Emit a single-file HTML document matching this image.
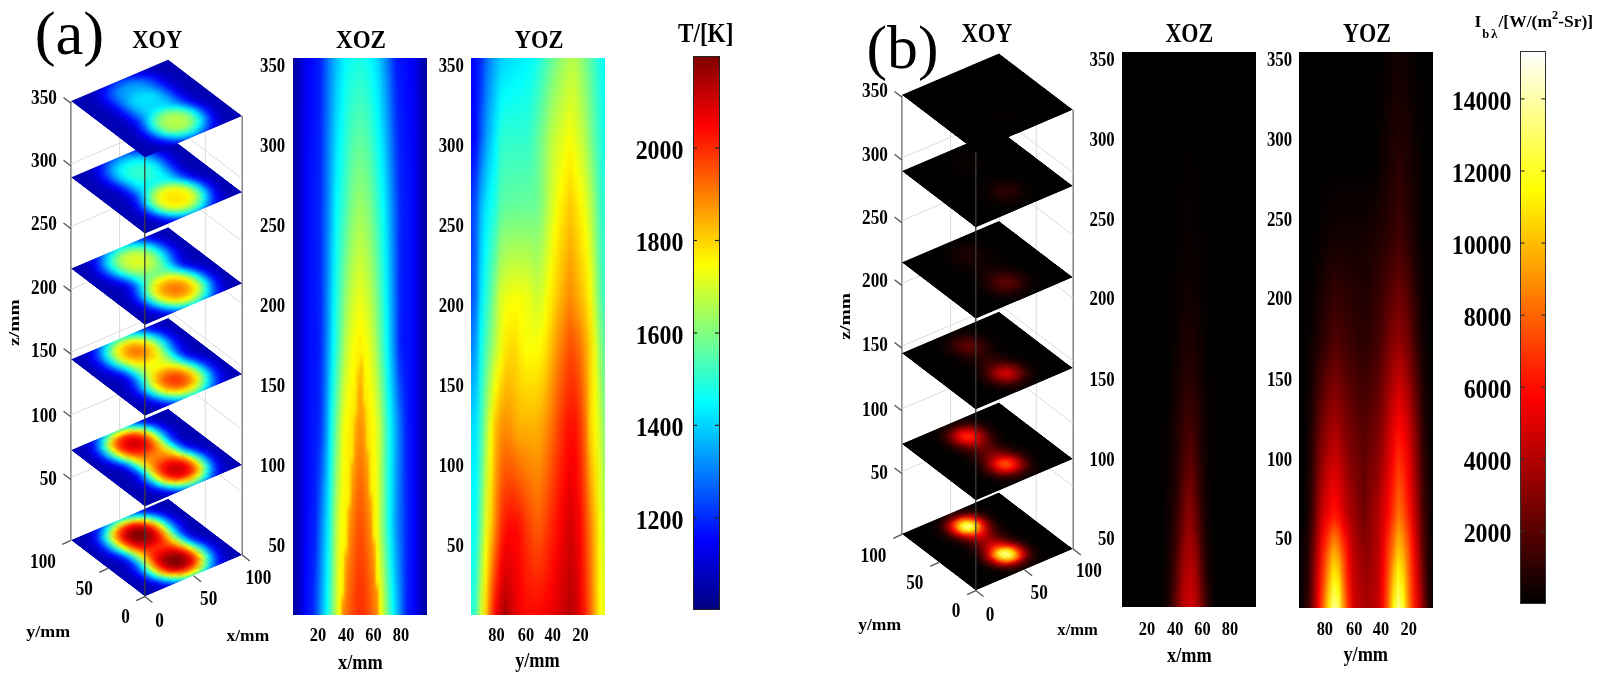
<!DOCTYPE html>
<html><head><meta charset="utf-8"><style>
html,body{margin:0;padding:0;background:#fff;overflow:hidden}
#fig{position:relative;width:1600px;height:682px;overflow:hidden;background:#fff}
.hm{position:absolute;overflow:hidden}
.hm i{position:absolute;left:0;width:100%;display:block}
.sl{left:0;top:0;width:100px;height:100px;transform-origin:0 0}
.cb{position:absolute}
svg{position:absolute;left:0;top:0}
</style></head><body><div id="fig">
<svg width="1600" height="682" style="z-index:0;filter:blur(0.4px)"><line x1="70.90" y1="101.20" x2="70.90" y2="540.30" stroke="#7a7a7a" stroke-width="1.40"/><line x1="242.20" y1="116.00" x2="242.20" y2="555.10" stroke="#7a7a7a" stroke-width="1.40"/><line x1="70.90" y1="477.57" x2="168.30" y2="436.07" stroke="#dcdcdc" stroke-width="1.00"/><line x1="168.30" y1="436.07" x2="242.20" y2="492.37" stroke="#dcdcdc" stroke-width="1.00"/><line x1="70.90" y1="414.84" x2="168.30" y2="373.34" stroke="#dcdcdc" stroke-width="1.00"/><line x1="168.30" y1="373.34" x2="242.20" y2="429.64" stroke="#dcdcdc" stroke-width="1.00"/><line x1="70.90" y1="352.11" x2="168.30" y2="310.61" stroke="#dcdcdc" stroke-width="1.00"/><line x1="168.30" y1="310.61" x2="242.20" y2="366.91" stroke="#dcdcdc" stroke-width="1.00"/><line x1="70.90" y1="289.39" x2="168.30" y2="247.89" stroke="#dcdcdc" stroke-width="1.00"/><line x1="168.30" y1="247.89" x2="242.20" y2="304.19" stroke="#dcdcdc" stroke-width="1.00"/><line x1="70.90" y1="226.66" x2="168.30" y2="185.16" stroke="#dcdcdc" stroke-width="1.00"/><line x1="168.30" y1="185.16" x2="242.20" y2="241.46" stroke="#dcdcdc" stroke-width="1.00"/><line x1="70.90" y1="163.93" x2="168.30" y2="122.43" stroke="#dcdcdc" stroke-width="1.00"/><line x1="168.30" y1="122.43" x2="242.20" y2="178.73" stroke="#dcdcdc" stroke-width="1.00"/><line x1="70.90" y1="101.20" x2="168.30" y2="59.70" stroke="#dcdcdc" stroke-width="1.00"/><line x1="168.30" y1="59.70" x2="242.20" y2="116.00" stroke="#dcdcdc" stroke-width="1.00"/><line x1="119.60" y1="80.45" x2="119.60" y2="519.55" stroke="#dcdcdc" stroke-width="1.00"/><line x1="205.25" y1="87.85" x2="205.25" y2="526.95" stroke="#dcdcdc" stroke-width="1.00"/><line x1="168.30" y1="59.70" x2="168.30" y2="498.80" stroke="#dcdcdc" stroke-width="1.00"/><line x1="901.90" y1="95.20" x2="901.90" y2="534.30" stroke="#7a7a7a" stroke-width="1.40"/><line x1="1073.20" y1="110.00" x2="1073.20" y2="549.10" stroke="#7a7a7a" stroke-width="1.40"/><line x1="901.90" y1="471.57" x2="999.30" y2="430.07" stroke="#dcdcdc" stroke-width="1.00"/><line x1="999.30" y1="430.07" x2="1073.20" y2="486.37" stroke="#dcdcdc" stroke-width="1.00"/><line x1="901.90" y1="408.84" x2="999.30" y2="367.34" stroke="#dcdcdc" stroke-width="1.00"/><line x1="999.30" y1="367.34" x2="1073.20" y2="423.64" stroke="#dcdcdc" stroke-width="1.00"/><line x1="901.90" y1="346.11" x2="999.30" y2="304.61" stroke="#dcdcdc" stroke-width="1.00"/><line x1="999.30" y1="304.61" x2="1073.20" y2="360.91" stroke="#dcdcdc" stroke-width="1.00"/><line x1="901.90" y1="283.39" x2="999.30" y2="241.89" stroke="#dcdcdc" stroke-width="1.00"/><line x1="999.30" y1="241.89" x2="1073.20" y2="298.19" stroke="#dcdcdc" stroke-width="1.00"/><line x1="901.90" y1="220.66" x2="999.30" y2="179.16" stroke="#dcdcdc" stroke-width="1.00"/><line x1="999.30" y1="179.16" x2="1073.20" y2="235.46" stroke="#dcdcdc" stroke-width="1.00"/><line x1="901.90" y1="157.93" x2="999.30" y2="116.43" stroke="#dcdcdc" stroke-width="1.00"/><line x1="999.30" y1="116.43" x2="1073.20" y2="172.73" stroke="#dcdcdc" stroke-width="1.00"/><line x1="901.90" y1="95.20" x2="999.30" y2="53.70" stroke="#dcdcdc" stroke-width="1.00"/><line x1="999.30" y1="53.70" x2="1073.20" y2="110.00" stroke="#dcdcdc" stroke-width="1.00"/><line x1="950.60" y1="74.45" x2="950.60" y2="513.55" stroke="#dcdcdc" stroke-width="1.00"/><line x1="1036.25" y1="81.85" x2="1036.25" y2="520.95" stroke="#dcdcdc" stroke-width="1.00"/><line x1="999.30" y1="53.70" x2="999.30" y2="492.80" stroke="#dcdcdc" stroke-width="1.00"/></svg>
<div class="hm sl" style="transform:matrix(0.9740,-0.4150,-0.7390,-0.5630,144.90,596.60)"><i style="top:0;height:5.26px;background:linear-gradient(90deg,#0000b3 0.0%,#0000b3 4.8%,#0000b4 9.5%,#0000ba 14.3%,#0000cc 19.0%,#0000f3 23.8%,#0033ff 28.6%,#0083ff 33.3%,#00d6ff 38.1%,#1bffe4 42.9%,#44ffbb 47.6%,#4bffb4 52.4%,#30ffcf 57.1%,#00f5ff 61.9%,#00a7ff 66.7%,#0053ff 71.4%,#000bff 76.2%,#0000d9 81.0%,#0000bf 85.7%,#0000b6 90.5%,#0000b3 95.2%,#0000b3 100.0%)"></i><i style="top:0.00px;height:10.02px;background:linear-gradient(90deg,#0000b3 0.0%,#0000b3 4.8%,#0000b7 9.5%,#0000c4 14.3%,#0000e8 19.0%,#002fff 23.8%,#0095ff 28.6%,#0cfff3 33.3%,#7cff83 38.1%,#d2ff2d 42.9%,#fffb00 47.6%,#fff200 52.4%,#ecff13 57.1%,#a4ff5b 61.9%,#3dffc2 66.7%,#00c6ff 71.4%,#0056ff 76.2%,#0002ff 81.0%,#0000d0 85.7%,#0000ba 90.5%,#0000b4 95.2%,#0000b3 100.0%);-webkit-mask-image:linear-gradient(transparent,#000 50%);mask-image:linear-gradient(transparent,#000 50%)"></i><i style="top:4.76px;height:10.02px;background:linear-gradient(90deg,#0000b3 0.0%,#0000b4 4.8%,#0000bb 9.5%,#0000d4 14.3%,#0010ff 19.0%,#0078ff 23.8%,#04fffb 28.6%,#98ff67 33.3%,#ffe400 38.1%,#ff8800 42.9%,#ff5600 47.6%,#ff4d00 52.4%,#ff6e00 57.1%,#ffb800 61.9%,#d2ff2d 66.7%,#43ffbc 71.4%,#00afff 76.2%,#0036ff 81.0%,#0000e7 85.7%,#0000c2 90.5%,#0000b6 95.2%,#0000b3 100.0%);-webkit-mask-image:linear-gradient(transparent,#000 50%);mask-image:linear-gradient(transparent,#000 50%)"></i><i style="top:9.52px;height:10.02px;background:linear-gradient(90deg,#0000b3 0.0%,#0000b5 4.8%,#0000c1 9.5%,#0000e6 14.3%,#003aff 19.0%,#00c1ff 23.8%,#69ff96 28.6%,#ffee00 33.3%,#ff6900 38.1%,#ff1100 42.9%,#e40000 47.6%,#dd0000 52.4%,#f90000 57.1%,#ff3e00 61.9%,#ffb100 66.7%,#b1ff4e 71.4%,#06fff9 76.2%,#006dff 81.0%,#0003ff 85.7%,#0000cc 90.5%,#0000b8 95.2%,#0000b3 100.0%);-webkit-mask-image:linear-gradient(transparent,#000 50%);mask-image:linear-gradient(transparent,#000 50%)"></i><i style="top:14.29px;height:10.02px;background:linear-gradient(90deg,#0000b3 0.0%,#0000b6 4.8%,#0000c6 9.5%,#0000f6 14.3%,#005dff 19.0%,#00faff 23.8%,#b4ff4b 28.6%,#ff9d00 33.3%,#ff1b00 38.1%,#ca0000 42.9%,#a30000 47.6%,#9d0000 52.4%,#b60000 57.1%,#f30000 61.9%,#ff6000 66.7%,#fffd00 71.4%,#47ffb8 76.2%,#0099ff 81.0%,#001bff 85.7%,#0000d5 90.5%,#0000bb 95.2%,#0000b4 100.0%);-webkit-mask-image:linear-gradient(transparent,#000 50%);mask-image:linear-gradient(transparent,#000 50%)"></i><i style="top:19.05px;height:10.02px;background:linear-gradient(90deg,#0000b3 0.0%,#0000b7 4.8%,#0000c9 9.5%,#0001ff 14.3%,#0071ff 19.0%,#1affe5 23.8%,#daff25 28.6%,#ff7500 33.3%,#f60000 38.1%,#ab0000 42.9%,#850000 47.6%,#800000 52.4%,#970000 57.1%,#d10000 61.9%,#ff3900 66.7%,#ffd500 71.4%,#6aff95 76.2%,#00b2ff 81.0%,#0028ff 85.7%,#0000da 90.5%,#0000bc 95.2%,#0000b4 100.0%);-webkit-mask-image:linear-gradient(transparent,#000 50%);mask-image:linear-gradient(transparent,#000 50%)"></i><i style="top:23.81px;height:10.02px;background:linear-gradient(90deg,#0000b3 0.0%,#0000b7 4.8%,#0000c9 9.5%,#0001ff 14.3%,#0070ff 19.0%,#19ffe6 23.8%,#dbff24 28.6%,#ff7300 33.3%,#f50000 38.1%,#ab0000 42.9%,#860000 47.6%,#800000 52.4%,#980000 57.1%,#d10000 61.9%,#ff3900 66.7%,#ffd600 71.4%,#69ff96 76.2%,#00b1ff 81.0%,#0028ff 85.7%,#0000da 90.5%,#0000bc 95.2%,#0000b4 100.0%);-webkit-mask-image:linear-gradient(transparent,#000 50%);mask-image:linear-gradient(transparent,#000 50%)"></i><i style="top:28.57px;height:10.02px;background:linear-gradient(90deg,#0000b3 0.0%,#0000b6 4.8%,#0000c6 9.5%,#0000f5 14.3%,#005cff 19.0%,#00fcff 23.8%,#beff41 28.6%,#ff8b00 33.3%,#ff0b00 38.1%,#c10000 42.9%,#a00000 47.6%,#9b0000 52.4%,#b00000 57.1%,#e80000 61.9%,#ff5400 66.7%,#fff600 71.4%,#48ffb7 76.2%,#0097ff 81.0%,#0019ff 85.7%,#0000d4 90.5%,#0000ba 95.2%,#0000b4 100.0%);-webkit-mask-image:linear-gradient(transparent,#000 50%);mask-image:linear-gradient(transparent,#000 50%)"></i><i style="top:33.33px;height:10.02px;background:linear-gradient(90deg,#0000b3 0.0%,#0000b5 4.8%,#0000c0 9.5%,#0000e5 14.3%,#003bff 19.0%,#00d0ff 23.8%,#92ff6d 28.6%,#ffb400 33.3%,#ff3100 38.1%,#e80000 42.9%,#ca0000 47.6%,#c60000 52.4%,#d90000 57.1%,#ff1300 61.9%,#ff8300 66.7%,#d2ff2d 71.4%,#11ffee 76.2%,#006cff 81.0%,#0001ff 85.7%,#0000cb 90.5%,#0000b8 95.2%,#0000b3 100.0%);-webkit-mask-image:linear-gradient(transparent,#000 50%);mask-image:linear-gradient(transparent,#000 50%)"></i><i style="top:38.10px;height:10.02px;background:linear-gradient(90deg,#0000b3 0.0%,#0000b4 4.8%,#0000bb 9.5%,#0000d5 14.3%,#0021ff 19.0%,#00b3ff 23.8%,#73ff8c 28.6%,#ffd700 33.3%,#ff5a00 38.1%,#ff1800 42.9%,#fd0000 47.6%,#fa0000 52.4%,#ff0c00 57.1%,#ff4400 61.9%,#ffb500 66.7%,#9eff61 71.4%,#00dcff 76.2%,#0040ff 81.0%,#0000e7 85.7%,#0000c1 90.5%,#0000b6 95.2%,#0000b3 100.0%);-webkit-mask-image:linear-gradient(transparent,#000 50%);mask-image:linear-gradient(transparent,#000 50%)"></i><i style="top:42.86px;height:10.02px;background:linear-gradient(90deg,#0000b3 0.0%,#0000b3 4.8%,#0000b8 9.5%,#0000d2 14.3%,#001fff 19.0%,#00b1ff 23.8%,#6fff90 28.6%,#ffe100 33.3%,#ff6e00 38.1%,#ff3600 42.9%,#ff2400 47.6%,#ff2300 52.4%,#ff3100 57.1%,#ff6300 61.9%,#ffd000 66.7%,#85ff7a 71.4%,#00c5ff 76.2%,#002dff 81.0%,#0000d8 85.7%,#0000bb 90.5%,#0000b4 95.2%,#0000b3 100.0%);-webkit-mask-image:linear-gradient(transparent,#000 50%);mask-image:linear-gradient(transparent,#000 50%)"></i><i style="top:47.62px;height:10.02px;background:linear-gradient(90deg,#0000b3 0.0%,#0000b4 4.8%,#0000bb 9.5%,#0000d6 14.3%,#0026ff 19.0%,#00bbff 23.8%,#7aff85 28.6%,#ffd700 33.3%,#ff6300 38.1%,#ff2c00 42.9%,#ff1b00 47.6%,#ff1c00 52.4%,#ff2d00 57.1%,#ff6400 61.9%,#ffd400 66.7%,#7eff81 71.4%,#00bfff 76.2%,#0028ff 81.0%,#0000d6 85.7%,#0000ba 90.5%,#0000b3 95.2%,#0000b3 100.0%);-webkit-mask-image:linear-gradient(transparent,#000 50%);mask-image:linear-gradient(transparent,#000 50%)"></i><i style="top:52.38px;height:10.02px;background:linear-gradient(90deg,#0000b3 0.0%,#0000b6 4.8%,#0000c2 9.5%,#0000e9 14.3%,#0042ff 19.0%,#00daff 23.8%,#9cff63 28.6%,#ffb300 33.3%,#ff3c00 38.1%,#ff0000 42.9%,#ea0000 47.6%,#ec0000 52.4%,#ff0600 57.1%,#ff4600 61.9%,#ffc100 66.7%,#8aff75 71.4%,#00c7ff 76.2%,#0030ff 81.0%,#0000dd 85.7%,#0000be 90.5%,#0000b5 95.2%,#0000b3 100.0%);-webkit-mask-image:linear-gradient(transparent,#000 50%);mask-image:linear-gradient(transparent,#000 50%)"></i><i style="top:57.14px;height:10.02px;background:linear-gradient(90deg,#0000b3 0.0%,#0000b8 4.8%,#0000cb 9.5%,#0003ff 14.3%,#006fff 19.0%,#14ffeb 23.8%,#d4ff2b 28.6%,#ff7f00 33.3%,#ff0b00 38.1%,#ce0000 42.9%,#b70000 47.6%,#ba0000 52.4%,#d60000 57.1%,#ff1b00 61.9%,#ff9900 66.7%,#b1ff4e 71.4%,#00edff 76.2%,#0050ff 81.0%,#0000f0 85.7%,#0000c4 90.5%,#0000b6 95.2%,#0000b3 100.0%);-webkit-mask-image:linear-gradient(transparent,#000 50%);mask-image:linear-gradient(transparent,#000 50%)"></i><i style="top:61.90px;height:10.02px;background:linear-gradient(90deg,#0000b4 0.0%,#0000ba 4.8%,#0000d3 9.5%,#0017ff 14.3%,#0095ff 19.0%,#45ffba 23.8%,#fff900 28.6%,#ff5500 33.3%,#e60000 38.1%,#a90000 42.9%,#910000 47.6%,#940000 52.4%,#b40000 57.1%,#f90000 61.9%,#ff7400 66.7%,#daff25 71.4%,#18ffe7 76.2%,#0070ff 81.0%,#0001ff 85.7%,#0000ca 90.5%,#0000b7 95.2%,#0000b3 100.0%);-webkit-mask-image:linear-gradient(transparent,#000 50%);mask-image:linear-gradient(transparent,#000 50%)"></i><i style="top:66.67px;height:10.02px;background:linear-gradient(90deg,#0000b4 0.0%,#0000bb 4.8%,#0000d7 9.5%,#0021ff 14.3%,#00a6ff 19.0%,#5cffa3 23.8%,#ffe100 28.6%,#ff4100 33.3%,#d50000 38.1%,#980000 42.9%,#800000 47.6%,#810000 52.4%,#a40000 57.1%,#eb0000 61.9%,#ff6400 66.7%,#eeff11 71.4%,#2cffd3 76.2%,#007fff 81.0%,#0009ff 85.7%,#0000cd 90.5%,#0000b8 95.2%,#0000b3 100.0%);-webkit-mask-image:linear-gradient(transparent,#000 50%);mask-image:linear-gradient(transparent,#000 50%)"></i><i style="top:71.43px;height:10.02px;background:linear-gradient(90deg,#0000b4 0.0%,#0000ba 4.8%,#0000d5 9.5%,#001dff 14.3%,#009fff 19.0%,#53ffac 23.8%,#ffed00 28.6%,#ff4c00 33.3%,#df0000 38.1%,#a10000 42.9%,#860000 47.6%,#8a0000 52.4%,#ad0000 57.1%,#f50000 61.9%,#ff7000 66.7%,#e3ff1c 71.4%,#23ffdc 76.2%,#0079ff 81.0%,#0006ff 85.7%,#0000cb 90.5%,#0000b8 95.2%,#0000b3 100.0%);-webkit-mask-image:linear-gradient(transparent,#000 50%);mask-image:linear-gradient(transparent,#000 50%)"></i><i style="top:76.19px;height:10.02px;background:linear-gradient(90deg,#0000b3 0.0%,#0000b9 4.8%,#0000cf 9.5%,#000dff 14.3%,#0081ff 19.0%,#27ffd8 23.8%,#ddff22 28.6%,#ff8000 33.3%,#ff0e00 38.1%,#ca0000 42.9%,#ae0000 47.6%,#b20000 52.4%,#d70000 57.1%,#ff2600 61.9%,#ffa500 66.7%,#afff50 71.4%,#00f9ff 76.2%,#005eff 81.0%,#0000f8 85.7%,#0000c7 90.5%,#0000b7 95.2%,#0000b3 100.0%);-webkit-mask-image:linear-gradient(transparent,#000 50%);mask-image:linear-gradient(transparent,#000 50%)"></i><i style="top:80.95px;height:10.02px;background:linear-gradient(90deg,#0000b3 0.0%,#0000b7 4.8%,#0000c6 9.5%,#0000f4 14.3%,#0052ff 19.0%,#00deff 23.8%,#83ff7c 28.6%,#ffdf00 33.3%,#ff6700 38.1%,#ff1d00 42.9%,#fb0000 47.6%,#ff0100 52.4%,#ff2c00 57.1%,#ff8100 61.9%,#faff05 66.7%,#59ffa6 71.4%,#00b7ff 76.2%,#0036ff 81.0%,#0000e5 85.7%,#0000c0 90.5%,#0000b5 95.2%,#0000b3 100.0%);-webkit-mask-image:linear-gradient(transparent,#000 50%);mask-image:linear-gradient(transparent,#000 50%)"></i><i style="top:85.71px;height:10.02px;background:linear-gradient(90deg,#0000b3 0.0%,#0000b5 4.8%,#0000be 9.5%,#0000db 14.3%,#001eff 19.0%,#0088ff 23.8%,#10ffef 28.6%,#9aff65 33.3%,#fff000 38.1%,#ffa200 42.9%,#ff7d00 47.6%,#ff8200 52.4%,#ffb100 57.1%,#f4ff0b 61.9%,#79ff86 66.7%,#00ecff 71.4%,#006aff 76.2%,#0009ff 81.0%,#0000d1 85.7%,#0000ba 90.5%,#0000b4 95.2%,#0000b3 100.0%);-webkit-mask-image:linear-gradient(transparent,#000 50%);mask-image:linear-gradient(transparent,#000 50%)"></i><i style="top:90.48px;height:10.02px;background:linear-gradient(90deg,#0000b3 0.0%,#0000b3 4.8%,#0000b8 9.5%,#0000c7 14.3%,#0000ee 19.0%,#0035ff 23.8%,#0097ff 28.6%,#04fffb 33.3%,#66ff99 38.1%,#adff52 42.9%,#cfff30 47.6%,#caff35 52.4%,#9eff61 57.1%,#4fffb0 61.9%,#00e7ff 66.7%,#007cff 71.4%,#0021ff 76.2%,#0000e2 81.0%,#0000c2 85.7%,#0000b6 90.5%,#0000b3 95.2%,#0000b3 100.0%);-webkit-mask-image:linear-gradient(transparent,#000 50%);mask-image:linear-gradient(transparent,#000 50%)"></i><i style="top:95.24px;height:10.02px;background:linear-gradient(90deg,#0000b3 0.0%,#0000b3 4.8%,#0000b4 9.5%,#0000bb 14.3%,#0000ce 19.0%,#0000f3 23.8%,#002fff 28.6%,#0076ff 33.3%,#00bcff 38.1%,#00f2ff 42.9%,#0ffff0 47.6%,#0bfff4 52.4%,#00e7ff 57.1%,#00acff 61.9%,#0064ff 66.7%,#001eff 71.4%,#0000e8 76.2%,#0000c7 81.0%,#0000b9 85.7%,#0000b4 90.5%,#0000b3 95.2%,#0000b3 100.0%);-webkit-mask-image:linear-gradient(transparent,#000 50%);mask-image:linear-gradient(transparent,#000 50%)"></i></div><div class="hm sl" style="transform:matrix(0.9740,-0.4150,-0.7390,-0.5630,144.90,506.60)"><i style="top:0;height:5.26px;background:linear-gradient(90deg,#0000b3 0.0%,#0000b3 4.8%,#0000b3 9.5%,#0000b3 14.3%,#0000b8 19.0%,#0000c5 23.8%,#0000e4 28.6%,#0017ff 33.3%,#0057ff 38.1%,#0095ff 42.9%,#00c2ff 47.6%,#00d5ff 52.4%,#00caff 57.1%,#00a3ff 61.9%,#0068ff 66.7%,#0027ff 71.4%,#0000ef 76.2%,#0000cb 81.0%,#0000ba 85.7%,#0000b4 90.5%,#0000b3 95.2%,#0000b3 100.0%)"></i><i style="top:0.00px;height:10.02px;background:linear-gradient(90deg,#0000b3 0.0%,#0000b3 4.8%,#0000b3 9.5%,#0000b6 14.3%,#0000c1 19.0%,#0000e0 23.8%,#001fff 28.6%,#0079ff 33.3%,#00deff 38.1%,#3affc5 42.9%,#78ff87 47.6%,#91ff6e 52.4%,#82ff7d 57.1%,#4dffb2 61.9%,#00f8ff 66.7%,#0093ff 71.4%,#0035ff 76.2%,#0000ed 81.0%,#0000c7 85.7%,#0000b7 90.5%,#0000b3 95.2%,#0000b3 100.0%);-webkit-mask-image:linear-gradient(transparent,#000 50%);mask-image:linear-gradient(transparent,#000 50%)"></i><i style="top:4.76px;height:10.02px;background:linear-gradient(90deg,#0000b3 0.0%,#0000b3 4.8%,#0000b4 9.5%,#0000ba 14.3%,#0000d1 19.0%,#000bff 23.8%,#006eff 28.6%,#00f0ff 33.3%,#74ff8b 38.1%,#e1ff1e 42.9%,#ffd800 47.6%,#ffbd00 52.4%,#ffcd00 57.1%,#f7ff08 61.9%,#94ff6b 66.7%,#14ffeb 71.4%,#008eff 76.2%,#0021ff 81.0%,#0000dc 85.7%,#0000be 90.5%,#0000b4 95.2%,#0000b3 100.0%);-webkit-mask-image:linear-gradient(transparent,#000 50%);mask-image:linear-gradient(transparent,#000 50%)"></i><i style="top:9.52px;height:10.02px;background:linear-gradient(90deg,#0000b3 0.0%,#0000b3 4.8%,#0000b5 9.5%,#0000c0 14.3%,#0000e6 19.0%,#003cff 23.8%,#00c2ff 28.6%,#62ff9d 33.3%,#f8ff07 38.1%,#ff9700 42.9%,#ff5500 47.6%,#ff3e00 52.4%,#ff4c00 57.1%,#ff8200 61.9%,#ffe500 66.7%,#8cff73 71.4%,#00eaff 76.2%,#005bff 81.0%,#0000f7 85.7%,#0000c7 90.5%,#0000b6 95.2%,#0000b3 100.0%);-webkit-mask-image:linear-gradient(transparent,#000 50%);mask-image:linear-gradient(transparent,#000 50%)"></i><i style="top:14.29px;height:10.02px;background:linear-gradient(90deg,#0000b3 0.0%,#0000b3 4.8%,#0000b6 9.5%,#0000c7 14.3%,#0000fb 19.0%,#0068ff 23.8%,#08fff7 28.6%,#baff45 33.3%,#ffaa00 38.1%,#ff4100 42.9%,#ff0800 47.6%,#f30000 52.4%,#ff0000 57.1%,#ff2e00 61.9%,#ff8a00 66.7%,#e6ff19 71.4%,#37ffc8 76.2%,#008dff 81.0%,#0012ff 85.7%,#0000d0 90.5%,#0000b9 95.2%,#0000b3 100.0%);-webkit-mask-image:linear-gradient(transparent,#000 50%);mask-image:linear-gradient(transparent,#000 50%)"></i><i style="top:19.05px;height:10.02px;background:linear-gradient(90deg,#0000b3 0.0%,#0000b3 4.8%,#0000b7 9.5%,#0000cc 14.3%,#0009ff 19.0%,#0084ff 23.8%,#32ffcd 28.6%,#ebff14 33.3%,#ff7a00 38.1%,#ff1700 42.9%,#e30000 47.6%,#d10000 52.4%,#db0000 57.1%,#ff0600 61.9%,#ff5b00 66.7%,#ffe600 71.4%,#63ff9c 76.2%,#00adff 81.0%,#0023ff 85.7%,#0000d6 90.5%,#0000ba 95.2%,#0000b4 100.0%);-webkit-mask-image:linear-gradient(transparent,#000 50%);mask-image:linear-gradient(transparent,#000 50%)"></i><i style="top:23.81px;height:10.02px;background:linear-gradient(90deg,#0000b3 0.0%,#0000b3 4.8%,#0000b7 9.5%,#0000cc 14.3%,#000cff 19.0%,#0088ff 23.8%,#39ffc6 28.6%,#f5ff0a 33.3%,#ff7100 38.1%,#ff1000 42.9%,#de0000 47.6%,#cd0000 52.4%,#d70000 57.1%,#ff0100 61.9%,#ff5500 66.7%,#ffe000 71.4%,#69ff96 76.2%,#00b2ff 81.0%,#0026ff 85.7%,#0000d7 90.5%,#0000ba 95.2%,#0000b4 100.0%);-webkit-mask-image:linear-gradient(transparent,#000 50%);mask-image:linear-gradient(transparent,#000 50%)"></i><i style="top:28.57px;height:10.02px;background:linear-gradient(90deg,#0000b3 0.0%,#0000b3 4.8%,#0000b7 9.5%,#0000c9 14.3%,#0002ff 19.0%,#0075ff 23.8%,#22ffdd 28.6%,#e1ff1e 33.3%,#ff8100 38.1%,#ff2000 42.9%,#f00000 47.6%,#e10000 52.4%,#ea0000 57.1%,#ff1600 61.9%,#ff7000 66.7%,#feff01 71.4%,#4affb5 76.2%,#009bff 81.0%,#0019ff 85.7%,#0000d3 90.5%,#0000b9 95.2%,#0000b3 100.0%);-webkit-mask-image:linear-gradient(transparent,#000 50%);mask-image:linear-gradient(transparent,#000 50%)"></i><i style="top:33.33px;height:10.02px;background:linear-gradient(90deg,#0000b3 0.0%,#0000b3 4.8%,#0000b5 9.5%,#0000c3 14.3%,#0000ef 19.0%,#0056ff 23.8%,#00feff 28.6%,#beff41 33.3%,#ffa400 38.1%,#ff4500 42.9%,#ff1800 47.6%,#ff0a00 52.4%,#ff1400 57.1%,#ff4200 61.9%,#ffa500 66.7%,#bfff40 71.4%,#0cfff3 76.2%,#006eff 81.0%,#0001ff 85.7%,#0000ca 90.5%,#0000b7 95.2%,#0000b3 100.0%);-webkit-mask-image:linear-gradient(transparent,#000 50%);mask-image:linear-gradient(transparent,#000 50%)"></i><i style="top:38.10px;height:10.02px;background:linear-gradient(90deg,#0000b3 0.0%,#0000b3 4.8%,#0000b4 9.5%,#0000bd 14.3%,#0000e5 19.0%,#004cff 23.8%,#00f4ff 28.6%,#abff54 33.3%,#ffc600 38.1%,#ff7400 42.9%,#ff4f00 47.6%,#ff4300 52.4%,#ff4e00 57.1%,#ff7f00 61.9%,#ffeb00 66.7%,#6fff90 71.4%,#00beff 76.2%,#0036ff 81.0%,#0000e5 85.7%,#0000c0 90.5%,#0000b5 95.2%,#0000b3 100.0%);-webkit-mask-image:linear-gradient(transparent,#000 50%);mask-image:linear-gradient(transparent,#000 50%)"></i><i style="top:42.86px;height:10.02px;background:linear-gradient(90deg,#0000b3 0.0%,#0000b3 4.8%,#0000b4 9.5%,#0000bf 14.3%,#0000ec 19.0%,#005bff 23.8%,#06fff9 28.6%,#b4ff4b 33.3%,#ffce00 38.1%,#ff9000 42.9%,#ff7b00 47.6%,#ff7600 52.4%,#ff8100 57.1%,#ffb200 61.9%,#dcff23 66.7%,#34ffcb 71.4%,#0082ff 76.2%,#0007ff 81.0%,#0000cd 85.7%,#0000b9 90.5%,#0000b4 95.2%,#0000b3 100.0%);-webkit-mask-image:linear-gradient(transparent,#000 50%);mask-image:linear-gradient(transparent,#000 50%)"></i><i style="top:47.62px;height:10.02px;background:linear-gradient(90deg,#0000b3 0.0%,#0000b3 4.8%,#0000b6 9.5%,#0000c3 14.3%,#0000f6 19.0%,#006eff 23.8%,#1dffe2 28.6%,#c7ff38 33.3%,#ffc400 38.1%,#ff9100 42.9%,#ff8500 47.6%,#ff8600 52.4%,#ff9300 57.1%,#ffc800 61.9%,#c2ff3d 66.7%,#16ffe9 71.4%,#0069ff 76.2%,#0000f3 81.0%,#0000c1 85.7%,#0000b5 90.5%,#0000b3 95.2%,#0000b3 100.0%);-webkit-mask-image:linear-gradient(transparent,#000 50%);mask-image:linear-gradient(transparent,#000 50%)"></i><i style="top:52.38px;height:10.02px;background:linear-gradient(90deg,#0000b3 0.0%,#0000b4 4.8%,#0000bb 9.5%,#0000d2 14.3%,#0010ff 19.0%,#008dff 23.8%,#3fffc0 28.6%,#e6ff19 33.3%,#ffa900 38.1%,#ff7800 42.9%,#ff6d00 47.6%,#ff7400 52.4%,#ff8c00 57.1%,#ffce00 61.9%,#b0ff4f 66.7%,#00ffff 71.4%,#0057ff 76.2%,#0000ea 81.0%,#0000be 85.7%,#0000b4 90.5%,#0000b3 95.2%,#0000b3 100.0%);-webkit-mask-image:linear-gradient(transparent,#000 50%);mask-image:linear-gradient(transparent,#000 50%)"></i><i style="top:57.14px;height:10.02px;background:linear-gradient(90deg,#0000b3 0.0%,#0000b6 4.8%,#0000c3 9.5%,#0000eb 14.3%,#0043ff 19.0%,#00cfff 23.8%,#80ff7f 28.6%,#ffdc00 33.3%,#ff7300 38.1%,#ff4200 42.9%,#ff3800 47.6%,#ff4400 52.4%,#ff6b00 57.1%,#ffc100 61.9%,#acff53 66.7%,#00f2ff 71.4%,#004bff 76.2%,#0000e5 81.0%,#0000be 85.7%,#0000b4 90.5%,#0000b3 95.2%,#0000b3 100.0%);-webkit-mask-image:linear-gradient(transparent,#000 50%);mask-image:linear-gradient(transparent,#000 50%)"></i><i style="top:61.90px;height:10.02px;background:linear-gradient(90deg,#0000b3 0.0%,#0000b8 4.8%,#0000cc 9.5%,#0007ff 14.3%,#0079ff 19.0%,#1bffe4 23.8%,#cdff32 28.6%,#ff9a00 33.3%,#ff3a00 38.1%,#ff0e00 42.9%,#ff0400 47.6%,#ff1200 52.4%,#ff3f00 57.1%,#ff9f00 61.9%,#c3ff3c 66.7%,#05fffa 71.4%,#005cff 76.2%,#0000f3 81.0%,#0000c4 85.7%,#0000b6 90.5%,#0000b3 95.2%,#0000b3 100.0%);-webkit-mask-image:linear-gradient(transparent,#000 50%);mask-image:linear-gradient(transparent,#000 50%)"></i><i style="top:66.67px;height:10.02px;background:linear-gradient(90deg,#0000b3 0.0%,#0000ba 4.8%,#0000d4 9.5%,#001cff 14.3%,#00a0ff 19.0%,#50ffaf 23.8%,#fffb00 28.6%,#ff6d00 33.3%,#ff1500 38.1%,#ea0000 42.9%,#e00000 47.6%,#f00000 52.4%,#ff2100 57.1%,#ff8100 61.9%,#e3ff1c 66.7%,#27ffd8 71.4%,#007aff 76.2%,#0004ff 81.0%,#0000ca 85.7%,#0000b7 90.5%,#0000b3 95.2%,#0000b3 100.0%);-webkit-mask-image:linear-gradient(transparent,#000 50%);mask-image:linear-gradient(transparent,#000 50%)"></i><i style="top:71.43px;height:10.02px;background:linear-gradient(90deg,#0000b4 0.0%,#0000ba 4.8%,#0000d7 9.5%,#0025ff 14.3%,#00b0ff 19.0%,#66ff99 23.8%,#ffe400 28.6%,#ff5a00 33.3%,#ff0600 38.1%,#dc0000 42.9%,#d30000 47.6%,#e40000 52.4%,#ff1700 57.1%,#ff7700 61.9%,#efff10 66.7%,#35ffca 71.4%,#0086ff 76.2%,#000bff 81.0%,#0000cc 85.7%,#0000b7 90.5%,#0000b3 95.2%,#0000b3 100.0%);-webkit-mask-image:linear-gradient(transparent,#000 50%);mask-image:linear-gradient(transparent,#000 50%)"></i><i style="top:76.19px;height:10.02px;background:linear-gradient(90deg,#0000b3 0.0%,#0000ba 4.8%,#0000d5 9.5%,#001eff 14.3%,#00a4ff 19.0%,#56ffa9 23.8%,#fff600 28.6%,#ff6a00 33.3%,#ff1400 38.1%,#e90000 42.9%,#de0000 47.6%,#f00000 52.4%,#ff2600 57.1%,#ff8900 61.9%,#dcff23 66.7%,#26ffd9 71.4%,#007cff 76.2%,#0006ff 81.0%,#0000ca 85.7%,#0000b7 90.5%,#0000b3 95.2%,#0000b3 100.0%);-webkit-mask-image:linear-gradient(transparent,#000 50%);mask-image:linear-gradient(transparent,#000 50%)"></i><i style="top:80.95px;height:10.02px;background:linear-gradient(90deg,#0000b3 0.0%,#0000b8 4.8%,#0000cd 9.5%,#000bff 14.3%,#007fff 19.0%,#21ffde 23.8%,#cbff34 28.6%,#ffa400 33.3%,#ff4600 38.1%,#ff1600 42.9%,#ff0a00 47.6%,#ff1f00 52.4%,#ff5a00 57.1%,#ffc500 61.9%,#a0ff5f 66.7%,#00f3ff 71.4%,#005bff 76.2%,#0000f5 81.0%,#0000c5 85.7%,#0000b6 90.5%,#0000b3 95.2%,#0000b3 100.0%);-webkit-mask-image:linear-gradient(transparent,#000 50%);mask-image:linear-gradient(transparent,#000 50%)"></i><i style="top:85.71px;height:10.02px;background:linear-gradient(90deg,#0000b3 0.0%,#0000b6 4.8%,#0000c4 9.5%,#0000ef 14.3%,#0049ff 19.0%,#00cfff 23.8%,#69ff96 28.6%,#f3ff0c 33.3%,#ffa700 38.1%,#ff6f00 42.9%,#ff6100 47.6%,#ff7a00 52.4%,#ffbd00 57.1%,#d2ff2d 61.9%,#41ffbe 66.7%,#00a9ff 71.4%,#002dff 76.2%,#0000e0 81.0%,#0000be 85.7%,#0000b4 90.5%,#0000b3 95.2%,#0000b3 100.0%);-webkit-mask-image:linear-gradient(transparent,#000 50%);mask-image:linear-gradient(transparent,#000 50%)"></i><i style="top:90.48px;height:10.02px;background:linear-gradient(90deg,#0000b3 0.0%,#0000b4 4.8%,#0000bc 9.5%,#0000d5 14.3%,#0011ff 19.0%,#0073ff 23.8%,#00edff 28.6%,#66ff99 33.3%,#c6ff39 38.1%,#fffe00 42.9%,#ffef00 47.6%,#f5ff0a 52.4%,#b0ff4f 57.1%,#49ffb6 61.9%,#00ccff 66.7%,#0056ff 71.4%,#0000fd 76.2%,#0000cc 81.0%,#0000b8 85.7%,#0000b3 90.5%,#0000b3 95.2%,#0000b3 100.0%);-webkit-mask-image:linear-gradient(transparent,#000 50%);mask-image:linear-gradient(transparent,#000 50%)"></i><i style="top:95.24px;height:10.02px;background:linear-gradient(90deg,#0000b3 0.0%,#0000b3 4.8%,#0000b6 9.5%,#0000c2 14.3%,#0000e2 19.0%,#001eff 23.8%,#0071ff 28.6%,#00cbff 33.3%,#1affe5 38.1%,#4cffb3 42.9%,#5affa5 47.6%,#42ffbd 52.4%,#08fff7 57.1%,#00b4ff 61.9%,#005aff 66.7%,#000cff 71.4%,#0000d7 76.2%,#0000be 81.0%,#0000b5 85.7%,#0000b3 90.5%,#0000b3 95.2%,#0000b3 100.0%);-webkit-mask-image:linear-gradient(transparent,#000 50%);mask-image:linear-gradient(transparent,#000 50%)"></i></div><div class="hm sl" style="transform:matrix(0.9740,-0.4150,-0.7390,-0.5630,144.90,415.80)"><i style="top:0;height:5.26px;background:linear-gradient(90deg,#0000b3 0.0%,#0000b3 4.8%,#0000b6 9.5%,#0000bf 14.3%,#0000d3 19.0%,#0000fa 23.8%,#0033ff 28.6%,#0076ff 33.3%,#00b8ff 38.1%,#00edff 42.9%,#0dfff2 47.6%,#13ffec 52.4%,#00fdff 57.1%,#00d0ff 61.9%,#0092ff 66.7%,#004eff 71.4%,#0010ff 76.2%,#0000e1 81.0%,#0000c5 85.7%,#0000b8 90.5%,#0000b4 95.2%,#0000b3 100.0%)"></i><i style="top:0.00px;height:10.02px;background:linear-gradient(90deg,#0000b3 0.0%,#0000b4 4.8%,#0000ba 9.5%,#0000cb 14.3%,#0000f0 19.0%,#0030ff 23.8%,#0084ff 28.6%,#00e1ff 33.3%,#37ffc8 38.1%,#78ff87 42.9%,#9dff62 47.6%,#a3ff5c 52.4%,#8bff74 57.1%,#56ffa9 61.9%,#08fff7 66.7%,#00abff 71.4%,#0051ff 76.2%,#0008ff 81.0%,#0000d7 85.7%,#0000bf 90.5%,#0000b6 95.2%,#0000b3 100.0%);-webkit-mask-image:linear-gradient(transparent,#000 50%);mask-image:linear-gradient(transparent,#000 50%)"></i><i style="top:4.76px;height:10.02px;background:linear-gradient(90deg,#0000b3 0.0%,#0000b6 4.8%,#0000c0 9.5%,#0000db 14.3%,#0015ff 19.0%,#006dff 23.8%,#00dbff 28.6%,#4dffb2 33.3%,#adff52 38.1%,#f2ff0d 42.9%,#ffe700 47.6%,#ffe100 52.4%,#fff900 57.1%,#ceff31 61.9%,#78ff87 66.7%,#0cfff3 71.4%,#0099ff 76.2%,#0036ff 81.0%,#0000ef 85.7%,#0000c9 90.5%,#0000b9 95.2%,#0000b4 100.0%);-webkit-mask-image:linear-gradient(transparent,#000 50%);mask-image:linear-gradient(transparent,#000 50%)"></i><i style="top:9.52px;height:10.02px;background:linear-gradient(90deg,#0000b3 0.0%,#0000b8 4.8%,#0000c7 9.5%,#0000ee 14.3%,#0039ff 19.0%,#00a7ff 23.8%,#29ffd6 28.6%,#a5ff5a 33.3%,#fff500 38.1%,#ffb300 42.9%,#ff9000 47.6%,#ff8a00 52.4%,#ffa000 57.1%,#ffd500 61.9%,#d3ff2c 66.7%,#5fffa0 71.4%,#00ddff 76.2%,#0064ff 81.0%,#0009ff 85.7%,#0000d3 90.5%,#0000bc 95.2%,#0000b5 100.0%);-webkit-mask-image:linear-gradient(transparent,#000 50%);mask-image:linear-gradient(transparent,#000 50%)"></i><i style="top:14.29px;height:10.02px;background:linear-gradient(90deg,#0000b4 0.0%,#0000ba 4.8%,#0000cd 9.5%,#0000fd 14.3%,#0057ff 19.0%,#00d4ff 23.8%,#62ff9d 28.6%,#e2ff1d 33.3%,#ffba00 38.1%,#ff7b00 42.9%,#ff5a00 47.6%,#ff5400 52.4%,#ff6a00 57.1%,#ff9c00 61.9%,#ffee00 66.7%,#9aff65 71.4%,#10ffef 76.2%,#0088ff 81.0%,#001eff 85.7%,#0000dd 90.5%,#0000bf 95.2%,#0000b5 100.0%);-webkit-mask-image:linear-gradient(transparent,#000 50%);mask-image:linear-gradient(transparent,#000 50%)"></i><i style="top:19.05px;height:10.02px;background:linear-gradient(90deg,#0000b4 0.0%,#0000bb 4.8%,#0000d1 9.5%,#0007ff 14.3%,#0067ff 19.0%,#00ecff 23.8%,#7eff81 28.6%,#fffe00 33.3%,#ff9e00 38.1%,#ff6100 42.9%,#ff4000 47.6%,#ff3b00 52.4%,#ff5000 57.1%,#ff8000 61.9%,#ffd100 66.7%,#b8ff47 71.4%,#2affd5 76.2%,#009bff 81.0%,#002aff 85.7%,#0000e2 90.5%,#0000c1 95.2%,#0000b6 100.0%);-webkit-mask-image:linear-gradient(transparent,#000 50%);mask-image:linear-gradient(transparent,#000 50%)"></i><i style="top:23.81px;height:10.02px;background:linear-gradient(90deg,#0000b4 0.0%,#0000bb 4.8%,#0000d1 9.5%,#0007ff 14.3%,#0066ff 19.0%,#00ebff 23.8%,#7dff82 28.6%,#ffff00 33.3%,#ff9e00 38.1%,#ff6100 42.9%,#ff4100 47.6%,#ff3c00 52.4%,#ff5000 57.1%,#ff8100 61.9%,#ffd200 66.7%,#b7ff48 71.4%,#29ffd6 76.2%,#009bff 81.0%,#0029ff 85.7%,#0000e2 90.5%,#0000c1 95.2%,#0000b6 100.0%);-webkit-mask-image:linear-gradient(transparent,#000 50%);mask-image:linear-gradient(transparent,#000 50%)"></i><i style="top:28.57px;height:10.02px;background:linear-gradient(90deg,#0000b4 0.0%,#0000b9 4.8%,#0000cd 9.5%,#0000fc 14.3%,#0055ff 19.0%,#00d2ff 23.8%,#61ff9e 28.6%,#e5ff1a 33.3%,#ffb600 38.1%,#ff7800 42.9%,#ff5a00 47.6%,#ff5500 52.4%,#ff6800 57.1%,#ff9800 61.9%,#ffec00 66.7%,#9aff65 71.4%,#0efff1 76.2%,#0086ff 81.0%,#001dff 85.7%,#0000dc 90.5%,#0000bf 95.2%,#0000b5 100.0%);-webkit-mask-image:linear-gradient(transparent,#000 50%);mask-image:linear-gradient(transparent,#000 50%)"></i><i style="top:33.33px;height:10.02px;background:linear-gradient(90deg,#0000b3 0.0%,#0000b8 4.8%,#0000c6 9.5%,#0000ec 14.3%,#0037ff 19.0%,#00a6ff 23.8%,#2fffd0 28.6%,#b4ff4b 33.3%,#ffe300 38.1%,#ffa300 42.9%,#ff8600 47.6%,#ff8100 52.4%,#ff9400 57.1%,#ffc500 61.9%,#e1ff1e 66.7%,#65ff9a 71.4%,#00dbff 76.2%,#0061ff 81.0%,#0007ff 85.7%,#0000d3 90.5%,#0000bc 95.2%,#0000b4 100.0%);-webkit-mask-image:linear-gradient(transparent,#000 50%);mask-image:linear-gradient(transparent,#000 50%)"></i><i style="top:38.10px;height:10.02px;background:linear-gradient(90deg,#0000b3 0.0%,#0000b6 4.8%,#0000bf 9.5%,#0000da 14.3%,#0014ff 19.0%,#0074ff 23.8%,#00f6ff 28.6%,#7bff84 33.3%,#e2ff1d 38.1%,#ffde00 42.9%,#ffc200 47.6%,#ffbe00 52.4%,#ffcf00 57.1%,#fdff02 61.9%,#a3ff5c 66.7%,#27ffd8 71.4%,#00a1ff 76.2%,#0034ff 81.0%,#0000ed 85.7%,#0000c8 90.5%,#0000b8 95.2%,#0000b4 100.0%);-webkit-mask-image:linear-gradient(transparent,#000 50%);mask-image:linear-gradient(transparent,#000 50%)"></i><i style="top:42.86px;height:10.02px;background:linear-gradient(90deg,#0000b3 0.0%,#0000b4 4.8%,#0000ba 9.5%,#0000cb 14.3%,#0000fb 19.0%,#0059ff 23.8%,#00d9ff 28.6%,#5affa5 33.3%,#baff45 38.1%,#eeff11 42.9%,#fffb00 47.6%,#fff900 52.4%,#f8ff07 57.1%,#cdff32 61.9%,#78ff87 66.7%,#00fdff 71.4%,#0079ff 76.2%,#0012ff 81.0%,#0000d7 85.7%,#0000bf 90.5%,#0000b6 95.2%,#0000b3 100.0%);-webkit-mask-image:linear-gradient(transparent,#000 50%);mask-image:linear-gradient(transparent,#000 50%)"></i><i style="top:47.62px;height:10.02px;background:linear-gradient(90deg,#0000b3 0.0%,#0000b4 4.8%,#0000b8 9.5%,#0000c9 14.3%,#0000f9 19.0%,#0058ff 23.8%,#00d8ff 28.6%,#56ffa9 33.3%,#b1ff4e 38.1%,#dfff20 42.9%,#eeff11 47.6%,#eeff11 52.4%,#e4ff1b 57.1%,#bdff42 61.9%,#6cff93 66.7%,#00f2ff 71.4%,#0070ff 76.2%,#0009ff 81.0%,#0000cf 85.7%,#0000b9 90.5%,#0000b4 95.2%,#0000b3 100.0%);-webkit-mask-image:linear-gradient(transparent,#000 50%);mask-image:linear-gradient(transparent,#000 50%)"></i><i style="top:52.38px;height:10.02px;background:linear-gradient(90deg,#0000b3 0.0%,#0000b5 4.8%,#0000bd 9.5%,#0000d2 14.3%,#0005ff 19.0%,#0062ff 23.8%,#00e2ff 28.6%,#61ff9e 33.3%,#bdff42 38.1%,#eeff11 42.9%,#ffff00 47.6%,#ffff00 52.4%,#f1ff0e 57.1%,#c6ff39 61.9%,#71ff8e 66.7%,#00f5ff 71.4%,#0072ff 76.2%,#000dff 81.0%,#0000d4 85.7%,#0000bd 90.5%,#0000b5 95.2%,#0000b3 100.0%);-webkit-mask-image:linear-gradient(transparent,#000 50%);mask-image:linear-gradient(transparent,#000 50%)"></i><i style="top:57.14px;height:10.02px;background:linear-gradient(90deg,#0000b3 0.0%,#0000b7 4.8%,#0000c4 9.5%,#0000e4 14.3%,#0023ff 19.0%,#0085ff 23.8%,#04fffb 28.6%,#82ff7d 33.3%,#dfff20 38.1%,#ffeb00 42.9%,#ffd700 47.6%,#ffd700 52.4%,#ffe900 57.1%,#e4ff1b 61.9%,#8aff75 66.7%,#0efff1 71.4%,#008bff 76.2%,#0024ff 81.0%,#0000e4 85.7%,#0000c4 90.5%,#0000b7 95.2%,#0000b3 100.0%);-webkit-mask-image:linear-gradient(transparent,#000 50%);mask-image:linear-gradient(transparent,#000 50%)"></i><i style="top:61.90px;height:10.02px;background:linear-gradient(90deg,#0000b4 0.0%,#0000b9 4.8%,#0000cb 9.5%,#0000f6 14.3%,#0045ff 19.0%,#00b2ff 23.8%,#33ffcc 28.6%,#acff53 33.3%,#fff800 38.1%,#ffc300 42.9%,#ffad00 47.6%,#ffad00 52.4%,#ffc200 57.1%,#fff500 61.9%,#b0ff4f 66.7%,#36ffc9 71.4%,#00b4ff 76.2%,#0045ff 81.0%,#0000f6 85.7%,#0000cb 90.5%,#0000b9 95.2%,#0000b4 100.0%);-webkit-mask-image:linear-gradient(transparent,#000 50%);mask-image:linear-gradient(transparent,#000 50%)"></i><i style="top:66.67px;height:10.02px;background:linear-gradient(90deg,#0000b4 0.0%,#0000bb 4.8%,#0000d2 9.5%,#0006ff 14.3%,#005eff 19.0%,#00d5ff 23.8%,#57ffa8 28.6%,#cdff32 33.3%,#ffda00 38.1%,#ffa500 42.9%,#ff8d00 47.6%,#ff8d00 52.4%,#ffa500 57.1%,#ffd900 61.9%,#ceff31 66.7%,#59ffa6 71.4%,#00d5ff 76.2%,#005eff 81.0%,#0006ff 85.7%,#0000d2 90.5%,#0000bb 95.2%,#0000b4 100.0%);-webkit-mask-image:linear-gradient(transparent,#000 50%);mask-image:linear-gradient(transparent,#000 50%)"></i><i style="top:71.43px;height:10.02px;background:linear-gradient(90deg,#0000b5 0.0%,#0000bc 4.8%,#0000d4 9.5%,#000cff 14.3%,#0069ff 19.0%,#00e3ff 23.8%,#67ff98 28.6%,#dbff24 33.3%,#ffce00 38.1%,#ff9800 42.9%,#ff7d00 47.6%,#ff7d00 52.4%,#ff9800 57.1%,#ffce00 61.9%,#dbff24 66.7%,#67ff98 71.4%,#00e3ff 76.2%,#0069ff 81.0%,#000cff 85.7%,#0000d4 90.5%,#0000bc 95.2%,#0000b5 100.0%);-webkit-mask-image:linear-gradient(transparent,#000 50%);mask-image:linear-gradient(transparent,#000 50%)"></i><i style="top:76.19px;height:10.02px;background:linear-gradient(90deg,#0000b4 0.0%,#0000bc 4.8%,#0000d3 9.5%,#0009ff 14.3%,#0063ff 19.0%,#00dcff 23.8%,#5effa1 28.6%,#d1ff2e 33.3%,#ffd700 38.1%,#ffa100 42.9%,#ff8600 47.6%,#ff8600 52.4%,#ffa100 57.1%,#ffd700 61.9%,#d1ff2e 66.7%,#5effa1 71.4%,#00dcff 76.2%,#0063ff 81.0%,#0009ff 85.7%,#0000d3 90.5%,#0000bc 95.2%,#0000b4 100.0%);-webkit-mask-image:linear-gradient(transparent,#000 50%);mask-image:linear-gradient(transparent,#000 50%)"></i><i style="top:80.95px;height:10.02px;background:linear-gradient(90deg,#0000b4 0.0%,#0000ba 4.8%,#0000ce 9.5%,#0000fc 14.3%,#004eff 19.0%,#00beff 23.8%,#39ffc6 28.6%,#abff54 33.3%,#fffc00 38.1%,#ffc500 42.9%,#ffaa00 47.6%,#ffaa00 52.4%,#ffc500 57.1%,#fffc00 61.9%,#abff54 66.7%,#39ffc6 71.4%,#00beff 76.2%,#004eff 81.0%,#0000fc 85.7%,#0000ce 90.5%,#0000ba 95.2%,#0000b4 100.0%);-webkit-mask-image:linear-gradient(transparent,#000 50%);mask-image:linear-gradient(transparent,#000 50%)"></i><i style="top:85.71px;height:10.02px;background:linear-gradient(90deg,#0000b4 0.0%,#0000b8 4.8%,#0000c6 9.5%,#0000ea 14.3%,#002eff 19.0%,#008dff 23.8%,#00fcff 28.6%,#68ff97 33.3%,#beff41 38.1%,#f8ff07 42.9%,#ffe900 47.6%,#ffe900 52.4%,#f8ff07 57.1%,#beff41 61.9%,#68ff97 66.7%,#00fcff 71.4%,#008dff 76.2%,#002eff 81.0%,#0000ea 85.7%,#0000c6 90.5%,#0000b8 95.2%,#0000b4 100.0%);-webkit-mask-image:linear-gradient(transparent,#000 50%);mask-image:linear-gradient(transparent,#000 50%)"></i><i style="top:90.48px;height:10.02px;background:linear-gradient(90deg,#0000b3 0.0%,#0000b6 4.8%,#0000bf 9.5%,#0000d8 14.3%,#0009ff 19.0%,#0054ff 23.8%,#00afff 28.6%,#0efff1 33.3%,#5effa1 38.1%,#97ff68 42.9%,#b4ff4b 47.6%,#b4ff4b 52.4%,#97ff68 57.1%,#5effa1 61.9%,#0efff1 66.7%,#00afff 71.4%,#0054ff 76.2%,#0009ff 81.0%,#0000d8 85.7%,#0000bf 90.5%,#0000b6 95.2%,#0000b3 100.0%);-webkit-mask-image:linear-gradient(transparent,#000 50%);mask-image:linear-gradient(transparent,#000 50%)"></i><i style="top:95.24px;height:10.02px;background:linear-gradient(90deg,#0000b3 0.0%,#0000b4 4.8%,#0000b9 9.5%,#0000c7 14.3%,#0000e6 19.0%,#001aff 23.8%,#005eff 28.6%,#00a8ff 33.3%,#00ecff 38.1%,#1fffe0 42.9%,#3affc5 47.6%,#3affc5 52.4%,#1fffe0 57.1%,#00ecff 61.9%,#00a8ff 66.7%,#005eff 71.4%,#001aff 76.2%,#0000e6 81.0%,#0000c7 85.7%,#0000b9 90.5%,#0000b4 95.2%,#0000b3 100.0%);-webkit-mask-image:linear-gradient(transparent,#000 50%);mask-image:linear-gradient(transparent,#000 50%)"></i></div><div class="hm sl" style="transform:matrix(0.9740,-0.4150,-0.7390,-0.5630,144.90,325.00)"><i style="top:0;height:5.26px;background:linear-gradient(90deg,#0000b3 0.0%,#0000b3 4.8%,#0000b4 9.5%,#0000ba 14.3%,#0000cb 19.0%,#0000ee 23.8%,#0025ff 28.6%,#0068ff 33.3%,#00aaff 38.1%,#00dfff 42.9%,#00ffff 47.6%,#05fffa 52.4%,#00f0ff 57.1%,#00c3ff 61.9%,#0085ff 66.7%,#0041ff 71.4%,#0004ff 76.2%,#0000d8 81.0%,#0000c0 85.7%,#0000b6 90.5%,#0000b3 95.2%,#0000b3 100.0%)"></i><i style="top:0.00px;height:10.02px;background:linear-gradient(90deg,#0000b3 0.0%,#0000b3 4.8%,#0000b7 9.5%,#0000c4 14.3%,#0000e5 19.0%,#0022ff 23.8%,#0076ff 28.6%,#00d4ff 33.3%,#29ffd6 38.1%,#68ff97 42.9%,#8bff74 47.6%,#91ff6e 52.4%,#7aff85 57.1%,#47ffb8 61.9%,#00f9ff 66.7%,#009eff 71.4%,#0043ff 76.2%,#0000fb 81.0%,#0000cf 85.7%,#0000bb 90.5%,#0000b4 95.2%,#0000b3 100.0%);-webkit-mask-image:linear-gradient(transparent,#000 50%);mask-image:linear-gradient(transparent,#000 50%)"></i><i style="top:4.76px;height:10.02px;background:linear-gradient(90deg,#0000b3 0.0%,#0000b4 4.8%,#0000bb 9.5%,#0000d3 14.3%,#0008ff 19.0%,#005fff 23.8%,#00ceff 28.6%,#3effc1 33.3%,#9aff65 38.1%,#d9ff26 42.9%,#f9ff06 47.6%,#ffff00 52.4%,#eaff15 57.1%,#b8ff47 61.9%,#68ff97 66.7%,#00feff 71.4%,#008cff 76.2%,#0029ff 81.0%,#0000e4 85.7%,#0000c2 90.5%,#0000b6 95.2%,#0000b3 100.0%);-webkit-mask-image:linear-gradient(transparent,#000 50%);mask-image:linear-gradient(transparent,#000 50%)"></i><i style="top:9.52px;height:10.02px;background:linear-gradient(90deg,#0000b3 0.0%,#0000b5 4.8%,#0000c1 9.5%,#0000e3 14.3%,#002cff 19.0%,#009aff 23.8%,#1cffe3 28.6%,#93ff6c 33.3%,#edff12 38.1%,#ffd800 42.9%,#ffbc00 47.6%,#ffb700 52.4%,#ffc900 57.1%,#fff500 61.9%,#bdff42 66.7%,#50ffaf 71.4%,#00cfff 76.2%,#0056ff 81.0%,#0000fc 85.7%,#0000cb 90.5%,#0000b9 95.2%,#0000b3 100.0%);-webkit-mask-image:linear-gradient(transparent,#000 50%);mask-image:linear-gradient(transparent,#000 50%)"></i><i style="top:14.29px;height:10.02px;background:linear-gradient(90deg,#0000b3 0.0%,#0000b7 4.8%,#0000c6 9.5%,#0000f2 14.3%,#0049ff 19.0%,#00c7ff 23.8%,#52ffad 28.6%,#cbff34 33.3%,#ffde00 38.1%,#ffab00 42.9%,#ff9200 47.6%,#ff8d00 52.4%,#ff9e00 57.1%,#ffc500 61.9%,#f3ff0c 66.7%,#89ff76 71.4%,#02fffd 76.2%,#007aff 81.0%,#0011ff 85.7%,#0000d4 90.5%,#0000bb 95.2%,#0000b4 100.0%);-webkit-mask-image:linear-gradient(transparent,#000 50%);mask-image:linear-gradient(transparent,#000 50%)"></i><i style="top:19.05px;height:10.02px;background:linear-gradient(90deg,#0000b3 0.0%,#0000b7 4.8%,#0000c9 9.5%,#0000fa 14.3%,#0059ff 19.0%,#00deff 23.8%,#6eff91 28.6%,#e5ff1a 33.3%,#ffc700 38.1%,#ff9700 42.9%,#ff7e00 47.6%,#ff7a00 52.4%,#ff8a00 57.1%,#ffaf00 61.9%,#fff200 66.7%,#a4ff5b 71.4%,#1cffe3 76.2%,#008eff 81.0%,#001dff 85.7%,#0000d9 90.5%,#0000bc 95.2%,#0000b4 100.0%);-webkit-mask-image:linear-gradient(transparent,#000 50%);mask-image:linear-gradient(transparent,#000 50%)"></i><i style="top:23.81px;height:10.02px;background:linear-gradient(90deg,#0000b3 0.0%,#0000b7 4.8%,#0000c9 9.5%,#0000fa 14.3%,#0059ff 19.0%,#00ddff 23.8%,#6dff92 28.6%,#e4ff1b 33.3%,#ffc800 38.1%,#ff9700 42.9%,#ff7f00 47.6%,#ff7b00 52.4%,#ff8b00 57.1%,#ffb000 61.9%,#fff300 66.7%,#a3ff5c 71.4%,#1bffe4 76.2%,#008dff 81.0%,#001cff 85.7%,#0000d9 90.5%,#0000bc 95.2%,#0000b4 100.0%);-webkit-mask-image:linear-gradient(transparent,#000 50%);mask-image:linear-gradient(transparent,#000 50%)"></i><i style="top:28.57px;height:10.02px;background:linear-gradient(90deg,#0000b3 0.0%,#0000b7 4.8%,#0000c6 9.5%,#0000f1 14.3%,#0047ff 19.0%,#00c4ff 23.8%,#50ffaf 28.6%,#c9ff36 33.3%,#ffdf00 38.1%,#ffac00 42.9%,#ff9300 47.6%,#ff8f00 52.4%,#ff9f00 57.1%,#ffc600 61.9%,#f2ff0d 66.7%,#86ff79 71.4%,#00feff 76.2%,#0078ff 81.0%,#0010ff 85.7%,#0000d3 90.5%,#0000bb 95.2%,#0000b4 100.0%);-webkit-mask-image:linear-gradient(transparent,#000 50%);mask-image:linear-gradient(transparent,#000 50%)"></i><i style="top:33.33px;height:10.02px;background:linear-gradient(90deg,#0000b3 0.0%,#0000b5 4.8%,#0000c0 9.5%,#0000e2 14.3%,#0029ff 19.0%,#0096ff 23.8%,#18ffe7 28.6%,#93ff6c 33.3%,#f0ff0f 38.1%,#ffd600 42.9%,#ffbb00 47.6%,#ffb700 52.4%,#ffc800 57.1%,#fff300 61.9%,#bdff42 66.7%,#4dffb2 71.4%,#00cbff 76.2%,#0053ff 81.0%,#0000fa 85.7%,#0000cb 90.5%,#0000b8 95.2%,#0000b3 100.0%);-webkit-mask-image:linear-gradient(transparent,#000 50%);mask-image:linear-gradient(transparent,#000 50%)"></i><i style="top:38.10px;height:10.02px;background:linear-gradient(90deg,#0000b3 0.0%,#0000b4 4.8%,#0000bb 9.5%,#0000d1 14.3%,#0005ff 19.0%,#005bff 23.8%,#00ceff 28.6%,#47ffb8 33.3%,#a7ff58 38.1%,#e4ff1b 42.9%,#fffd00 47.6%,#fff800 52.4%,#f3ff0c 57.1%,#c3ff3c 61.9%,#70ff8f 66.7%,#00ffff 71.4%,#0088ff 76.2%,#0025ff 81.0%,#0000e2 85.7%,#0000c2 90.5%,#0000b6 95.2%,#0000b3 100.0%);-webkit-mask-image:linear-gradient(transparent,#000 50%);mask-image:linear-gradient(transparent,#000 50%)"></i><i style="top:42.86px;height:10.02px;background:linear-gradient(90deg,#0000b3 0.0%,#0000b3 4.8%,#0000b7 9.5%,#0000c3 14.3%,#0000e4 19.0%,#0029ff 23.8%,#0093ff 28.6%,#07fff8 33.3%,#5fffa0 38.1%,#94ff6b 42.9%,#adff52 47.6%,#b1ff4e 52.4%,#a0ff5f 57.1%,#75ff8a 61.9%,#26ffd9 66.7%,#00b7ff 71.4%,#0049ff 76.2%,#0000f9 81.0%,#0000cd 85.7%,#0000ba 90.5%,#0000b4 95.2%,#0000b3 100.0%);-webkit-mask-image:linear-gradient(transparent,#000 50%);mask-image:linear-gradient(transparent,#000 50%)"></i><i style="top:47.62px;height:10.02px;background:linear-gradient(90deg,#0000b3 0.0%,#0000b3 4.8%,#0000b5 9.5%,#0000bd 14.3%,#0000d8 19.0%,#001dff 23.8%,#0087ff 28.6%,#00f5ff 33.3%,#44ffbb 38.1%,#6cff93 42.9%,#79ff86 47.6%,#7bff84 52.4%,#71ff8e 57.1%,#50ffaf 61.9%,#09fff6 66.7%,#009fff 71.4%,#0031ff 76.2%,#0000e2 81.0%,#0000c0 85.7%,#0000b6 90.5%,#0000b3 95.2%,#0000b3 100.0%);-webkit-mask-image:linear-gradient(transparent,#000 50%);mask-image:linear-gradient(transparent,#000 50%)"></i><i style="top:52.38px;height:10.02px;background:linear-gradient(90deg,#0000b3 0.0%,#0000b4 4.8%,#0000b8 9.5%,#0000c7 14.3%,#0000e9 19.0%,#002cff 23.8%,#0093ff 28.6%,#01fffe 33.3%,#4fffb0 38.1%,#77ff88 42.9%,#85ff7a 47.6%,#85ff7a 52.4%,#7aff85 57.1%,#56ffa9 61.9%,#0efff1 66.7%,#00a3ff 71.4%,#0036ff 76.2%,#0000ea 81.0%,#0000c7 85.7%,#0000b8 90.5%,#0000b4 95.2%,#0000b3 100.0%);-webkit-mask-image:linear-gradient(transparent,#000 50%);mask-image:linear-gradient(transparent,#000 50%)"></i><i style="top:57.14px;height:10.02px;background:linear-gradient(90deg,#0000b3 0.0%,#0000b5 4.8%,#0000bd 9.5%,#0000d5 14.3%,#0007ff 19.0%,#0054ff 23.8%,#00b9ff 28.6%,#22ffdd 33.3%,#6fff90 38.1%,#98ff67 42.9%,#a7ff58 47.6%,#a7ff58 52.4%,#99ff66 57.1%,#73ff8c 61.9%,#28ffd7 66.7%,#00bfff 71.4%,#0056ff 76.2%,#0007ff 81.0%,#0000d5 85.7%,#0000bd 90.5%,#0000b5 95.2%,#0000b3 100.0%);-webkit-mask-image:linear-gradient(transparent,#000 50%);mask-image:linear-gradient(transparent,#000 50%)"></i><i style="top:61.90px;height:10.02px;background:linear-gradient(90deg,#0000b3 0.0%,#0000b6 4.8%,#0000c2 9.5%,#0000e3 14.3%,#0024ff 19.0%,#007fff 23.8%,#00e7ff 28.6%,#49ffb6 33.3%,#90ff6f 38.1%,#b6ff49 42.9%,#c4ff3b 47.6%,#c4ff3b 52.4%,#b6ff49 57.1%,#92ff6d 61.9%,#4cffb3 66.7%,#00e8ff 71.4%,#007fff 76.2%,#0024ff 81.0%,#0000e3 85.7%,#0000c2 90.5%,#0000b6 95.2%,#0000b3 100.0%);-webkit-mask-image:linear-gradient(transparent,#000 50%);mask-image:linear-gradient(transparent,#000 50%)"></i><i style="top:66.67px;height:10.02px;background:linear-gradient(90deg,#0000b3 0.0%,#0000b7 4.8%,#0000c7 9.5%,#0000ef 14.3%,#0039ff 19.0%,#009dff 23.8%,#08fff7 28.6%,#65ff9a 33.3%,#a5ff5a 38.1%,#c8ff37 42.9%,#d5ff2a 47.6%,#d5ff2a 52.4%,#c8ff37 57.1%,#a6ff59 61.9%,#66ff99 66.7%,#09fff6 71.4%,#009dff 76.2%,#0039ff 81.0%,#0000ef 85.7%,#0000c7 90.5%,#0000b7 95.2%,#0000b3 100.0%);-webkit-mask-image:linear-gradient(transparent,#000 50%);mask-image:linear-gradient(transparent,#000 50%)"></i><i style="top:71.43px;height:10.02px;background:linear-gradient(90deg,#0000b3 0.0%,#0000b8 4.8%,#0000c9 9.5%,#0000f4 14.3%,#0043ff 19.0%,#00aaff 23.8%,#16ffe9 28.6%,#70ff8f 33.3%,#aeff51 38.1%,#cfff30 42.9%,#dcff23 47.6%,#dcff23 52.4%,#cfff30 57.1%,#aeff51 61.9%,#70ff8f 66.7%,#16ffe9 71.4%,#00aaff 76.2%,#0043ff 81.0%,#0000f4 85.7%,#0000c9 90.5%,#0000b8 95.2%,#0000b3 100.0%);-webkit-mask-image:linear-gradient(transparent,#000 50%);mask-image:linear-gradient(transparent,#000 50%)"></i><i style="top:76.19px;height:10.02px;background:linear-gradient(90deg,#0000b3 0.0%,#0000b8 4.8%,#0000c8 9.5%,#0000f1 14.3%,#003eff 19.0%,#00a4ff 23.8%,#0efff1 28.6%,#69ff96 33.3%,#a8ff57 38.1%,#caff35 42.9%,#d8ff27 47.6%,#d8ff27 52.4%,#caff35 57.1%,#a8ff57 61.9%,#69ff96 66.7%,#0efff1 71.4%,#00a4ff 76.2%,#003eff 81.0%,#0000f1 85.7%,#0000c8 90.5%,#0000b8 95.2%,#0000b3 100.0%);-webkit-mask-image:linear-gradient(transparent,#000 50%);mask-image:linear-gradient(transparent,#000 50%)"></i><i style="top:80.95px;height:10.02px;background:linear-gradient(90deg,#0000b3 0.0%,#0000b7 4.8%,#0000c4 9.5%,#0000e8 14.3%,#002cff 19.0%,#008aff 23.8%,#00f0ff 28.6%,#4bffb4 33.3%,#8dff72 38.1%,#b4ff4b 42.9%,#c5ff3a 47.6%,#c5ff3a 52.4%,#b4ff4b 57.1%,#8dff72 61.9%,#4bffb4 66.7%,#00f0ff 71.4%,#008aff 76.2%,#002cff 81.0%,#0000e8 85.7%,#0000c4 90.5%,#0000b7 95.2%,#0000b3 100.0%);-webkit-mask-image:linear-gradient(transparent,#000 50%);mask-image:linear-gradient(transparent,#000 50%)"></i><i style="top:85.71px;height:10.02px;background:linear-gradient(90deg,#0000b3 0.0%,#0000b5 4.8%,#0000bf 9.5%,#0000da 14.3%,#0011ff 19.0%,#0062ff 23.8%,#00beff 28.6%,#16ffe9 33.3%,#5affa5 38.1%,#86ff79 42.9%,#9bff64 47.6%,#9bff64 52.4%,#86ff79 57.1%,#5affa5 61.9%,#16ffe9 66.7%,#00beff 71.4%,#0062ff 76.2%,#0011ff 81.0%,#0000da 85.7%,#0000bf 90.5%,#0000b5 95.2%,#0000b3 100.0%);-webkit-mask-image:linear-gradient(transparent,#000 50%);mask-image:linear-gradient(transparent,#000 50%)"></i><i style="top:90.48px;height:10.02px;background:linear-gradient(90deg,#0000b3 0.0%,#0000b4 4.8%,#0000ba 9.5%,#0000cb 14.3%,#0000f1 19.0%,#0031ff 23.8%,#007eff 28.6%,#00ccff 33.3%,#0ffff0 38.1%,#3cffc3 42.9%,#52ffad 47.6%,#52ffad 52.4%,#3cffc3 57.1%,#0ffff0 61.9%,#00ccff 66.7%,#007eff 71.4%,#0031ff 76.2%,#0000f1 81.0%,#0000cb 85.7%,#0000ba 90.5%,#0000b4 95.2%,#0000b3 100.0%);-webkit-mask-image:linear-gradient(transparent,#000 50%);mask-image:linear-gradient(transparent,#000 50%)"></i><i style="top:95.24px;height:10.02px;background:linear-gradient(90deg,#0000b3 0.0%,#0000b3 4.8%,#0000b6 9.5%,#0000bf 14.3%,#0000d6 19.0%,#0001ff 23.8%,#003aff 28.6%,#0078ff 33.3%,#00b1ff 38.1%,#00daff 42.9%,#00f0ff 47.6%,#00f0ff 52.4%,#00daff 57.1%,#00b1ff 61.9%,#0078ff 66.7%,#003aff 71.4%,#0001ff 76.2%,#0000d6 81.0%,#0000bf 85.7%,#0000b6 90.5%,#0000b3 95.2%,#0000b3 100.0%);-webkit-mask-image:linear-gradient(transparent,#000 50%);mask-image:linear-gradient(transparent,#000 50%)"></i></div><div class="hm sl" style="transform:matrix(0.9740,-0.4150,-0.7390,-0.5630,144.90,233.70)"><i style="top:0;height:5.26px;background:linear-gradient(90deg,#0000b3 0.0%,#0000b3 4.8%,#0000b3 9.5%,#0000b5 14.3%,#0000be 19.0%,#0000d4 23.8%,#0000fb 28.6%,#0031ff 33.3%,#006aff 38.1%,#009aff 42.9%,#00b7ff 47.6%,#00bcff 52.4%,#00a9ff 57.1%,#0080ff 61.9%,#0049ff 66.7%,#0011ff 71.4%,#0000e2 76.2%,#0000c5 81.0%,#0000b8 85.7%,#0000b4 90.5%,#0000b3 95.2%,#0000b3 100.0%)"></i><i style="top:0.00px;height:10.02px;background:linear-gradient(90deg,#0000b3 0.0%,#0000b3 4.8%,#0000b4 9.5%,#0000ba 14.3%,#0000ce 19.0%,#0000f8 23.8%,#003dff 28.6%,#008fff 33.3%,#00dfff 38.1%,#1cffe3 42.9%,#3fffc0 47.6%,#45ffba 52.4%,#2effd1 57.1%,#00fbff 61.9%,#00b2ff 66.7%,#005fff 71.4%,#0013ff 76.2%,#0000dc 81.0%,#0000c0 85.7%,#0000b6 90.5%,#0000b3 95.2%,#0000b3 100.0%);-webkit-mask-image:linear-gradient(transparent,#000 50%);mask-image:linear-gradient(transparent,#000 50%)"></i><i style="top:4.76px;height:10.02px;background:linear-gradient(90deg,#0000b3 0.0%,#0000b3 4.8%,#0000b6 9.5%,#0000c2 14.3%,#0000e5 19.0%,#002aff 23.8%,#008aff 28.6%,#00f3ff 33.3%,#4effb1 38.1%,#8dff72 42.9%,#adff52 47.6%,#b3ff4c 52.4%,#9eff61 57.1%,#6cff93 61.9%,#1dffe2 66.7%,#00b6ff 71.4%,#004fff 76.2%,#0000fd 81.0%,#0000cd 85.7%,#0000b9 90.5%,#0000b4 95.2%,#0000b3 100.0%);-webkit-mask-image:linear-gradient(transparent,#000 50%);mask-image:linear-gradient(transparent,#000 50%)"></i><i style="top:9.52px;height:10.02px;background:linear-gradient(90deg,#0000b3 0.0%,#0000b3 4.8%,#0000b9 9.5%,#0000cd 14.3%,#0001ff 19.0%,#005bff 23.8%,#00d1ff 28.6%,#47ffb8 33.3%,#a1ff5e 38.1%,#d8ff27 42.9%,#f1ff0e 47.6%,#f5ff0a 52.4%,#e6ff19 57.1%,#bcff43 61.9%,#71ff8e 66.7%,#05fffa 71.4%,#008bff 76.2%,#0022ff 81.0%,#0000dd 85.7%,#0000be 90.5%,#0000b5 95.2%,#0000b3 100.0%);-webkit-mask-image:linear-gradient(transparent,#000 50%);mask-image:linear-gradient(transparent,#000 50%)"></i><i style="top:14.29px;height:10.02px;background:linear-gradient(90deg,#0000b3 0.0%,#0000b4 4.8%,#0000bb 9.5%,#0000d6 14.3%,#0018ff 19.0%,#0083ff 23.8%,#07fff8 28.6%,#7fff80 33.3%,#d2ff2d 38.1%,#feff01 42.9%,#ffef00 47.6%,#ffed00 52.4%,#fff600 57.1%,#e9ff16 61.9%,#a7ff58 66.7%,#3dffc2 71.4%,#00baff 76.2%,#0040ff 81.0%,#0000ec 85.7%,#0000c3 90.5%,#0000b6 95.2%,#0000b3 100.0%);-webkit-mask-image:linear-gradient(transparent,#000 50%);mask-image:linear-gradient(transparent,#000 50%)"></i><i style="top:19.05px;height:10.02px;background:linear-gradient(90deg,#0000b3 0.0%,#0000b4 4.8%,#0000bd 9.5%,#0000dc 14.3%,#0025ff 19.0%,#0099ff 23.8%,#22ffdd 28.6%,#99ff66 33.3%,#e7ff18 38.1%,#fff200 42.9%,#ffe800 47.6%,#ffe700 52.4%,#ffec00 57.1%,#fbff04 61.9%,#c0ff3f 66.7%,#58ffa7 71.4%,#00d2ff 76.2%,#0051ff 81.0%,#0000f4 85.7%,#0000c6 90.5%,#0000b6 95.2%,#0000b3 100.0%);-webkit-mask-image:linear-gradient(transparent,#000 50%);mask-image:linear-gradient(transparent,#000 50%)"></i><i style="top:23.81px;height:10.02px;background:linear-gradient(90deg,#0000b3 0.0%,#0000b4 4.8%,#0000bd 9.5%,#0000dc 14.3%,#0024ff 19.0%,#0098ff 23.8%,#21ffde 28.6%,#98ff67 33.3%,#e7ff18 38.1%,#fff300 42.9%,#ffe800 47.6%,#ffe700 52.4%,#ffec00 57.1%,#faff05 61.9%,#bfff40 66.7%,#57ffa8 71.4%,#00d1ff 76.2%,#0050ff 81.0%,#0000f4 85.7%,#0000c6 90.5%,#0000b6 95.2%,#0000b3 100.0%);-webkit-mask-image:linear-gradient(transparent,#000 50%);mask-image:linear-gradient(transparent,#000 50%)"></i><i style="top:28.57px;height:10.02px;background:linear-gradient(90deg,#0000b3 0.0%,#0000b4 4.8%,#0000bb 9.5%,#0000d5 14.3%,#0016ff 19.0%,#0081ff 23.8%,#05fffa 28.6%,#7dff82 33.3%,#d1ff2e 38.1%,#fdff02 42.9%,#fff000 47.6%,#ffee00 52.4%,#fff700 57.1%,#e8ff17 61.9%,#a5ff5a 66.7%,#3affc5 71.4%,#00b7ff 76.2%,#003eff 81.0%,#0000eb 85.7%,#0000c3 90.5%,#0000b6 95.2%,#0000b3 100.0%);-webkit-mask-image:linear-gradient(transparent,#000 50%);mask-image:linear-gradient(transparent,#000 50%)"></i><i style="top:33.33px;height:10.02px;background:linear-gradient(90deg,#0000b3 0.0%,#0000b3 4.8%,#0000b8 9.5%,#0000cc 14.3%,#0000fe 19.0%,#0059ff 23.8%,#00cfff 28.6%,#45ffba 33.3%,#a0ff5f 38.1%,#d7ff28 42.9%,#efff10 47.6%,#f3ff0c 52.4%,#e4ff1b 57.1%,#bbff44 61.9%,#6fff90 66.7%,#02fffd 71.4%,#0088ff 76.2%,#001fff 81.0%,#0000dc 85.7%,#0000be 90.5%,#0000b5 95.2%,#0000b3 100.0%);-webkit-mask-image:linear-gradient(transparent,#000 50%);mask-image:linear-gradient(transparent,#000 50%)"></i><i style="top:38.10px;height:10.02px;background:linear-gradient(90deg,#0000b3 0.0%,#0000b3 4.8%,#0000b6 9.5%,#0000c2 14.3%,#0000e5 19.0%,#002cff 23.8%,#0090ff 28.6%,#00faff 33.3%,#54ffab 38.1%,#8fff70 42.9%,#adff52 47.6%,#b2ff4d 52.4%,#9fff60 57.1%,#6fff90 61.9%,#21ffde 66.7%,#00baff 71.4%,#0050ff 76.2%,#0000fc 81.0%,#0000cc 85.7%,#0000b9 90.5%,#0000b4 95.2%,#0000b3 100.0%);-webkit-mask-image:linear-gradient(transparent,#000 50%);mask-image:linear-gradient(transparent,#000 50%)"></i><i style="top:42.86px;height:10.02px;background:linear-gradient(90deg,#0000b3 0.0%,#0000b3 4.8%,#0000b4 9.5%,#0000bd 14.3%,#0000d9 19.0%,#0017ff 23.8%,#006dff 28.6%,#00c4ff 33.3%,#0afff5 38.1%,#38ffc7 42.9%,#51ffae 47.6%,#55ffaa 52.4%,#44ffbb 57.1%,#1dffe2 61.9%,#00dcff 66.7%,#0086ff 71.4%,#002dff 76.2%,#0000e6 81.0%,#0000c2 85.7%,#0000b6 90.5%,#0000b3 95.2%,#0000b3 100.0%);-webkit-mask-image:linear-gradient(transparent,#000 50%);mask-image:linear-gradient(transparent,#000 50%)"></i><i style="top:47.62px;height:10.02px;background:linear-gradient(90deg,#0000b3 0.0%,#0000b3 4.8%,#0000b4 9.5%,#0000bd 14.3%,#0000da 19.0%,#0017ff 23.8%,#006bff 28.6%,#00bbff 33.3%,#00f1ff 38.1%,#0efff1 42.9%,#17ffe8 47.6%,#18ffe7 52.4%,#11ffee 57.1%,#00faff 61.9%,#00c9ff 66.7%,#007cff 71.4%,#0027ff 76.2%,#0000e3 81.0%,#0000c0 85.7%,#0000b5 90.5%,#0000b3 95.2%,#0000b3 100.0%);-webkit-mask-image:linear-gradient(transparent,#000 50%);mask-image:linear-gradient(transparent,#000 50%)"></i><i style="top:52.38px;height:10.02px;background:linear-gradient(90deg,#0000b3 0.0%,#0000b3 4.8%,#0000b4 9.5%,#0000bd 14.3%,#0000db 19.0%,#0019ff 23.8%,#006dff 28.6%,#00bdff 33.3%,#00f3ff 38.1%,#0dfff2 42.9%,#14ffeb 47.6%,#14ffeb 52.4%,#0ffff0 57.1%,#00f8ff 61.9%,#00c7ff 66.7%,#007bff 71.4%,#0026ff 76.2%,#0000e2 81.0%,#0000c0 85.7%,#0000b5 90.5%,#0000b3 95.2%,#0000b3 100.0%);-webkit-mask-image:linear-gradient(transparent,#000 50%);mask-image:linear-gradient(transparent,#000 50%)"></i><i style="top:57.14px;height:10.02px;background:linear-gradient(90deg,#0000b3 0.0%,#0000b3 4.8%,#0000b6 9.5%,#0000c0 14.3%,#0000df 19.0%,#001eff 23.8%,#0073ff 28.6%,#00c4ff 33.3%,#00fbff 38.1%,#17ffe8 42.9%,#1fffe0 47.6%,#1fffe0 52.4%,#18ffe7 57.1%,#00ffff 61.9%,#00cbff 66.7%,#007dff 71.4%,#0027ff 76.2%,#0000e3 81.0%,#0000c1 85.7%,#0000b6 90.5%,#0000b3 95.2%,#0000b3 100.0%);-webkit-mask-image:linear-gradient(transparent,#000 50%);mask-image:linear-gradient(transparent,#000 50%)"></i><i style="top:61.90px;height:10.02px;background:linear-gradient(90deg,#0000b3 0.0%,#0000b3 4.8%,#0000b8 9.5%,#0000c7 14.3%,#0000eb 19.0%,#002cff 23.8%,#0081ff 28.6%,#00d1ff 33.3%,#08fff7 38.1%,#22ffdd 42.9%,#29ffd6 47.6%,#29ffd6 52.4%,#23ffdc 57.1%,#0afff5 61.9%,#00d5ff 66.7%,#0086ff 71.4%,#0030ff 76.2%,#0000ec 81.0%,#0000c7 85.7%,#0000b8 90.5%,#0000b3 95.2%,#0000b3 100.0%);-webkit-mask-image:linear-gradient(transparent,#000 50%);mask-image:linear-gradient(transparent,#000 50%)"></i><i style="top:66.67px;height:10.02px;background:linear-gradient(90deg,#0000b3 0.0%,#0000b4 4.8%,#0000b9 9.5%,#0000cc 14.3%,#0000f7 19.0%,#003cff 23.8%,#008fff 28.6%,#00ddff 33.3%,#11ffee 38.1%,#28ffd7 42.9%,#2effd1 47.6%,#2effd1 52.4%,#29ffd6 57.1%,#12ffed 61.9%,#00dfff 66.7%,#0092ff 71.4%,#003dff 76.2%,#0000f7 81.0%,#0000cc 85.7%,#0000b9 90.5%,#0000b4 95.2%,#0000b3 100.0%);-webkit-mask-image:linear-gradient(transparent,#000 50%);mask-image:linear-gradient(transparent,#000 50%)"></i><i style="top:71.43px;height:10.02px;background:linear-gradient(90deg,#0000b3 0.0%,#0000b4 4.8%,#0000ba 9.5%,#0000cf 14.3%,#0000fc 19.0%,#0041ff 23.8%,#0091ff 28.6%,#00daff 33.3%,#0dfff2 38.1%,#25ffda 42.9%,#2dffd2 47.6%,#2dffd2 52.4%,#26ffd9 57.1%,#0efff1 61.9%,#00dcff 66.7%,#0093ff 71.4%,#0042ff 76.2%,#0000fc 81.0%,#0000cf 85.7%,#0000ba 90.5%,#0000b4 95.2%,#0000b3 100.0%);-webkit-mask-image:linear-gradient(transparent,#000 50%);mask-image:linear-gradient(transparent,#000 50%)"></i><i style="top:76.19px;height:10.02px;background:linear-gradient(90deg,#0000b3 0.0%,#0000b4 4.8%,#0000ba 9.5%,#0000ce 14.3%,#0000f9 19.0%,#003bff 23.8%,#0086ff 28.6%,#00caff 33.3%,#00fbff 38.1%,#17ffe8 42.9%,#21ffde 47.6%,#22ffdd 52.4%,#18ffe7 57.1%,#00fcff 61.9%,#00cbff 66.7%,#0087ff 71.4%,#003cff 76.2%,#0000f9 81.0%,#0000ce 85.7%,#0000ba 90.5%,#0000b4 95.2%,#0000b3 100.0%);-webkit-mask-image:linear-gradient(transparent,#000 50%);mask-image:linear-gradient(transparent,#000 50%)"></i><i style="top:80.95px;height:10.02px;background:linear-gradient(90deg,#0000b3 0.0%,#0000b4 4.8%,#0000b8 9.5%,#0000c9 14.3%,#0000ee 19.0%,#002aff 23.8%,#006fff 28.6%,#00afff 33.3%,#00deff 38.1%,#00faff 42.9%,#08fff7 47.6%,#08fff7 52.4%,#00fbff 57.1%,#00deff 61.9%,#00afff 66.7%,#0070ff 71.4%,#002aff 76.2%,#0000ee 81.0%,#0000c9 85.7%,#0000b8 90.5%,#0000b4 95.2%,#0000b3 100.0%);-webkit-mask-image:linear-gradient(transparent,#000 50%);mask-image:linear-gradient(transparent,#000 50%)"></i><i style="top:85.71px;height:10.02px;background:linear-gradient(90deg,#0000b3 0.0%,#0000b3 4.8%,#0000b6 9.5%,#0000c2 14.3%,#0000de 19.0%,#0010ff 23.8%,#004dff 28.6%,#0089ff 33.3%,#00b7ff 38.1%,#00d4ff 42.9%,#00e2ff 47.6%,#00e2ff 52.4%,#00d5ff 57.1%,#00b7ff 61.9%,#0089ff 66.7%,#004dff 71.4%,#0010ff 76.2%,#0000de 81.0%,#0000c2 85.7%,#0000b6 90.5%,#0000b3 95.2%,#0000b3 100.0%);-webkit-mask-image:linear-gradient(transparent,#000 50%);mask-image:linear-gradient(transparent,#000 50%)"></i><i style="top:90.48px;height:10.02px;background:linear-gradient(90deg,#0000b3 0.0%,#0000b3 4.8%,#0000b4 9.5%,#0000bb 14.3%,#0000ce 19.0%,#0000f1 23.8%,#0022ff 28.6%,#0056ff 33.3%,#0083ff 38.1%,#00a2ff 42.9%,#00b1ff 47.6%,#00b1ff 52.4%,#00a2ff 57.1%,#0083ff 61.9%,#0056ff 66.7%,#0022ff 71.4%,#0000f1 76.2%,#0000ce 81.0%,#0000bb 85.7%,#0000b4 90.5%,#0000b3 95.2%,#0000b3 100.0%);-webkit-mask-image:linear-gradient(transparent,#000 50%);mask-image:linear-gradient(transparent,#000 50%)"></i><i style="top:95.24px;height:10.02px;background:linear-gradient(90deg,#0000b3 0.0%,#0000b3 4.8%,#0000b3 9.5%,#0000b7 14.3%,#0000c0 19.0%,#0000d5 23.8%,#0000f6 28.6%,#001eff 33.3%,#0044ff 38.1%,#0060ff 42.9%,#006fff 47.6%,#006fff 52.4%,#0060ff 57.1%,#0044ff 61.9%,#001eff 66.7%,#0000f6 71.4%,#0000d5 76.2%,#0000c0 81.0%,#0000b7 85.7%,#0000b3 90.5%,#0000b3 95.2%,#0000b3 100.0%);-webkit-mask-image:linear-gradient(transparent,#000 50%);mask-image:linear-gradient(transparent,#000 50%)"></i></div><div class="hm sl" style="transform:matrix(0.9740,-0.4150,-0.7390,-0.5630,144.90,157.50)"><i style="top:0;height:5.26px;background:linear-gradient(90deg,#0000b3 0.0%,#0000b3 4.8%,#0000b3 9.5%,#0000b4 14.3%,#0000b9 19.0%,#0000c6 23.8%,#0000df 28.6%,#0005ff 33.3%,#002fff 38.1%,#0054ff 42.9%,#006bff 47.6%,#006fff 52.4%,#005fff 57.1%,#003fff 61.9%,#0016ff 66.7%,#0000ed 71.4%,#0000cf 76.2%,#0000bd 81.0%,#0000b5 85.7%,#0000b3 90.5%,#0000b3 95.2%,#0000b3 100.0%)"></i><i style="top:0.00px;height:10.02px;background:linear-gradient(90deg,#0000b3 0.0%,#0000b3 4.8%,#0000b3 9.5%,#0000b7 14.3%,#0000c2 19.0%,#0000de 23.8%,#000eff 28.6%,#004bff 33.3%,#008bff 38.1%,#00beff 42.9%,#00dcff 47.6%,#00e2ff 52.4%,#00ceff 57.1%,#00a3ff 61.9%,#0067ff 66.7%,#0026ff 71.4%,#0000ef 76.2%,#0000cb 81.0%,#0000ba 85.7%,#0000b4 90.5%,#0000b3 95.2%,#0000b3 100.0%);-webkit-mask-image:linear-gradient(transparent,#000 50%);mask-image:linear-gradient(transparent,#000 50%)"></i><i style="top:4.76px;height:10.02px;background:linear-gradient(90deg,#0000b3 0.0%,#0000b3 4.8%,#0000b4 9.5%,#0000bb 14.3%,#0000d1 19.0%,#0000ff 23.8%,#0047ff 28.6%,#009cff 33.3%,#00eaff 38.1%,#25ffda 42.9%,#44ffbb 47.6%,#4affb5 52.4%,#36ffc9 57.1%,#07fff8 61.9%,#00beff 66.7%,#006aff 71.4%,#001bff 76.2%,#0000e1 81.0%,#0000c2 85.7%,#0000b6 90.5%,#0000b3 95.2%,#0000b3 100.0%);-webkit-mask-image:linear-gradient(transparent,#000 50%);mask-image:linear-gradient(transparent,#000 50%)"></i><i style="top:9.52px;height:10.02px;background:linear-gradient(90deg,#0000b3 0.0%,#0000b3 4.8%,#0000b6 9.5%,#0000c2 14.3%,#0000e2 19.0%,#0024ff 23.8%,#0080ff 28.6%,#00e4ff 33.3%,#39ffc6 38.1%,#6fff90 42.9%,#8aff75 47.6%,#8eff71 52.4%,#7eff81 57.1%,#53ffac 61.9%,#0bfff4 66.7%,#00abff 71.4%,#0048ff 76.2%,#0000f9 81.0%,#0000cc 85.7%,#0000b9 90.5%,#0000b4 95.2%,#0000b3 100.0%);-webkit-mask-image:linear-gradient(transparent,#000 50%);mask-image:linear-gradient(transparent,#000 50%)"></i><i style="top:14.29px;height:10.02px;background:linear-gradient(90deg,#0000b3 0.0%,#0000b3 4.8%,#0000b7 9.5%,#0000c7 14.3%,#0000f2 19.0%,#0042ff 23.8%,#00acff 28.6%,#18ffe7 33.3%,#6aff95 38.1%,#98ff67 42.9%,#abff54 47.6%,#aeff51 52.4%,#a3ff5c 57.1%,#81ff7e 61.9%,#3effc1 66.7%,#00dbff 71.4%,#006dff 76.2%,#0010ff 81.0%,#0000d5 85.7%,#0000bc 90.5%,#0000b4 95.2%,#0000b3 100.0%);-webkit-mask-image:linear-gradient(transparent,#000 50%);mask-image:linear-gradient(transparent,#000 50%)"></i><i style="top:19.05px;height:10.02px;background:linear-gradient(90deg,#0000b3 0.0%,#0000b3 4.8%,#0000b8 9.5%,#0000cb 14.3%,#0000fb 19.0%,#0053ff 23.8%,#00c3ff 28.6%,#31ffce 33.3%,#7fff80 38.1%,#a8ff57 42.9%,#b4ff4b 47.6%,#b5ff4a 52.4%,#b0ff4f 57.1%,#95ff6a 61.9%,#57ffa8 66.7%,#00f3ff 71.4%,#0080ff 76.2%,#001cff 81.0%,#0000db 85.7%,#0000be 90.5%,#0000b5 95.2%,#0000b3 100.0%);-webkit-mask-image:linear-gradient(transparent,#000 50%);mask-image:linear-gradient(transparent,#000 50%)"></i><i style="top:23.81px;height:10.02px;background:linear-gradient(90deg,#0000b3 0.0%,#0000b3 4.8%,#0000b8 9.5%,#0000cb 14.3%,#0000fb 19.0%,#0052ff 23.8%,#00c3ff 28.6%,#30ffcf 33.3%,#7fff80 38.1%,#a7ff58 42.9%,#b4ff4b 47.6%,#b5ff4a 52.4%,#afff50 57.1%,#94ff6b 61.9%,#56ffa9 66.7%,#00f2ff 71.4%,#0080ff 76.2%,#001cff 81.0%,#0000db 85.7%,#0000be 90.5%,#0000b5 95.2%,#0000b3 100.0%);-webkit-mask-image:linear-gradient(transparent,#000 50%);mask-image:linear-gradient(transparent,#000 50%)"></i><i style="top:28.57px;height:10.02px;background:linear-gradient(90deg,#0000b3 0.0%,#0000b3 4.8%,#0000b7 9.5%,#0000c7 14.3%,#0000f1 19.0%,#0041ff 23.8%,#00aaff 28.6%,#16ffe9 33.3%,#68ff97 38.1%,#97ff68 42.9%,#aaff55 47.6%,#adff52 52.4%,#a2ff5d 57.1%,#80ff7f 61.9%,#3cffc3 66.7%,#00d9ff 71.4%,#006bff 76.2%,#000fff 81.0%,#0000d5 85.7%,#0000bc 90.5%,#0000b4 95.2%,#0000b3 100.0%);-webkit-mask-image:linear-gradient(transparent,#000 50%);mask-image:linear-gradient(transparent,#000 50%)"></i><i style="top:33.33px;height:10.02px;background:linear-gradient(90deg,#0000b3 0.0%,#0000b3 4.8%,#0000b6 9.5%,#0000c1 14.3%,#0000e2 19.0%,#0024ff 23.8%,#0081ff 28.6%,#00e4ff 33.3%,#38ffc7 38.1%,#6eff91 42.9%,#88ff77 47.6%,#8cff73 52.4%,#7cff83 57.1%,#52ffad 61.9%,#0afff5 66.7%,#00aaff 71.4%,#0047ff 76.2%,#0000f9 81.0%,#0000cb 85.7%,#0000b9 90.5%,#0000b4 95.2%,#0000b3 100.0%);-webkit-mask-image:linear-gradient(transparent,#000 50%);mask-image:linear-gradient(transparent,#000 50%)"></i><i style="top:38.10px;height:10.02px;background:linear-gradient(90deg,#0000b3 0.0%,#0000b3 4.8%,#0000b5 9.5%,#0000be 14.3%,#0000d8 19.0%,#000dff 23.8%,#0058ff 28.6%,#00acff 33.3%,#00f5ff 38.1%,#2bffd4 42.9%,#47ffb8 47.6%,#4bffb4 52.4%,#39ffc6 57.1%,#0efff1 61.9%,#00caff 66.7%,#0076ff 71.4%,#0024ff 76.2%,#0000e6 81.0%,#0000c4 85.7%,#0000b6 90.5%,#0000b3 95.2%,#0000b3 100.0%);-webkit-mask-image:linear-gradient(transparent,#000 50%);mask-image:linear-gradient(transparent,#000 50%)"></i><i style="top:42.86px;height:10.02px;background:linear-gradient(90deg,#0000b3 0.0%,#0000b3 4.8%,#0000b5 9.5%,#0000bd 14.3%,#0000d7 19.0%,#0009ff 23.8%,#004cff 28.6%,#0091ff 33.3%,#00c6ff 38.1%,#00e9ff 42.9%,#00faff 47.6%,#00fdff 52.4%,#00f1ff 57.1%,#00d3ff 61.9%,#00a1ff 66.7%,#005fff 71.4%,#0018ff 76.2%,#0000e0 81.0%,#0000c2 85.7%,#0000b6 90.5%,#0000b3 95.2%,#0000b3 100.0%);-webkit-mask-image:linear-gradient(transparent,#000 50%);mask-image:linear-gradient(transparent,#000 50%)"></i><i style="top:47.62px;height:10.02px;background:linear-gradient(90deg,#0000b3 0.0%,#0000b3 4.8%,#0000b5 9.5%,#0000be 14.3%,#0000d7 19.0%,#000aff 23.8%,#004dff 28.6%,#008fff 33.3%,#00beff 38.1%,#00d6ff 42.9%,#00ddff 47.6%,#00deff 52.4%,#00d9ff 57.1%,#00c5ff 61.9%,#009aff 66.7%,#005bff 71.4%,#0017ff 76.2%,#0000df 81.0%,#0000c1 85.7%,#0000b6 90.5%,#0000b3 95.2%,#0000b3 100.0%);-webkit-mask-image:linear-gradient(transparent,#000 50%);mask-image:linear-gradient(transparent,#000 50%)"></i><i style="top:52.38px;height:10.02px;background:linear-gradient(90deg,#0000b3 0.0%,#0000b3 4.8%,#0000b5 9.5%,#0000be 14.3%,#0000d8 19.0%,#000bff 23.8%,#004eff 28.6%,#0090ff 33.3%,#00bfff 38.1%,#00d6ff 42.9%,#00dcff 47.6%,#00dcff 52.4%,#00d8ff 57.1%,#00c4ff 61.9%,#0099ff 66.7%,#005aff 71.4%,#0015ff 76.2%,#0000df 81.0%,#0000c1 85.7%,#0000b6 90.5%,#0000b3 95.2%,#0000b3 100.0%);-webkit-mask-image:linear-gradient(transparent,#000 50%);mask-image:linear-gradient(transparent,#000 50%)"></i><i style="top:57.14px;height:10.02px;background:linear-gradient(90deg,#0000b3 0.0%,#0000b3 4.8%,#0000b5 9.5%,#0000be 14.3%,#0000d9 19.0%,#000dff 23.8%,#0051ff 28.6%,#0093ff 33.3%,#00c2ff 38.1%,#00d9ff 42.9%,#00e0ff 47.6%,#00e0ff 52.4%,#00dbff 57.1%,#00c5ff 61.9%,#0099ff 66.7%,#0059ff 71.4%,#0014ff 76.2%,#0000de 81.0%,#0000c1 85.7%,#0000b6 90.5%,#0000b3 95.2%,#0000b3 100.0%);-webkit-mask-image:linear-gradient(transparent,#000 50%);mask-image:linear-gradient(transparent,#000 50%)"></i><i style="top:61.90px;height:10.02px;background:linear-gradient(90deg,#0000b3 0.0%,#0000b3 4.8%,#0000b5 9.5%,#0000bf 14.3%,#0000d8 19.0%,#000bff 23.8%,#004dff 28.6%,#0090ff 33.3%,#00c1ff 38.1%,#00dbff 42.9%,#00e4ff 47.6%,#00e4ff 52.4%,#00dcff 57.1%,#00c4ff 61.9%,#0096ff 66.7%,#0055ff 71.4%,#0011ff 76.2%,#0000dc 81.0%,#0000c0 85.7%,#0000b6 90.5%,#0000b3 95.2%,#0000b3 100.0%);-webkit-mask-image:linear-gradient(transparent,#000 50%);mask-image:linear-gradient(transparent,#000 50%)"></i><i style="top:66.67px;height:10.02px;background:linear-gradient(90deg,#0000b3 0.0%,#0000b3 4.8%,#0000b6 9.5%,#0000c0 14.3%,#0000da 19.0%,#0009ff 23.8%,#0047ff 28.6%,#0085ff 33.3%,#00b6ff 38.1%,#00d2ff 42.9%,#00ddff 47.6%,#00deff 52.4%,#00d4ff 57.1%,#00b9ff 61.9%,#008aff 66.7%,#004bff 71.4%,#000cff 76.2%,#0000db 81.0%,#0000c1 85.7%,#0000b6 90.5%,#0000b3 95.2%,#0000b3 100.0%);-webkit-mask-image:linear-gradient(transparent,#000 50%);mask-image:linear-gradient(transparent,#000 50%)"></i><i style="top:71.43px;height:10.02px;background:linear-gradient(90deg,#0000b3 0.0%,#0000b3 4.8%,#0000b6 9.5%,#0000c2 14.3%,#0000dd 19.0%,#000cff 23.8%,#0044ff 28.6%,#007aff 33.3%,#00a4ff 38.1%,#00bdff 42.9%,#00c9ff 47.6%,#00c9ff 52.4%,#00bfff 57.1%,#00a6ff 61.9%,#007cff 66.7%,#0045ff 71.4%,#000cff 76.2%,#0000dd 81.0%,#0000c2 85.7%,#0000b6 90.5%,#0000b3 95.2%,#0000b3 100.0%);-webkit-mask-image:linear-gradient(transparent,#000 50%);mask-image:linear-gradient(transparent,#000 50%)"></i><i style="top:76.19px;height:10.02px;background:linear-gradient(90deg,#0000b3 0.0%,#0000b3 4.8%,#0000b6 9.5%,#0000c1 14.3%,#0000db 19.0%,#0008ff 23.8%,#003eff 28.6%,#0071ff 33.3%,#0094ff 38.1%,#00a8ff 42.9%,#00b1ff 47.6%,#00b1ff 52.4%,#00a9ff 57.1%,#0095ff 61.9%,#0071ff 66.7%,#003eff 71.4%,#0008ff 76.2%,#0000db 81.0%,#0000c1 85.7%,#0000b6 90.5%,#0000b3 95.2%,#0000b3 100.0%);-webkit-mask-image:linear-gradient(transparent,#000 50%);mask-image:linear-gradient(transparent,#000 50%)"></i><i style="top:80.95px;height:10.02px;background:linear-gradient(90deg,#0000b3 0.0%,#0000b3 4.8%,#0000b5 9.5%,#0000be 14.3%,#0000d5 19.0%,#0000fb 23.8%,#002fff 28.6%,#005fff 33.3%,#0084ff 38.1%,#0099ff 42.9%,#00a1ff 47.6%,#00a1ff 52.4%,#0099ff 57.1%,#0084ff 61.9%,#005fff 66.7%,#002fff 71.4%,#0000fb 76.2%,#0000d5 81.0%,#0000be 85.7%,#0000b5 90.5%,#0000b3 95.2%,#0000b3 100.0%);-webkit-mask-image:linear-gradient(transparent,#000 50%);mask-image:linear-gradient(transparent,#000 50%)"></i><i style="top:85.71px;height:10.02px;background:linear-gradient(90deg,#0000b3 0.0%,#0000b3 4.8%,#0000b4 9.5%,#0000bb 14.3%,#0000cb 19.0%,#0000ea 23.8%,#0015ff 28.6%,#0042ff 33.3%,#0068ff 38.1%,#0080ff 42.9%,#008bff 47.6%,#008bff 52.4%,#0080ff 57.1%,#0068ff 61.9%,#0042ff 66.7%,#0015ff 71.4%,#0000ea 76.2%,#0000cb 81.0%,#0000bb 85.7%,#0000b4 90.5%,#0000b3 95.2%,#0000b3 100.0%);-webkit-mask-image:linear-gradient(transparent,#000 50%);mask-image:linear-gradient(transparent,#000 50%)"></i><i style="top:90.48px;height:10.02px;background:linear-gradient(90deg,#0000b3 0.0%,#0000b3 4.8%,#0000b3 9.5%,#0000b7 14.3%,#0000c1 19.0%,#0000d6 23.8%,#0000f6 28.6%,#001cff 33.3%,#003eff 38.1%,#0057ff 42.9%,#0063ff 47.6%,#0063ff 52.4%,#0057ff 57.1%,#003eff 61.9%,#001cff 66.7%,#0000f6 71.4%,#0000d6 76.2%,#0000c1 81.0%,#0000b7 85.7%,#0000b3 90.5%,#0000b3 95.2%,#0000b3 100.0%);-webkit-mask-image:linear-gradient(transparent,#000 50%);mask-image:linear-gradient(transparent,#000 50%)"></i><i style="top:95.24px;height:10.02px;background:linear-gradient(90deg,#0000b3 0.0%,#0000b3 4.8%,#0000b3 9.5%,#0000b4 14.3%,#0000ba 19.0%,#0000c6 23.8%,#0000da 28.6%,#0000f3 33.3%,#000fff 38.1%,#0023ff 42.9%,#002fff 47.6%,#002fff 52.4%,#0023ff 57.1%,#000fff 61.9%,#0000f3 66.7%,#0000da 71.4%,#0000c6 76.2%,#0000ba 81.0%,#0000b4 85.7%,#0000b3 90.5%,#0000b3 95.2%,#0000b3 100.0%);-webkit-mask-image:linear-gradient(transparent,#000 50%);mask-image:linear-gradient(transparent,#000 50%)"></i></div><div class="hm sl" style="transform:matrix(0.9740,-0.4150,-0.7390,-0.5630,975.70,590.40)"><i style="top:0;height:5.26px;background:linear-gradient(90deg,#000000 0.0%,#000000 4.8%,#000000 9.5%,#000000 14.3%,#000000 19.0%,#000000 23.8%,#010000 28.6%,#030000 33.3%,#060000 38.1%,#0a0000 42.9%,#0e0000 47.6%,#0e0000 52.4%,#0c0000 57.1%,#080000 61.9%,#040000 66.7%,#010000 71.4%,#000000 76.2%,#000000 81.0%,#000000 85.7%,#000000 90.5%,#000000 95.2%,#000000 100.0%)"></i><i style="top:0.00px;height:10.02px;background:linear-gradient(90deg,#000000 0.0%,#000000 4.8%,#000000 9.5%,#000000 14.3%,#000000 19.0%,#010000 23.8%,#030000 28.6%,#090000 33.3%,#140000 38.1%,#230000 42.9%,#2f0000 47.6%,#310000 52.4%,#290000 57.1%,#1a0000 61.9%,#0d0000 66.7%,#050000 71.4%,#020000 76.2%,#000000 81.0%,#000000 85.7%,#000000 90.5%,#000000 95.2%,#000000 100.0%);-webkit-mask-image:linear-gradient(transparent,#000 50%);mask-image:linear-gradient(transparent,#000 50%)"></i><i style="top:4.76px;height:10.02px;background:linear-gradient(90deg,#000000 0.0%,#000000 4.8%,#000000 9.5%,#000000 14.3%,#000000 19.0%,#020000 23.8%,#080000 28.6%,#180000 33.3%,#360000 38.1%,#5d0000 42.9%,#7e0000 47.6%,#850000 52.4%,#6d0000 57.1%,#460000 61.9%,#230000 66.7%,#0e0000 71.4%,#040000 76.2%,#010000 81.0%,#000000 85.7%,#000000 90.5%,#000000 95.2%,#000000 100.0%);-webkit-mask-image:linear-gradient(transparent,#000 50%);mask-image:linear-gradient(transparent,#000 50%)"></i><i style="top:9.52px;height:10.02px;background:linear-gradient(90deg,#000000 0.0%,#000000 4.8%,#000000 9.5%,#000000 14.3%,#010000 19.0%,#050000 23.8%,#120000 28.6%,#330000 33.3%,#710000 38.1%,#c30000 42.9%,#ff0800 47.6%,#ff1700 52.4%,#e40000 57.1%,#920000 61.9%,#490000 66.7%,#1c0000 71.4%,#090000 76.2%,#020000 81.0%,#000000 85.7%,#000000 90.5%,#000000 95.2%,#000000 100.0%);-webkit-mask-image:linear-gradient(transparent,#000 50%);mask-image:linear-gradient(transparent,#000 50%)"></i><i style="top:14.29px;height:10.02px;background:linear-gradient(90deg,#000000 0.0%,#000000 4.8%,#000000 9.5%,#000000 14.3%,#020000 19.0%,#080000 23.8%,#1d0000 28.6%,#530000 33.3%,#b80000 38.1%,#ff4000 42.9%,#ffb000 47.6%,#ffc700 52.4%,#ff7600 57.1%,#ef0000 61.9%,#770000 66.7%,#2e0000 71.4%,#0e0000 76.2%,#030000 81.0%,#010000 85.7%,#000000 90.5%,#000000 95.2%,#000000 100.0%);-webkit-mask-image:linear-gradient(transparent,#000 50%);mask-image:linear-gradient(transparent,#000 50%)"></i><i style="top:19.05px;height:10.02px;background:linear-gradient(90deg,#000000 0.0%,#000000 4.8%,#000000 9.5%,#000000 14.3%,#020000 19.0%,#0a0000 23.8%,#250000 28.6%,#6a0000 33.3%,#ed0000 38.1%,#ff9b00 42.9%,#ffff41 47.6%,#ffff6d 52.4%,#ffdf00 57.1%,#ff3300 61.9%,#990000 66.7%,#3c0000 71.4%,#120000 76.2%,#040000 81.0%,#010000 85.7%,#000000 90.5%,#000000 95.2%,#000000 100.0%);-webkit-mask-image:linear-gradient(transparent,#000 50%);mask-image:linear-gradient(transparent,#000 50%)"></i><i style="top:23.81px;height:10.02px;background:linear-gradient(90deg,#000000 0.0%,#000000 4.8%,#000000 9.5%,#000000 14.3%,#020000 19.0%,#0a0000 23.8%,#260000 28.6%,#6c0000 33.3%,#f00000 38.1%,#ffa100 42.9%,#ffff4d 47.6%,#ffff79 52.4%,#ffe600 57.1%,#ff3700 61.9%,#9b0000 66.7%,#3c0000 71.4%,#120000 76.2%,#040000 81.0%,#010000 85.7%,#000000 90.5%,#000000 95.2%,#000000 100.0%);-webkit-mask-image:linear-gradient(transparent,#000 50%);mask-image:linear-gradient(transparent,#000 50%)"></i><i style="top:28.57px;height:10.02px;background:linear-gradient(90deg,#000000 0.0%,#000000 4.8%,#000000 9.5%,#000000 14.3%,#020000 19.0%,#090000 23.8%,#1f0000 28.6%,#590000 33.3%,#c60000 38.1%,#ff5700 42.9%,#ffce00 47.6%,#ffe500 52.4%,#ff8e00 57.1%,#fd0000 61.9%,#7e0000 66.7%,#310000 71.4%,#0f0000 76.2%,#040000 81.0%,#010000 85.7%,#000000 90.5%,#000000 95.2%,#000000 100.0%);-webkit-mask-image:linear-gradient(transparent,#000 50%);mask-image:linear-gradient(transparent,#000 50%)"></i><i style="top:33.33px;height:10.02px;background:linear-gradient(90deg,#000000 0.0%,#000000 4.8%,#000000 9.5%,#000000 14.3%,#010000 19.0%,#060000 23.8%,#160000 28.6%,#3f0000 33.3%,#8c0000 38.1%,#f10000 42.9%,#ff4500 47.6%,#ff5400 52.4%,#ff1600 57.1%,#b00000 61.9%,#580000 66.7%,#220000 71.4%,#0a0000 76.2%,#020000 81.0%,#000000 85.7%,#000000 90.5%,#000000 95.2%,#000000 100.0%);-webkit-mask-image:linear-gradient(transparent,#000 50%);mask-image:linear-gradient(transparent,#000 50%)"></i><i style="top:38.10px;height:10.02px;background:linear-gradient(90deg,#000000 0.0%,#000000 4.8%,#000000 9.5%,#000000 14.3%,#010000 19.0%,#040000 23.8%,#100000 28.6%,#2c0000 33.3%,#610000 38.1%,#a60000 42.9%,#dd0000 47.6%,#e60000 52.4%,#bb0000 57.1%,#760000 61.9%,#3a0000 66.7%,#160000 71.4%,#070000 76.2%,#020000 81.0%,#000000 85.7%,#000000 90.5%,#000000 95.2%,#000000 100.0%);-webkit-mask-image:linear-gradient(transparent,#000 50%);mask-image:linear-gradient(transparent,#000 50%)"></i><i style="top:42.86px;height:10.02px;background:linear-gradient(90deg,#000000 0.0%,#000000 4.8%,#000000 9.5%,#000000 14.3%,#010000 19.0%,#040000 23.8%,#0d0000 28.6%,#230000 33.3%,#4c0000 38.1%,#820000 42.9%,#ac0000 47.6%,#b10000 52.4%,#8f0000 57.1%,#5a0000 61.9%,#2c0000 66.7%,#110000 71.4%,#050000 76.2%,#010000 81.0%,#000000 85.7%,#000000 90.5%,#000000 95.2%,#000000 100.0%);-webkit-mask-image:linear-gradient(transparent,#000 50%);mask-image:linear-gradient(transparent,#000 50%)"></i><i style="top:47.62px;height:10.02px;background:linear-gradient(90deg,#000000 0.0%,#000000 4.8%,#000000 9.5%,#000000 14.3%,#010000 19.0%,#030000 23.8%,#0c0000 28.6%,#220000 33.3%,#490000 38.1%,#7b0000 42.9%,#a20000 47.6%,#a60000 52.4%,#850000 57.1%,#530000 61.9%,#280000 66.7%,#0f0000 71.4%,#050000 76.2%,#010000 81.0%,#000000 85.7%,#000000 90.5%,#000000 95.2%,#000000 100.0%);-webkit-mask-image:linear-gradient(transparent,#000 50%);mask-image:linear-gradient(transparent,#000 50%)"></i><i style="top:52.38px;height:10.02px;background:linear-gradient(90deg,#000000 0.0%,#000000 4.8%,#000000 9.5%,#000000 14.3%,#010000 19.0%,#040000 23.8%,#0e0000 28.6%,#280000 33.3%,#550000 38.1%,#8e0000 42.9%,#ba0000 47.6%,#bd0000 52.4%,#960000 57.1%,#5d0000 61.9%,#2d0000 66.7%,#110000 71.4%,#050000 76.2%,#010000 81.0%,#000000 85.7%,#000000 90.5%,#000000 95.2%,#000000 100.0%);-webkit-mask-image:linear-gradient(transparent,#000 50%);mask-image:linear-gradient(transparent,#000 50%)"></i><i style="top:57.14px;height:10.02px;background:linear-gradient(90deg,#000000 0.0%,#000000 4.8%,#000000 9.5%,#000000 14.3%,#010000 19.0%,#060000 23.8%,#140000 28.6%,#380000 33.3%,#770000 38.1%,#c60000 42.9%,#ff0100 47.6%,#ff0300 52.4%,#cb0000 57.1%,#7d0000 61.9%,#3c0000 66.7%,#160000 71.4%,#070000 76.2%,#010000 81.0%,#000000 85.7%,#000000 90.5%,#000000 95.2%,#000000 100.0%);-webkit-mask-image:linear-gradient(transparent,#000 50%);mask-image:linear-gradient(transparent,#000 50%)"></i><i style="top:61.90px;height:10.02px;background:linear-gradient(90deg,#000000 0.0%,#000000 4.8%,#000000 9.5%,#000000 14.3%,#020000 19.0%,#090000 23.8%,#1f0000 28.6%,#540000 33.3%,#b20000 38.1%,#ff2800 42.9%,#ff7c00 47.6%,#ff7e00 52.4%,#ff2c00 57.1%,#b60000 61.9%,#570000 66.7%,#200000 71.4%,#090000 76.2%,#020000 81.0%,#000000 85.7%,#000000 90.5%,#000000 95.2%,#000000 100.0%);-webkit-mask-image:linear-gradient(transparent,#000 50%);mask-image:linear-gradient(transparent,#000 50%)"></i><i style="top:66.67px;height:10.02px;background:linear-gradient(90deg,#000000 0.0%,#000000 4.8%,#000000 9.5%,#000000 14.3%,#030000 19.0%,#0c0000 23.8%,#2b0000 28.6%,#730000 33.3%,#f40000 38.1%,#ff9300 42.9%,#ffff09 47.6%,#ffff0b 52.4%,#ff9500 57.1%,#f60000 61.9%,#750000 66.7%,#2b0000 71.4%,#0d0000 76.2%,#030000 81.0%,#000000 85.7%,#000000 90.5%,#000000 95.2%,#000000 100.0%);-webkit-mask-image:linear-gradient(transparent,#000 50%);mask-image:linear-gradient(transparent,#000 50%)"></i><i style="top:71.43px;height:10.02px;background:linear-gradient(90deg,#000000 0.0%,#000000 4.8%,#000000 9.5%,#010000 14.3%,#030000 19.0%,#0e0000 23.8%,#300000 28.6%,#830000 33.3%,#ff1600 38.1%,#ffc800 42.9%,#ffff70 47.6%,#ffff71 52.4%,#ffca00 57.1%,#ff1700 61.9%,#840000 66.7%,#310000 71.4%,#0e0000 76.2%,#030000 81.0%,#010000 85.7%,#000000 90.5%,#000000 95.2%,#000000 100.0%);-webkit-mask-image:linear-gradient(transparent,#000 50%);mask-image:linear-gradient(transparent,#000 50%)"></i><i style="top:76.19px;height:10.02px;background:linear-gradient(90deg,#000000 0.0%,#000000 4.8%,#000000 9.5%,#000000 14.3%,#030000 19.0%,#0d0000 23.8%,#2c0000 28.6%,#770000 33.3%,#fb0000 38.1%,#ff9d00 42.9%,#ffff1d 47.6%,#ffff1d 52.4%,#ff9e00 57.1%,#fb0000 61.9%,#770000 66.7%,#2c0000 71.4%,#0d0000 76.2%,#030000 81.0%,#010000 85.7%,#000000 90.5%,#000000 95.2%,#000000 100.0%);-webkit-mask-image:linear-gradient(transparent,#000 50%);mask-image:linear-gradient(transparent,#000 50%)"></i><i style="top:80.95px;height:10.02px;background:linear-gradient(90deg,#000000 0.0%,#000000 4.8%,#000000 9.5%,#000000 14.3%,#020000 19.0%,#090000 23.8%,#1f0000 28.6%,#550000 33.3%,#b30000 38.1%,#ff2700 42.9%,#ff7a00 47.6%,#ff7a00 52.4%,#ff2700 57.1%,#b30000 61.9%,#550000 66.7%,#1f0000 71.4%,#090000 76.2%,#020000 81.0%,#000000 85.7%,#000000 90.5%,#000000 95.2%,#000000 100.0%);-webkit-mask-image:linear-gradient(transparent,#000 50%);mask-image:linear-gradient(transparent,#000 50%)"></i><i style="top:85.71px;height:10.02px;background:linear-gradient(90deg,#000000 0.0%,#000000 4.8%,#000000 9.5%,#000000 14.3%,#010000 19.0%,#050000 23.8%,#110000 28.6%,#2f0000 33.3%,#640000 38.1%,#a40000 42.9%,#d20000 47.6%,#d30000 52.4%,#a40000 57.1%,#640000 61.9%,#2f0000 66.7%,#110000 71.4%,#050000 76.2%,#010000 81.0%,#000000 85.7%,#000000 90.5%,#000000 95.2%,#000000 100.0%);-webkit-mask-image:linear-gradient(transparent,#000 50%);mask-image:linear-gradient(transparent,#000 50%)"></i><i style="top:90.48px;height:10.02px;background:linear-gradient(90deg,#000000 0.0%,#000000 4.8%,#000000 9.5%,#000000 14.3%,#000000 19.0%,#020000 23.8%,#080000 28.6%,#150000 33.3%,#2b0000 38.1%,#480000 42.9%,#5c0000 47.6%,#5c0000 52.4%,#480000 57.1%,#2b0000 61.9%,#150000 66.7%,#080000 71.4%,#020000 76.2%,#000000 81.0%,#000000 85.7%,#000000 90.5%,#000000 95.2%,#000000 100.0%);-webkit-mask-image:linear-gradient(transparent,#000 50%);mask-image:linear-gradient(transparent,#000 50%)"></i><i style="top:95.24px;height:10.02px;background:linear-gradient(90deg,#000000 0.0%,#000000 4.8%,#000000 9.5%,#000000 14.3%,#000000 19.0%,#010000 23.8%,#030000 28.6%,#070000 33.3%,#0f0000 38.1%,#180000 42.9%,#1f0000 47.6%,#1f0000 52.4%,#180000 57.1%,#0f0000 61.9%,#070000 66.7%,#030000 71.4%,#010000 76.2%,#000000 81.0%,#000000 85.7%,#000000 90.5%,#000000 95.2%,#000000 100.0%);-webkit-mask-image:linear-gradient(transparent,#000 50%);mask-image:linear-gradient(transparent,#000 50%)"></i></div><div class="hm sl" style="transform:matrix(0.9740,-0.4150,-0.7390,-0.5630,975.70,500.40)"><i style="top:0;height:5.26px;background:linear-gradient(90deg,#000000 0.0%,#000000 4.8%,#000000 9.5%,#000000 14.3%,#000000 19.0%,#000000 23.8%,#010000 28.6%,#020000 33.3%,#040000 38.1%,#070000 42.9%,#0a0000 47.6%,#0a0000 52.4%,#090000 57.1%,#060000 61.9%,#030000 66.7%,#010000 71.4%,#000000 76.2%,#000000 81.0%,#000000 85.7%,#000000 90.5%,#000000 95.2%,#000000 100.0%)"></i><i style="top:0.00px;height:10.02px;background:linear-gradient(90deg,#000000 0.0%,#000000 4.8%,#000000 9.5%,#000000 14.3%,#000000 19.0%,#010000 23.8%,#030000 28.6%,#070000 33.3%,#0e0000 38.1%,#170000 42.9%,#1f0000 47.6%,#200000 52.4%,#1b0000 57.1%,#120000 61.9%,#090000 66.7%,#040000 71.4%,#010000 76.2%,#000000 81.0%,#000000 85.7%,#000000 90.5%,#000000 95.2%,#000000 100.0%);-webkit-mask-image:linear-gradient(transparent,#000 50%);mask-image:linear-gradient(transparent,#000 50%)"></i><i style="top:4.76px;height:10.02px;background:linear-gradient(90deg,#000000 0.0%,#000000 4.8%,#000000 9.5%,#000000 14.3%,#000000 19.0%,#020000 23.8%,#060000 28.6%,#110000 33.3%,#230000 38.1%,#3b0000 42.9%,#4d0000 47.6%,#510000 52.4%,#440000 57.1%,#2d0000 61.9%,#170000 66.7%,#0a0000 71.4%,#030000 76.2%,#010000 81.0%,#000000 85.7%,#000000 90.5%,#000000 95.2%,#000000 100.0%);-webkit-mask-image:linear-gradient(transparent,#000 50%);mask-image:linear-gradient(transparent,#000 50%)"></i><i style="top:9.52px;height:10.02px;background:linear-gradient(90deg,#000000 0.0%,#000000 4.8%,#000000 9.5%,#000000 14.3%,#010000 19.0%,#040000 23.8%,#0d0000 28.6%,#210000 33.3%,#460000 38.1%,#740000 42.9%,#9a0000 47.6%,#a20000 52.4%,#870000 57.1%,#590000 61.9%,#2f0000 66.7%,#130000 71.4%,#060000 76.2%,#020000 81.0%,#000000 85.7%,#000000 90.5%,#000000 95.2%,#000000 100.0%);-webkit-mask-image:linear-gradient(transparent,#000 50%);mask-image:linear-gradient(transparent,#000 50%)"></i><i style="top:14.29px;height:10.02px;background:linear-gradient(90deg,#000000 0.0%,#000000 4.8%,#000000 9.5%,#000000 14.3%,#010000 19.0%,#060000 23.8%,#140000 28.6%,#350000 33.3%,#6e0000 38.1%,#b80000 42.9%,#f40000 47.6%,#ff0100 52.4%,#d50000 57.1%,#8d0000 61.9%,#4a0000 66.7%,#1f0000 71.4%,#0a0000 76.2%,#030000 81.0%,#010000 85.7%,#000000 90.5%,#000000 95.2%,#000000 100.0%);-webkit-mask-image:linear-gradient(transparent,#000 50%);mask-image:linear-gradient(transparent,#000 50%)"></i><i style="top:19.05px;height:10.02px;background:linear-gradient(90deg,#000000 0.0%,#000000 4.8%,#000000 9.5%,#000000 14.3%,#020000 19.0%,#080000 23.8%,#190000 28.6%,#420000 33.3%,#8c0000 38.1%,#e90000 42.9%,#ff3500 47.6%,#ff4400 52.4%,#ff0e00 57.1%,#b20000 61.9%,#5d0000 66.7%,#270000 71.4%,#0d0000 76.2%,#030000 81.0%,#010000 85.7%,#000000 90.5%,#000000 95.2%,#000000 100.0%);-webkit-mask-image:linear-gradient(transparent,#000 50%);mask-image:linear-gradient(transparent,#000 50%)"></i><i style="top:23.81px;height:10.02px;background:linear-gradient(90deg,#000000 0.0%,#000000 4.8%,#000000 9.5%,#000000 14.3%,#020000 19.0%,#080000 23.8%,#1a0000 28.6%,#440000 33.3%,#8e0000 38.1%,#ed0000 42.9%,#ff3a00 47.6%,#ff4900 52.4%,#ff1200 57.1%,#b40000 61.9%,#5e0000 66.7%,#270000 71.4%,#0d0000 76.2%,#030000 81.0%,#010000 85.7%,#000000 90.5%,#000000 95.2%,#000000 100.0%);-webkit-mask-image:linear-gradient(transparent,#000 50%);mask-image:linear-gradient(transparent,#000 50%)"></i><i style="top:28.57px;height:10.02px;background:linear-gradient(90deg,#000000 0.0%,#000000 4.8%,#000000 9.5%,#000000 14.3%,#020000 19.0%,#060000 23.8%,#160000 28.6%,#390000 33.3%,#780000 38.1%,#c70000 42.9%,#ff0700 47.6%,#ff1400 52.4%,#e40000 57.1%,#960000 61.9%,#4f0000 66.7%,#210000 71.4%,#0b0000 76.2%,#030000 81.0%,#010000 85.7%,#000000 90.5%,#000000 95.2%,#000000 100.0%);-webkit-mask-image:linear-gradient(transparent,#000 50%);mask-image:linear-gradient(transparent,#000 50%)"></i><i style="top:33.33px;height:10.02px;background:linear-gradient(90deg,#000000 0.0%,#000000 4.8%,#000000 9.5%,#000000 14.3%,#010000 19.0%,#050000 23.8%,#100000 28.6%,#2a0000 33.3%,#580000 38.1%,#910000 42.9%,#bf0000 47.6%,#c70000 52.4%,#a50000 57.1%,#6d0000 61.9%,#390000 66.7%,#170000 71.4%,#080000 76.2%,#020000 81.0%,#000000 85.7%,#000000 90.5%,#000000 95.2%,#000000 100.0%);-webkit-mask-image:linear-gradient(transparent,#000 50%);mask-image:linear-gradient(transparent,#000 50%)"></i><i style="top:38.10px;height:10.02px;background:linear-gradient(90deg,#000000 0.0%,#000000 4.8%,#000000 9.5%,#000000 14.3%,#010000 19.0%,#030000 23.8%,#0c0000 28.6%,#1e0000 33.3%,#3f0000 38.1%,#670000 42.9%,#870000 47.6%,#8c0000 52.4%,#730000 57.1%,#4b0000 61.9%,#270000 66.7%,#100000 71.4%,#050000 76.2%,#010000 81.0%,#000000 85.7%,#000000 90.5%,#000000 95.2%,#000000 100.0%);-webkit-mask-image:linear-gradient(transparent,#000 50%);mask-image:linear-gradient(transparent,#000 50%)"></i><i style="top:42.86px;height:10.02px;background:linear-gradient(90deg,#000000 0.0%,#000000 4.8%,#000000 9.5%,#000000 14.3%,#010000 19.0%,#030000 23.8%,#090000 28.6%,#180000 33.3%,#320000 38.1%,#520000 42.9%,#6a0000 47.6%,#6e0000 52.4%,#5a0000 57.1%,#3a0000 61.9%,#1e0000 66.7%,#0c0000 71.4%,#040000 76.2%,#010000 81.0%,#000000 85.7%,#000000 90.5%,#000000 95.2%,#000000 100.0%);-webkit-mask-image:linear-gradient(transparent,#000 50%);mask-image:linear-gradient(transparent,#000 50%)"></i><i style="top:47.62px;height:10.02px;background:linear-gradient(90deg,#000000 0.0%,#000000 4.8%,#000000 9.5%,#000000 14.3%,#010000 19.0%,#030000 23.8%,#090000 28.6%,#170000 33.3%,#2f0000 38.1%,#4d0000 42.9%,#630000 47.6%,#660000 52.4%,#530000 57.1%,#350000 61.9%,#1b0000 66.7%,#0b0000 71.4%,#040000 76.2%,#010000 81.0%,#000000 85.7%,#000000 90.5%,#000000 95.2%,#000000 100.0%);-webkit-mask-image:linear-gradient(transparent,#000 50%);mask-image:linear-gradient(transparent,#000 50%)"></i><i style="top:52.38px;height:10.02px;background:linear-gradient(90deg,#000000 0.0%,#000000 4.8%,#000000 9.5%,#000000 14.3%,#010000 19.0%,#030000 23.8%,#0a0000 28.6%,#1a0000 33.3%,#350000 38.1%,#560000 42.9%,#6e0000 47.6%,#700000 52.4%,#5a0000 57.1%,#3a0000 61.9%,#1d0000 66.7%,#0c0000 71.4%,#040000 76.2%,#010000 81.0%,#000000 85.7%,#000000 90.5%,#000000 95.2%,#000000 100.0%);-webkit-mask-image:linear-gradient(transparent,#000 50%);mask-image:linear-gradient(transparent,#000 50%)"></i><i style="top:57.14px;height:10.02px;background:linear-gradient(90deg,#000000 0.0%,#000000 4.8%,#000000 9.5%,#000000 14.3%,#010000 19.0%,#040000 23.8%,#0e0000 28.6%,#230000 33.3%,#460000 38.1%,#710000 42.9%,#8f0000 47.6%,#910000 52.4%,#740000 57.1%,#4a0000 61.9%,#250000 66.7%,#0f0000 71.4%,#050000 76.2%,#010000 81.0%,#000000 85.7%,#000000 90.5%,#000000 95.2%,#000000 100.0%);-webkit-mask-image:linear-gradient(transparent,#000 50%);mask-image:linear-gradient(transparent,#000 50%)"></i><i style="top:61.90px;height:10.02px;background:linear-gradient(90deg,#000000 0.0%,#000000 4.8%,#000000 9.5%,#000000 14.3%,#020000 19.0%,#060000 23.8%,#130000 28.6%,#310000 33.3%,#630000 38.1%,#9e0000 42.9%,#c70000 47.6%,#c80000 52.4%,#a00000 57.1%,#650000 61.9%,#330000 66.7%,#140000 71.4%,#060000 76.2%,#020000 81.0%,#000000 85.7%,#000000 90.5%,#000000 95.2%,#000000 100.0%);-webkit-mask-image:linear-gradient(transparent,#000 50%);mask-image:linear-gradient(transparent,#000 50%)"></i><i style="top:66.67px;height:10.02px;background:linear-gradient(90deg,#000000 0.0%,#000000 4.8%,#000000 9.5%,#000000 14.3%,#020000 19.0%,#080000 23.8%,#190000 28.6%,#400000 33.3%,#810000 38.1%,#ce0000 42.9%,#ff0500 47.6%,#ff0500 52.4%,#cf0000 57.1%,#830000 61.9%,#410000 66.7%,#1a0000 71.4%,#080000 76.2%,#020000 81.0%,#000000 85.7%,#000000 90.5%,#000000 95.2%,#000000 100.0%);-webkit-mask-image:linear-gradient(transparent,#000 50%);mask-image:linear-gradient(transparent,#000 50%)"></i><i style="top:71.43px;height:10.02px;background:linear-gradient(90deg,#000000 0.0%,#000000 4.8%,#000000 9.5%,#000000 14.3%,#020000 19.0%,#090000 23.8%,#1c0000 28.6%,#480000 33.3%,#900000 38.1%,#e50000 42.9%,#ff2100 47.6%,#ff2200 52.4%,#e50000 57.1%,#910000 61.9%,#480000 66.7%,#1d0000 71.4%,#090000 76.2%,#020000 81.0%,#000000 85.7%,#000000 90.5%,#000000 95.2%,#000000 100.0%);-webkit-mask-image:linear-gradient(transparent,#000 50%);mask-image:linear-gradient(transparent,#000 50%)"></i><i style="top:76.19px;height:10.02px;background:linear-gradient(90deg,#000000 0.0%,#000000 4.8%,#000000 9.5%,#000000 14.3%,#020000 19.0%,#080000 23.8%,#1a0000 28.6%,#410000 33.3%,#830000 38.1%,#cf0000 42.9%,#ff0700 47.6%,#ff0700 52.4%,#d00000 57.1%,#830000 61.9%,#410000 66.7%,#1a0000 71.4%,#080000 76.2%,#020000 81.0%,#000000 85.7%,#000000 90.5%,#000000 95.2%,#000000 100.0%);-webkit-mask-image:linear-gradient(transparent,#000 50%);mask-image:linear-gradient(transparent,#000 50%)"></i><i style="top:80.95px;height:10.02px;background:linear-gradient(90deg,#000000 0.0%,#000000 4.8%,#000000 9.5%,#000000 14.3%,#010000 19.0%,#060000 23.8%,#130000 28.6%,#2f0000 33.3%,#5f0000 38.1%,#970000 42.9%,#be0000 47.6%,#be0000 52.4%,#970000 57.1%,#5f0000 61.9%,#300000 66.7%,#130000 71.4%,#060000 76.2%,#010000 81.0%,#000000 85.7%,#000000 90.5%,#000000 95.2%,#000000 100.0%);-webkit-mask-image:linear-gradient(transparent,#000 50%);mask-image:linear-gradient(transparent,#000 50%)"></i><i style="top:85.71px;height:10.02px;background:linear-gradient(90deg,#000000 0.0%,#000000 4.8%,#000000 9.5%,#000000 14.3%,#010000 19.0%,#030000 23.8%,#0b0000 28.6%,#1c0000 33.3%,#370000 38.1%,#580000 42.9%,#6f0000 47.6%,#6f0000 52.4%,#580000 57.1%,#370000 61.9%,#1c0000 66.7%,#0b0000 71.4%,#030000 76.2%,#010000 81.0%,#000000 85.7%,#000000 90.5%,#000000 95.2%,#000000 100.0%);-webkit-mask-image:linear-gradient(transparent,#000 50%);mask-image:linear-gradient(transparent,#000 50%)"></i><i style="top:90.48px;height:10.02px;background:linear-gradient(90deg,#000000 0.0%,#000000 4.8%,#000000 9.5%,#000000 14.3%,#000000 19.0%,#020000 23.8%,#050000 28.6%,#0d0000 33.3%,#190000 38.1%,#280000 42.9%,#330000 47.6%,#330000 52.4%,#290000 57.1%,#1a0000 61.9%,#0d0000 66.7%,#050000 71.4%,#020000 76.2%,#000000 81.0%,#000000 85.7%,#000000 90.5%,#000000 95.2%,#000000 100.0%);-webkit-mask-image:linear-gradient(transparent,#000 50%);mask-image:linear-gradient(transparent,#000 50%)"></i><i style="top:95.24px;height:10.02px;background:linear-gradient(90deg,#000000 0.0%,#000000 4.8%,#000000 9.5%,#000000 14.3%,#000000 19.0%,#010000 23.8%,#020000 28.6%,#050000 33.3%,#090000 38.1%,#0f0000 42.9%,#130000 47.6%,#130000 52.4%,#0f0000 57.1%,#090000 61.9%,#050000 66.7%,#020000 71.4%,#010000 76.2%,#000000 81.0%,#000000 85.7%,#000000 90.5%,#000000 95.2%,#000000 100.0%);-webkit-mask-image:linear-gradient(transparent,#000 50%);mask-image:linear-gradient(transparent,#000 50%)"></i></div><div class="hm sl" style="transform:matrix(0.9740,-0.4150,-0.7390,-0.5630,975.70,409.60)"><i style="top:0;height:5.26px;background:linear-gradient(90deg,#000000 0.0%,#000000 4.8%,#000000 9.5%,#000000 14.3%,#000000 19.0%,#000000 23.8%,#000000 28.6%,#010000 33.3%,#030000 38.1%,#050000 42.9%,#060000 47.6%,#060000 52.4%,#050000 57.1%,#040000 61.9%,#020000 66.7%,#010000 71.4%,#000000 76.2%,#000000 81.0%,#000000 85.7%,#000000 90.5%,#000000 95.2%,#000000 100.0%)"></i><i style="top:0.00px;height:10.02px;background:linear-gradient(90deg,#000000 0.0%,#000000 4.8%,#000000 9.5%,#000000 14.3%,#000000 19.0%,#000000 23.8%,#020000 28.6%,#040000 33.3%,#090000 38.1%,#0f0000 42.9%,#130000 47.6%,#140000 52.4%,#110000 57.1%,#0b0000 61.9%,#060000 66.7%,#020000 71.4%,#010000 76.2%,#000000 81.0%,#000000 85.7%,#000000 90.5%,#000000 95.2%,#000000 100.0%);-webkit-mask-image:linear-gradient(transparent,#000 50%);mask-image:linear-gradient(transparent,#000 50%)"></i><i style="top:4.76px;height:10.02px;background:linear-gradient(90deg,#000000 0.0%,#000000 4.8%,#000000 9.5%,#000000 14.3%,#000000 19.0%,#010000 23.8%,#040000 28.6%,#0a0000 33.3%,#160000 38.1%,#250000 42.9%,#300000 47.6%,#330000 52.4%,#2a0000 57.1%,#1c0000 61.9%,#0f0000 66.7%,#060000 71.4%,#020000 76.2%,#010000 81.0%,#000000 85.7%,#000000 90.5%,#000000 95.2%,#000000 100.0%);-webkit-mask-image:linear-gradient(transparent,#000 50%);mask-image:linear-gradient(transparent,#000 50%)"></i><i style="top:9.52px;height:10.02px;background:linear-gradient(90deg,#000000 0.0%,#000000 4.8%,#000000 9.5%,#000000 14.3%,#010000 19.0%,#020000 23.8%,#080000 28.6%,#150000 33.3%,#2c0000 38.1%,#490000 42.9%,#600000 47.6%,#650000 52.4%,#540000 57.1%,#370000 61.9%,#1d0000 66.7%,#0c0000 71.4%,#040000 76.2%,#010000 81.0%,#000000 85.7%,#000000 90.5%,#000000 95.2%,#000000 100.0%);-webkit-mask-image:linear-gradient(transparent,#000 50%);mask-image:linear-gradient(transparent,#000 50%)"></i><i style="top:14.29px;height:10.02px;background:linear-gradient(90deg,#000000 0.0%,#000000 4.8%,#000000 9.5%,#000000 14.3%,#010000 19.0%,#040000 23.8%,#0c0000 28.6%,#210000 33.3%,#450000 38.1%,#730000 42.9%,#980000 47.6%,#9f0000 52.4%,#850000 57.1%,#580000 61.9%,#2e0000 66.7%,#130000 71.4%,#060000 76.2%,#020000 81.0%,#000000 85.7%,#000000 90.5%,#000000 95.2%,#000000 100.0%);-webkit-mask-image:linear-gradient(transparent,#000 50%);mask-image:linear-gradient(transparent,#000 50%)"></i><i style="top:19.05px;height:10.02px;background:linear-gradient(90deg,#000000 0.0%,#000000 4.8%,#000000 9.5%,#000000 14.3%,#010000 19.0%,#050000 23.8%,#100000 28.6%,#290000 33.3%,#570000 38.1%,#900000 42.9%,#bf0000 47.6%,#c80000 52.4%,#a70000 57.1%,#6e0000 61.9%,#3a0000 66.7%,#180000 71.4%,#080000 76.2%,#020000 81.0%,#000000 85.7%,#000000 90.5%,#000000 95.2%,#000000 100.0%);-webkit-mask-image:linear-gradient(transparent,#000 50%);mask-image:linear-gradient(transparent,#000 50%)"></i><i style="top:23.81px;height:10.02px;background:linear-gradient(90deg,#000000 0.0%,#000000 4.8%,#000000 9.5%,#000000 14.3%,#010000 19.0%,#050000 23.8%,#100000 28.6%,#2a0000 33.3%,#570000 38.1%,#920000 42.9%,#c00000 47.6%,#ca0000 52.4%,#a80000 57.1%,#6f0000 61.9%,#3a0000 66.7%,#180000 71.4%,#080000 76.2%,#020000 81.0%,#000000 85.7%,#000000 90.5%,#000000 95.2%,#000000 100.0%);-webkit-mask-image:linear-gradient(transparent,#000 50%);mask-image:linear-gradient(transparent,#000 50%)"></i><i style="top:28.57px;height:10.02px;background:linear-gradient(90deg,#000000 0.0%,#000000 4.8%,#000000 9.5%,#000000 14.3%,#010000 19.0%,#040000 23.8%,#0d0000 28.6%,#220000 33.3%,#480000 38.1%,#780000 42.9%,#9e0000 47.6%,#a60000 52.4%,#8a0000 57.1%,#5b0000 61.9%,#300000 66.7%,#140000 71.4%,#070000 76.2%,#020000 81.0%,#000000 85.7%,#000000 90.5%,#000000 95.2%,#000000 100.0%);-webkit-mask-image:linear-gradient(transparent,#000 50%);mask-image:linear-gradient(transparent,#000 50%)"></i><i style="top:33.33px;height:10.02px;background:linear-gradient(90deg,#000000 0.0%,#000000 4.8%,#000000 9.5%,#000000 14.3%,#010000 19.0%,#030000 23.8%,#090000 28.6%,#180000 33.3%,#320000 38.1%,#530000 42.9%,#6e0000 47.6%,#730000 52.4%,#5f0000 57.1%,#3f0000 61.9%,#210000 66.7%,#0e0000 71.4%,#040000 76.2%,#010000 81.0%,#000000 85.7%,#000000 90.5%,#000000 95.2%,#000000 100.0%);-webkit-mask-image:linear-gradient(transparent,#000 50%);mask-image:linear-gradient(transparent,#000 50%)"></i><i style="top:38.10px;height:10.02px;background:linear-gradient(90deg,#000000 0.0%,#000000 4.8%,#000000 9.5%,#000000 14.3%,#000000 19.0%,#020000 23.8%,#060000 28.6%,#100000 33.3%,#210000 38.1%,#360000 42.9%,#470000 47.6%,#4a0000 52.4%,#3d0000 57.1%,#280000 61.9%,#150000 66.7%,#090000 71.4%,#030000 76.2%,#010000 81.0%,#000000 85.7%,#000000 90.5%,#000000 95.2%,#000000 100.0%);-webkit-mask-image:linear-gradient(transparent,#000 50%);mask-image:linear-gradient(transparent,#000 50%)"></i><i style="top:42.86px;height:10.02px;background:linear-gradient(90deg,#000000 0.0%,#000000 4.8%,#000000 9.5%,#000000 14.3%,#000000 19.0%,#010000 23.8%,#040000 28.6%,#0b0000 33.3%,#170000 38.1%,#260000 42.9%,#320000 47.6%,#340000 52.4%,#2a0000 57.1%,#1b0000 61.9%,#0e0000 66.7%,#060000 71.4%,#020000 76.2%,#000000 81.0%,#000000 85.7%,#000000 90.5%,#000000 95.2%,#000000 100.0%);-webkit-mask-image:linear-gradient(transparent,#000 50%);mask-image:linear-gradient(transparent,#000 50%)"></i><i style="top:47.62px;height:10.02px;background:linear-gradient(90deg,#000000 0.0%,#000000 4.8%,#000000 9.5%,#000000 14.3%,#000000 19.0%,#010000 23.8%,#040000 28.6%,#0a0000 33.3%,#140000 38.1%,#200000 42.9%,#2a0000 47.6%,#2b0000 52.4%,#230000 57.1%,#170000 61.9%,#0c0000 66.7%,#050000 71.4%,#020000 76.2%,#000000 81.0%,#000000 85.7%,#000000 90.5%,#000000 95.2%,#000000 100.0%);-webkit-mask-image:linear-gradient(transparent,#000 50%);mask-image:linear-gradient(transparent,#000 50%)"></i><i style="top:52.38px;height:10.02px;background:linear-gradient(90deg,#000000 0.0%,#000000 4.8%,#000000 9.5%,#000000 14.3%,#000000 19.0%,#010000 23.8%,#040000 28.6%,#0a0000 33.3%,#140000 38.1%,#210000 42.9%,#2a0000 47.6%,#2b0000 52.4%,#230000 57.1%,#160000 61.9%,#0b0000 66.7%,#050000 71.4%,#010000 76.2%,#000000 81.0%,#000000 85.7%,#000000 90.5%,#000000 95.2%,#000000 100.0%);-webkit-mask-image:linear-gradient(transparent,#000 50%);mask-image:linear-gradient(transparent,#000 50%)"></i><i style="top:57.14px;height:10.02px;background:linear-gradient(90deg,#000000 0.0%,#000000 4.8%,#000000 9.5%,#000000 14.3%,#000000 19.0%,#010000 23.8%,#050000 28.6%,#0c0000 33.3%,#190000 38.1%,#280000 42.9%,#320000 47.6%,#330000 52.4%,#290000 57.1%,#1a0000 61.9%,#0d0000 66.7%,#050000 71.4%,#020000 76.2%,#000000 81.0%,#000000 85.7%,#000000 90.5%,#000000 95.2%,#000000 100.0%);-webkit-mask-image:linear-gradient(transparent,#000 50%);mask-image:linear-gradient(transparent,#000 50%)"></i><i style="top:61.90px;height:10.02px;background:linear-gradient(90deg,#000000 0.0%,#000000 4.8%,#000000 9.5%,#000000 14.3%,#000000 19.0%,#020000 23.8%,#060000 28.6%,#100000 33.3%,#210000 38.1%,#340000 42.9%,#420000 47.6%,#420000 52.4%,#350000 57.1%,#220000 61.9%,#110000 66.7%,#070000 71.4%,#020000 76.2%,#010000 81.0%,#000000 85.7%,#000000 90.5%,#000000 95.2%,#000000 100.0%);-webkit-mask-image:linear-gradient(transparent,#000 50%);mask-image:linear-gradient(transparent,#000 50%)"></i><i style="top:66.67px;height:10.02px;background:linear-gradient(90deg,#000000 0.0%,#000000 4.8%,#000000 9.5%,#000000 14.3%,#010000 19.0%,#030000 23.8%,#080000 28.6%,#150000 33.3%,#290000 38.1%,#420000 42.9%,#530000 47.6%,#530000 52.4%,#420000 57.1%,#2a0000 61.9%,#150000 66.7%,#080000 71.4%,#030000 76.2%,#010000 81.0%,#000000 85.7%,#000000 90.5%,#000000 95.2%,#000000 100.0%);-webkit-mask-image:linear-gradient(transparent,#000 50%);mask-image:linear-gradient(transparent,#000 50%)"></i><i style="top:71.43px;height:10.02px;background:linear-gradient(90deg,#000000 0.0%,#000000 4.8%,#000000 9.5%,#000000 14.3%,#010000 19.0%,#030000 23.8%,#090000 28.6%,#170000 33.3%,#2d0000 38.1%,#480000 42.9%,#5b0000 47.6%,#5b0000 52.4%,#480000 57.1%,#2d0000 61.9%,#170000 66.7%,#090000 71.4%,#030000 76.2%,#010000 81.0%,#000000 85.7%,#000000 90.5%,#000000 95.2%,#000000 100.0%);-webkit-mask-image:linear-gradient(transparent,#000 50%);mask-image:linear-gradient(transparent,#000 50%)"></i><i style="top:76.19px;height:10.02px;background:linear-gradient(90deg,#000000 0.0%,#000000 4.8%,#000000 9.5%,#000000 14.3%,#010000 19.0%,#030000 23.8%,#080000 28.6%,#140000 33.3%,#290000 38.1%,#410000 42.9%,#520000 47.6%,#520000 52.4%,#410000 57.1%,#290000 61.9%,#140000 66.7%,#080000 71.4%,#030000 76.2%,#010000 81.0%,#000000 85.7%,#000000 90.5%,#000000 95.2%,#000000 100.0%);-webkit-mask-image:linear-gradient(transparent,#000 50%);mask-image:linear-gradient(transparent,#000 50%)"></i><i style="top:80.95px;height:10.02px;background:linear-gradient(90deg,#000000 0.0%,#000000 4.8%,#000000 9.5%,#000000 14.3%,#000000 19.0%,#020000 23.8%,#060000 28.6%,#0f0000 33.3%,#1e0000 38.1%,#2f0000 42.9%,#3b0000 47.6%,#3b0000 52.4%,#2f0000 57.1%,#1e0000 61.9%,#0f0000 66.7%,#060000 71.4%,#020000 76.2%,#000000 81.0%,#000000 85.7%,#000000 90.5%,#000000 95.2%,#000000 100.0%);-webkit-mask-image:linear-gradient(transparent,#000 50%);mask-image:linear-gradient(transparent,#000 50%)"></i><i style="top:85.71px;height:10.02px;background:linear-gradient(90deg,#000000 0.0%,#000000 4.8%,#000000 9.5%,#000000 14.3%,#000000 19.0%,#010000 23.8%,#030000 28.6%,#090000 33.3%,#110000 38.1%,#1b0000 42.9%,#220000 47.6%,#220000 52.4%,#1b0000 57.1%,#110000 61.9%,#090000 66.7%,#030000 71.4%,#010000 76.2%,#000000 81.0%,#000000 85.7%,#000000 90.5%,#000000 95.2%,#000000 100.0%);-webkit-mask-image:linear-gradient(transparent,#000 50%);mask-image:linear-gradient(transparent,#000 50%)"></i><i style="top:90.48px;height:10.02px;background:linear-gradient(90deg,#000000 0.0%,#000000 4.8%,#000000 9.5%,#000000 14.3%,#000000 19.0%,#000000 23.8%,#020000 28.6%,#040000 33.3%,#080000 38.1%,#0d0000 42.9%,#100000 47.6%,#100000 52.4%,#0d0000 57.1%,#080000 61.9%,#040000 66.7%,#020000 71.4%,#000000 76.2%,#000000 81.0%,#000000 85.7%,#000000 90.5%,#000000 95.2%,#000000 100.0%);-webkit-mask-image:linear-gradient(transparent,#000 50%);mask-image:linear-gradient(transparent,#000 50%)"></i><i style="top:95.24px;height:10.02px;background:linear-gradient(90deg,#000000 0.0%,#000000 4.8%,#000000 9.5%,#000000 14.3%,#000000 19.0%,#000000 23.8%,#010000 28.6%,#010000 33.3%,#030000 38.1%,#050000 42.9%,#060000 47.6%,#060000 52.4%,#050000 57.1%,#030000 61.9%,#010000 66.7%,#010000 71.4%,#000000 76.2%,#000000 81.0%,#000000 85.7%,#000000 90.5%,#000000 95.2%,#000000 100.0%);-webkit-mask-image:linear-gradient(transparent,#000 50%);mask-image:linear-gradient(transparent,#000 50%)"></i></div><div class="hm sl" style="transform:matrix(0.9740,-0.4150,-0.7390,-0.5630,975.70,318.80)"><i style="top:0;height:5.26px;background:linear-gradient(90deg,#000000 0.0%,#000000 4.8%,#000000 9.5%,#000000 14.3%,#000000 19.0%,#000000 23.8%,#000000 28.6%,#010000 33.3%,#020000 38.1%,#030000 42.9%,#040000 47.6%,#040000 52.4%,#040000 57.1%,#030000 61.9%,#010000 66.7%,#010000 71.4%,#000000 76.2%,#000000 81.0%,#000000 85.7%,#000000 90.5%,#000000 95.2%,#000000 100.0%)"></i><i style="top:0.00px;height:10.02px;background:linear-gradient(90deg,#000000 0.0%,#000000 4.8%,#000000 9.5%,#000000 14.3%,#000000 19.0%,#000000 23.8%,#010000 28.6%,#030000 33.3%,#060000 38.1%,#090000 42.9%,#0b0000 47.6%,#0c0000 52.4%,#0a0000 57.1%,#070000 61.9%,#040000 66.7%,#020000 71.4%,#010000 76.2%,#000000 81.0%,#000000 85.7%,#000000 90.5%,#000000 95.2%,#000000 100.0%);-webkit-mask-image:linear-gradient(transparent,#000 50%);mask-image:linear-gradient(transparent,#000 50%)"></i><i style="top:4.76px;height:10.02px;background:linear-gradient(90deg,#000000 0.0%,#000000 4.8%,#000000 9.5%,#000000 14.3%,#000000 19.0%,#010000 23.8%,#030000 28.6%,#070000 33.3%,#0d0000 38.1%,#140000 42.9%,#190000 47.6%,#1a0000 52.4%,#160000 57.1%,#100000 61.9%,#090000 66.7%,#040000 71.4%,#020000 76.2%,#000000 81.0%,#000000 85.7%,#000000 90.5%,#000000 95.2%,#000000 100.0%);-webkit-mask-image:linear-gradient(transparent,#000 50%);mask-image:linear-gradient(transparent,#000 50%)"></i><i style="top:9.52px;height:10.02px;background:linear-gradient(90deg,#000000 0.0%,#000000 4.8%,#000000 9.5%,#000000 14.3%,#010000 19.0%,#020000 23.8%,#050000 28.6%,#0c0000 33.3%,#170000 38.1%,#240000 42.9%,#2e0000 47.6%,#300000 52.4%,#290000 57.1%,#1c0000 61.9%,#100000 66.7%,#080000 71.4%,#030000 76.2%,#010000 81.0%,#000000 85.7%,#000000 90.5%,#000000 95.2%,#000000 100.0%);-webkit-mask-image:linear-gradient(transparent,#000 50%);mask-image:linear-gradient(transparent,#000 50%)"></i><i style="top:14.29px;height:10.02px;background:linear-gradient(90deg,#000000 0.0%,#000000 4.8%,#000000 9.5%,#000000 14.3%,#010000 19.0%,#030000 23.8%,#080000 28.6%,#120000 33.3%,#220000 38.1%,#360000 42.9%,#440000 47.6%,#470000 52.4%,#3d0000 57.1%,#2a0000 61.9%,#180000 66.7%,#0b0000 71.4%,#040000 76.2%,#010000 81.0%,#000000 85.7%,#000000 90.5%,#000000 95.2%,#000000 100.0%);-webkit-mask-image:linear-gradient(transparent,#000 50%);mask-image:linear-gradient(transparent,#000 50%)"></i><i style="top:19.05px;height:10.02px;background:linear-gradient(90deg,#000000 0.0%,#000000 4.8%,#000000 9.5%,#000000 14.3%,#010000 19.0%,#030000 23.8%,#090000 28.6%,#160000 33.3%,#2a0000 38.1%,#410000 42.9%,#530000 47.6%,#570000 52.4%,#4a0000 57.1%,#340000 61.9%,#1d0000 66.7%,#0e0000 71.4%,#050000 76.2%,#020000 81.0%,#000000 85.7%,#000000 90.5%,#000000 95.2%,#000000 100.0%);-webkit-mask-image:linear-gradient(transparent,#000 50%);mask-image:linear-gradient(transparent,#000 50%)"></i><i style="top:23.81px;height:10.02px;background:linear-gradient(90deg,#000000 0.0%,#000000 4.8%,#000000 9.5%,#000000 14.3%,#010000 19.0%,#030000 23.8%,#090000 28.6%,#160000 33.3%,#2a0000 38.1%,#420000 42.9%,#540000 47.6%,#580000 52.4%,#4b0000 57.1%,#340000 61.9%,#1e0000 66.7%,#0e0000 71.4%,#050000 76.2%,#020000 81.0%,#000000 85.7%,#000000 90.5%,#000000 95.2%,#000000 100.0%);-webkit-mask-image:linear-gradient(transparent,#000 50%);mask-image:linear-gradient(transparent,#000 50%)"></i><i style="top:28.57px;height:10.02px;background:linear-gradient(90deg,#000000 0.0%,#000000 4.8%,#000000 9.5%,#000000 14.3%,#010000 19.0%,#030000 23.8%,#080000 28.6%,#130000 33.3%,#240000 38.1%,#380000 42.9%,#470000 47.6%,#4a0000 52.4%,#3f0000 57.1%,#2c0000 61.9%,#190000 66.7%,#0c0000 71.4%,#040000 76.2%,#010000 81.0%,#000000 85.7%,#000000 90.5%,#000000 95.2%,#000000 100.0%);-webkit-mask-image:linear-gradient(transparent,#000 50%);mask-image:linear-gradient(transparent,#000 50%)"></i><i style="top:33.33px;height:10.02px;background:linear-gradient(90deg,#000000 0.0%,#000000 4.8%,#000000 9.5%,#000000 14.3%,#010000 19.0%,#020000 23.8%,#060000 28.6%,#0e0000 33.3%,#1a0000 38.1%,#280000 42.9%,#330000 47.6%,#350000 52.4%,#2d0000 57.1%,#200000 61.9%,#120000 66.7%,#080000 71.4%,#030000 76.2%,#010000 81.0%,#000000 85.7%,#000000 90.5%,#000000 95.2%,#000000 100.0%);-webkit-mask-image:linear-gradient(transparent,#000 50%);mask-image:linear-gradient(transparent,#000 50%)"></i><i style="top:38.10px;height:10.02px;background:linear-gradient(90deg,#000000 0.0%,#000000 4.8%,#000000 9.5%,#000000 14.3%,#000000 19.0%,#010000 23.8%,#040000 28.6%,#090000 33.3%,#110000 38.1%,#1b0000 42.9%,#220000 47.6%,#240000 52.4%,#1e0000 57.1%,#150000 61.9%,#0c0000 66.7%,#050000 71.4%,#020000 76.2%,#010000 81.0%,#000000 85.7%,#000000 90.5%,#000000 95.2%,#000000 100.0%);-webkit-mask-image:linear-gradient(transparent,#000 50%);mask-image:linear-gradient(transparent,#000 50%)"></i><i style="top:42.86px;height:10.02px;background:linear-gradient(90deg,#000000 0.0%,#000000 4.8%,#000000 9.5%,#000000 14.3%,#000000 19.0%,#010000 23.8%,#030000 28.6%,#060000 33.3%,#0c0000 38.1%,#130000 42.9%,#180000 47.6%,#180000 52.4%,#150000 57.1%,#0e0000 61.9%,#080000 66.7%,#040000 71.4%,#010000 76.2%,#000000 81.0%,#000000 85.7%,#000000 90.5%,#000000 95.2%,#000000 100.0%);-webkit-mask-image:linear-gradient(transparent,#000 50%);mask-image:linear-gradient(transparent,#000 50%)"></i><i style="top:47.62px;height:10.02px;background:linear-gradient(90deg,#000000 0.0%,#000000 4.8%,#000000 9.5%,#000000 14.3%,#000000 19.0%,#010000 23.8%,#020000 28.6%,#050000 33.3%,#0a0000 38.1%,#0f0000 42.9%,#130000 47.6%,#130000 52.4%,#100000 57.1%,#0b0000 61.9%,#060000 66.7%,#030000 71.4%,#010000 76.2%,#000000 81.0%,#000000 85.7%,#000000 90.5%,#000000 95.2%,#000000 100.0%);-webkit-mask-image:linear-gradient(transparent,#000 50%);mask-image:linear-gradient(transparent,#000 50%)"></i><i style="top:52.38px;height:10.02px;background:linear-gradient(90deg,#000000 0.0%,#000000 4.8%,#000000 9.5%,#000000 14.3%,#000000 19.0%,#010000 23.8%,#020000 28.6%,#050000 33.3%,#090000 38.1%,#0e0000 42.9%,#120000 47.6%,#120000 52.4%,#0f0000 57.1%,#0a0000 61.9%,#060000 66.7%,#030000 71.4%,#010000 76.2%,#000000 81.0%,#000000 85.7%,#000000 90.5%,#000000 95.2%,#000000 100.0%);-webkit-mask-image:linear-gradient(transparent,#000 50%);mask-image:linear-gradient(transparent,#000 50%)"></i><i style="top:57.14px;height:10.02px;background:linear-gradient(90deg,#000000 0.0%,#000000 4.8%,#000000 9.5%,#000000 14.3%,#000000 19.0%,#010000 23.8%,#020000 28.6%,#060000 33.3%,#0a0000 38.1%,#100000 42.9%,#130000 47.6%,#140000 52.4%,#100000 57.1%,#0b0000 61.9%,#060000 66.7%,#030000 71.4%,#010000 76.2%,#000000 81.0%,#000000 85.7%,#000000 90.5%,#000000 95.2%,#000000 100.0%);-webkit-mask-image:linear-gradient(transparent,#000 50%);mask-image:linear-gradient(transparent,#000 50%)"></i><i style="top:61.90px;height:10.02px;background:linear-gradient(90deg,#000000 0.0%,#000000 4.8%,#000000 9.5%,#000000 14.3%,#000000 19.0%,#010000 23.8%,#030000 28.6%,#070000 33.3%,#0c0000 38.1%,#130000 42.9%,#170000 47.6%,#170000 52.4%,#130000 57.1%,#0d0000 61.9%,#070000 66.7%,#030000 71.4%,#010000 76.2%,#000000 81.0%,#000000 85.7%,#000000 90.5%,#000000 95.2%,#000000 100.0%);-webkit-mask-image:linear-gradient(transparent,#000 50%);mask-image:linear-gradient(transparent,#000 50%)"></i><i style="top:66.67px;height:10.02px;background:linear-gradient(90deg,#000000 0.0%,#000000 4.8%,#000000 9.5%,#000000 14.3%,#000000 19.0%,#010000 23.8%,#040000 28.6%,#080000 33.3%,#0f0000 38.1%,#160000 42.9%,#1b0000 47.6%,#1b0000 52.4%,#160000 57.1%,#0f0000 61.9%,#080000 66.7%,#040000 71.4%,#010000 76.2%,#000000 81.0%,#000000 85.7%,#000000 90.5%,#000000 95.2%,#000000 100.0%);-webkit-mask-image:linear-gradient(transparent,#000 50%);mask-image:linear-gradient(transparent,#000 50%)"></i><i style="top:71.43px;height:10.02px;background:linear-gradient(90deg,#000000 0.0%,#000000 4.8%,#000000 9.5%,#000000 14.3%,#000000 19.0%,#010000 23.8%,#040000 28.6%,#080000 33.3%,#0f0000 38.1%,#170000 42.9%,#1c0000 47.6%,#1c0000 52.4%,#170000 57.1%,#100000 61.9%,#090000 66.7%,#040000 71.4%,#010000 76.2%,#000000 81.0%,#000000 85.7%,#000000 90.5%,#000000 95.2%,#000000 100.0%);-webkit-mask-image:linear-gradient(transparent,#000 50%);mask-image:linear-gradient(transparent,#000 50%)"></i><i style="top:76.19px;height:10.02px;background:linear-gradient(90deg,#000000 0.0%,#000000 4.8%,#000000 9.5%,#000000 14.3%,#000000 19.0%,#010000 23.8%,#030000 28.6%,#080000 33.3%,#0e0000 38.1%,#150000 42.9%,#1a0000 47.6%,#1a0000 52.4%,#150000 57.1%,#0e0000 61.9%,#080000 66.7%,#030000 71.4%,#010000 76.2%,#000000 81.0%,#000000 85.7%,#000000 90.5%,#000000 95.2%,#000000 100.0%);-webkit-mask-image:linear-gradient(transparent,#000 50%);mask-image:linear-gradient(transparent,#000 50%)"></i><i style="top:80.95px;height:10.02px;background:linear-gradient(90deg,#000000 0.0%,#000000 4.8%,#000000 9.5%,#000000 14.3%,#000000 19.0%,#010000 23.8%,#030000 28.6%,#060000 33.3%,#0b0000 38.1%,#100000 42.9%,#130000 47.6%,#130000 52.4%,#100000 57.1%,#0b0000 61.9%,#060000 66.7%,#030000 71.4%,#010000 76.2%,#000000 81.0%,#000000 85.7%,#000000 90.5%,#000000 95.2%,#000000 100.0%);-webkit-mask-image:linear-gradient(transparent,#000 50%);mask-image:linear-gradient(transparent,#000 50%)"></i><i style="top:85.71px;height:10.02px;background:linear-gradient(90deg,#000000 0.0%,#000000 4.8%,#000000 9.5%,#000000 14.3%,#000000 19.0%,#010000 23.8%,#020000 28.6%,#040000 33.3%,#070000 38.1%,#0a0000 42.9%,#0c0000 47.6%,#0c0000 52.4%,#0a0000 57.1%,#070000 61.9%,#040000 66.7%,#020000 71.4%,#010000 76.2%,#000000 81.0%,#000000 85.7%,#000000 90.5%,#000000 95.2%,#000000 100.0%);-webkit-mask-image:linear-gradient(transparent,#000 50%);mask-image:linear-gradient(transparent,#000 50%)"></i><i style="top:90.48px;height:10.02px;background:linear-gradient(90deg,#000000 0.0%,#000000 4.8%,#000000 9.5%,#000000 14.3%,#000000 19.0%,#000000 23.8%,#010000 28.6%,#020000 33.3%,#030000 38.1%,#050000 42.9%,#060000 47.6%,#060000 52.4%,#050000 57.1%,#030000 61.9%,#020000 66.7%,#010000 71.4%,#000000 76.2%,#000000 81.0%,#000000 85.7%,#000000 90.5%,#000000 95.2%,#000000 100.0%);-webkit-mask-image:linear-gradient(transparent,#000 50%);mask-image:linear-gradient(transparent,#000 50%)"></i><i style="top:95.24px;height:10.02px;background:linear-gradient(90deg,#000000 0.0%,#000000 4.8%,#000000 9.5%,#000000 14.3%,#000000 19.0%,#000000 23.8%,#000000 28.6%,#010000 33.3%,#010000 38.1%,#020000 42.9%,#030000 47.6%,#030000 52.4%,#020000 57.1%,#010000 61.9%,#010000 66.7%,#000000 71.4%,#000000 76.2%,#000000 81.0%,#000000 85.7%,#000000 90.5%,#000000 95.2%,#000000 100.0%);-webkit-mask-image:linear-gradient(transparent,#000 50%);mask-image:linear-gradient(transparent,#000 50%)"></i></div><div class="hm sl" style="transform:matrix(0.9740,-0.4150,-0.7390,-0.5630,975.70,227.50)"><i style="top:0;height:5.26px;background:linear-gradient(90deg,#000000 0.0%,#000000 4.8%,#000000 9.5%,#000000 14.3%,#000000 19.0%,#000000 23.8%,#000000 28.6%,#010000 33.3%,#010000 38.1%,#020000 42.9%,#020000 47.6%,#020000 52.4%,#020000 57.1%,#010000 61.9%,#010000 66.7%,#000000 71.4%,#000000 76.2%,#000000 81.0%,#000000 85.7%,#000000 90.5%,#000000 95.2%,#000000 100.0%)"></i><i style="top:0.00px;height:10.02px;background:linear-gradient(90deg,#000000 0.0%,#000000 4.8%,#000000 9.5%,#000000 14.3%,#000000 19.0%,#000000 23.8%,#010000 28.6%,#010000 33.3%,#030000 38.1%,#040000 42.9%,#050000 47.6%,#050000 52.4%,#050000 57.1%,#030000 61.9%,#020000 66.7%,#010000 71.4%,#000000 76.2%,#000000 81.0%,#000000 85.7%,#000000 90.5%,#000000 95.2%,#000000 100.0%);-webkit-mask-image:linear-gradient(transparent,#000 50%);mask-image:linear-gradient(transparent,#000 50%)"></i><i style="top:4.76px;height:10.02px;background:linear-gradient(90deg,#000000 0.0%,#000000 4.8%,#000000 9.5%,#000000 14.3%,#000000 19.0%,#000000 23.8%,#010000 28.6%,#030000 33.3%,#060000 38.1%,#090000 42.9%,#0c0000 47.6%,#0c0000 52.4%,#0a0000 57.1%,#070000 61.9%,#040000 66.7%,#020000 71.4%,#010000 76.2%,#000000 81.0%,#000000 85.7%,#000000 90.5%,#000000 95.2%,#000000 100.0%);-webkit-mask-image:linear-gradient(transparent,#000 50%);mask-image:linear-gradient(transparent,#000 50%)"></i><i style="top:9.52px;height:10.02px;background:linear-gradient(90deg,#000000 0.0%,#000000 4.8%,#000000 9.5%,#000000 14.3%,#000000 19.0%,#010000 23.8%,#020000 28.6%,#060000 33.3%,#0b0000 38.1%,#110000 42.9%,#150000 47.6%,#160000 52.4%,#130000 57.1%,#0d0000 61.9%,#070000 66.7%,#030000 71.4%,#010000 76.2%,#000000 81.0%,#000000 85.7%,#000000 90.5%,#000000 95.2%,#000000 100.0%);-webkit-mask-image:linear-gradient(transparent,#000 50%);mask-image:linear-gradient(transparent,#000 50%)"></i><i style="top:14.29px;height:10.02px;background:linear-gradient(90deg,#000000 0.0%,#000000 4.8%,#000000 9.5%,#000000 14.3%,#000000 19.0%,#010000 23.8%,#040000 28.6%,#080000 33.3%,#100000 38.1%,#190000 42.9%,#1f0000 47.6%,#210000 52.4%,#1c0000 57.1%,#130000 61.9%,#0b0000 66.7%,#050000 71.4%,#020000 76.2%,#010000 81.0%,#000000 85.7%,#000000 90.5%,#000000 95.2%,#000000 100.0%);-webkit-mask-image:linear-gradient(transparent,#000 50%);mask-image:linear-gradient(transparent,#000 50%)"></i><i style="top:19.05px;height:10.02px;background:linear-gradient(90deg,#000000 0.0%,#000000 4.8%,#000000 9.5%,#000000 14.3%,#000000 19.0%,#010000 23.8%,#040000 28.6%,#0a0000 33.3%,#130000 38.1%,#1e0000 42.9%,#260000 47.6%,#280000 52.4%,#220000 57.1%,#180000 61.9%,#0d0000 66.7%,#060000 71.4%,#020000 76.2%,#010000 81.0%,#000000 85.7%,#000000 90.5%,#000000 95.2%,#000000 100.0%);-webkit-mask-image:linear-gradient(transparent,#000 50%);mask-image:linear-gradient(transparent,#000 50%)"></i><i style="top:23.81px;height:10.02px;background:linear-gradient(90deg,#000000 0.0%,#000000 4.8%,#000000 9.5%,#000000 14.3%,#000000 19.0%,#010000 23.8%,#040000 28.6%,#0a0000 33.3%,#130000 38.1%,#1e0000 42.9%,#260000 47.6%,#270000 52.4%,#220000 57.1%,#170000 61.9%,#0d0000 66.7%,#060000 71.4%,#020000 76.2%,#010000 81.0%,#000000 85.7%,#000000 90.5%,#000000 95.2%,#000000 100.0%);-webkit-mask-image:linear-gradient(transparent,#000 50%);mask-image:linear-gradient(transparent,#000 50%)"></i><i style="top:28.57px;height:10.02px;background:linear-gradient(90deg,#000000 0.0%,#000000 4.8%,#000000 9.5%,#000000 14.3%,#000000 19.0%,#010000 23.8%,#030000 28.6%,#080000 33.3%,#0f0000 38.1%,#180000 42.9%,#1f0000 47.6%,#200000 52.4%,#1b0000 57.1%,#130000 61.9%,#0b0000 66.7%,#050000 71.4%,#020000 76.2%,#010000 81.0%,#000000 85.7%,#000000 90.5%,#000000 95.2%,#000000 100.0%);-webkit-mask-image:linear-gradient(transparent,#000 50%);mask-image:linear-gradient(transparent,#000 50%)"></i><i style="top:33.33px;height:10.02px;background:linear-gradient(90deg,#000000 0.0%,#000000 4.8%,#000000 9.5%,#000000 14.3%,#000000 19.0%,#010000 23.8%,#020000 28.6%,#050000 33.3%,#0a0000 38.1%,#100000 42.9%,#140000 47.6%,#150000 52.4%,#120000 57.1%,#0d0000 61.9%,#070000 66.7%,#030000 71.4%,#010000 76.2%,#000000 81.0%,#000000 85.7%,#000000 90.5%,#000000 95.2%,#000000 100.0%);-webkit-mask-image:linear-gradient(transparent,#000 50%);mask-image:linear-gradient(transparent,#000 50%)"></i><i style="top:38.10px;height:10.02px;background:linear-gradient(90deg,#000000 0.0%,#000000 4.8%,#000000 9.5%,#000000 14.3%,#000000 19.0%,#000000 23.8%,#010000 28.6%,#030000 33.3%,#060000 38.1%,#090000 42.9%,#0b0000 47.6%,#0b0000 52.4%,#0a0000 57.1%,#070000 61.9%,#040000 66.7%,#020000 71.4%,#010000 76.2%,#000000 81.0%,#000000 85.7%,#000000 90.5%,#000000 95.2%,#000000 100.0%);-webkit-mask-image:linear-gradient(transparent,#000 50%);mask-image:linear-gradient(transparent,#000 50%)"></i><i style="top:42.86px;height:10.02px;background:linear-gradient(90deg,#000000 0.0%,#000000 4.8%,#000000 9.5%,#000000 14.3%,#000000 19.0%,#000000 23.8%,#010000 28.6%,#010000 33.3%,#030000 38.1%,#040000 42.9%,#050000 47.6%,#050000 52.4%,#040000 57.1%,#030000 61.9%,#020000 66.7%,#010000 71.4%,#000000 76.2%,#000000 81.0%,#000000 85.7%,#000000 90.5%,#000000 95.2%,#000000 100.0%);-webkit-mask-image:linear-gradient(transparent,#000 50%);mask-image:linear-gradient(transparent,#000 50%)"></i><i style="top:47.62px;height:10.02px;background:linear-gradient(90deg,#000000 0.0%,#000000 4.8%,#000000 9.5%,#000000 14.3%,#000000 19.0%,#000000 23.8%,#000000 28.6%,#010000 33.3%,#010000 38.1%,#020000 42.9%,#020000 47.6%,#030000 52.4%,#020000 57.1%,#010000 61.9%,#010000 66.7%,#000000 71.4%,#000000 76.2%,#000000 81.0%,#000000 85.7%,#000000 90.5%,#000000 95.2%,#000000 100.0%);-webkit-mask-image:linear-gradient(transparent,#000 50%);mask-image:linear-gradient(transparent,#000 50%)"></i><i style="top:52.38px;height:10.02px;background:linear-gradient(90deg,#000000 0.0%,#000000 4.8%,#000000 9.5%,#000000 14.3%,#000000 19.0%,#000000 23.8%,#000000 28.6%,#010000 33.3%,#010000 38.1%,#020000 42.9%,#020000 47.6%,#020000 52.4%,#020000 57.1%,#010000 61.9%,#010000 66.7%,#000000 71.4%,#000000 76.2%,#000000 81.0%,#000000 85.7%,#000000 90.5%,#000000 95.2%,#000000 100.0%);-webkit-mask-image:linear-gradient(transparent,#000 50%);mask-image:linear-gradient(transparent,#000 50%)"></i><i style="top:57.14px;height:10.02px;background:linear-gradient(90deg,#000000 0.0%,#000000 4.8%,#000000 9.5%,#000000 14.3%,#000000 19.0%,#000000 23.8%,#000000 28.6%,#010000 33.3%,#020000 38.1%,#030000 42.9%,#040000 47.6%,#040000 52.4%,#030000 57.1%,#020000 61.9%,#010000 66.7%,#010000 71.4%,#000000 76.2%,#000000 81.0%,#000000 85.7%,#000000 90.5%,#000000 95.2%,#000000 100.0%);-webkit-mask-image:linear-gradient(transparent,#000 50%);mask-image:linear-gradient(transparent,#000 50%)"></i><i style="top:61.90px;height:10.02px;background:linear-gradient(90deg,#000000 0.0%,#000000 4.8%,#000000 9.5%,#000000 14.3%,#000000 19.0%,#000000 23.8%,#010000 28.6%,#020000 33.3%,#030000 38.1%,#050000 42.9%,#060000 47.6%,#060000 52.4%,#050000 57.1%,#030000 61.9%,#020000 66.7%,#010000 71.4%,#000000 76.2%,#000000 81.0%,#000000 85.7%,#000000 90.5%,#000000 95.2%,#000000 100.0%);-webkit-mask-image:linear-gradient(transparent,#000 50%);mask-image:linear-gradient(transparent,#000 50%)"></i><i style="top:66.67px;height:10.02px;background:linear-gradient(90deg,#000000 0.0%,#000000 4.8%,#000000 9.5%,#000000 14.3%,#000000 19.0%,#000000 23.8%,#010000 28.6%,#030000 33.3%,#050000 38.1%,#070000 42.9%,#090000 47.6%,#090000 52.4%,#070000 57.1%,#050000 61.9%,#030000 66.7%,#010000 71.4%,#000000 76.2%,#000000 81.0%,#000000 85.7%,#000000 90.5%,#000000 95.2%,#000000 100.0%);-webkit-mask-image:linear-gradient(transparent,#000 50%);mask-image:linear-gradient(transparent,#000 50%)"></i><i style="top:71.43px;height:10.02px;background:linear-gradient(90deg,#000000 0.0%,#000000 4.8%,#000000 9.5%,#000000 14.3%,#000000 19.0%,#000000 23.8%,#010000 28.6%,#030000 33.3%,#050000 38.1%,#080000 42.9%,#0a0000 47.6%,#0a0000 52.4%,#080000 57.1%,#050000 61.9%,#030000 66.7%,#010000 71.4%,#000000 76.2%,#000000 81.0%,#000000 85.7%,#000000 90.5%,#000000 95.2%,#000000 100.0%);-webkit-mask-image:linear-gradient(transparent,#000 50%);mask-image:linear-gradient(transparent,#000 50%)"></i><i style="top:76.19px;height:10.02px;background:linear-gradient(90deg,#000000 0.0%,#000000 4.8%,#000000 9.5%,#000000 14.3%,#000000 19.0%,#000000 23.8%,#010000 28.6%,#030000 33.3%,#050000 38.1%,#080000 42.9%,#090000 47.6%,#090000 52.4%,#080000 57.1%,#050000 61.9%,#030000 66.7%,#010000 71.4%,#000000 76.2%,#000000 81.0%,#000000 85.7%,#000000 90.5%,#000000 95.2%,#000000 100.0%);-webkit-mask-image:linear-gradient(transparent,#000 50%);mask-image:linear-gradient(transparent,#000 50%)"></i><i style="top:80.95px;height:10.02px;background:linear-gradient(90deg,#000000 0.0%,#000000 4.8%,#000000 9.5%,#000000 14.3%,#000000 19.0%,#000000 23.8%,#010000 28.6%,#020000 33.3%,#040000 38.1%,#060000 42.9%,#070000 47.6%,#070000 52.4%,#060000 57.1%,#040000 61.9%,#020000 66.7%,#010000 71.4%,#000000 76.2%,#000000 81.0%,#000000 85.7%,#000000 90.5%,#000000 95.2%,#000000 100.0%);-webkit-mask-image:linear-gradient(transparent,#000 50%);mask-image:linear-gradient(transparent,#000 50%)"></i><i style="top:85.71px;height:10.02px;background:linear-gradient(90deg,#000000 0.0%,#000000 4.8%,#000000 9.5%,#000000 14.3%,#000000 19.0%,#000000 23.8%,#010000 28.6%,#010000 33.3%,#020000 38.1%,#040000 42.9%,#040000 47.6%,#040000 52.4%,#040000 57.1%,#020000 61.9%,#010000 66.7%,#010000 71.4%,#000000 76.2%,#000000 81.0%,#000000 85.7%,#000000 90.5%,#000000 95.2%,#000000 100.0%);-webkit-mask-image:linear-gradient(transparent,#000 50%);mask-image:linear-gradient(transparent,#000 50%)"></i><i style="top:90.48px;height:10.02px;background:linear-gradient(90deg,#000000 0.0%,#000000 4.8%,#000000 9.5%,#000000 14.3%,#000000 19.0%,#000000 23.8%,#000000 28.6%,#010000 33.3%,#010000 38.1%,#020000 42.9%,#020000 47.6%,#020000 52.4%,#020000 57.1%,#010000 61.9%,#010000 66.7%,#000000 71.4%,#000000 76.2%,#000000 81.0%,#000000 85.7%,#000000 90.5%,#000000 95.2%,#000000 100.0%);-webkit-mask-image:linear-gradient(transparent,#000 50%);mask-image:linear-gradient(transparent,#000 50%)"></i><i style="top:95.24px;height:10.02px;background:linear-gradient(90deg,#000000 0.0%,#000000 4.8%,#000000 9.5%,#000000 14.3%,#000000 19.0%,#000000 23.8%,#000000 28.6%,#000000 33.3%,#010000 38.1%,#010000 42.9%,#010000 47.6%,#010000 52.4%,#010000 57.1%,#010000 61.9%,#000000 66.7%,#000000 71.4%,#000000 76.2%,#000000 81.0%,#000000 85.7%,#000000 90.5%,#000000 95.2%,#000000 100.0%);-webkit-mask-image:linear-gradient(transparent,#000 50%);mask-image:linear-gradient(transparent,#000 50%)"></i></div><div class="hm sl" style="transform:matrix(0.9740,-0.4150,-0.7390,-0.5630,975.70,151.30)"><i style="top:0;height:5.26px;background:linear-gradient(90deg,#000000 0.0%,#000000 4.8%,#000000 9.5%,#000000 14.3%,#000000 19.0%,#000000 23.8%,#000000 28.6%,#000000 33.3%,#000000 38.1%,#000000 42.9%,#000000 47.6%,#000000 52.4%,#000000 57.1%,#000000 61.9%,#000000 66.7%,#000000 71.4%,#000000 76.2%,#000000 81.0%,#000000 85.7%,#000000 90.5%,#000000 95.2%,#000000 100.0%)"></i><i style="top:0.00px;height:10.02px;background:linear-gradient(90deg,#000000 0.0%,#000000 4.8%,#000000 9.5%,#000000 14.3%,#000000 19.0%,#000000 23.8%,#000000 28.6%,#000000 33.3%,#000000 38.1%,#000000 42.9%,#010000 47.6%,#010000 52.4%,#000000 57.1%,#000000 61.9%,#000000 66.7%,#000000 71.4%,#000000 76.2%,#000000 81.0%,#000000 85.7%,#000000 90.5%,#000000 95.2%,#000000 100.0%);-webkit-mask-image:linear-gradient(transparent,#000 50%);mask-image:linear-gradient(transparent,#000 50%)"></i><i style="top:4.76px;height:10.02px;background:linear-gradient(90deg,#000000 0.0%,#000000 4.8%,#000000 9.5%,#000000 14.3%,#000000 19.0%,#000000 23.8%,#000000 28.6%,#000000 33.3%,#010000 38.1%,#010000 42.9%,#010000 47.6%,#010000 52.4%,#010000 57.1%,#010000 61.9%,#000000 66.7%,#000000 71.4%,#000000 76.2%,#000000 81.0%,#000000 85.7%,#000000 90.5%,#000000 95.2%,#000000 100.0%);-webkit-mask-image:linear-gradient(transparent,#000 50%);mask-image:linear-gradient(transparent,#000 50%)"></i><i style="top:9.52px;height:10.02px;background:linear-gradient(90deg,#000000 0.0%,#000000 4.8%,#000000 9.5%,#000000 14.3%,#000000 19.0%,#000000 23.8%,#000000 28.6%,#010000 33.3%,#010000 38.1%,#020000 42.9%,#030000 47.6%,#030000 52.4%,#020000 57.1%,#010000 61.9%,#010000 66.7%,#000000 71.4%,#000000 76.2%,#000000 81.0%,#000000 85.7%,#000000 90.5%,#000000 95.2%,#000000 100.0%);-webkit-mask-image:linear-gradient(transparent,#000 50%);mask-image:linear-gradient(transparent,#000 50%)"></i><i style="top:14.29px;height:10.02px;background:linear-gradient(90deg,#000000 0.0%,#000000 4.8%,#000000 9.5%,#000000 14.3%,#000000 19.0%,#000000 23.8%,#000000 28.6%,#010000 33.3%,#020000 38.1%,#030000 42.9%,#040000 47.6%,#040000 52.4%,#040000 57.1%,#020000 61.9%,#010000 66.7%,#010000 71.4%,#000000 76.2%,#000000 81.0%,#000000 85.7%,#000000 90.5%,#000000 95.2%,#000000 100.0%);-webkit-mask-image:linear-gradient(transparent,#000 50%);mask-image:linear-gradient(transparent,#000 50%)"></i><i style="top:19.05px;height:10.02px;background:linear-gradient(90deg,#000000 0.0%,#000000 4.8%,#000000 9.5%,#000000 14.3%,#000000 19.0%,#000000 23.8%,#000000 28.6%,#010000 33.3%,#020000 38.1%,#040000 42.9%,#050000 47.6%,#050000 52.4%,#040000 57.1%,#030000 61.9%,#020000 66.7%,#010000 71.4%,#000000 76.2%,#000000 81.0%,#000000 85.7%,#000000 90.5%,#000000 95.2%,#000000 100.0%);-webkit-mask-image:linear-gradient(transparent,#000 50%);mask-image:linear-gradient(transparent,#000 50%)"></i><i style="top:23.81px;height:10.02px;background:linear-gradient(90deg,#000000 0.0%,#000000 4.8%,#000000 9.5%,#000000 14.3%,#000000 19.0%,#000000 23.8%,#000000 28.6%,#010000 33.3%,#020000 38.1%,#040000 42.9%,#050000 47.6%,#050000 52.4%,#040000 57.1%,#030000 61.9%,#020000 66.7%,#010000 71.4%,#000000 76.2%,#000000 81.0%,#000000 85.7%,#000000 90.5%,#000000 95.2%,#000000 100.0%);-webkit-mask-image:linear-gradient(transparent,#000 50%);mask-image:linear-gradient(transparent,#000 50%)"></i><i style="top:28.57px;height:10.02px;background:linear-gradient(90deg,#000000 0.0%,#000000 4.8%,#000000 9.5%,#000000 14.3%,#000000 19.0%,#000000 23.8%,#000000 28.6%,#010000 33.3%,#020000 38.1%,#030000 42.9%,#040000 47.6%,#040000 52.4%,#030000 57.1%,#020000 61.9%,#010000 66.7%,#000000 71.4%,#000000 76.2%,#000000 81.0%,#000000 85.7%,#000000 90.5%,#000000 95.2%,#000000 100.0%);-webkit-mask-image:linear-gradient(transparent,#000 50%);mask-image:linear-gradient(transparent,#000 50%)"></i><i style="top:33.33px;height:10.02px;background:linear-gradient(90deg,#000000 0.0%,#000000 4.8%,#000000 9.5%,#000000 14.3%,#000000 19.0%,#000000 23.8%,#000000 28.6%,#010000 33.3%,#010000 38.1%,#020000 42.9%,#020000 47.6%,#030000 52.4%,#020000 57.1%,#010000 61.9%,#010000 66.7%,#000000 71.4%,#000000 76.2%,#000000 81.0%,#000000 85.7%,#000000 90.5%,#000000 95.2%,#000000 100.0%);-webkit-mask-image:linear-gradient(transparent,#000 50%);mask-image:linear-gradient(transparent,#000 50%)"></i><i style="top:38.10px;height:10.02px;background:linear-gradient(90deg,#000000 0.0%,#000000 4.8%,#000000 9.5%,#000000 14.3%,#000000 19.0%,#000000 23.8%,#000000 28.6%,#000000 33.3%,#010000 38.1%,#010000 42.9%,#010000 47.6%,#010000 52.4%,#010000 57.1%,#010000 61.9%,#000000 66.7%,#000000 71.4%,#000000 76.2%,#000000 81.0%,#000000 85.7%,#000000 90.5%,#000000 95.2%,#000000 100.0%);-webkit-mask-image:linear-gradient(transparent,#000 50%);mask-image:linear-gradient(transparent,#000 50%)"></i><i style="top:42.86px;height:10.02px;background:linear-gradient(90deg,#000000 0.0%,#000000 4.8%,#000000 9.5%,#000000 14.3%,#000000 19.0%,#000000 23.8%,#000000 28.6%,#000000 33.3%,#000000 38.1%,#000000 42.9%,#000000 47.6%,#000000 52.4%,#000000 57.1%,#000000 61.9%,#000000 66.7%,#000000 71.4%,#000000 76.2%,#000000 81.0%,#000000 85.7%,#000000 90.5%,#000000 95.2%,#000000 100.0%);-webkit-mask-image:linear-gradient(transparent,#000 50%);mask-image:linear-gradient(transparent,#000 50%)"></i><i style="top:47.62px;height:10.02px;background:linear-gradient(90deg,#000000 0.0%,#000000 4.8%,#000000 9.5%,#000000 14.3%,#000000 19.0%,#000000 23.8%,#000000 28.6%,#000000 33.3%,#000000 38.1%,#000000 42.9%,#000000 47.6%,#000000 52.4%,#000000 57.1%,#000000 61.9%,#000000 66.7%,#000000 71.4%,#000000 76.2%,#000000 81.0%,#000000 85.7%,#000000 90.5%,#000000 95.2%,#000000 100.0%);-webkit-mask-image:linear-gradient(transparent,#000 50%);mask-image:linear-gradient(transparent,#000 50%)"></i><i style="top:52.38px;height:10.02px;background:linear-gradient(90deg,#000000 0.0%,#000000 4.8%,#000000 9.5%,#000000 14.3%,#000000 19.0%,#000000 23.8%,#000000 28.6%,#000000 33.3%,#000000 38.1%,#000000 42.9%,#000000 47.6%,#000000 52.4%,#000000 57.1%,#000000 61.9%,#000000 66.7%,#000000 71.4%,#000000 76.2%,#000000 81.0%,#000000 85.7%,#000000 90.5%,#000000 95.2%,#000000 100.0%);-webkit-mask-image:linear-gradient(transparent,#000 50%);mask-image:linear-gradient(transparent,#000 50%)"></i><i style="top:57.14px;height:10.02px;background:linear-gradient(90deg,#000000 0.0%,#000000 4.8%,#000000 9.5%,#000000 14.3%,#000000 19.0%,#000000 23.8%,#000000 28.6%,#000000 33.3%,#000000 38.1%,#000000 42.9%,#000000 47.6%,#000000 52.4%,#000000 57.1%,#000000 61.9%,#000000 66.7%,#000000 71.4%,#000000 76.2%,#000000 81.0%,#000000 85.7%,#000000 90.5%,#000000 95.2%,#000000 100.0%);-webkit-mask-image:linear-gradient(transparent,#000 50%);mask-image:linear-gradient(transparent,#000 50%)"></i><i style="top:61.90px;height:10.02px;background:linear-gradient(90deg,#000000 0.0%,#000000 4.8%,#000000 9.5%,#000000 14.3%,#000000 19.0%,#000000 23.8%,#000000 28.6%,#000000 33.3%,#000000 38.1%,#000000 42.9%,#000000 47.6%,#000000 52.4%,#000000 57.1%,#000000 61.9%,#000000 66.7%,#000000 71.4%,#000000 76.2%,#000000 81.0%,#000000 85.7%,#000000 90.5%,#000000 95.2%,#000000 100.0%);-webkit-mask-image:linear-gradient(transparent,#000 50%);mask-image:linear-gradient(transparent,#000 50%)"></i><i style="top:66.67px;height:10.02px;background:linear-gradient(90deg,#000000 0.0%,#000000 4.8%,#000000 9.5%,#000000 14.3%,#000000 19.0%,#000000 23.8%,#000000 28.6%,#000000 33.3%,#000000 38.1%,#000000 42.9%,#000000 47.6%,#000000 52.4%,#000000 57.1%,#000000 61.9%,#000000 66.7%,#000000 71.4%,#000000 76.2%,#000000 81.0%,#000000 85.7%,#000000 90.5%,#000000 95.2%,#000000 100.0%);-webkit-mask-image:linear-gradient(transparent,#000 50%);mask-image:linear-gradient(transparent,#000 50%)"></i><i style="top:71.43px;height:10.02px;background:linear-gradient(90deg,#000000 0.0%,#000000 4.8%,#000000 9.5%,#000000 14.3%,#000000 19.0%,#000000 23.8%,#000000 28.6%,#000000 33.3%,#000000 38.1%,#000000 42.9%,#000000 47.6%,#000000 52.4%,#000000 57.1%,#000000 61.9%,#000000 66.7%,#000000 71.4%,#000000 76.2%,#000000 81.0%,#000000 85.7%,#000000 90.5%,#000000 95.2%,#000000 100.0%);-webkit-mask-image:linear-gradient(transparent,#000 50%);mask-image:linear-gradient(transparent,#000 50%)"></i><i style="top:76.19px;height:10.02px;background:linear-gradient(90deg,#000000 0.0%,#000000 4.8%,#000000 9.5%,#000000 14.3%,#000000 19.0%,#000000 23.8%,#000000 28.6%,#000000 33.3%,#000000 38.1%,#000000 42.9%,#000000 47.6%,#000000 52.4%,#000000 57.1%,#000000 61.9%,#000000 66.7%,#000000 71.4%,#000000 76.2%,#000000 81.0%,#000000 85.7%,#000000 90.5%,#000000 95.2%,#000000 100.0%);-webkit-mask-image:linear-gradient(transparent,#000 50%);mask-image:linear-gradient(transparent,#000 50%)"></i><i style="top:80.95px;height:10.02px;background:linear-gradient(90deg,#000000 0.0%,#000000 4.8%,#000000 9.5%,#000000 14.3%,#000000 19.0%,#000000 23.8%,#000000 28.6%,#000000 33.3%,#000000 38.1%,#000000 42.9%,#000000 47.6%,#000000 52.4%,#000000 57.1%,#000000 61.9%,#000000 66.7%,#000000 71.4%,#000000 76.2%,#000000 81.0%,#000000 85.7%,#000000 90.5%,#000000 95.2%,#000000 100.0%);-webkit-mask-image:linear-gradient(transparent,#000 50%);mask-image:linear-gradient(transparent,#000 50%)"></i><i style="top:85.71px;height:10.02px;background:linear-gradient(90deg,#000000 0.0%,#000000 4.8%,#000000 9.5%,#000000 14.3%,#000000 19.0%,#000000 23.8%,#000000 28.6%,#000000 33.3%,#000000 38.1%,#000000 42.9%,#000000 47.6%,#000000 52.4%,#000000 57.1%,#000000 61.9%,#000000 66.7%,#000000 71.4%,#000000 76.2%,#000000 81.0%,#000000 85.7%,#000000 90.5%,#000000 95.2%,#000000 100.0%);-webkit-mask-image:linear-gradient(transparent,#000 50%);mask-image:linear-gradient(transparent,#000 50%)"></i><i style="top:90.48px;height:10.02px;background:linear-gradient(90deg,#000000 0.0%,#000000 4.8%,#000000 9.5%,#000000 14.3%,#000000 19.0%,#000000 23.8%,#000000 28.6%,#000000 33.3%,#000000 38.1%,#000000 42.9%,#000000 47.6%,#000000 52.4%,#000000 57.1%,#000000 61.9%,#000000 66.7%,#000000 71.4%,#000000 76.2%,#000000 81.0%,#000000 85.7%,#000000 90.5%,#000000 95.2%,#000000 100.0%);-webkit-mask-image:linear-gradient(transparent,#000 50%);mask-image:linear-gradient(transparent,#000 50%)"></i><i style="top:95.24px;height:10.02px;background:linear-gradient(90deg,#000000 0.0%,#000000 4.8%,#000000 9.5%,#000000 14.3%,#000000 19.0%,#000000 23.8%,#000000 28.6%,#000000 33.3%,#000000 38.1%,#000000 42.9%,#000000 47.6%,#000000 52.4%,#000000 57.1%,#000000 61.9%,#000000 66.7%,#000000 71.4%,#000000 76.2%,#000000 81.0%,#000000 85.7%,#000000 90.5%,#000000 95.2%,#000000 100.0%);-webkit-mask-image:linear-gradient(transparent,#000 50%);mask-image:linear-gradient(transparent,#000 50%)"></i></div><div class="hm" style="left:292.50px;top:57.50px;width:134.50px;height:557.00px;"><i style="top:0;height:11.87px;background:linear-gradient(90deg,#00009e 0.0%,#0000b1 2.3%,#0000c4 4.7%,#0000db 7.0%,#0000f3 9.3%,#0000ff 11.6%,#0007ff 14.0%,#000eff 16.3%,#0015ff 18.6%,#0027ff 20.9%,#0049ff 23.3%,#006bff 25.6%,#008aff 27.9%,#00a6ff 30.2%,#00c2ff 32.6%,#00d7ff 34.9%,#00ecff 37.2%,#01fffe 39.5%,#09fff6 41.9%,#0efff1 44.2%,#12ffed 46.5%,#17ffe8 48.8%,#16ffe9 51.2%,#0ffff0 53.5%,#09fff6 55.8%,#00fcff 58.1%,#00ebff 60.5%,#00daff 62.8%,#00c2ff 65.1%,#00a2ff 67.4%,#0083ff 69.8%,#0061ff 72.1%,#003fff 74.4%,#001dff 76.7%,#0015ff 79.1%,#000fff 81.4%,#000aff 83.7%,#0004ff 86.0%,#0000fe 88.4%,#0000f3 90.7%,#0000db 93.0%,#0000c4 95.3%,#0000b1 97.7%,#00009e 100.0%)"></i><i style="top:0.00px;height:23.23px;background:linear-gradient(90deg,#00009e 0.0%,#0000b1 2.3%,#0000c4 4.7%,#0000db 7.0%,#0000f3 9.3%,#0001ff 11.6%,#0008ff 14.0%,#000fff 16.3%,#0016ff 18.6%,#0028ff 20.9%,#004aff 23.3%,#006cff 25.6%,#008cff 27.9%,#00aaff 30.2%,#00c6ff 32.6%,#00dcff 34.9%,#00f1ff 37.2%,#07fff8 39.5%,#10ffef 41.9%,#16ffe9 44.2%,#1cffe3 46.5%,#21ffde 48.8%,#20ffdf 51.2%,#19ffe6 53.5%,#12ffed 55.8%,#06fff9 58.1%,#00f3ff 60.5%,#00e1ff 62.8%,#00c9ff 65.1%,#00a9ff 67.4%,#0089ff 69.8%,#0067ff 72.1%,#0044ff 74.4%,#0022ff 76.7%,#0017ff 79.1%,#0010ff 81.4%,#000bff 83.7%,#0005ff 86.0%,#0000ff 88.4%,#0000f3 90.7%,#0000db 93.0%,#0000c4 95.3%,#0000b1 97.7%,#00009e 100.0%);-webkit-mask-image:linear-gradient(transparent,#000 50%);mask-image:linear-gradient(transparent,#000 50%)"></i><i style="top:11.37px;height:23.23px;background:linear-gradient(90deg,#00009e 0.0%,#0000b1 2.3%,#0000c4 4.7%,#0000dc 7.0%,#0000f4 9.3%,#0001ff 11.6%,#0009ff 14.0%,#0010ff 16.3%,#0017ff 18.6%,#0029ff 20.9%,#004bff 23.3%,#006eff 25.6%,#008fff 27.9%,#00adff 30.2%,#00cbff 32.6%,#00e1ff 34.9%,#00f6ff 37.2%,#0cfff3 39.5%,#17ffe8 41.9%,#1fffe0 44.2%,#25ffda 46.5%,#2bffd4 48.8%,#2affd5 51.2%,#23ffdc 53.5%,#1bffe4 55.8%,#0ffff0 58.1%,#00fbff 60.5%,#00e8ff 62.8%,#00d0ff 65.1%,#00b1ff 67.4%,#0090ff 69.8%,#006dff 72.1%,#004aff 74.4%,#0027ff 76.7%,#0019ff 79.1%,#0012ff 81.4%,#000cff 83.7%,#0006ff 86.0%,#0000ff 88.4%,#0000f4 90.7%,#0000dc 93.0%,#0000c4 95.3%,#0000b1 97.7%,#00009e 100.0%);-webkit-mask-image:linear-gradient(transparent,#000 50%);mask-image:linear-gradient(transparent,#000 50%)"></i><i style="top:22.73px;height:23.23px;background:linear-gradient(90deg,#00009e 0.0%,#0000b1 2.3%,#0000c4 4.7%,#0000dc 7.0%,#0000f5 9.3%,#0002ff 11.6%,#0009ff 14.0%,#0010ff 16.3%,#0018ff 18.6%,#002aff 20.9%,#004cff 23.3%,#006fff 25.6%,#0091ff 27.9%,#00b1ff 30.2%,#00d0ff 32.6%,#00e6ff 34.9%,#00fbff 37.2%,#12ffed 39.5%,#1effe1 41.9%,#28ffd7 44.2%,#2effd1 46.5%,#35ffca 48.8%,#34ffcb 51.2%,#2cffd3 53.5%,#25ffda 55.8%,#18ffe7 58.1%,#04fffb 60.5%,#00f0ff 62.8%,#00d7ff 65.1%,#00b8ff 67.4%,#0096ff 69.8%,#0073ff 72.1%,#004fff 74.4%,#002cff 76.7%,#001cff 79.1%,#0013ff 81.4%,#000dff 83.7%,#0007ff 86.0%,#0001ff 88.4%,#0000f5 90.7%,#0000dc 93.0%,#0000c4 95.3%,#0000b1 97.7%,#00009e 100.0%);-webkit-mask-image:linear-gradient(transparent,#000 50%);mask-image:linear-gradient(transparent,#000 50%)"></i><i style="top:34.10px;height:23.23px;background:linear-gradient(90deg,#00009e 0.0%,#0000b1 2.3%,#0000c4 4.7%,#0000dc 7.0%,#0000f5 9.3%,#0003ff 11.6%,#000aff 14.0%,#0011ff 16.3%,#0018ff 18.6%,#002bff 20.9%,#004dff 23.3%,#0070ff 25.6%,#0093ff 27.9%,#00b5ff 30.2%,#00d5ff 32.6%,#00ebff 34.9%,#01fffe 37.2%,#17ffe8 39.5%,#25ffda 41.9%,#31ffce 44.2%,#38ffc7 46.5%,#3effc1 48.8%,#3effc1 51.2%,#36ffc9 53.5%,#2effd1 55.8%,#20ffdf 58.1%,#0cfff3 60.5%,#00f7ff 62.8%,#00deff 65.1%,#00bfff 67.4%,#009dff 69.8%,#0079ff 72.1%,#0054ff 74.4%,#0031ff 76.7%,#001eff 79.1%,#0014ff 81.4%,#000eff 83.7%,#0008ff 86.0%,#0002ff 88.4%,#0000f5 90.7%,#0000dc 93.0%,#0000c4 95.3%,#0000b1 97.7%,#00009e 100.0%);-webkit-mask-image:linear-gradient(transparent,#000 50%);mask-image:linear-gradient(transparent,#000 50%)"></i><i style="top:45.47px;height:23.23px;background:linear-gradient(90deg,#00009e 0.0%,#0000b1 2.3%,#0000c4 4.7%,#0000dd 7.0%,#0000f6 9.3%,#0004ff 11.6%,#000bff 14.0%,#0012ff 16.3%,#0019ff 18.6%,#002bff 20.9%,#004fff 23.3%,#0072ff 25.6%,#0095ff 27.9%,#00b8ff 30.2%,#00d9ff 32.6%,#00f0ff 34.9%,#06fff9 37.2%,#1dffe2 39.5%,#2cffd3 41.9%,#39ffc6 44.2%,#41ffbe 46.5%,#48ffb7 48.8%,#48ffb7 51.2%,#40ffbf 53.5%,#38ffc7 55.8%,#29ffd6 58.1%,#14ffeb 60.5%,#00feff 62.8%,#00e5ff 65.1%,#00c6ff 67.4%,#00a4ff 69.8%,#007fff 72.1%,#005aff 74.4%,#0035ff 76.7%,#0021ff 79.1%,#0015ff 81.4%,#000fff 83.7%,#0009ff 86.0%,#0003ff 88.4%,#0000f6 90.7%,#0000dd 93.0%,#0000c4 95.3%,#0000b1 97.7%,#00009e 100.0%);-webkit-mask-image:linear-gradient(transparent,#000 50%);mask-image:linear-gradient(transparent,#000 50%)"></i><i style="top:56.84px;height:23.23px;background:linear-gradient(90deg,#00009e 0.0%,#0000b1 2.3%,#0000c4 4.7%,#0000dd 7.0%,#0000f7 9.3%,#0005ff 11.6%,#000cff 14.0%,#0013ff 16.3%,#001aff 18.6%,#002cff 20.9%,#0050ff 23.3%,#0073ff 25.6%,#0097ff 27.9%,#00bcff 30.2%,#00deff 32.6%,#00f5ff 34.9%,#0bfff4 37.2%,#23ffdc 39.5%,#33ffcc 41.9%,#42ffbd 44.2%,#4affb5 46.5%,#52ffad 48.8%,#52ffad 51.2%,#4affb5 53.5%,#41ffbe 55.8%,#32ffcd 58.1%,#1cffe3 60.5%,#07fff8 62.8%,#00ecff 65.1%,#00cdff 67.4%,#00aaff 69.8%,#0085ff 72.1%,#005fff 74.4%,#003aff 76.7%,#0023ff 79.1%,#0017ff 81.4%,#0010ff 83.7%,#000aff 86.0%,#0004ff 88.4%,#0000f7 90.7%,#0000dd 93.0%,#0000c4 95.3%,#0000b1 97.7%,#00009e 100.0%);-webkit-mask-image:linear-gradient(transparent,#000 50%);mask-image:linear-gradient(transparent,#000 50%)"></i><i style="top:68.20px;height:23.23px;background:linear-gradient(90deg,#00009e 0.0%,#0000b1 2.3%,#0000c4 4.7%,#0000dd 7.0%,#0000f7 9.3%,#0005ff 11.6%,#000cff 14.0%,#0014ff 16.3%,#001bff 18.6%,#002dff 20.9%,#0051ff 23.3%,#0075ff 25.6%,#0099ff 27.9%,#00bfff 30.2%,#00e3ff 32.6%,#00f9ff 34.9%,#11ffee 37.2%,#28ffd7 39.5%,#3bffc4 41.9%,#4bffb4 44.2%,#53ffac 46.5%,#5cffa3 48.8%,#5cffa3 51.2%,#53ffac 53.5%,#4bffb4 55.8%,#3bffc4 58.1%,#25ffda 60.5%,#0efff1 62.8%,#00f3ff 65.1%,#00d5ff 67.4%,#00b1ff 69.8%,#008aff 72.1%,#0065ff 74.4%,#003fff 76.7%,#0025ff 79.1%,#0018ff 81.4%,#0011ff 83.7%,#000bff 86.0%,#0005ff 88.4%,#0000f7 90.7%,#0000dd 93.0%,#0000c4 95.3%,#0000b1 97.7%,#00009e 100.0%);-webkit-mask-image:linear-gradient(transparent,#000 50%);mask-image:linear-gradient(transparent,#000 50%)"></i><i style="top:79.57px;height:23.23px;background:linear-gradient(90deg,#00009e 0.0%,#0000b1 2.3%,#0000c4 4.7%,#0000de 7.0%,#0000f8 9.3%,#0006ff 11.6%,#000dff 14.0%,#0014ff 16.3%,#001bff 18.6%,#002eff 20.9%,#0052ff 23.3%,#0076ff 25.6%,#009bff 27.9%,#00c3ff 30.2%,#00e7ff 32.6%,#00feff 34.9%,#16ffe9 37.2%,#2effd1 39.5%,#42ffbd 41.9%,#54ffab 44.2%,#5dffa2 46.5%,#66ff99 48.8%,#66ff99 51.2%,#5dffa2 53.5%,#54ffab 55.8%,#44ffbb 58.1%,#2dffd2 60.5%,#15ffea 62.8%,#00faff 65.1%,#00dcff 67.4%,#00b8ff 69.8%,#0090ff 72.1%,#006aff 74.4%,#0044ff 76.7%,#0028ff 79.1%,#0019ff 81.4%,#0013ff 83.7%,#000cff 86.0%,#0006ff 88.4%,#0000f8 90.7%,#0000de 93.0%,#0000c4 95.3%,#0000b1 97.7%,#00009e 100.0%);-webkit-mask-image:linear-gradient(transparent,#000 50%);mask-image:linear-gradient(transparent,#000 50%)"></i><i style="top:90.94px;height:23.23px;background:linear-gradient(90deg,#00009e 0.0%,#0000b1 2.3%,#0000c4 4.7%,#0000de 7.0%,#0000f9 9.3%,#0007ff 11.6%,#000eff 14.0%,#0015ff 16.3%,#001cff 18.6%,#002fff 20.9%,#0053ff 23.3%,#0077ff 25.6%,#009eff 27.9%,#00c7ff 30.2%,#00ecff 32.6%,#04fffb 34.9%,#1bffe4 37.2%,#33ffcc 39.5%,#49ffb6 41.9%,#5cffa3 44.2%,#66ff99 46.5%,#70ff8f 48.8%,#70ff8f 51.2%,#67ff98 53.5%,#5effa1 55.8%,#4dffb2 58.1%,#35ffca 60.5%,#1cffe3 62.8%,#01fffe 65.1%,#00e3ff 67.4%,#00beff 69.8%,#0096ff 72.1%,#006fff 74.4%,#0049ff 76.7%,#002aff 79.1%,#001aff 81.4%,#0014ff 83.7%,#000dff 86.0%,#0007ff 88.4%,#0000f9 90.7%,#0000de 93.0%,#0000c4 95.3%,#0000b1 97.7%,#00009e 100.0%);-webkit-mask-image:linear-gradient(transparent,#000 50%);mask-image:linear-gradient(transparent,#000 50%)"></i><i style="top:102.31px;height:23.23px;background:linear-gradient(90deg,#00009e 0.0%,#0000b1 2.3%,#0000c4 4.7%,#0000de 7.0%,#0000f9 9.3%,#0008ff 11.6%,#000fff 14.0%,#0016ff 16.3%,#001dff 18.6%,#0030ff 20.9%,#0054ff 23.3%,#0079ff 25.6%,#00a0ff 27.9%,#00caff 30.2%,#00f1ff 32.6%,#09fff6 34.9%,#20ffdf 37.2%,#39ffc6 39.5%,#50ffaf 41.9%,#65ff9a 44.2%,#6fff90 46.5%,#79ff86 48.8%,#7aff85 51.2%,#70ff8f 53.5%,#67ff98 55.8%,#56ffa9 58.1%,#3dffc2 60.5%,#24ffdb 62.8%,#08fff7 65.1%,#00eaff 67.4%,#00c5ff 69.8%,#009cff 72.1%,#0075ff 74.4%,#004eff 76.7%,#002cff 79.1%,#001cff 81.4%,#0015ff 83.7%,#000eff 86.0%,#0007ff 88.4%,#0000f9 90.7%,#0000de 93.0%,#0000c4 95.3%,#0000b1 97.7%,#00009e 100.0%);-webkit-mask-image:linear-gradient(transparent,#000 50%);mask-image:linear-gradient(transparent,#000 50%)"></i><i style="top:113.67px;height:23.23px;background:linear-gradient(90deg,#00009e 0.0%,#0000b1 2.3%,#0000c4 4.7%,#0000de 7.0%,#0000fa 9.3%,#0008ff 11.6%,#0010ff 14.0%,#0017ff 16.3%,#001eff 18.6%,#0031ff 20.9%,#0055ff 23.3%,#007aff 25.6%,#00a2ff 27.9%,#00ceff 30.2%,#00f6ff 32.6%,#0efff1 34.9%,#25ffda 37.2%,#3effc1 39.5%,#57ffa8 41.9%,#6eff91 44.2%,#79ff86 46.5%,#83ff7c 48.8%,#84ff7b 51.2%,#7aff85 53.5%,#71ff8e 55.8%,#5fffa0 58.1%,#45ffba 60.5%,#2bffd4 62.8%,#0ffff0 65.1%,#00f1ff 67.4%,#00cbff 69.8%,#00a2ff 72.1%,#007aff 74.4%,#0052ff 76.7%,#002fff 79.1%,#001dff 81.4%,#0016ff 83.7%,#000fff 86.0%,#0008ff 88.4%,#0000fa 90.7%,#0000de 93.0%,#0000c4 95.3%,#0000b1 97.7%,#00009e 100.0%);-webkit-mask-image:linear-gradient(transparent,#000 50%);mask-image:linear-gradient(transparent,#000 50%)"></i><i style="top:125.04px;height:23.23px;background:linear-gradient(90deg,#00009e 0.0%,#0000b1 2.3%,#0000c4 4.7%,#0000df 7.0%,#0000fb 9.3%,#0009ff 11.6%,#0010ff 14.0%,#0017ff 16.3%,#001fff 18.6%,#0032ff 20.9%,#0057ff 23.3%,#007cff 25.6%,#00a4ff 27.9%,#00d2ff 30.2%,#00faff 32.6%,#13ffec 34.9%,#2affd5 37.2%,#44ffbb 39.5%,#5effa1 41.9%,#77ff88 44.2%,#82ff7d 46.5%,#8dff72 48.8%,#8eff71 51.2%,#84ff7b 53.5%,#7aff85 55.8%,#68ff97 58.1%,#4dffb2 60.5%,#32ffcd 62.8%,#16ffe9 65.1%,#00f9ff 67.4%,#00d2ff 69.8%,#00a8ff 72.1%,#007fff 74.4%,#0057ff 76.7%,#0031ff 79.1%,#001eff 81.4%,#0017ff 83.7%,#0010ff 86.0%,#0009ff 88.4%,#0000fb 90.7%,#0000df 93.0%,#0000c4 95.3%,#0000b1 97.7%,#00009e 100.0%);-webkit-mask-image:linear-gradient(transparent,#000 50%);mask-image:linear-gradient(transparent,#000 50%)"></i><i style="top:136.41px;height:23.23px;background:linear-gradient(90deg,#00009e 0.0%,#0000b1 2.3%,#0000c4 4.7%,#0000df 7.0%,#0000fb 9.3%,#000aff 11.6%,#0011ff 14.0%,#0018ff 16.3%,#001fff 18.6%,#0032ff 20.9%,#0058ff 23.3%,#007dff 25.6%,#00a6ff 27.9%,#00d5ff 30.2%,#00ffff 32.6%,#18ffe7 34.9%,#2fffd0 37.2%,#4affb5 39.5%,#65ff9a 41.9%,#7fff80 44.2%,#8bff74 46.5%,#97ff68 48.8%,#98ff67 51.2%,#8eff71 53.5%,#83ff7c 55.8%,#71ff8e 58.1%,#55ffaa 60.5%,#3affc5 62.8%,#1dffe2 65.1%,#01fffe 67.4%,#00d9ff 69.8%,#00aeff 72.1%,#0085ff 74.4%,#005cff 76.7%,#0034ff 79.1%,#001fff 81.4%,#0018ff 83.7%,#0011ff 86.0%,#000aff 88.4%,#0000fb 90.7%,#0000df 93.0%,#0000c4 95.3%,#0000b1 97.7%,#00009e 100.0%);-webkit-mask-image:linear-gradient(transparent,#000 50%);mask-image:linear-gradient(transparent,#000 50%)"></i><i style="top:147.78px;height:23.23px;background:linear-gradient(90deg,#00009e 0.0%,#0000b1 2.3%,#0000c4 4.7%,#0000df 7.0%,#0000fc 9.3%,#000aff 11.6%,#0011ff 14.0%,#0018ff 16.3%,#001fff 18.6%,#0032ff 20.9%,#0058ff 23.3%,#007eff 25.6%,#00a9ff 27.9%,#00d9ff 30.2%,#04fffb 32.6%,#1dffe2 34.9%,#37ffc8 37.2%,#52ffad 39.5%,#6eff91 41.9%,#88ff77 44.2%,#95ff6a 46.5%,#a0ff5f 48.8%,#a1ff5e 51.2%,#97ff68 53.5%,#8cff73 55.8%,#79ff86 58.1%,#5effa1 60.5%,#41ffbe 62.8%,#23ffdc 65.1%,#06fff9 67.4%,#00ddff 69.8%,#00b1ff 72.1%,#0087ff 74.4%,#005eff 76.7%,#0034ff 79.1%,#001fff 81.4%,#0018ff 83.7%,#0011ff 86.0%,#000aff 88.4%,#0000fc 90.7%,#0000df 93.0%,#0000c4 95.3%,#0000b1 97.7%,#00009e 100.0%);-webkit-mask-image:linear-gradient(transparent,#000 50%);mask-image:linear-gradient(transparent,#000 50%)"></i><i style="top:159.14px;height:23.23px;background:linear-gradient(90deg,#00009e 0.0%,#0000b1 2.3%,#0000c4 4.7%,#0000df 7.0%,#0000fc 9.3%,#000aff 11.6%,#0011ff 14.0%,#0017ff 16.3%,#001eff 18.6%,#0032ff 20.9%,#0058ff 23.3%,#0080ff 25.6%,#00abff 27.9%,#00dcff 30.2%,#08fff7 32.6%,#23ffdc 34.9%,#3effc1 37.2%,#5cffa3 39.5%,#78ff87 41.9%,#92ff6d 44.2%,#9eff61 46.5%,#aaff55 48.8%,#abff54 51.2%,#a0ff5f 53.5%,#95ff6a 55.8%,#82ff7d 58.1%,#66ff99 60.5%,#48ffb7 62.8%,#29ffd6 65.1%,#0afff5 67.4%,#00e1ff 69.8%,#00b5ff 72.1%,#0089ff 74.4%,#005fff 76.7%,#0033ff 79.1%,#001eff 81.4%,#0017ff 83.7%,#0011ff 86.0%,#000aff 88.4%,#0000fc 90.7%,#0000df 93.0%,#0000c4 95.3%,#0000b1 97.7%,#00009e 100.0%);-webkit-mask-image:linear-gradient(transparent,#000 50%);mask-image:linear-gradient(transparent,#000 50%)"></i><i style="top:170.51px;height:23.23px;background:linear-gradient(90deg,#00009e 0.0%,#0000b1 2.3%,#0000c4 4.7%,#0000df 7.0%,#0000fc 9.3%,#000aff 11.6%,#0010ff 14.0%,#0017ff 16.3%,#001dff 18.6%,#0031ff 20.9%,#0059ff 23.3%,#0081ff 25.6%,#00aeff 27.9%,#00dfff 30.2%,#0bfff4 32.6%,#29ffd6 34.9%,#46ffb9 37.2%,#65ff9a 39.5%,#81ff7e 41.9%,#9bff64 44.2%,#a8ff57 46.5%,#b3ff4c 48.8%,#b4ff4b 51.2%,#aaff55 53.5%,#9eff61 55.8%,#8aff75 58.1%,#6eff91 60.5%,#4fffb0 62.8%,#30ffcf 65.1%,#0ffff0 67.4%,#00e4ff 69.8%,#00b8ff 72.1%,#008cff 74.4%,#0060ff 76.7%,#0033ff 79.1%,#001dff 81.4%,#0017ff 83.7%,#0010ff 86.0%,#000aff 88.4%,#0000fc 90.7%,#0000df 93.0%,#0000c4 95.3%,#0000b1 97.7%,#00009e 100.0%);-webkit-mask-image:linear-gradient(transparent,#000 50%);mask-image:linear-gradient(transparent,#000 50%)"></i><i style="top:181.88px;height:23.23px;background:linear-gradient(90deg,#00009e 0.0%,#0000b1 2.3%,#0000c4 4.7%,#0000df 7.0%,#0000fc 9.3%,#000aff 11.6%,#0010ff 14.0%,#0016ff 16.3%,#001dff 18.6%,#0031ff 20.9%,#0059ff 23.3%,#0082ff 25.6%,#00b1ff 27.9%,#00e3ff 30.2%,#0ffff0 32.6%,#2effd1 34.9%,#4dffb2 37.2%,#6eff91 39.5%,#8aff75 41.9%,#a4ff5b 44.2%,#b1ff4e 46.5%,#bdff42 48.8%,#bdff42 51.2%,#b3ff4c 53.5%,#a7ff58 55.8%,#92ff6d 58.1%,#77ff88 60.5%,#56ffa9 62.8%,#36ffc9 65.1%,#13ffec 67.4%,#00e8ff 69.8%,#00bbff 72.1%,#008eff 74.4%,#0061ff 76.7%,#0033ff 79.1%,#001dff 81.4%,#0016ff 83.7%,#0010ff 86.0%,#000aff 88.4%,#0000fc 90.7%,#0000df 93.0%,#0000c4 95.3%,#0000b1 97.7%,#00009e 100.0%);-webkit-mask-image:linear-gradient(transparent,#000 50%);mask-image:linear-gradient(transparent,#000 50%)"></i><i style="top:193.24px;height:23.23px;background:linear-gradient(90deg,#00009e 0.0%,#0000b1 2.3%,#0000c4 4.7%,#0000df 7.0%,#0000fc 9.3%,#0009ff 11.6%,#0010ff 14.0%,#0016ff 16.3%,#001cff 18.6%,#0030ff 20.9%,#0059ff 23.3%,#0084ff 25.6%,#00b3ff 27.9%,#00e6ff 30.2%,#13ffec 32.6%,#34ffcb 34.9%,#55ffaa 37.2%,#78ff87 39.5%,#94ff6b 41.9%,#adff52 44.2%,#bbff44 46.5%,#c6ff39 48.8%,#c7ff38 51.2%,#bcff43 53.5%,#b0ff4f 55.8%,#9bff64 58.1%,#7fff80 60.5%,#5effa1 62.8%,#3cffc3 65.1%,#18ffe7 67.4%,#00ecff 69.8%,#00beff 72.1%,#0090ff 74.4%,#0062ff 76.7%,#0033ff 79.1%,#001cff 81.4%,#0016ff 83.7%,#0010ff 86.0%,#0009ff 88.4%,#0000fc 90.7%,#0000df 93.0%,#0000c4 95.3%,#0000b1 97.7%,#00009e 100.0%);-webkit-mask-image:linear-gradient(transparent,#000 50%);mask-image:linear-gradient(transparent,#000 50%)"></i><i style="top:204.61px;height:23.23px;background:linear-gradient(90deg,#00009e 0.0%,#0000b1 2.3%,#0000c4 4.7%,#0000df 7.0%,#0000fc 9.3%,#0009ff 11.6%,#000fff 14.0%,#0015ff 16.3%,#001bff 18.6%,#0030ff 20.9%,#005aff 23.3%,#0085ff 25.6%,#00b6ff 27.9%,#00e9ff 30.2%,#17ffe8 32.6%,#3affc5 34.9%,#5dffa2 37.2%,#81ff7e 39.5%,#9dff62 41.9%,#b6ff49 44.2%,#c4ff3b 46.5%,#d0ff2f 48.8%,#d0ff2f 51.2%,#c5ff3a 53.5%,#b8ff47 55.8%,#a3ff5c 58.1%,#88ff77 60.5%,#65ff9a 62.8%,#42ffbd 65.1%,#1cffe3 67.4%,#00f0ff 69.8%,#00c1ff 72.1%,#0092ff 74.4%,#0063ff 76.7%,#0032ff 79.1%,#001bff 81.4%,#0015ff 83.7%,#000fff 86.0%,#0009ff 88.4%,#0000fc 90.7%,#0000df 93.0%,#0000c4 95.3%,#0000b1 97.7%,#00009e 100.0%);-webkit-mask-image:linear-gradient(transparent,#000 50%);mask-image:linear-gradient(transparent,#000 50%)"></i><i style="top:215.98px;height:23.23px;background:linear-gradient(90deg,#00009e 0.0%,#0000b1 2.3%,#0000c4 4.7%,#0000df 7.0%,#0000fc 9.3%,#0009ff 11.6%,#000fff 14.0%,#0015ff 16.3%,#001bff 18.6%,#002fff 20.9%,#005aff 23.3%,#0086ff 25.6%,#00b8ff 27.9%,#00edff 30.2%,#1affe5 32.6%,#3fffc0 34.9%,#64ff9b 37.2%,#8aff75 39.5%,#a6ff59 41.9%,#bfff40 44.2%,#ceff31 46.5%,#d9ff26 48.8%,#daff25 51.2%,#cfff30 53.5%,#c1ff3e 55.8%,#acff53 58.1%,#90ff6f 60.5%,#6cff93 62.8%,#48ffb7 65.1%,#21ffde 67.4%,#00f4ff 69.8%,#00c4ff 72.1%,#0095ff 74.4%,#0064ff 76.7%,#0032ff 79.1%,#001bff 81.4%,#0015ff 83.7%,#000fff 86.0%,#0009ff 88.4%,#0000fc 90.7%,#0000df 93.0%,#0000c4 95.3%,#0000b1 97.7%,#00009e 100.0%);-webkit-mask-image:linear-gradient(transparent,#000 50%);mask-image:linear-gradient(transparent,#000 50%)"></i><i style="top:227.35px;height:23.23px;background:linear-gradient(90deg,#00009e 0.0%,#0000b1 2.3%,#0000c4 4.7%,#0000df 7.0%,#0000fc 9.3%,#0009ff 11.6%,#000fff 14.0%,#0014ff 16.3%,#001aff 18.6%,#002fff 20.9%,#005aff 23.3%,#0088ff 25.6%,#00bbff 27.9%,#00f0ff 30.2%,#1effe1 32.6%,#45ffba 34.9%,#6cff93 37.2%,#94ff6b 39.5%,#b0ff4f 41.9%,#c9ff36 44.2%,#d7ff28 46.5%,#e3ff1c 48.8%,#e3ff1c 51.2%,#d8ff27 53.5%,#caff35 55.8%,#b4ff4b 58.1%,#99ff66 60.5%,#73ff8c 62.8%,#4effb1 65.1%,#25ffda 67.4%,#00f8ff 69.8%,#00c7ff 72.1%,#0097ff 74.4%,#0065ff 76.7%,#0032ff 79.1%,#001aff 81.4%,#0014ff 83.7%,#000fff 86.0%,#0009ff 88.4%,#0000fc 90.7%,#0000df 93.0%,#0000c4 95.3%,#0000b1 97.7%,#00009e 100.0%);-webkit-mask-image:linear-gradient(transparent,#000 50%);mask-image:linear-gradient(transparent,#000 50%)"></i><i style="top:238.71px;height:23.23px;background:linear-gradient(90deg,#00009e 0.0%,#0000b1 2.3%,#0000c4 4.7%,#0000df 7.0%,#0000fc 9.3%,#0009ff 11.6%,#000eff 14.0%,#0014ff 16.3%,#0019ff 18.6%,#002eff 20.9%,#005bff 23.3%,#0089ff 25.6%,#00beff 27.9%,#00f3ff 30.2%,#22ffdd 32.6%,#4bffb4 34.9%,#73ff8c 37.2%,#9dff62 39.5%,#b9ff46 41.9%,#d2ff2d 44.2%,#e1ff1e 46.5%,#ecff13 48.8%,#edff12 51.2%,#e1ff1e 53.5%,#d3ff2c 55.8%,#bdff42 58.1%,#a1ff5e 60.5%,#7bff84 62.8%,#54ffab 65.1%,#2affd5 67.4%,#00fbff 69.8%,#00caff 72.1%,#0099ff 74.4%,#0066ff 76.7%,#0031ff 79.1%,#0019ff 81.4%,#0014ff 83.7%,#000eff 86.0%,#0009ff 88.4%,#0000fc 90.7%,#0000df 93.0%,#0000c4 95.3%,#0000b1 97.7%,#00009e 100.0%);-webkit-mask-image:linear-gradient(transparent,#000 50%);mask-image:linear-gradient(transparent,#000 50%)"></i><i style="top:250.08px;height:23.23px;background:linear-gradient(90deg,#00009e 0.0%,#0000b1 2.3%,#0000c4 4.7%,#0000df 7.0%,#0000fc 9.3%,#0009ff 11.6%,#000eff 14.0%,#0013ff 16.3%,#0018ff 18.6%,#002eff 20.9%,#005bff 23.3%,#008aff 25.6%,#00c0ff 27.9%,#00f6ff 30.2%,#26ffd9 32.6%,#50ffaf 34.9%,#7bff84 37.2%,#a6ff59 39.5%,#c3ff3c 41.9%,#dbff24 44.2%,#eaff15 46.5%,#f6ff09 48.8%,#f6ff09 51.2%,#ebff14 53.5%,#dcff23 55.8%,#c5ff3a 58.1%,#a9ff56 60.5%,#82ff7d 62.8%,#5affa5 65.1%,#2effd1 67.4%,#00ffff 69.8%,#00cdff 72.1%,#009bff 74.4%,#0067ff 76.7%,#0031ff 79.1%,#0018ff 81.4%,#0013ff 83.7%,#000eff 86.0%,#0009ff 88.4%,#0000fc 90.7%,#0000df 93.0%,#0000c4 95.3%,#0000b1 97.7%,#00009e 100.0%);-webkit-mask-image:linear-gradient(transparent,#000 50%);mask-image:linear-gradient(transparent,#000 50%)"></i><i style="top:261.45px;height:23.23px;background:linear-gradient(90deg,#00009e 0.0%,#0000b1 2.3%,#0000c4 4.7%,#0000df 7.0%,#0000fc 9.3%,#0009ff 11.6%,#000eff 14.0%,#0013ff 16.3%,#0018ff 18.6%,#002dff 20.9%,#005bff 23.3%,#008cff 25.6%,#00c3ff 27.9%,#00faff 30.2%,#2affd5 32.6%,#56ffa9 34.9%,#83ff7c 37.2%,#b0ff4f 39.5%,#ccff33 41.9%,#e4ff1b 44.2%,#f4ff0b 46.5%,#ffff00 48.8%,#fffe00 51.2%,#f4ff0b 53.5%,#e5ff1a 55.8%,#cdff32 58.1%,#b2ff4d 60.5%,#89ff76 62.8%,#60ff9f 65.1%,#33ffcc 67.4%,#04fffb 69.8%,#00d1ff 72.1%,#009eff 74.4%,#0068ff 76.7%,#0031ff 79.1%,#0018ff 81.4%,#0013ff 83.7%,#000eff 86.0%,#0009ff 88.4%,#0000fc 90.7%,#0000df 93.0%,#0000c4 95.3%,#0000b1 97.7%,#00009e 100.0%);-webkit-mask-image:linear-gradient(transparent,#000 50%);mask-image:linear-gradient(transparent,#000 50%)"></i><i style="top:272.82px;height:23.23px;background:linear-gradient(90deg,#00009e 0.0%,#0000b1 2.3%,#0000c4 4.7%,#0000df 7.0%,#0000fc 9.3%,#0008ff 11.6%,#000dff 14.0%,#0012ff 16.3%,#0017ff 18.6%,#002dff 20.9%,#005cff 23.3%,#008dff 25.6%,#00c5ff 27.9%,#00fdff 30.2%,#2dffd2 32.6%,#5cffa3 34.9%,#8aff75 37.2%,#b9ff46 39.5%,#d5ff2a 41.9%,#edff12 44.2%,#fdff02 46.5%,#fff500 48.8%,#fff500 51.2%,#fdff02 53.5%,#edff12 55.8%,#d6ff29 58.1%,#baff45 60.5%,#90ff6f 62.8%,#66ff99 65.1%,#37ffc8 67.4%,#08fff7 69.8%,#00d4ff 72.1%,#00a0ff 74.4%,#0069ff 76.7%,#0030ff 79.1%,#0017ff 81.4%,#0012ff 83.7%,#000dff 86.0%,#0008ff 88.4%,#0000fc 90.7%,#0000df 93.0%,#0000c4 95.3%,#0000b1 97.7%,#00009e 100.0%);-webkit-mask-image:linear-gradient(transparent,#000 50%);mask-image:linear-gradient(transparent,#000 50%)"></i><i style="top:284.18px;height:23.23px;background:linear-gradient(90deg,#00009e 0.0%,#0000b1 2.3%,#0000c4 4.7%,#0000df 7.0%,#0000fc 9.3%,#0009ff 11.6%,#000dff 14.0%,#0012ff 16.3%,#0017ff 18.6%,#002dff 20.9%,#005dff 23.3%,#0090ff 25.6%,#00caff 27.9%,#04fffb 30.2%,#34ffcb 32.6%,#64ff9b 34.9%,#95ff6a 37.2%,#c2ff3d 39.5%,#deff21 41.9%,#f5ff0a 44.2%,#fffa00 46.5%,#ffef00 48.8%,#ffef00 51.2%,#fffa00 53.5%,#f5ff0a 55.8%,#deff21 58.1%,#c3ff3c 60.5%,#99ff66 62.8%,#6fff90 65.1%,#3effc1 67.4%,#0efff1 69.8%,#00d9ff 72.1%,#00a5ff 74.4%,#006eff 76.7%,#0036ff 79.1%,#001cff 81.4%,#0014ff 83.7%,#000eff 86.0%,#0009ff 88.4%,#0000fc 90.7%,#0000df 93.0%,#0000c4 95.3%,#0000b1 97.7%,#00009e 100.0%);-webkit-mask-image:linear-gradient(transparent,#000 50%);mask-image:linear-gradient(transparent,#000 50%)"></i><i style="top:295.55px;height:23.23px;background:linear-gradient(90deg,#00009e 0.0%,#0000b1 2.3%,#0000c4 4.7%,#0000df 7.0%,#0000fc 9.3%,#0009ff 11.6%,#000eff 14.0%,#0013ff 16.3%,#0019ff 18.6%,#002fff 20.9%,#0060ff 23.3%,#0093ff 25.6%,#00d1ff 27.9%,#0bfff4 30.2%,#3effc1 32.6%,#70ff8f 34.9%,#a1ff5e 37.2%,#ccff33 39.5%,#e5ff1a 41.9%,#faff05 44.2%,#fff600 46.5%,#ffec00 48.8%,#ffc700 51.2%,#fff600 53.5%,#faff05 55.8%,#e5ff1a 58.1%,#ccff33 60.5%,#a3ff5c 62.8%,#7aff85 65.1%,#48ffb7 67.4%,#15ffea 69.8%,#00e1ff 72.1%,#00aeff 74.4%,#0078ff 76.7%,#0042ff 79.1%,#0025ff 81.4%,#0018ff 83.7%,#000fff 86.0%,#0009ff 88.4%,#0000fc 90.7%,#0000df 93.0%,#0000c4 95.3%,#0000b1 97.7%,#00009e 100.0%);-webkit-mask-image:linear-gradient(transparent,#000 50%);mask-image:linear-gradient(transparent,#000 50%)"></i><i style="top:306.92px;height:23.23px;background:linear-gradient(90deg,#00009e 0.0%,#0000b1 2.3%,#0000c4 4.7%,#0000df 7.0%,#0000fc 9.3%,#0009ff 11.6%,#000fff 14.0%,#0014ff 16.3%,#001aff 18.6%,#0031ff 20.9%,#0062ff 23.3%,#0097ff 25.6%,#00d8ff 27.9%,#13ffec 30.2%,#48ffb7 32.6%,#7bff84 34.9%,#aeff51 37.2%,#d6ff29 39.5%,#ecff13 41.9%,#fffe00 44.2%,#fff200 46.5%,#ffc400 48.8%,#ffbc00 51.2%,#fff200 53.5%,#fffe00 55.8%,#ecff13 58.1%,#d5ff2a 60.5%,#aeff51 62.8%,#86ff79 65.1%,#51ffae 67.4%,#1dffe2 69.8%,#00e9ff 72.1%,#00b7ff 74.4%,#0082ff 76.7%,#004dff 79.1%,#002eff 81.4%,#001dff 83.7%,#0010ff 86.0%,#000aff 88.4%,#0000fc 90.7%,#0000df 93.0%,#0000c4 95.3%,#0000b1 97.7%,#00009e 100.0%);-webkit-mask-image:linear-gradient(transparent,#000 50%);mask-image:linear-gradient(transparent,#000 50%)"></i><i style="top:318.29px;height:23.23px;background:linear-gradient(90deg,#00009e 0.0%,#0000b1 2.3%,#0000c4 4.7%,#0000df 7.0%,#0000fc 9.3%,#0009ff 11.6%,#000fff 14.0%,#0015ff 16.3%,#001bff 18.6%,#0033ff 20.9%,#0064ff 23.3%,#009bff 25.6%,#00dfff 27.9%,#1bffe4 30.2%,#52ffad 32.6%,#86ff79 34.9%,#baff45 37.2%,#e0ff1f 39.5%,#f4ff0b 41.9%,#fff800 44.2%,#ffee00 46.5%,#ffb900 48.8%,#ffb200 51.2%,#ffee00 53.5%,#fff800 55.8%,#f4ff0b 58.1%,#deff21 60.5%,#b8ff47 62.8%,#91ff6e 65.1%,#5bffa4 67.4%,#24ffdb 69.8%,#00f1ff 72.1%,#00bfff 74.4%,#008cff 76.7%,#0059ff 79.1%,#0038ff 81.4%,#0021ff 83.7%,#0011ff 86.0%,#000aff 88.4%,#0000fc 90.7%,#0000df 93.0%,#0000c4 95.3%,#0000b1 97.7%,#00009e 100.0%);-webkit-mask-image:linear-gradient(transparent,#000 50%);mask-image:linear-gradient(transparent,#000 50%)"></i><i style="top:329.65px;height:23.23px;background:linear-gradient(90deg,#00009e 0.0%,#0000b1 2.3%,#0000c4 4.7%,#0000df 7.0%,#0000fc 9.3%,#0009ff 11.6%,#0010ff 14.0%,#0016ff 16.3%,#001cff 18.6%,#0034ff 20.9%,#0067ff 23.3%,#009eff 25.6%,#00e6ff 27.9%,#23ffdc 30.2%,#5bffa4 32.6%,#92ff6d 34.9%,#c7ff38 37.2%,#e9ff16 39.5%,#fbff04 41.9%,#fff300 44.2%,#ffe900 46.5%,#ffaf00 48.8%,#ffa900 51.2%,#ffe900 53.5%,#fff300 55.8%,#fbff04 58.1%,#e7ff18 60.5%,#c2ff3d 62.8%,#9dff62 65.1%,#64ff9b 67.4%,#2cffd3 69.8%,#00f9ff 72.1%,#00c8ff 74.4%,#0095ff 76.7%,#0064ff 79.1%,#0041ff 81.4%,#0025ff 83.7%,#0012ff 86.0%,#000bff 88.4%,#0000fc 90.7%,#0000df 93.0%,#0000c4 95.3%,#0000b1 97.7%,#00009e 100.0%);-webkit-mask-image:linear-gradient(transparent,#000 50%);mask-image:linear-gradient(transparent,#000 50%)"></i><i style="top:341.02px;height:23.23px;background:linear-gradient(90deg,#00009e 0.0%,#0000b1 2.3%,#0000c4 4.7%,#0000df 7.0%,#0000fc 9.3%,#000aff 11.6%,#0010ff 14.0%,#0017ff 16.3%,#001eff 18.6%,#0036ff 20.9%,#0069ff 23.3%,#00a2ff 25.6%,#00edff 27.9%,#2bffd4 30.2%,#65ff9a 32.6%,#9dff62 34.9%,#d4ff2b 37.2%,#f3ff0c 39.5%,#fffb00 41.9%,#ffed00 44.2%,#ffe500 46.5%,#ffa500 48.8%,#ff9f00 51.2%,#ffbe00 53.5%,#ffed00 55.8%,#fffb00 58.1%,#f0ff0f 60.5%,#cdff32 62.8%,#a8ff57 65.1%,#6eff91 67.4%,#33ffcc 69.8%,#02fffd 72.1%,#00d0ff 74.4%,#009fff 76.7%,#0070ff 79.1%,#004bff 81.4%,#002aff 83.7%,#0014ff 86.0%,#000bff 88.4%,#0000fc 90.7%,#0000df 93.0%,#0000c4 95.3%,#0000b1 97.7%,#00009e 100.0%);-webkit-mask-image:linear-gradient(transparent,#000 50%);mask-image:linear-gradient(transparent,#000 50%)"></i><i style="top:352.39px;height:23.23px;background:linear-gradient(90deg,#00009e 0.0%,#0000b1 2.3%,#0000c4 4.7%,#0000df 7.0%,#0000fc 9.3%,#000aff 11.6%,#0011ff 14.0%,#0018ff 16.3%,#001fff 18.6%,#0038ff 20.9%,#006cff 23.3%,#00a6ff 25.6%,#00f3ff 27.9%,#32ffcd 30.2%,#6fff90 32.6%,#a8ff57 34.9%,#e0ff1f 37.2%,#fdff02 39.5%,#fff400 41.9%,#ffe700 44.2%,#ffbc00 46.5%,#ff9c00 48.8%,#ff9700 51.2%,#ffb200 53.5%,#ffe700 55.8%,#fff400 58.1%,#f9ff06 60.5%,#d7ff28 62.8%,#b4ff4b 65.1%,#77ff88 67.4%,#3bffc4 69.8%,#0afff5 72.1%,#00d9ff 74.4%,#00a9ff 76.7%,#007cff 79.1%,#0054ff 81.4%,#002eff 83.7%,#0015ff 86.0%,#000cff 88.4%,#0000fc 90.7%,#0000df 93.0%,#0000c4 95.3%,#0000b1 97.7%,#00009e 100.0%);-webkit-mask-image:linear-gradient(transparent,#000 50%);mask-image:linear-gradient(transparent,#000 50%)"></i><i style="top:363.76px;height:23.23px;background:linear-gradient(90deg,#00009e 0.0%,#0000b1 2.3%,#0000c4 4.7%,#0000df 7.0%,#0000fc 9.3%,#000aff 11.6%,#0011ff 14.0%,#0019ff 16.3%,#0022ff 18.6%,#003cff 20.9%,#0071ff 23.3%,#00abff 25.6%,#00f9ff 27.9%,#3affc5 30.2%,#78ff87 32.6%,#b1ff4e 34.9%,#e8ff17 37.2%,#fffc00 39.5%,#fff000 41.9%,#ffe400 44.2%,#ffb000 46.5%,#ff9300 48.8%,#ff8e00 51.2%,#ffa700 53.5%,#ffe400 55.8%,#fff000 58.1%,#feff01 60.5%,#ddff22 62.8%,#b9ff46 65.1%,#7cff83 67.4%,#3effc1 69.8%,#0dfff2 72.1%,#00dcff 74.4%,#00acff 76.7%,#0081ff 79.1%,#0058ff 81.4%,#0030ff 83.7%,#0016ff 86.0%,#000cff 88.4%,#0000fc 90.7%,#0000df 93.0%,#0000c4 95.3%,#0000b1 97.7%,#00009e 100.0%);-webkit-mask-image:linear-gradient(transparent,#000 50%);mask-image:linear-gradient(transparent,#000 50%)"></i><i style="top:375.12px;height:23.23px;background:linear-gradient(90deg,#00009e 0.0%,#0000b1 2.3%,#0000c4 4.7%,#0000df 7.0%,#0000fc 9.3%,#000aff 11.6%,#0012ff 14.0%,#001aff 16.3%,#0026ff 18.6%,#0044ff 20.9%,#0078ff 23.3%,#00b2ff 25.6%,#00feff 27.9%,#41ffbe 30.2%,#80ff7f 32.6%,#b7ff48 34.9%,#ebff14 37.2%,#fffb00 39.5%,#ffef00 41.9%,#ffe400 44.2%,#ffa500 46.5%,#ff8a00 48.8%,#ff8600 51.2%,#ff9d00 53.5%,#ffe400 55.8%,#ffef00 58.1%,#fffe00 60.5%,#dfff20 62.8%,#b8ff47 65.1%,#7bff84 67.4%,#3effc1 69.8%,#0cfff3 72.1%,#00daff 74.4%,#00aaff 76.7%,#007fff 79.1%,#0058ff 81.4%,#0031ff 83.7%,#0017ff 86.0%,#000cff 88.4%,#0000fc 90.7%,#0000df 93.0%,#0000c4 95.3%,#0000b1 97.7%,#00009e 100.0%);-webkit-mask-image:linear-gradient(transparent,#000 50%);mask-image:linear-gradient(transparent,#000 50%)"></i><i style="top:386.49px;height:23.23px;background:linear-gradient(90deg,#00009e 0.0%,#0000b1 2.3%,#0000c4 4.7%,#0000df 7.0%,#0000fc 9.3%,#000bff 11.6%,#0013ff 14.0%,#001bff 16.3%,#002bff 18.6%,#004cff 20.9%,#0080ff 23.3%,#00b9ff 25.6%,#05fffa 27.9%,#48ffb7 30.2%,#88ff77 32.6%,#beff41 34.9%,#eeff11 37.2%,#fff900 39.5%,#ffee00 41.9%,#ffe400 44.2%,#ff9b00 46.5%,#ff8200 48.8%,#ff7e00 51.2%,#ff9300 53.5%,#ffb600 55.8%,#ffee00 58.1%,#fffc00 60.5%,#e2ff1d 62.8%,#b7ff48 65.1%,#7aff85 67.4%,#3effc1 69.8%,#0afff5 72.1%,#00d9ff 74.4%,#00a8ff 76.7%,#007eff 79.1%,#0058ff 81.4%,#0032ff 83.7%,#0018ff 86.0%,#000dff 88.4%,#0000fc 90.7%,#0000df 93.0%,#0000c4 95.3%,#0000b1 97.7%,#00009e 100.0%);-webkit-mask-image:linear-gradient(transparent,#000 50%);mask-image:linear-gradient(transparent,#000 50%)"></i><i style="top:397.86px;height:23.23px;background:linear-gradient(90deg,#00009e 0.0%,#0000b1 2.3%,#0000c4 4.7%,#0000df 7.0%,#0000fc 9.3%,#000bff 11.6%,#0013ff 14.0%,#001cff 16.3%,#002fff 18.6%,#0053ff 20.9%,#0088ff 23.3%,#00c0ff 25.6%,#0afff5 27.9%,#4fffb0 30.2%,#91ff6e 32.6%,#c4ff3b 34.9%,#f1ff0e 37.2%,#fff800 39.5%,#ffec00 41.9%,#ffb400 44.2%,#ff9100 46.5%,#ff7a00 48.8%,#ff7600 51.2%,#ff8a00 53.5%,#ffaa00 55.8%,#ffec00 58.1%,#fffb00 60.5%,#e4ff1b 62.8%,#b6ff49 65.1%,#79ff86 67.4%,#3dffc2 69.8%,#09fff6 72.1%,#00d7ff 74.4%,#00a6ff 76.7%,#007dff 79.1%,#0058ff 81.4%,#0032ff 83.7%,#0018ff 86.0%,#000dff 88.4%,#0000fc 90.7%,#0000df 93.0%,#0000c4 95.3%,#0000b1 97.7%,#00009e 100.0%);-webkit-mask-image:linear-gradient(transparent,#000 50%);mask-image:linear-gradient(transparent,#000 50%)"></i><i style="top:409.22px;height:23.23px;background:linear-gradient(90deg,#00009e 0.0%,#0000b1 2.3%,#0000c4 4.7%,#0000df 7.0%,#0000fc 9.3%,#000bff 11.6%,#0014ff 14.0%,#001dff 16.3%,#0034ff 18.6%,#005bff 20.9%,#008fff 23.3%,#00c7ff 25.6%,#0ffff0 27.9%,#56ffa9 30.2%,#99ff66 32.6%,#caff35 34.9%,#f4ff0b 37.2%,#fff700 39.5%,#ffeb00 41.9%,#ffa800 44.2%,#ff8800 46.5%,#ff7200 48.8%,#ff6f00 51.2%,#ff8100 53.5%,#ff9f00 55.8%,#ffeb00 58.1%,#fff900 60.5%,#e6ff19 62.8%,#b5ff4a 65.1%,#78ff87 67.4%,#3dffc2 69.8%,#08fff7 72.1%,#00d5ff 74.4%,#00a3ff 76.7%,#007cff 79.1%,#0057ff 81.4%,#0033ff 83.7%,#0019ff 86.0%,#000dff 88.4%,#0000fc 90.7%,#0000df 93.0%,#0000c4 95.3%,#0000b1 97.7%,#00009e 100.0%);-webkit-mask-image:linear-gradient(transparent,#000 50%);mask-image:linear-gradient(transparent,#000 50%)"></i><i style="top:420.59px;height:23.23px;background:linear-gradient(90deg,#00009e 0.0%,#0000b1 2.3%,#0000c4 4.7%,#0000df 7.0%,#0000fc 9.3%,#000bff 11.6%,#0014ff 14.0%,#001dff 16.3%,#0039ff 18.6%,#0063ff 20.9%,#0097ff 23.3%,#00ceff 25.6%,#14ffeb 27.9%,#5effa1 30.2%,#a1ff5e 32.6%,#d1ff2e 34.9%,#f6ff09 37.2%,#fff600 39.5%,#ffea00 41.9%,#ff9e00 44.2%,#ff7f00 46.5%,#ff6b00 48.8%,#ff6700 51.2%,#ff7900 53.5%,#ff9500 55.8%,#ffea00 58.1%,#fff700 60.5%,#e8ff17 62.8%,#b5ff4a 65.1%,#77ff88 67.4%,#3dffc2 69.8%,#07fff8 72.1%,#00d4ff 74.4%,#00a1ff 76.7%,#007bff 79.1%,#0057ff 81.4%,#0033ff 83.7%,#001aff 86.0%,#000eff 88.4%,#0000fc 90.7%,#0000df 93.0%,#0000c4 95.3%,#0000b1 97.7%,#00009e 100.0%);-webkit-mask-image:linear-gradient(transparent,#000 50%);mask-image:linear-gradient(transparent,#000 50%)"></i><i style="top:431.96px;height:23.23px;background:linear-gradient(90deg,#00009e 0.0%,#0000b1 2.3%,#0000c4 4.7%,#0000df 7.0%,#0000fc 9.3%,#000cff 11.6%,#0015ff 14.0%,#001eff 16.3%,#003dff 18.6%,#006aff 20.9%,#009eff 23.3%,#00d4ff 25.6%,#19ffe6 27.9%,#65ff9a 30.2%,#a9ff56 32.6%,#d7ff28 34.9%,#f9ff06 37.2%,#fff500 39.5%,#ffe900 41.9%,#ff9300 44.2%,#ff7700 46.5%,#ff6300 48.8%,#ff6000 51.2%,#ff7100 53.5%,#ff8b00 55.8%,#ffae00 58.1%,#fff600 60.5%,#eaff15 62.8%,#b4ff4b 65.1%,#77ff88 67.4%,#3cffc3 69.8%,#06fff9 72.1%,#00d2ff 74.4%,#009fff 76.7%,#007aff 79.1%,#0057ff 81.4%,#0034ff 83.7%,#001bff 86.0%,#000eff 88.4%,#0000fc 90.7%,#0000df 93.0%,#0000c4 95.3%,#0000b1 97.7%,#00009e 100.0%);-webkit-mask-image:linear-gradient(transparent,#000 50%);mask-image:linear-gradient(transparent,#000 50%)"></i><i style="top:443.33px;height:23.23px;background:linear-gradient(90deg,#00009e 0.0%,#0000b1 2.3%,#0000c4 4.7%,#0000df 7.0%,#0000fc 9.3%,#000cff 11.6%,#0016ff 14.0%,#001fff 16.3%,#0042ff 18.6%,#0072ff 20.9%,#00a6ff 23.3%,#00dbff 25.6%,#1effe1 27.9%,#6cff93 30.2%,#b2ff4d 32.6%,#deff21 34.9%,#fcff03 37.2%,#fff400 39.5%,#ffac00 41.9%,#ff8a00 44.2%,#ff6f00 46.5%,#ff5c00 48.8%,#ff5a00 51.2%,#ff6900 53.5%,#ff8200 55.8%,#ffa200 58.1%,#fff400 60.5%,#ecff13 62.8%,#b3ff4c 65.1%,#76ff89 67.4%,#3cffc3 69.8%,#05fffa 72.1%,#00d0ff 74.4%,#009dff 76.7%,#0078ff 79.1%,#0057ff 81.4%,#0035ff 83.7%,#001cff 86.0%,#000fff 88.4%,#0000fc 90.7%,#0000df 93.0%,#0000c4 95.3%,#0000b1 97.7%,#00009e 100.0%);-webkit-mask-image:linear-gradient(transparent,#000 50%);mask-image:linear-gradient(transparent,#000 50%)"></i><i style="top:454.69px;height:23.23px;background:linear-gradient(90deg,#00009e 0.0%,#0000b1 2.3%,#0000c4 4.7%,#0000df 7.0%,#0000fc 9.3%,#000cff 11.6%,#0016ff 14.0%,#0020ff 16.3%,#0046ff 18.6%,#007aff 20.9%,#00aeff 23.3%,#00e2ff 25.6%,#23ffdc 27.9%,#73ff8c 30.2%,#baff45 32.6%,#e4ff1b 34.9%,#ffff00 37.2%,#fff200 39.5%,#ffa100 41.9%,#ff8100 44.2%,#ff6700 46.5%,#ff5600 48.8%,#ff5300 51.2%,#ff6200 53.5%,#ff7900 55.8%,#ff9800 58.1%,#fff300 60.5%,#eeff11 62.8%,#b2ff4d 65.1%,#75ff8a 67.4%,#3cffc3 69.8%,#03fffc 72.1%,#00ceff 74.4%,#009aff 76.7%,#0077ff 79.1%,#0056ff 81.4%,#0035ff 83.7%,#001dff 86.0%,#000fff 88.4%,#0000fc 90.7%,#0000df 93.0%,#0000c4 95.3%,#0000b1 97.7%,#00009e 100.0%);-webkit-mask-image:linear-gradient(transparent,#000 50%);mask-image:linear-gradient(transparent,#000 50%)"></i><i style="top:466.06px;height:23.23px;background:linear-gradient(90deg,#00009e 0.0%,#0000b1 2.3%,#0000c4 4.7%,#0000df 7.0%,#0000fc 9.3%,#000dff 11.6%,#0017ff 14.0%,#0023ff 16.3%,#004bff 18.6%,#007fff 20.9%,#00b3ff 23.3%,#00e8ff 25.6%,#28ffd7 27.9%,#77ff88 30.2%,#beff41 32.6%,#e9ff16 34.9%,#fffc00 37.2%,#fff000 39.5%,#ff9700 41.9%,#ff7800 44.2%,#ff6000 46.5%,#ff5000 48.8%,#ff4d00 51.2%,#ff5b00 53.5%,#ff7100 55.8%,#ff8e00 58.1%,#fff000 60.5%,#f3ff0c 62.8%,#b9ff46 65.1%,#7dff82 67.4%,#42ffbd 69.8%,#09fff6 72.1%,#00d3ff 74.4%,#009fff 76.7%,#007aff 79.1%,#0058ff 81.4%,#0036ff 83.7%,#001dff 86.0%,#000fff 88.4%,#0000fc 90.7%,#0000df 93.0%,#0000c4 95.3%,#0000b1 97.7%,#00009e 100.0%);-webkit-mask-image:linear-gradient(transparent,#000 50%);mask-image:linear-gradient(transparent,#000 50%)"></i><i style="top:477.43px;height:23.23px;background:linear-gradient(90deg,#00009e 0.0%,#0000b1 2.3%,#0000c4 4.7%,#0000e0 7.0%,#0000fd 9.3%,#000eff 11.6%,#0018ff 14.0%,#0027ff 16.3%,#0050ff 18.6%,#0084ff 20.9%,#00b8ff 23.3%,#00ecff 25.6%,#2cffd3 27.9%,#79ff86 30.2%,#c0ff3f 32.6%,#ecff13 34.9%,#fff800 37.2%,#ffed00 39.5%,#ff8d00 41.9%,#ff7000 44.2%,#ff5900 46.5%,#ff4a00 48.8%,#ff4700 51.2%,#ff5400 53.5%,#ff6a00 55.8%,#ff8500 58.1%,#ffa600 60.5%,#f9ff06 62.8%,#c3ff3c 65.1%,#88ff77 67.4%,#4cffb3 69.8%,#12ffed 72.1%,#00dbff 74.4%,#00a6ff 76.7%,#0080ff 79.1%,#005bff 81.4%,#0036ff 83.7%,#001cff 86.0%,#000eff 88.4%,#0000fc 90.7%,#0000df 93.0%,#0000c4 95.3%,#0000b1 97.7%,#00009e 100.0%);-webkit-mask-image:linear-gradient(transparent,#000 50%);mask-image:linear-gradient(transparent,#000 50%)"></i><i style="top:488.80px;height:23.23px;background:linear-gradient(90deg,#00009e 0.0%,#0000b1 2.3%,#0000c4 4.7%,#0000e1 7.0%,#0000ff 9.3%,#0010ff 11.6%,#001aff 14.0%,#002bff 16.3%,#0055ff 18.6%,#0088ff 20.9%,#00bcff 23.3%,#00f1ff 25.6%,#31ffce 27.9%,#7bff84 30.2%,#c3ff3c 32.6%,#f0ff0f 34.9%,#fff500 37.2%,#ffa400 39.5%,#ff8400 41.9%,#ff6800 44.2%,#ff5300 46.5%,#ff4400 48.8%,#ff4200 51.2%,#ff4e00 53.5%,#ff6200 55.8%,#ff7c00 58.1%,#ff9b00 60.5%,#feff01 62.8%,#ceff31 65.1%,#94ff6b 67.4%,#56ffa9 69.8%,#1bffe4 72.1%,#00e3ff 74.4%,#00aeff 76.7%,#0085ff 79.1%,#005dff 81.4%,#0036ff 83.7%,#001aff 86.0%,#000eff 88.4%,#0000fc 90.7%,#0000df 93.0%,#0000c4 95.3%,#0000b1 97.7%,#00009e 100.0%);-webkit-mask-image:linear-gradient(transparent,#000 50%);mask-image:linear-gradient(transparent,#000 50%)"></i><i style="top:500.16px;height:23.23px;background:linear-gradient(90deg,#00009e 0.0%,#0000b1 2.3%,#0000c4 4.7%,#0000e1 7.0%,#0001ff 9.3%,#0011ff 11.6%,#001bff 14.0%,#002fff 16.3%,#005aff 18.6%,#008dff 20.9%,#00c1ff 23.3%,#00f6ff 25.6%,#36ffc9 27.9%,#7eff81 30.2%,#c5ff3a 32.6%,#f4ff0b 34.9%,#fff100 37.2%,#ff9a00 39.5%,#ff7b00 41.9%,#ff6100 44.2%,#ff4d00 46.5%,#ff3f00 48.8%,#ff3d00 51.2%,#ff4900 53.5%,#ff5c00 55.8%,#ff7400 58.1%,#ff9100 60.5%,#fffa00 62.8%,#d9ff26 65.1%,#9fff60 67.4%,#60ff9f 69.8%,#24ffdb 72.1%,#00eaff 74.4%,#00b5ff 76.7%,#008aff 79.1%,#0060ff 81.4%,#0036ff 83.7%,#0019ff 86.0%,#000dff 88.4%,#0000fc 90.7%,#0000df 93.0%,#0000c4 95.3%,#0000b1 97.7%,#00009e 100.0%);-webkit-mask-image:linear-gradient(transparent,#000 50%);mask-image:linear-gradient(transparent,#000 50%)"></i><i style="top:511.53px;height:23.23px;background:linear-gradient(90deg,#00009e 0.0%,#0000b1 2.3%,#0000c4 4.7%,#0000e2 7.0%,#0002ff 9.3%,#0012ff 11.6%,#001cff 14.0%,#0032ff 16.3%,#005fff 18.6%,#0091ff 20.9%,#00c5ff 23.3%,#00fbff 25.6%,#3affc5 27.9%,#80ff7f 30.2%,#c7ff38 32.6%,#f8ff07 34.9%,#ffee00 37.2%,#ff9000 39.5%,#ff7300 41.9%,#ff5b00 44.2%,#ff4800 46.5%,#ff3a00 48.8%,#ff3800 51.2%,#ff4400 53.5%,#ff5500 55.8%,#ff6c00 58.1%,#ff8800 60.5%,#fff400 62.8%,#e3ff1c 65.1%,#abff54 67.4%,#69ff96 69.8%,#2dffd2 72.1%,#00f2ff 74.4%,#00bcff 76.7%,#008fff 79.1%,#0063ff 81.4%,#0036ff 83.7%,#0018ff 86.0%,#000dff 88.4%,#0000fc 90.7%,#0000df 93.0%,#0000c4 95.3%,#0000b1 97.7%,#00009e 100.0%);-webkit-mask-image:linear-gradient(transparent,#000 50%);mask-image:linear-gradient(transparent,#000 50%)"></i><i style="top:522.90px;height:23.23px;background:linear-gradient(90deg,#00009e 0.0%,#0000b1 2.3%,#0000c4 4.7%,#0000e2 7.0%,#0003ff 9.3%,#0013ff 11.6%,#001dff 14.0%,#0036ff 16.3%,#0063ff 18.6%,#0096ff 20.9%,#00caff 23.3%,#01fffe 25.6%,#3fffc0 27.9%,#82ff7d 30.2%,#c9ff36 32.6%,#fbff04 34.9%,#ffea00 37.2%,#ff8700 39.5%,#ff6c00 41.9%,#ff5500 44.2%,#ff4300 46.5%,#ff3600 48.8%,#ff3400 51.2%,#ff3f00 53.5%,#ff5000 55.8%,#ff6600 58.1%,#ff8000 60.5%,#ff9e00 62.8%,#eeff11 65.1%,#b7ff48 67.4%,#73ff8c 69.8%,#36ffc9 72.1%,#00faff 74.4%,#00c4ff 76.7%,#0094ff 79.1%,#0065ff 81.4%,#0036ff 83.7%,#0017ff 86.0%,#000dff 88.4%,#0000fc 90.7%,#0000df 93.0%,#0000c4 95.3%,#0000b1 97.7%,#00009e 100.0%);-webkit-mask-image:linear-gradient(transparent,#000 50%);mask-image:linear-gradient(transparent,#000 50%)"></i><i style="top:534.27px;height:23.23px;background:linear-gradient(90deg,#00009e 0.0%,#0000b1 2.3%,#0000c4 4.7%,#0000e3 7.0%,#0004ff 9.3%,#0015ff 11.6%,#001eff 14.0%,#003aff 16.3%,#0068ff 18.6%,#009aff 20.9%,#00ceff 23.3%,#06fff9 25.6%,#43ffbc 27.9%,#84ff7b 30.2%,#ccff33 32.6%,#ffff00 34.9%,#ff9c00 37.2%,#ff7f00 39.5%,#ff6500 41.9%,#ff5000 44.2%,#ff3f00 46.5%,#ff3300 48.8%,#ff3100 51.2%,#ff3b00 53.5%,#ff4b00 55.8%,#ff5f00 58.1%,#ff7800 60.5%,#ff9400 62.8%,#f8ff07 65.1%,#c2ff3d 67.4%,#7dff82 69.8%,#3fffc0 72.1%,#03fffc 74.4%,#00cbff 76.7%,#0099ff 79.1%,#0068ff 81.4%,#0036ff 83.7%,#0016ff 86.0%,#000cff 88.4%,#0000fc 90.7%,#0000df 93.0%,#0000c4 95.3%,#0000b1 97.7%,#00009e 100.0%);-webkit-mask-image:linear-gradient(transparent,#000 50%);mask-image:linear-gradient(transparent,#000 50%)"></i><i style="top:545.63px;height:23.23px;background:linear-gradient(90deg,#00009e 0.0%,#0000b1 2.3%,#0000c4 4.7%,#0000e3 7.0%,#0005ff 9.3%,#0016ff 11.6%,#001fff 14.0%,#003eff 16.3%,#006dff 18.6%,#009fff 20.9%,#00d3ff 23.3%,#0afff5 25.6%,#48ffb7 27.9%,#87ff78 30.2%,#ceff31 32.6%,#fffb00 34.9%,#ff9300 37.2%,#ff7800 39.5%,#ff6000 41.9%,#ff4c00 44.2%,#ff3c00 46.5%,#ff3100 48.8%,#ff2f00 51.2%,#ff3800 53.5%,#ff4700 55.8%,#ff5a00 58.1%,#ff7100 60.5%,#ff8b00 62.8%,#fffb00 65.1%,#ceff31 67.4%,#87ff78 69.8%,#48ffb7 72.1%,#0afff5 74.4%,#00d3ff 76.7%,#009fff 79.1%,#006aff 81.4%,#0036ff 83.7%,#0015ff 86.0%,#000cff 88.4%,#0000fc 90.7%,#0000df 93.0%,#0000c4 95.3%,#0000b1 97.7%,#00009e 100.0%);-webkit-mask-image:linear-gradient(transparent,#000 50%);mask-image:linear-gradient(transparent,#000 50%)"></i></div><div class="hm" style="left:470.50px;top:57.50px;width:134.50px;height:557.00px;"><i style="top:0;height:11.87px;background:linear-gradient(90deg,#0000fa 0.0%,#0010ff 3.7%,#002aff 7.4%,#0063ff 11.1%,#008eff 14.8%,#00adff 18.5%,#00cbff 22.2%,#00d7ff 25.9%,#00e0ff 29.6%,#00e8ff 33.3%,#00f0ff 37.0%,#00f7ff 40.7%,#00ffff 44.4%,#0dfff2 48.1%,#28ffd7 51.9%,#42ffbd 55.6%,#5dffa2 59.3%,#77ff88 63.0%,#92ff6d 66.7%,#a2ff5d 70.4%,#b1ff4e 74.1%,#b6ff49 77.8%,#98ff67 81.5%,#7aff85 85.2%,#5affa5 88.9%,#38ffc7 92.6%,#16ffe9 96.3%,#05fffa 100.0%)"></i><i style="top:0.00px;height:23.23px;background:linear-gradient(90deg,#0000fa 0.0%,#0010ff 3.7%,#0030ff 7.4%,#006aff 11.1%,#0096ff 14.8%,#00b7ff 18.5%,#00d7ff 22.2%,#00e4ff 25.9%,#00ebff 29.6%,#00f2ff 33.3%,#00f8ff 37.0%,#00ffff 40.7%,#08fff7 44.4%,#17ffe8 48.1%,#32ffcd 51.9%,#4dffb2 55.6%,#69ff96 59.3%,#83ff7c 63.0%,#9cff63 66.7%,#acff53 70.4%,#bbff44 74.1%,#bdff42 77.8%,#a0ff5f 81.5%,#81ff7e 85.2%,#5fffa0 88.9%,#3cffc3 92.6%,#19ffe6 96.3%,#07fff8 100.0%);-webkit-mask-image:linear-gradient(transparent,#000 50%);mask-image:linear-gradient(transparent,#000 50%)"></i><i style="top:11.37px;height:23.23px;background:linear-gradient(90deg,#0000fa 0.0%,#0010ff 3.7%,#0036ff 7.4%,#0072ff 11.1%,#009eff 14.8%,#00c1ff 18.5%,#00e4ff 22.2%,#00f0ff 25.9%,#00f6ff 29.6%,#00fbff 33.3%,#02fffd 37.0%,#08fff7 40.7%,#10ffef 44.4%,#22ffdd 48.1%,#3cffc3 51.9%,#58ffa7 55.6%,#76ff89 59.3%,#8fff70 63.0%,#a6ff59 66.7%,#b6ff49 70.4%,#c6ff39 74.1%,#c3ff3c 77.8%,#a7ff58 81.5%,#89ff76 85.2%,#65ff9a 88.9%,#40ffbf 92.6%,#1dffe2 96.3%,#08fff7 100.0%);-webkit-mask-image:linear-gradient(transparent,#000 50%);mask-image:linear-gradient(transparent,#000 50%)"></i><i style="top:22.73px;height:23.23px;background:linear-gradient(90deg,#0000fa 0.0%,#000fff 3.7%,#003cff 7.4%,#0079ff 11.1%,#00a6ff 14.8%,#00cbff 18.5%,#00f1ff 22.2%,#00fcff 25.9%,#02fffd 29.6%,#06fff9 33.3%,#0bfff4 37.0%,#0ffff0 40.7%,#18ffe7 44.4%,#2cffd3 48.1%,#46ffb9 51.9%,#63ff9c 55.6%,#83ff7c 59.3%,#9aff65 63.0%,#b0ff4f 66.7%,#c1ff3e 70.4%,#d0ff2f 74.1%,#c9ff36 77.8%,#aeff51 81.5%,#90ff6f 85.2%,#6bff94 88.9%,#44ffbb 92.6%,#20ffdf 96.3%,#09fff6 100.0%);-webkit-mask-image:linear-gradient(transparent,#000 50%);mask-image:linear-gradient(transparent,#000 50%)"></i><i style="top:34.10px;height:23.23px;background:linear-gradient(90deg,#0000fa 0.0%,#000fff 3.7%,#0042ff 7.4%,#0081ff 11.1%,#00aeff 14.8%,#00d5ff 18.5%,#00fdff 22.2%,#09fff6 25.9%,#0dfff2 29.6%,#10ffef 33.3%,#14ffeb 37.0%,#17ffe8 40.7%,#20ffdf 44.4%,#36ffc9 48.1%,#51ffae 51.9%,#6eff91 55.6%,#8fff70 59.3%,#a6ff59 63.0%,#bbff44 66.7%,#cbff34 70.4%,#daff25 74.1%,#d0ff2f 77.8%,#b6ff49 81.5%,#98ff67 85.2%,#70ff8f 88.9%,#48ffb7 92.6%,#24ffdb 96.3%,#0bfff4 100.0%);-webkit-mask-image:linear-gradient(transparent,#000 50%);mask-image:linear-gradient(transparent,#000 50%)"></i><i style="top:45.47px;height:23.23px;background:linear-gradient(90deg,#0000fa 0.0%,#000fff 3.7%,#0049ff 7.4%,#0088ff 11.1%,#00b6ff 14.8%,#00dfff 18.5%,#0bfff4 22.2%,#15ffea 25.9%,#18ffe7 29.6%,#1affe5 33.3%,#1cffe3 37.0%,#1fffe0 40.7%,#28ffd7 44.4%,#40ffbf 48.1%,#5bffa4 51.9%,#79ff86 55.6%,#9cff63 59.3%,#b2ff4d 63.0%,#c5ff3a 66.7%,#d5ff2a 70.4%,#e5ff1a 74.1%,#d6ff29 77.8%,#bdff42 81.5%,#9fff60 85.2%,#76ff89 88.9%,#4cffb3 92.6%,#28ffd7 96.3%,#0cfff3 100.0%);-webkit-mask-image:linear-gradient(transparent,#000 50%);mask-image:linear-gradient(transparent,#000 50%)"></i><i style="top:56.84px;height:23.23px;background:linear-gradient(90deg,#0000fa 0.0%,#000eff 3.7%,#004fff 7.4%,#0090ff 11.1%,#00beff 14.8%,#00eaff 18.5%,#17ffe8 22.2%,#22ffdd 25.9%,#23ffdc 29.6%,#24ffdb 33.3%,#25ffda 37.0%,#26ffd9 40.7%,#30ffcf 44.4%,#4affb5 48.1%,#65ff9a 51.9%,#84ff7b 55.6%,#a8ff57 59.3%,#beff41 63.0%,#cfff30 66.7%,#e0ff1f 70.4%,#efff10 74.1%,#dcff23 77.8%,#c5ff3a 81.5%,#a7ff58 85.2%,#7bff84 88.9%,#50ffaf 92.6%,#2bffd4 96.3%,#0efff1 100.0%);-webkit-mask-image:linear-gradient(transparent,#000 50%);mask-image:linear-gradient(transparent,#000 50%)"></i><i style="top:68.20px;height:23.23px;background:linear-gradient(90deg,#0000fa 0.0%,#000eff 3.7%,#0055ff 7.4%,#0097ff 11.1%,#00c6ff 14.8%,#00f4ff 18.5%,#24ffdb 22.2%,#2effd1 25.9%,#2effd1 29.6%,#2effd1 33.3%,#2effd1 37.0%,#2effd1 40.7%,#39ffc6 44.4%,#54ffab 48.1%,#6fff90 51.9%,#8fff70 55.6%,#b5ff4a 59.3%,#caff35 63.0%,#daff25 66.7%,#eaff15 70.4%,#f9ff06 74.1%,#e3ff1c 77.8%,#ccff33 81.5%,#aeff51 85.2%,#81ff7e 88.9%,#53ffac 92.6%,#2fffd0 96.3%,#0ffff0 100.0%);-webkit-mask-image:linear-gradient(transparent,#000 50%);mask-image:linear-gradient(transparent,#000 50%)"></i><i style="top:79.57px;height:23.23px;background:linear-gradient(90deg,#0005ff 0.0%,#001bff 3.7%,#0065ff 7.4%,#00a4ff 11.1%,#00d1ff 14.8%,#00fcff 18.5%,#2cffd3 22.2%,#36ffc9 25.9%,#37ffc8 29.6%,#37ffc8 33.3%,#37ffc8 37.0%,#37ffc8 40.7%,#40ffbf 44.4%,#58ffa7 48.1%,#72ff8d 51.9%,#93ff6c 55.6%,#b8ff47 59.3%,#d0ff2f 63.0%,#e2ff1d 66.7%,#f3ff0c 70.4%,#fffb00 74.1%,#edff12 77.8%,#d6ff29 81.5%,#b8ff47 85.2%,#8bff74 88.9%,#5cffa3 92.6%,#32ffcd 96.3%,#13ffec 100.0%);-webkit-mask-image:linear-gradient(transparent,#000 50%);mask-image:linear-gradient(transparent,#000 50%)"></i><i style="top:90.94px;height:23.23px;background:linear-gradient(90deg,#000fff 0.0%,#0028ff 3.7%,#0075ff 7.4%,#00b1ff 11.1%,#00dcff 14.8%,#04fffb 18.5%,#34ffcb 22.2%,#3fffc0 25.9%,#3fffc0 29.6%,#40ffbf 33.3%,#40ffbf 37.0%,#41ffbe 40.7%,#48ffb7 44.4%,#5bffa4 48.1%,#74ff8b 51.9%,#96ff69 55.6%,#bcff43 59.3%,#d6ff29 63.0%,#eaff15 66.7%,#fcff03 70.4%,#fff100 74.1%,#f7ff08 77.8%,#e0ff1f 81.5%,#c2ff3d 85.2%,#95ff6a 88.9%,#64ff9b 92.6%,#36ffc9 96.3%,#16ffe9 100.0%);-webkit-mask-image:linear-gradient(transparent,#000 50%);mask-image:linear-gradient(transparent,#000 50%)"></i><i style="top:102.31px;height:23.23px;background:linear-gradient(90deg,#0019ff 0.0%,#0035ff 3.7%,#0085ff 7.4%,#00beff 11.1%,#00e8ff 14.8%,#0cfff3 18.5%,#3bffc4 22.2%,#47ffb8 25.9%,#48ffb7 29.6%,#49ffb6 33.3%,#49ffb6 37.0%,#4affb5 40.7%,#50ffaf 44.4%,#5fffa0 48.1%,#77ff88 51.9%,#99ff66 55.6%,#bfff40 59.3%,#dcff23 63.0%,#f1ff0e 66.7%,#fff900 70.4%,#ffe700 74.1%,#fffd00 77.8%,#eaff15 81.5%,#ccff33 85.2%,#a0ff5f 88.9%,#6cff93 92.6%,#39ffc6 96.3%,#19ffe6 100.0%);-webkit-mask-image:linear-gradient(transparent,#000 50%);mask-image:linear-gradient(transparent,#000 50%)"></i><i style="top:113.67px;height:23.23px;background:linear-gradient(90deg,#0023ff 0.0%,#0042ff 3.7%,#0095ff 7.4%,#00cbff 11.1%,#00f3ff 14.8%,#14ffeb 18.5%,#43ffbc 22.2%,#50ffaf 25.9%,#51ffae 29.6%,#52ffad 33.3%,#53ffac 37.0%,#54ffab 40.7%,#58ffa7 44.4%,#63ff9c 48.1%,#79ff86 51.9%,#9dff62 55.6%,#c2ff3d 59.3%,#e2ff1d 63.0%,#f9ff06 66.7%,#fff000 70.4%,#ffdd00 74.1%,#fff300 77.8%,#f4ff0b 81.5%,#d6ff29 85.2%,#aaff55 88.9%,#74ff8b 92.6%,#3dffc2 96.3%,#1dffe2 100.0%);-webkit-mask-image:linear-gradient(transparent,#000 50%);mask-image:linear-gradient(transparent,#000 50%)"></i><i style="top:125.04px;height:23.23px;background:linear-gradient(90deg,#002dff 0.0%,#0050ff 3.7%,#00a5ff 7.4%,#00d8ff 11.1%,#00feff 14.8%,#1bffe4 18.5%,#4bffb4 22.2%,#58ffa7 25.9%,#5affa5 29.6%,#5bffa4 33.3%,#5cffa3 37.0%,#5dffa2 40.7%,#60ff9f 44.4%,#66ff99 48.1%,#7bff84 51.9%,#a0ff5f 55.6%,#c6ff39 59.3%,#e8ff17 63.0%,#fffd00 66.7%,#ffe700 70.4%,#ffd300 74.1%,#ffe900 77.8%,#feff01 81.5%,#e0ff1f 85.2%,#b4ff4b 88.9%,#7cff83 92.6%,#40ffbf 96.3%,#20ffdf 100.0%);-webkit-mask-image:linear-gradient(transparent,#000 50%);mask-image:linear-gradient(transparent,#000 50%)"></i><i style="top:136.41px;height:23.23px;background:linear-gradient(90deg,#0037ff 0.0%,#005dff 3.7%,#00b6ff 7.4%,#00e5ff 11.1%,#0afff5 14.8%,#23ffdc 18.5%,#53ffac 22.2%,#61ff9e 25.9%,#62ff9d 29.6%,#64ff9b 33.3%,#65ff9a 37.0%,#66ff99 40.7%,#68ff97 44.4%,#6aff95 48.1%,#7eff81 51.9%,#a3ff5c 55.6%,#c9ff36 59.3%,#efff10 63.0%,#fff500 66.7%,#ffde00 70.4%,#ffc900 74.1%,#ffdf00 77.8%,#fff600 81.5%,#eaff15 85.2%,#beff41 88.9%,#84ff7b 92.6%,#44ffbb 96.3%,#23ffdc 100.0%);-webkit-mask-image:linear-gradient(transparent,#000 50%);mask-image:linear-gradient(transparent,#000 50%)"></i><i style="top:147.78px;height:23.23px;background:linear-gradient(90deg,#003aff 0.0%,#0061ff 3.7%,#00bdff 7.4%,#00edff 11.1%,#14ffeb 14.8%,#31ffce 18.5%,#62ff9d 22.2%,#71ff8e 25.9%,#73ff8c 29.6%,#75ff8a 33.3%,#76ff89 37.0%,#77ff88 40.7%,#77ff88 44.4%,#76ff89 48.1%,#87ff78 51.9%,#acff53 55.6%,#d1ff2e 59.3%,#f6ff09 63.0%,#ffed00 66.7%,#ffd600 70.4%,#ffc100 74.1%,#ffd700 77.8%,#ffee00 81.5%,#f3ff0c 85.2%,#c7ff38 88.9%,#8bff74 92.6%,#48ffb7 96.3%,#26ffd9 100.0%);-webkit-mask-image:linear-gradient(transparent,#000 50%);mask-image:linear-gradient(transparent,#000 50%)"></i><i style="top:159.14px;height:23.23px;background:linear-gradient(90deg,#003dff 0.0%,#0064ff 3.7%,#00c3ff 7.4%,#00f4ff 11.1%,#1effe1 14.8%,#40ffbf 18.5%,#73ff8c 22.2%,#82ff7d 25.9%,#85ff7a 29.6%,#88ff77 33.3%,#88ff77 37.0%,#88ff77 40.7%,#87ff78 44.4%,#83ff7c 48.1%,#92ff6d 51.9%,#b6ff49 55.6%,#daff25 59.3%,#feff01 63.0%,#ffe500 66.7%,#ffcf00 70.4%,#ffb900 74.1%,#ffd000 77.8%,#ffe600 81.5%,#fbff04 85.2%,#d0ff2f 88.9%,#91ff6e 92.6%,#4cffb3 96.3%,#29ffd6 100.0%);-webkit-mask-image:linear-gradient(transparent,#000 50%);mask-image:linear-gradient(transparent,#000 50%)"></i><i style="top:170.51px;height:23.23px;background:linear-gradient(90deg,#003fff 0.0%,#0067ff 3.7%,#00c9ff 7.4%,#00fcff 11.1%,#28ffd7 14.8%,#4fffb0 18.5%,#84ff7b 22.2%,#94ff6b 25.9%,#97ff68 29.6%,#9bff64 33.3%,#9aff65 37.0%,#9aff65 40.7%,#97ff68 44.4%,#90ff6f 48.1%,#9dff62 51.9%,#bfff40 55.6%,#e2ff1d 59.3%,#fff800 63.0%,#ffde00 66.7%,#ffc700 70.4%,#ffb100 74.1%,#ffc800 77.8%,#ffdf00 81.5%,#fffb00 85.2%,#d9ff26 88.9%,#97ff68 92.6%,#50ffaf 96.3%,#2bffd4 100.0%);-webkit-mask-image:linear-gradient(transparent,#000 50%);mask-image:linear-gradient(transparent,#000 50%)"></i><i style="top:181.88px;height:23.23px;background:linear-gradient(90deg,#0042ff 0.0%,#006aff 3.7%,#00cfff 7.4%,#04fffb 11.1%,#31ffce 14.8%,#5dffa2 18.5%,#94ff6b 22.2%,#a5ff5a 25.9%,#a9ff56 29.6%,#adff52 33.3%,#acff53 37.0%,#abff54 40.7%,#a7ff58 44.4%,#9dff62 48.1%,#a8ff57 51.9%,#c9ff36 55.6%,#ebff14 59.3%,#fff000 63.0%,#ffd600 66.7%,#ffbf00 70.4%,#ffaa00 74.1%,#ffc000 77.8%,#ffd700 81.5%,#fff300 85.2%,#e2ff1d 88.9%,#9eff61 92.6%,#54ffab 96.3%,#2effd1 100.0%);-webkit-mask-image:linear-gradient(transparent,#000 50%);mask-image:linear-gradient(transparent,#000 50%)"></i><i style="top:193.24px;height:23.23px;background:linear-gradient(90deg,#0045ff 0.0%,#006dff 3.7%,#00d5ff 7.4%,#0bfff4 11.1%,#3bffc4 14.8%,#6cff93 18.5%,#a5ff5a 22.2%,#b6ff49 25.9%,#bbff44 29.6%,#c0ff3f 33.3%,#beff41 37.0%,#bcff43 40.7%,#b6ff49 44.4%,#aaff55 48.1%,#b3ff4c 51.9%,#d2ff2d 55.6%,#f3ff0c 59.3%,#ffe800 63.0%,#ffce00 66.7%,#ffb800 70.4%,#ffa200 74.1%,#ffb800 77.8%,#ffcf00 81.5%,#ffeb00 85.2%,#eaff15 88.9%,#a4ff5b 92.6%,#58ffa7 96.3%,#30ffcf 100.0%);-webkit-mask-image:linear-gradient(transparent,#000 50%);mask-image:linear-gradient(transparent,#000 50%)"></i><i style="top:204.61px;height:23.23px;background:linear-gradient(90deg,#0047ff 0.0%,#0070ff 3.7%,#00dbff 7.4%,#12ffed 11.1%,#45ffba 14.8%,#7bff84 18.5%,#b6ff49 22.2%,#c8ff37 25.9%,#ceff31 29.6%,#d3ff2c 33.3%,#d0ff2f 37.0%,#ceff31 40.7%,#c6ff39 44.4%,#b7ff48 48.1%,#beff41 51.9%,#dcff23 55.6%,#fcff03 59.3%,#ffe000 63.0%,#ffc700 66.7%,#ffb000 70.4%,#ff9a00 74.1%,#ffb100 77.8%,#ffc700 81.5%,#ffe300 85.2%,#f3ff0c 88.9%,#abff54 92.6%,#5dffa2 96.3%,#33ffcc 100.0%);-webkit-mask-image:linear-gradient(transparent,#000 50%);mask-image:linear-gradient(transparent,#000 50%)"></i><i style="top:215.98px;height:23.23px;background:linear-gradient(90deg,#004aff 0.0%,#0073ff 3.7%,#00e1ff 7.4%,#19ffe6 11.1%,#4effb1 14.8%,#8aff75 18.5%,#c6ff39 22.2%,#d9ff26 25.9%,#e0ff1f 29.6%,#e6ff19 33.3%,#e2ff1d 37.0%,#dfff20 40.7%,#d6ff29 44.4%,#c4ff3b 48.1%,#c9ff36 51.9%,#e5ff1a 55.6%,#fffa00 59.3%,#ffd800 63.0%,#ffbf00 66.7%,#ffa800 70.4%,#ff9200 74.1%,#ffa900 77.8%,#ffc000 81.5%,#ffdc00 85.2%,#fcff03 88.9%,#b1ff4e 92.6%,#61ff9e 96.3%,#35ffca 100.0%);-webkit-mask-image:linear-gradient(transparent,#000 50%);mask-image:linear-gradient(transparent,#000 50%)"></i><i style="top:227.35px;height:23.23px;background:linear-gradient(90deg,#004cff 0.0%,#0076ff 3.7%,#00e7ff 7.4%,#20ffdf 11.1%,#58ffa7 14.8%,#98ff67 18.5%,#d7ff28 22.2%,#eaff15 25.9%,#f2ff0d 29.6%,#f8ff07 33.3%,#f5ff0a 37.0%,#f1ff0e 40.7%,#e6ff19 44.4%,#d1ff2e 48.1%,#d4ff2b 51.9%,#efff10 55.6%,#fff100 59.3%,#ffd100 63.0%,#ffb700 66.7%,#ffa000 70.4%,#ff8b00 74.1%,#ffa100 77.8%,#ffb800 81.5%,#ffd400 85.2%,#fff900 88.9%,#b7ff48 92.6%,#65ff9a 96.3%,#38ffc7 100.0%);-webkit-mask-image:linear-gradient(transparent,#000 50%);mask-image:linear-gradient(transparent,#000 50%)"></i><i style="top:238.71px;height:23.23px;background:linear-gradient(90deg,#0057ff 0.0%,#0081ff 3.7%,#00efff 7.4%,#2affd5 11.1%,#62ff9d 14.8%,#a1ff5e 18.5%,#dcff23 22.2%,#f4ff0b 25.9%,#fdff02 29.6%,#fffc00 33.3%,#faff05 37.0%,#f4ff0b 40.7%,#ebff14 44.4%,#daff25 48.1%,#dfff20 51.9%,#f8ff07 55.6%,#ffe700 59.3%,#ffc600 63.0%,#ffab00 66.7%,#ff9400 70.4%,#ff7d00 74.1%,#ff9200 77.8%,#ffa900 81.5%,#ffc800 85.2%,#fff000 88.9%,#c3ff3c 92.6%,#6eff91 96.3%,#41ffbe 100.0%);-webkit-mask-image:linear-gradient(transparent,#000 50%);mask-image:linear-gradient(transparent,#000 50%)"></i><i style="top:250.08px;height:23.23px;background:linear-gradient(90deg,#0063ff 0.0%,#008cff 3.7%,#00f7ff 7.4%,#33ffcc 11.1%,#6cff93 14.8%,#a8ff57 18.5%,#e0ff1f 22.2%,#feff01 25.9%,#fff600 29.6%,#fff300 33.3%,#ffff00 37.0%,#f5ff0a 40.7%,#efff10 44.4%,#e3ff1c 48.1%,#eaff15 51.9%,#fffc00 55.6%,#ffdd00 59.3%,#ffba00 63.0%,#ff9e00 66.7%,#ff8600 70.4%,#ff6f00 74.1%,#ff8200 77.8%,#ff9900 81.5%,#ffbc00 85.2%,#ffe800 88.9%,#ceff31 92.6%,#78ff87 96.3%,#4affb5 100.0%);-webkit-mask-image:linear-gradient(transparent,#000 50%);mask-image:linear-gradient(transparent,#000 50%)"></i><i style="top:261.45px;height:23.23px;background:linear-gradient(90deg,#006eff 0.0%,#0097ff 3.7%,#00ffff 7.4%,#3dffc2 11.1%,#76ff89 14.8%,#b0ff4f 18.5%,#e5ff1a 22.2%,#fff600 25.9%,#ffeb00 29.6%,#ffea00 33.3%,#fffa00 37.0%,#f7ff08 40.7%,#f4ff0b 44.4%,#ecff13 48.1%,#f4ff0b 51.9%,#fff200 55.6%,#ffd300 59.3%,#ffaf00 63.0%,#ff9100 66.7%,#ff7900 70.4%,#ff6100 74.1%,#ff7100 77.8%,#ff8900 81.5%,#ffaf00 85.2%,#ffdf00 88.9%,#daff25 92.6%,#82ff7d 96.3%,#53ffac 100.0%);-webkit-mask-image:linear-gradient(transparent,#000 50%);mask-image:linear-gradient(transparent,#000 50%)"></i><i style="top:272.82px;height:23.23px;background:linear-gradient(90deg,#007aff 0.0%,#00a2ff 3.7%,#08fff7 7.4%,#46ffb9 11.1%,#81ff7e 14.8%,#b8ff47 18.5%,#e9ff16 22.2%,#ffec00 25.9%,#ffe000 29.6%,#ffe200 33.3%,#fff500 37.0%,#f9ff06 40.7%,#f8ff07 44.4%,#f6ff09 48.1%,#ffff00 51.9%,#ffe800 55.6%,#ffc900 59.3%,#ffa400 63.0%,#ff8400 66.7%,#ff6c00 70.4%,#ff5300 74.1%,#ff6100 77.8%,#ff7a00 81.5%,#ffa300 85.2%,#ffd600 88.9%,#e6ff19 92.6%,#8cff73 96.3%,#5cffa3 100.0%);-webkit-mask-image:linear-gradient(transparent,#000 50%);mask-image:linear-gradient(transparent,#000 50%)"></i><i style="top:284.18px;height:23.23px;background:linear-gradient(90deg,#0086ff 0.0%,#00adff 3.7%,#0ffff0 7.4%,#51ffae 11.1%,#8eff71 14.8%,#c5ff3a 18.5%,#f4ff0b 22.2%,#ffe100 25.9%,#ffd600 29.6%,#ffd900 33.3%,#ffee00 37.0%,#fffe00 40.7%,#fffe00 44.4%,#fffe00 48.1%,#fff300 51.9%,#ffde00 55.6%,#ffbe00 59.3%,#ff9900 63.0%,#ff7900 66.7%,#ff6000 70.4%,#ff4800 74.1%,#ff5400 77.8%,#ff6d00 81.5%,#ff9a00 85.2%,#ffd100 88.9%,#edff12 92.6%,#95ff6a 96.3%,#63ff9c 100.0%);-webkit-mask-image:linear-gradient(transparent,#000 50%);mask-image:linear-gradient(transparent,#000 50%)"></i><i style="top:295.55px;height:23.23px;background:linear-gradient(90deg,#0093ff 0.0%,#00b6ff 3.7%,#15ffea 7.4%,#5cffa3 11.1%,#9eff61 14.8%,#d9ff26 18.5%,#fff800 22.2%,#ffd400 25.9%,#ffcd00 29.6%,#ffd200 33.3%,#ffe500 37.0%,#fff200 40.7%,#fff200 44.4%,#fff200 48.1%,#ffe800 51.9%,#ffd200 55.6%,#ffb300 59.3%,#ff8f00 63.0%,#ff6f00 66.7%,#ff5500 70.4%,#ff3f00 74.1%,#ff4900 77.8%,#ff6400 81.5%,#ff9300 85.2%,#ffd100 88.9%,#f1ff0e 92.6%,#9eff61 96.3%,#68ff97 100.0%);-webkit-mask-image:linear-gradient(transparent,#000 50%);mask-image:linear-gradient(transparent,#000 50%)"></i><i style="top:306.92px;height:23.23px;background:linear-gradient(90deg,#00a1ff 0.0%,#00c0ff 3.7%,#1bffe4 7.4%,#68ff97 11.1%,#aeff51 14.8%,#ecff13 18.5%,#ffe700 22.2%,#ffc700 25.9%,#ffc300 29.6%,#ffcb00 33.3%,#ffdc00 37.0%,#ffe700 40.7%,#ffe700 44.4%,#ffe700 48.1%,#ffdc00 51.9%,#ffc600 55.6%,#ffa800 59.3%,#ff8400 63.0%,#ff6500 66.7%,#ff4b00 70.4%,#ff3700 74.1%,#ff3f00 77.8%,#ff5b00 81.5%,#ff8c00 85.2%,#ffd100 88.9%,#f4ff0b 92.6%,#a7ff58 96.3%,#6cff93 100.0%);-webkit-mask-image:linear-gradient(transparent,#000 50%);mask-image:linear-gradient(transparent,#000 50%)"></i><i style="top:318.29px;height:23.23px;background:linear-gradient(90deg,#00aeff 0.0%,#00c9ff 3.7%,#21ffde 7.4%,#73ff8c 11.1%,#beff41 14.8%,#ffff00 18.5%,#ffd500 22.2%,#ffba00 25.9%,#ffb900 29.6%,#ffc400 33.3%,#ffd300 37.0%,#ffdb00 40.7%,#ffdb00 44.4%,#ffdb00 48.1%,#ffd000 51.9%,#ffbb00 55.6%,#ff9d00 59.3%,#ff7a00 63.0%,#ff5b00 66.7%,#ff4000 70.4%,#ff2e00 74.1%,#ff3400 77.8%,#ff5200 81.5%,#ff8500 85.2%,#ffd100 88.9%,#f8ff07 92.6%,#afff50 96.3%,#70ff8f 100.0%);-webkit-mask-image:linear-gradient(transparent,#000 50%);mask-image:linear-gradient(transparent,#000 50%)"></i><i style="top:329.65px;height:23.23px;background:linear-gradient(90deg,#00bbff 0.0%,#00d3ff 3.7%,#27ffd8 7.4%,#7eff81 11.1%,#ceff31 14.8%,#ffec00 18.5%,#ffc300 22.2%,#ffad00 25.9%,#ffaf00 29.6%,#ffbc00 33.3%,#ffc900 37.0%,#ffcf00 40.7%,#ffcf00 44.4%,#ffcf00 48.1%,#ffc500 51.9%,#ffaf00 55.6%,#ff9200 59.3%,#ff6f00 63.0%,#ff5100 66.7%,#ff3600 70.4%,#ff2500 74.1%,#ff2a00 77.8%,#ff4900 81.5%,#ff7e00 85.2%,#ffd100 88.9%,#fbff04 92.6%,#b8ff47 96.3%,#75ff8a 100.0%);-webkit-mask-image:linear-gradient(transparent,#000 50%);mask-image:linear-gradient(transparent,#000 50%)"></i><i style="top:341.02px;height:23.23px;background:linear-gradient(90deg,#00c8ff 0.0%,#00dcff 3.7%,#2dffd2 7.4%,#8aff75 11.1%,#deff21 14.8%,#ffd900 18.5%,#ffb200 22.2%,#ffa000 25.9%,#ffa600 29.6%,#ffb500 33.3%,#ffc000 37.0%,#ffc400 40.7%,#ffc400 44.4%,#ffc400 48.1%,#ffb900 51.9%,#ffa300 55.6%,#ff8700 59.3%,#ff6500 63.0%,#ff4700 66.7%,#ff2b00 70.4%,#ff1c00 74.1%,#ff1f00 77.8%,#ff4000 81.5%,#ff7700 85.2%,#ffd100 88.9%,#ffff00 92.6%,#c1ff3e 96.3%,#79ff86 100.0%);-webkit-mask-image:linear-gradient(transparent,#000 50%);mask-image:linear-gradient(transparent,#000 50%)"></i><i style="top:352.39px;height:23.23px;background:linear-gradient(90deg,#00d5ff 0.0%,#00e6ff 3.7%,#33ffcc 7.4%,#95ff6a 11.1%,#eeff11 14.8%,#ffc600 18.5%,#ffa000 22.2%,#ff9300 25.9%,#ff9c00 29.6%,#ffae00 33.3%,#ffb700 37.0%,#ffb800 40.7%,#ffb800 44.4%,#ffb800 48.1%,#ffad00 51.9%,#ff9800 55.6%,#ff7b00 59.3%,#ff5b00 63.0%,#ff3d00 66.7%,#ff2100 70.4%,#ff1400 74.1%,#ff1400 77.8%,#ff3700 81.5%,#ff7000 85.2%,#ffd100 88.9%,#fffc00 92.6%,#caff35 96.3%,#7dff82 100.0%);-webkit-mask-image:linear-gradient(transparent,#000 50%);mask-image:linear-gradient(transparent,#000 50%)"></i><i style="top:363.76px;height:23.23px;background:linear-gradient(90deg,#00deff 0.0%,#00edff 3.7%,#39ffc6 7.4%,#9fff60 11.1%,#f9ff06 14.8%,#ffb900 18.5%,#ff9200 22.2%,#ff8600 25.9%,#ff8f00 29.6%,#ffa000 33.3%,#ffa900 37.0%,#ffab00 40.7%,#ffac00 44.4%,#ffad00 48.1%,#ffa300 51.9%,#ff8d00 55.6%,#ff7200 59.3%,#ff5200 63.0%,#ff3500 66.7%,#ff1900 70.4%,#ff0c00 74.1%,#ff0d00 77.8%,#ff3000 81.5%,#ff6a00 85.2%,#ffcc00 88.9%,#fff700 92.6%,#d0ff2f 96.3%,#83ff7c 100.0%);-webkit-mask-image:linear-gradient(transparent,#000 50%);mask-image:linear-gradient(transparent,#000 50%)"></i><i style="top:375.12px;height:23.23px;background:linear-gradient(90deg,#00e2ff 0.0%,#00f1ff 3.7%,#40ffbf 7.4%,#a7ff58 11.1%,#ffff00 14.8%,#ffb200 18.5%,#ff8700 22.2%,#ff7700 25.9%,#ff7e00 29.6%,#ff8e00 33.3%,#ff9700 37.0%,#ff9c00 40.7%,#ffa000 44.4%,#ffa300 48.1%,#ff9a00 51.9%,#ff8400 55.6%,#ff6900 59.3%,#ff4a00 63.0%,#ff2e00 66.7%,#ff1300 70.4%,#ff0500 74.1%,#ff0900 77.8%,#ff2a00 81.5%,#ff6400 85.2%,#ffc200 88.9%,#fff000 92.6%,#d5ff2a 96.3%,#8aff75 100.0%);-webkit-mask-image:linear-gradient(transparent,#000 50%);mask-image:linear-gradient(transparent,#000 50%)"></i><i style="top:386.49px;height:23.23px;background:linear-gradient(90deg,#00e7ff 0.0%,#00f6ff 3.7%,#47ffb8 7.4%,#b0ff4f 11.1%,#fff900 14.8%,#ffab00 18.5%,#ff7c00 22.2%,#ff6900 25.9%,#ff6e00 29.6%,#ff7b00 33.3%,#ff8500 37.0%,#ff8d00 40.7%,#ff9300 44.4%,#ff9900 48.1%,#ff9000 51.9%,#ff7b00 55.6%,#ff6000 59.3%,#ff4200 63.0%,#ff2700 66.7%,#ff0d00 70.4%,#fd0000 74.1%,#ff0500 77.8%,#ff2500 81.5%,#ff5e00 85.2%,#ffb800 88.9%,#ffe900 92.6%,#daff25 96.3%,#91ff6e 100.0%);-webkit-mask-image:linear-gradient(transparent,#000 50%);mask-image:linear-gradient(transparent,#000 50%)"></i><i style="top:397.86px;height:23.23px;background:linear-gradient(90deg,#00ecff 0.0%,#00fbff 3.7%,#4effb1 7.4%,#b8ff47 11.1%,#fff200 14.8%,#ffa400 18.5%,#ff7100 22.2%,#ff5b00 25.9%,#ff5d00 29.6%,#ff6800 33.3%,#ff7300 37.0%,#ff7e00 40.7%,#ff8700 44.4%,#ff8e00 48.1%,#ff8700 51.9%,#ff7200 55.6%,#ff5800 59.3%,#ff3b00 63.0%,#ff2000 66.7%,#ff0700 70.4%,#f60000 74.1%,#ff0100 77.8%,#ff1f00 81.5%,#ff5800 85.2%,#ffae00 88.9%,#ffe300 92.6%,#deff21 96.3%,#98ff67 100.0%);-webkit-mask-image:linear-gradient(transparent,#000 50%);mask-image:linear-gradient(transparent,#000 50%)"></i><i style="top:409.22px;height:23.23px;background:linear-gradient(90deg,#00f0ff 0.0%,#00ffff 3.7%,#54ffab 7.4%,#c0ff3f 11.1%,#ffec00 14.8%,#ff9d00 18.5%,#ff6600 22.2%,#ff4d00 25.9%,#ff4c00 29.6%,#ff5600 33.3%,#ff6100 37.0%,#ff6f00 40.7%,#ff7a00 44.4%,#ff8400 48.1%,#ff7e00 51.9%,#ff6800 55.6%,#ff4f00 59.3%,#ff3300 63.0%,#ff1900 66.7%,#ff0100 70.4%,#ef0000 74.1%,#fb0000 77.8%,#ff1a00 81.5%,#ff5300 85.2%,#ffa300 88.9%,#ffdc00 92.6%,#e3ff1c 96.3%,#9fff60 100.0%);-webkit-mask-image:linear-gradient(transparent,#000 50%);mask-image:linear-gradient(transparent,#000 50%)"></i><i style="top:420.59px;height:23.23px;background:linear-gradient(90deg,#00f5ff 0.0%,#05fffa 3.7%,#5bffa4 7.4%,#c9ff36 11.1%,#ffe500 14.8%,#ff9600 18.5%,#ff5a00 22.2%,#ff3f00 25.9%,#ff3c00 29.6%,#ff4300 33.3%,#ff4f00 37.0%,#ff6000 40.7%,#ff6e00 44.4%,#ff7a00 48.1%,#ff7500 51.9%,#ff5f00 55.6%,#ff4600 59.3%,#ff2b00 63.0%,#ff1200 66.7%,#fa0000 70.4%,#e80000 74.1%,#f70000 77.8%,#ff1400 81.5%,#ff4d00 85.2%,#ff9900 88.9%,#ffd500 92.6%,#e8ff17 96.3%,#a6ff59 100.0%);-webkit-mask-image:linear-gradient(transparent,#000 50%);mask-image:linear-gradient(transparent,#000 50%)"></i><i style="top:431.96px;height:23.23px;background:linear-gradient(90deg,#00f9ff 0.0%,#0afff5 3.7%,#62ff9d 7.4%,#d1ff2e 11.1%,#ffdf00 14.8%,#ff8f00 18.5%,#ff4f00 22.2%,#ff3100 25.9%,#ff2b00 29.6%,#ff3000 33.3%,#ff3d00 37.0%,#ff5100 40.7%,#ff6100 44.4%,#ff6f00 48.1%,#ff6b00 51.9%,#ff5600 55.6%,#ff3e00 59.3%,#ff2400 63.0%,#ff0b00 66.7%,#f40000 70.4%,#e10000 74.1%,#f30000 77.8%,#ff0f00 81.5%,#ff4700 85.2%,#ff8f00 88.9%,#ffce00 92.6%,#ecff13 96.3%,#adff52 100.0%);-webkit-mask-image:linear-gradient(transparent,#000 50%);mask-image:linear-gradient(transparent,#000 50%)"></i><i style="top:443.33px;height:23.23px;background:linear-gradient(90deg,#00feff 0.0%,#0efff1 3.7%,#69ff96 7.4%,#d9ff26 11.1%,#ffd900 14.8%,#ff8800 18.5%,#ff4400 22.2%,#ff2300 25.9%,#ff1b00 29.6%,#ff1e00 33.3%,#ff2b00 37.0%,#ff4200 40.7%,#ff5500 44.4%,#ff6500 48.1%,#ff6200 51.9%,#ff4d00 55.6%,#ff3500 59.3%,#ff1c00 63.0%,#ff0500 66.7%,#ee0000 70.4%,#db0000 74.1%,#ef0000 77.8%,#ff0900 81.5%,#ff4100 85.2%,#ff8500 88.9%,#ffc700 92.6%,#f1ff0e 96.3%,#b4ff4b 100.0%);-webkit-mask-image:linear-gradient(transparent,#000 50%);mask-image:linear-gradient(transparent,#000 50%)"></i><i style="top:454.69px;height:23.23px;background:linear-gradient(90deg,#04fffb 0.0%,#13ffec 3.7%,#70ff8f 7.4%,#e1ff1e 11.1%,#ffd200 14.8%,#ff8100 18.5%,#ff3900 22.2%,#ff1400 25.9%,#ff0a00 29.6%,#ff0b00 33.3%,#ff1900 37.0%,#ff3400 40.7%,#ff4800 44.4%,#ff5b00 48.1%,#ff5900 51.9%,#ff4300 55.6%,#ff2c00 59.3%,#ff1400 63.0%,#fd0000 66.7%,#e80000 70.4%,#d40000 74.1%,#ea0000 77.8%,#ff0400 81.5%,#ff3c00 85.2%,#ff7a00 88.9%,#ffc100 92.6%,#f6ff09 96.3%,#bbff44 100.0%);-webkit-mask-image:linear-gradient(transparent,#000 50%);mask-image:linear-gradient(transparent,#000 50%)"></i><i style="top:466.06px;height:23.23px;background:linear-gradient(90deg,#07fff8 0.0%,#19ffe6 3.7%,#7aff85 7.4%,#ebff14 11.1%,#ffc500 14.8%,#ff7300 18.5%,#ff2c00 22.2%,#ff0700 25.9%,#ff0000 29.6%,#ff0200 33.3%,#ff1100 37.0%,#ff2b00 40.7%,#ff3f00 44.4%,#ff5000 48.1%,#ff4e00 51.9%,#ff3a00 55.6%,#ff2500 59.3%,#ff0e00 63.0%,#f70000 66.7%,#e30000 70.4%,#cf0000 74.1%,#e60000 77.8%,#ff0000 81.5%,#ff3700 85.2%,#ff7500 88.9%,#ffbd00 92.6%,#f8ff07 96.3%,#c1ff3e 100.0%);-webkit-mask-image:linear-gradient(transparent,#000 50%);mask-image:linear-gradient(transparent,#000 50%)"></i><i style="top:477.43px;height:23.23px;background:linear-gradient(90deg,#0afff5 0.0%,#20ffdf 3.7%,#86ff79 7.4%,#f4ff0b 11.1%,#ffb500 14.8%,#ff6200 18.5%,#ff1d00 22.2%,#f90000 25.9%,#f70000 29.6%,#fe0000 33.3%,#ff0e00 37.0%,#ff2600 40.7%,#ff3700 44.4%,#ff4500 48.1%,#ff4300 51.9%,#ff3100 55.6%,#ff1d00 59.3%,#ff0800 63.0%,#f20000 66.7%,#df0000 70.4%,#cc0000 74.1%,#e10000 77.8%,#fc0000 81.5%,#ff3400 85.2%,#ff7200 88.9%,#ffbb00 92.6%,#f9ff06 96.3%,#c8ff37 100.0%);-webkit-mask-image:linear-gradient(transparent,#000 50%);mask-image:linear-gradient(transparent,#000 50%)"></i><i style="top:488.80px;height:23.23px;background:linear-gradient(90deg,#0cfff3 0.0%,#27ffd8 3.7%,#93ff6c 7.4%,#feff01 11.1%,#ffa400 14.8%,#ff5000 18.5%,#ff0f00 22.2%,#eb0000 25.9%,#ef0000 29.6%,#fa0000 33.3%,#ff0a00 37.0%,#ff2000 40.7%,#ff2e00 44.4%,#ff3b00 48.1%,#ff3800 51.9%,#ff2800 55.6%,#ff1600 59.3%,#ff0200 63.0%,#ed0000 66.7%,#da0000 70.4%,#c90000 74.1%,#dc0000 77.8%,#f90000 81.5%,#ff3000 85.2%,#ff6f00 88.9%,#ffba00 92.6%,#faff05 96.3%,#cfff30 100.0%);-webkit-mask-image:linear-gradient(transparent,#000 50%);mask-image:linear-gradient(transparent,#000 50%)"></i><i style="top:500.16px;height:23.23px;background:linear-gradient(90deg,#0ffff0 0.0%,#2dffd2 3.7%,#9fff60 7.4%,#fff700 11.1%,#ff9400 14.8%,#ff3f00 18.5%,#ff0000 22.2%,#de0000 25.9%,#e70000 29.6%,#f60000 33.3%,#ff0700 37.0%,#ff1b00 40.7%,#ff2600 44.4%,#ff3000 48.1%,#ff2d00 51.9%,#ff1f00 55.6%,#ff0f00 59.3%,#fb0000 63.0%,#e80000 66.7%,#d60000 70.4%,#c60000 74.1%,#d80000 77.8%,#f60000 81.5%,#ff2d00 85.2%,#ff6b00 88.9%,#ffb800 92.6%,#fbff04 96.3%,#d5ff2a 100.0%);-webkit-mask-image:linear-gradient(transparent,#000 50%);mask-image:linear-gradient(transparent,#000 50%)"></i><i style="top:511.53px;height:23.23px;background:linear-gradient(90deg,#12ffed 0.0%,#34ffcb 3.7%,#abff54 7.4%,#ffed00 11.1%,#ff8300 14.8%,#ff2e00 18.5%,#f10000 22.2%,#d10000 25.9%,#df0000 29.6%,#f20000 33.3%,#ff0300 37.0%,#ff1500 40.7%,#ff1e00 44.4%,#ff2500 48.1%,#ff2200 51.9%,#ff1500 55.6%,#ff0800 59.3%,#f50000 63.0%,#e30000 66.7%,#d20000 70.4%,#c30000 74.1%,#d30000 77.8%,#f30000 81.5%,#ff2900 85.2%,#ff6800 88.9%,#ffb600 92.6%,#fcff03 96.3%,#dcff23 100.0%);-webkit-mask-image:linear-gradient(transparent,#000 50%);mask-image:linear-gradient(transparent,#000 50%)"></i><i style="top:522.90px;height:23.23px;background:linear-gradient(90deg,#14ffeb 0.0%,#3bffc4 3.7%,#b7ff48 7.4%,#ffe300 11.1%,#ff7300 14.8%,#ff1c00 18.5%,#e20000 22.2%,#c30000 25.9%,#d80000 29.6%,#ef0000 33.3%,#fe0000 37.0%,#ff1000 40.7%,#ff1600 44.4%,#ff1b00 48.1%,#ff1700 51.9%,#ff0c00 55.6%,#ff0100 59.3%,#ef0000 63.0%,#de0000 66.7%,#ce0000 70.4%,#bf0000 74.1%,#ce0000 77.8%,#f00000 81.5%,#ff2600 85.2%,#ff6500 88.9%,#ffb400 92.6%,#fdff02 96.3%,#e2ff1d 100.0%);-webkit-mask-image:linear-gradient(transparent,#000 50%);mask-image:linear-gradient(transparent,#000 50%)"></i><i style="top:534.27px;height:23.23px;background:linear-gradient(90deg,#17ffe8 0.0%,#42ffbd 3.7%,#c3ff3c 7.4%,#ffda00 11.1%,#ff6300 14.8%,#ff0b00 18.5%,#d40000 22.2%,#b60000 25.9%,#d00000 29.6%,#eb0000 33.3%,#fb0000 37.0%,#ff0b00 40.7%,#ff0d00 44.4%,#ff1000 48.1%,#ff0c00 51.9%,#ff0300 55.6%,#f80000 59.3%,#ea0000 63.0%,#d90000 66.7%,#ca0000 70.4%,#bc0000 74.1%,#c90000 77.8%,#ed0000 81.5%,#ff2200 85.2%,#ff6200 88.9%,#ffb200 92.6%,#feff01 96.3%,#e9ff16 100.0%);-webkit-mask-image:linear-gradient(transparent,#000 50%);mask-image:linear-gradient(transparent,#000 50%)"></i><i style="top:545.63px;height:23.23px;background:linear-gradient(90deg,#1affe5 0.0%,#49ffb6 3.7%,#cfff30 7.4%,#ffd000 11.1%,#ff5200 14.8%,#f90000 18.5%,#c50000 22.2%,#a90000 25.9%,#c80000 29.6%,#e70000 33.3%,#f70000 37.0%,#ff0500 40.7%,#ff0500 44.4%,#ff0500 48.1%,#ff0100 51.9%,#f90000 55.6%,#f10000 59.3%,#e40000 63.0%,#d40000 66.7%,#c60000 70.4%,#b90000 74.1%,#c50000 77.8%,#ea0000 81.5%,#ff1f00 85.2%,#ff5f00 88.9%,#ffb000 92.6%,#ffff00 96.3%,#f0ff0f 100.0%);-webkit-mask-image:linear-gradient(transparent,#000 50%);mask-image:linear-gradient(transparent,#000 50%)"></i></div><div class="hm" style="left:1122.30px;top:51.90px;width:133.80px;height:555.60px;"><i style="top:0;height:11.84px;background:linear-gradient(90deg,#000000 0.0%,#000000 3.7%,#000000 7.4%,#000000 11.1%,#000000 14.8%,#000000 18.5%,#000000 22.2%,#000000 25.9%,#000000 29.6%,#000000 33.3%,#000000 37.0%,#010000 40.7%,#010000 44.4%,#010000 48.1%,#010000 51.9%,#010000 55.6%,#010000 59.3%,#000000 63.0%,#000000 66.7%,#000000 70.4%,#000000 74.1%,#000000 77.8%,#000000 81.5%,#000000 85.2%,#000000 88.9%,#000000 92.6%,#000000 96.3%,#000000 100.0%)"></i><i style="top:0.00px;height:23.18px;background:linear-gradient(90deg,#000000 0.0%,#000000 3.7%,#000000 7.4%,#000000 11.1%,#000000 14.8%,#000000 18.5%,#000000 22.2%,#000000 25.9%,#000000 29.6%,#000000 33.3%,#010000 37.0%,#010000 40.7%,#010000 44.4%,#010000 48.1%,#010000 51.9%,#010000 55.6%,#010000 59.3%,#000000 63.0%,#000000 66.7%,#000000 70.4%,#000000 74.1%,#000000 77.8%,#000000 81.5%,#000000 85.2%,#000000 88.9%,#000000 92.6%,#000000 96.3%,#000000 100.0%);-webkit-mask-image:linear-gradient(transparent,#000 50%);mask-image:linear-gradient(transparent,#000 50%)"></i><i style="top:11.34px;height:23.18px;background:linear-gradient(90deg,#000000 0.0%,#000000 3.7%,#000000 7.4%,#000000 11.1%,#000000 14.8%,#000000 18.5%,#000000 22.2%,#000000 25.9%,#000000 29.6%,#000000 33.3%,#010000 37.0%,#010000 40.7%,#010000 44.4%,#010000 48.1%,#010000 51.9%,#010000 55.6%,#010000 59.3%,#000000 63.0%,#000000 66.7%,#000000 70.4%,#000000 74.1%,#000000 77.8%,#000000 81.5%,#000000 85.2%,#000000 88.9%,#000000 92.6%,#000000 96.3%,#000000 100.0%);-webkit-mask-image:linear-gradient(transparent,#000 50%);mask-image:linear-gradient(transparent,#000 50%)"></i><i style="top:22.68px;height:23.18px;background:linear-gradient(90deg,#000000 0.0%,#000000 3.7%,#000000 7.4%,#000000 11.1%,#000000 14.8%,#000000 18.5%,#000000 22.2%,#000000 25.9%,#000000 29.6%,#000000 33.3%,#010000 37.0%,#010000 40.7%,#010000 44.4%,#010000 48.1%,#010000 51.9%,#010000 55.6%,#010000 59.3%,#000000 63.0%,#000000 66.7%,#000000 70.4%,#000000 74.1%,#000000 77.8%,#000000 81.5%,#000000 85.2%,#000000 88.9%,#000000 92.6%,#000000 96.3%,#000000 100.0%);-webkit-mask-image:linear-gradient(transparent,#000 50%);mask-image:linear-gradient(transparent,#000 50%)"></i><i style="top:34.02px;height:23.18px;background:linear-gradient(90deg,#000000 0.0%,#000000 3.7%,#000000 7.4%,#000000 11.1%,#000000 14.8%,#000000 18.5%,#000000 22.2%,#000000 25.9%,#000000 29.6%,#000000 33.3%,#010000 37.0%,#010000 40.7%,#010000 44.4%,#020000 48.1%,#020000 51.9%,#010000 55.6%,#010000 59.3%,#010000 63.0%,#000000 66.7%,#000000 70.4%,#000000 74.1%,#000000 77.8%,#000000 81.5%,#000000 85.2%,#000000 88.9%,#000000 92.6%,#000000 96.3%,#000000 100.0%);-webkit-mask-image:linear-gradient(transparent,#000 50%);mask-image:linear-gradient(transparent,#000 50%)"></i><i style="top:45.36px;height:23.18px;background:linear-gradient(90deg,#000000 0.0%,#000000 3.7%,#000000 7.4%,#000000 11.1%,#000000 14.8%,#000000 18.5%,#000000 22.2%,#000000 25.9%,#000000 29.6%,#000000 33.3%,#010000 37.0%,#010000 40.7%,#020000 44.4%,#020000 48.1%,#020000 51.9%,#020000 55.6%,#010000 59.3%,#010000 63.0%,#000000 66.7%,#000000 70.4%,#000000 74.1%,#000000 77.8%,#000000 81.5%,#000000 85.2%,#000000 88.9%,#000000 92.6%,#000000 96.3%,#000000 100.0%);-webkit-mask-image:linear-gradient(transparent,#000 50%);mask-image:linear-gradient(transparent,#000 50%)"></i><i style="top:56.69px;height:23.18px;background:linear-gradient(90deg,#000000 0.0%,#000000 3.7%,#000000 7.4%,#000000 11.1%,#000000 14.8%,#000000 18.5%,#000000 22.2%,#000000 25.9%,#000000 29.6%,#000000 33.3%,#010000 37.0%,#010000 40.7%,#020000 44.4%,#020000 48.1%,#020000 51.9%,#020000 55.6%,#010000 59.3%,#010000 63.0%,#000000 66.7%,#000000 70.4%,#000000 74.1%,#000000 77.8%,#000000 81.5%,#000000 85.2%,#000000 88.9%,#000000 92.6%,#000000 96.3%,#000000 100.0%);-webkit-mask-image:linear-gradient(transparent,#000 50%);mask-image:linear-gradient(transparent,#000 50%)"></i><i style="top:68.03px;height:23.18px;background:linear-gradient(90deg,#000000 0.0%,#000000 3.7%,#000000 7.4%,#000000 11.1%,#000000 14.8%,#000000 18.5%,#000000 22.2%,#000000 25.9%,#000000 29.6%,#000000 33.3%,#010000 37.0%,#010000 40.7%,#020000 44.4%,#030000 48.1%,#030000 51.9%,#020000 55.6%,#010000 59.3%,#010000 63.0%,#000000 66.7%,#000000 70.4%,#000000 74.1%,#000000 77.8%,#000000 81.5%,#000000 85.2%,#000000 88.9%,#000000 92.6%,#000000 96.3%,#000000 100.0%);-webkit-mask-image:linear-gradient(transparent,#000 50%);mask-image:linear-gradient(transparent,#000 50%)"></i><i style="top:79.37px;height:23.18px;background:linear-gradient(90deg,#000000 0.0%,#000000 3.7%,#000000 7.4%,#000000 11.1%,#000000 14.8%,#000000 18.5%,#000000 22.2%,#000000 25.9%,#000000 29.6%,#000000 33.3%,#010000 37.0%,#020000 40.7%,#020000 44.4%,#030000 48.1%,#030000 51.9%,#030000 55.6%,#020000 59.3%,#010000 63.0%,#000000 66.7%,#000000 70.4%,#000000 74.1%,#000000 77.8%,#000000 81.5%,#000000 85.2%,#000000 88.9%,#000000 92.6%,#000000 96.3%,#000000 100.0%);-webkit-mask-image:linear-gradient(transparent,#000 50%);mask-image:linear-gradient(transparent,#000 50%)"></i><i style="top:90.71px;height:23.18px;background:linear-gradient(90deg,#000000 0.0%,#000000 3.7%,#000000 7.4%,#000000 11.1%,#000000 14.8%,#000000 18.5%,#000000 22.2%,#000000 25.9%,#000000 29.6%,#010000 33.3%,#010000 37.0%,#020000 40.7%,#030000 44.4%,#040000 48.1%,#040000 51.9%,#030000 55.6%,#020000 59.3%,#010000 63.0%,#000000 66.7%,#000000 70.4%,#000000 74.1%,#000000 77.8%,#000000 81.5%,#000000 85.2%,#000000 88.9%,#000000 92.6%,#000000 96.3%,#000000 100.0%);-webkit-mask-image:linear-gradient(transparent,#000 50%);mask-image:linear-gradient(transparent,#000 50%)"></i><i style="top:102.05px;height:23.18px;background:linear-gradient(90deg,#000000 0.0%,#000000 3.7%,#000000 7.4%,#000000 11.1%,#000000 14.8%,#000000 18.5%,#000000 22.2%,#000000 25.9%,#000000 29.6%,#010000 33.3%,#010000 37.0%,#020000 40.7%,#030000 44.4%,#040000 48.1%,#040000 51.9%,#030000 55.6%,#020000 59.3%,#010000 63.0%,#010000 66.7%,#000000 70.4%,#000000 74.1%,#000000 77.8%,#000000 81.5%,#000000 85.2%,#000000 88.9%,#000000 92.6%,#000000 96.3%,#000000 100.0%);-webkit-mask-image:linear-gradient(transparent,#000 50%);mask-image:linear-gradient(transparent,#000 50%)"></i><i style="top:113.39px;height:23.18px;background:linear-gradient(90deg,#000000 0.0%,#000000 3.7%,#000000 7.4%,#000000 11.1%,#000000 14.8%,#000000 18.5%,#000000 22.2%,#000000 25.9%,#000000 29.6%,#010000 33.3%,#010000 37.0%,#020000 40.7%,#040000 44.4%,#050000 48.1%,#050000 51.9%,#040000 55.6%,#020000 59.3%,#010000 63.0%,#010000 66.7%,#000000 70.4%,#000000 74.1%,#000000 77.8%,#000000 81.5%,#000000 85.2%,#000000 88.9%,#000000 92.6%,#000000 96.3%,#000000 100.0%);-webkit-mask-image:linear-gradient(transparent,#000 50%);mask-image:linear-gradient(transparent,#000 50%)"></i><i style="top:124.73px;height:23.18px;background:linear-gradient(90deg,#000000 0.0%,#000000 3.7%,#000000 7.4%,#000000 11.1%,#000000 14.8%,#000000 18.5%,#000000 22.2%,#000000 25.9%,#000000 29.6%,#010000 33.3%,#010000 37.0%,#030000 40.7%,#040000 44.4%,#050000 48.1%,#050000 51.9%,#040000 55.6%,#030000 59.3%,#020000 63.0%,#010000 66.7%,#000000 70.4%,#000000 74.1%,#000000 77.8%,#000000 81.5%,#000000 85.2%,#000000 88.9%,#000000 92.6%,#000000 96.3%,#000000 100.0%);-webkit-mask-image:linear-gradient(transparent,#000 50%);mask-image:linear-gradient(transparent,#000 50%)"></i><i style="top:136.07px;height:23.18px;background:linear-gradient(90deg,#000000 0.0%,#000000 3.7%,#000000 7.4%,#000000 11.1%,#000000 14.8%,#000000 18.5%,#000000 22.2%,#000000 25.9%,#000000 29.6%,#010000 33.3%,#020000 37.0%,#030000 40.7%,#050000 44.4%,#060000 48.1%,#060000 51.9%,#050000 55.6%,#030000 59.3%,#020000 63.0%,#010000 66.7%,#000000 70.4%,#000000 74.1%,#000000 77.8%,#000000 81.5%,#000000 85.2%,#000000 88.9%,#000000 92.6%,#000000 96.3%,#000000 100.0%);-webkit-mask-image:linear-gradient(transparent,#000 50%);mask-image:linear-gradient(transparent,#000 50%)"></i><i style="top:147.40px;height:23.18px;background:linear-gradient(90deg,#000000 0.0%,#000000 3.7%,#000000 7.4%,#000000 11.1%,#000000 14.8%,#000000 18.5%,#000000 22.2%,#000000 25.9%,#000000 29.6%,#010000 33.3%,#020000 37.0%,#030000 40.7%,#050000 44.4%,#070000 48.1%,#070000 51.9%,#060000 55.6%,#040000 59.3%,#020000 63.0%,#010000 66.7%,#000000 70.4%,#000000 74.1%,#000000 77.8%,#000000 81.5%,#000000 85.2%,#000000 88.9%,#000000 92.6%,#000000 96.3%,#000000 100.0%);-webkit-mask-image:linear-gradient(transparent,#000 50%);mask-image:linear-gradient(transparent,#000 50%)"></i><i style="top:158.74px;height:23.18px;background:linear-gradient(90deg,#000000 0.0%,#000000 3.7%,#000000 7.4%,#000000 11.1%,#000000 14.8%,#000000 18.5%,#000000 22.2%,#000000 25.9%,#000000 29.6%,#010000 33.3%,#020000 37.0%,#040000 40.7%,#060000 44.4%,#080000 48.1%,#080000 51.9%,#060000 55.6%,#040000 59.3%,#020000 63.0%,#010000 66.7%,#000000 70.4%,#000000 74.1%,#000000 77.8%,#000000 81.5%,#000000 85.2%,#000000 88.9%,#000000 92.6%,#000000 96.3%,#000000 100.0%);-webkit-mask-image:linear-gradient(transparent,#000 50%);mask-image:linear-gradient(transparent,#000 50%)"></i><i style="top:170.08px;height:23.18px;background:linear-gradient(90deg,#000000 0.0%,#000000 3.7%,#000000 7.4%,#000000 11.1%,#000000 14.8%,#000000 18.5%,#000000 22.2%,#000000 25.9%,#000000 29.6%,#010000 33.3%,#020000 37.0%,#040000 40.7%,#070000 44.4%,#090000 48.1%,#090000 51.9%,#070000 55.6%,#050000 59.3%,#020000 63.0%,#010000 66.7%,#000000 70.4%,#000000 74.1%,#000000 77.8%,#000000 81.5%,#000000 85.2%,#000000 88.9%,#000000 92.6%,#000000 96.3%,#000000 100.0%);-webkit-mask-image:linear-gradient(transparent,#000 50%);mask-image:linear-gradient(transparent,#000 50%)"></i><i style="top:181.42px;height:23.18px;background:linear-gradient(90deg,#000000 0.0%,#000000 3.7%,#000000 7.4%,#000000 11.1%,#000000 14.8%,#000000 18.5%,#000000 22.2%,#000000 25.9%,#000000 29.6%,#010000 33.3%,#020000 37.0%,#050000 40.7%,#080000 44.4%,#0a0000 48.1%,#0a0000 51.9%,#080000 55.6%,#050000 59.3%,#030000 63.0%,#010000 66.7%,#000000 70.4%,#000000 74.1%,#000000 77.8%,#000000 81.5%,#000000 85.2%,#000000 88.9%,#000000 92.6%,#000000 96.3%,#000000 100.0%);-webkit-mask-image:linear-gradient(transparent,#000 50%);mask-image:linear-gradient(transparent,#000 50%)"></i><i style="top:192.76px;height:23.18px;background:linear-gradient(90deg,#000000 0.0%,#000000 3.7%,#000000 7.4%,#000000 11.1%,#000000 14.8%,#000000 18.5%,#000000 22.2%,#000000 25.9%,#000000 29.6%,#010000 33.3%,#030000 37.0%,#050000 40.7%,#090000 44.4%,#0b0000 48.1%,#0c0000 51.9%,#090000 55.6%,#060000 59.3%,#030000 63.0%,#010000 66.7%,#000000 70.4%,#000000 74.1%,#000000 77.8%,#000000 81.5%,#000000 85.2%,#000000 88.9%,#000000 92.6%,#000000 96.3%,#000000 100.0%);-webkit-mask-image:linear-gradient(transparent,#000 50%);mask-image:linear-gradient(transparent,#000 50%)"></i><i style="top:204.10px;height:23.18px;background:linear-gradient(90deg,#000000 0.0%,#000000 3.7%,#000000 7.4%,#000000 11.1%,#000000 14.8%,#000000 18.5%,#000000 22.2%,#000000 25.9%,#000000 29.6%,#010000 33.3%,#030000 37.0%,#060000 40.7%,#0a0000 44.4%,#0d0000 48.1%,#0d0000 51.9%,#0a0000 55.6%,#060000 59.3%,#030000 63.0%,#010000 66.7%,#000000 70.4%,#000000 74.1%,#000000 77.8%,#000000 81.5%,#000000 85.2%,#000000 88.9%,#000000 92.6%,#000000 96.3%,#000000 100.0%);-webkit-mask-image:linear-gradient(transparent,#000 50%);mask-image:linear-gradient(transparent,#000 50%)"></i><i style="top:215.44px;height:23.18px;background:linear-gradient(90deg,#000000 0.0%,#000000 3.7%,#000000 7.4%,#000000 11.1%,#000000 14.8%,#000000 18.5%,#000000 22.2%,#000000 25.9%,#000000 29.6%,#010000 33.3%,#030000 37.0%,#070000 40.7%,#0b0000 44.4%,#0e0000 48.1%,#0f0000 51.9%,#0c0000 55.6%,#070000 59.3%,#040000 63.0%,#010000 66.7%,#000000 70.4%,#000000 74.1%,#000000 77.8%,#000000 81.5%,#000000 85.2%,#000000 88.9%,#000000 92.6%,#000000 96.3%,#000000 100.0%);-webkit-mask-image:linear-gradient(transparent,#000 50%);mask-image:linear-gradient(transparent,#000 50%)"></i><i style="top:226.78px;height:23.18px;background:linear-gradient(90deg,#000000 0.0%,#000000 3.7%,#000000 7.4%,#000000 11.1%,#000000 14.8%,#000000 18.5%,#000000 22.2%,#000000 25.9%,#000000 29.6%,#010000 33.3%,#040000 37.0%,#070000 40.7%,#0d0000 44.4%,#100000 48.1%,#100000 51.9%,#0d0000 55.6%,#080000 59.3%,#040000 63.0%,#020000 66.7%,#000000 70.4%,#000000 74.1%,#000000 77.8%,#000000 81.5%,#000000 85.2%,#000000 88.9%,#000000 92.6%,#000000 96.3%,#000000 100.0%);-webkit-mask-image:linear-gradient(transparent,#000 50%);mask-image:linear-gradient(transparent,#000 50%)"></i><i style="top:238.11px;height:23.18px;background:linear-gradient(90deg,#000000 0.0%,#000000 3.7%,#000000 7.4%,#000000 11.1%,#000000 14.8%,#000000 18.5%,#000000 22.2%,#000000 25.9%,#000000 29.6%,#010000 33.3%,#040000 37.0%,#080000 40.7%,#0e0000 44.4%,#120000 48.1%,#120000 51.9%,#0e0000 55.6%,#090000 59.3%,#040000 63.0%,#020000 66.7%,#000000 70.4%,#000000 74.1%,#000000 77.8%,#000000 81.5%,#000000 85.2%,#000000 88.9%,#000000 92.6%,#000000 96.3%,#000000 100.0%);-webkit-mask-image:linear-gradient(transparent,#000 50%);mask-image:linear-gradient(transparent,#000 50%)"></i><i style="top:249.45px;height:23.18px;background:linear-gradient(90deg,#000000 0.0%,#000000 3.7%,#000000 7.4%,#000000 11.1%,#000000 14.8%,#000000 18.5%,#000000 22.2%,#000000 25.9%,#000000 29.6%,#020000 33.3%,#040000 37.0%,#090000 40.7%,#100000 44.4%,#140000 48.1%,#140000 51.9%,#100000 55.6%,#0a0000 59.3%,#050000 63.0%,#020000 66.7%,#010000 70.4%,#000000 74.1%,#000000 77.8%,#000000 81.5%,#000000 85.2%,#000000 88.9%,#000000 92.6%,#000000 96.3%,#000000 100.0%);-webkit-mask-image:linear-gradient(transparent,#000 50%);mask-image:linear-gradient(transparent,#000 50%)"></i><i style="top:260.79px;height:23.18px;background:linear-gradient(90deg,#000000 0.0%,#000000 3.7%,#000000 7.4%,#000000 11.1%,#000000 14.8%,#000000 18.5%,#000000 22.2%,#000000 25.9%,#000000 29.6%,#020000 33.3%,#050000 37.0%,#0b0000 40.7%,#120000 44.4%,#170000 48.1%,#170000 51.9%,#120000 55.6%,#0b0000 59.3%,#050000 63.0%,#020000 66.7%,#010000 70.4%,#000000 74.1%,#000000 77.8%,#000000 81.5%,#000000 85.2%,#000000 88.9%,#000000 92.6%,#000000 96.3%,#000000 100.0%);-webkit-mask-image:linear-gradient(transparent,#000 50%);mask-image:linear-gradient(transparent,#000 50%)"></i><i style="top:272.13px;height:23.18px;background:linear-gradient(90deg,#000000 0.0%,#000000 3.7%,#000000 7.4%,#000000 11.1%,#000000 14.8%,#000000 18.5%,#000000 22.2%,#000000 25.9%,#000000 29.6%,#020000 33.3%,#050000 37.0%,#0c0000 40.7%,#140000 44.4%,#1a0000 48.1%,#1b0000 51.9%,#150000 55.6%,#0c0000 59.3%,#060000 63.0%,#020000 66.7%,#010000 70.4%,#000000 74.1%,#000000 77.8%,#000000 81.5%,#000000 85.2%,#000000 88.9%,#000000 92.6%,#000000 96.3%,#000000 100.0%);-webkit-mask-image:linear-gradient(transparent,#000 50%);mask-image:linear-gradient(transparent,#000 50%)"></i><i style="top:283.47px;height:23.18px;background:linear-gradient(90deg,#000000 0.0%,#000000 3.7%,#000000 7.4%,#000000 11.1%,#000000 14.8%,#000000 18.5%,#000000 22.2%,#000000 25.9%,#010000 29.6%,#020000 33.3%,#060000 37.0%,#0d0000 40.7%,#170000 44.4%,#1d0000 48.1%,#1d0000 51.9%,#170000 55.6%,#0d0000 59.3%,#060000 63.0%,#020000 66.7%,#010000 70.4%,#000000 74.1%,#000000 77.8%,#000000 81.5%,#000000 85.2%,#000000 88.9%,#000000 92.6%,#000000 96.3%,#000000 100.0%);-webkit-mask-image:linear-gradient(transparent,#000 50%);mask-image:linear-gradient(transparent,#000 50%)"></i><i style="top:294.81px;height:23.18px;background:linear-gradient(90deg,#000000 0.0%,#000000 3.7%,#000000 7.4%,#000000 11.1%,#000000 14.8%,#000000 18.5%,#000000 22.2%,#000000 25.9%,#010000 29.6%,#020000 33.3%,#070000 37.0%,#0f0000 40.7%,#190000 44.4%,#210000 48.1%,#1f0000 51.9%,#190000 55.6%,#0f0000 59.3%,#070000 63.0%,#030000 66.7%,#010000 70.4%,#000000 74.1%,#000000 77.8%,#000000 81.5%,#000000 85.2%,#000000 88.9%,#000000 92.6%,#000000 96.3%,#000000 100.0%);-webkit-mask-image:linear-gradient(transparent,#000 50%);mask-image:linear-gradient(transparent,#000 50%)"></i><i style="top:306.15px;height:23.18px;background:linear-gradient(90deg,#000000 0.0%,#000000 3.7%,#000000 7.4%,#000000 11.1%,#000000 14.8%,#000000 18.5%,#000000 22.2%,#000000 25.9%,#010000 29.6%,#030000 33.3%,#080000 37.0%,#100000 40.7%,#1b0000 44.4%,#230000 48.1%,#250000 51.9%,#1d0000 55.6%,#100000 59.3%,#080000 63.0%,#030000 66.7%,#010000 70.4%,#000000 74.1%,#000000 77.8%,#000000 81.5%,#000000 85.2%,#000000 88.9%,#000000 92.6%,#000000 96.3%,#000000 100.0%);-webkit-mask-image:linear-gradient(transparent,#000 50%);mask-image:linear-gradient(transparent,#000 50%)"></i><i style="top:317.49px;height:23.18px;background:linear-gradient(90deg,#000000 0.0%,#000000 3.7%,#000000 7.4%,#000000 11.1%,#000000 14.8%,#000000 18.5%,#000000 22.2%,#000000 25.9%,#010000 29.6%,#030000 33.3%,#090000 37.0%,#120000 40.7%,#1f0000 44.4%,#280000 48.1%,#280000 51.9%,#200000 55.6%,#120000 59.3%,#090000 63.0%,#040000 66.7%,#010000 70.4%,#000000 74.1%,#000000 77.8%,#000000 81.5%,#000000 85.2%,#000000 88.9%,#000000 92.6%,#000000 96.3%,#000000 100.0%);-webkit-mask-image:linear-gradient(transparent,#000 50%);mask-image:linear-gradient(transparent,#000 50%)"></i><i style="top:328.82px;height:23.18px;background:linear-gradient(90deg,#000000 0.0%,#000000 3.7%,#000000 7.4%,#000000 11.1%,#000000 14.8%,#000000 18.5%,#000000 22.2%,#000000 25.9%,#010000 29.6%,#040000 33.3%,#0a0000 37.0%,#140000 40.7%,#220000 44.4%,#2e0000 48.1%,#2b0000 51.9%,#220000 55.6%,#140000 59.3%,#0b0000 63.0%,#040000 66.7%,#010000 70.4%,#000000 74.1%,#000000 77.8%,#000000 81.5%,#000000 85.2%,#000000 88.9%,#000000 92.6%,#000000 96.3%,#000000 100.0%);-webkit-mask-image:linear-gradient(transparent,#000 50%);mask-image:linear-gradient(transparent,#000 50%)"></i><i style="top:340.16px;height:23.18px;background:linear-gradient(90deg,#000000 0.0%,#000000 3.7%,#000000 7.4%,#000000 11.1%,#000000 14.8%,#000000 18.5%,#000000 22.2%,#000000 25.9%,#010000 29.6%,#040000 33.3%,#0c0000 37.0%,#170000 40.7%,#250000 44.4%,#320000 48.1%,#350000 51.9%,#280000 55.6%,#160000 59.3%,#0c0000 63.0%,#050000 66.7%,#010000 70.4%,#000000 74.1%,#000000 77.8%,#000000 81.5%,#000000 85.2%,#000000 88.9%,#000000 92.6%,#000000 96.3%,#000000 100.0%);-webkit-mask-image:linear-gradient(transparent,#000 50%);mask-image:linear-gradient(transparent,#000 50%)"></i><i style="top:351.50px;height:23.18px;background:linear-gradient(90deg,#000000 0.0%,#000000 3.7%,#000000 7.4%,#000000 11.1%,#000000 14.8%,#000000 18.5%,#000000 22.2%,#000000 25.9%,#010000 29.6%,#050000 33.3%,#0e0000 37.0%,#190000 40.7%,#2a0000 44.4%,#3a0000 48.1%,#3a0000 51.9%,#2c0000 55.6%,#1a0000 59.3%,#0e0000 63.0%,#050000 66.7%,#020000 70.4%,#000000 74.1%,#000000 77.8%,#000000 81.5%,#000000 85.2%,#000000 88.9%,#000000 92.6%,#000000 96.3%,#000000 100.0%);-webkit-mask-image:linear-gradient(transparent,#000 50%);mask-image:linear-gradient(transparent,#000 50%)"></i><i style="top:362.84px;height:23.18px;background:linear-gradient(90deg,#000000 0.0%,#000000 3.7%,#000000 7.4%,#000000 11.1%,#000000 14.8%,#000000 18.5%,#000000 22.2%,#000000 25.9%,#010000 29.6%,#060000 33.3%,#0f0000 37.0%,#1c0000 40.7%,#2e0000 44.4%,#3f0000 48.1%,#3f0000 51.9%,#2f0000 55.6%,#1c0000 59.3%,#0f0000 63.0%,#060000 66.7%,#020000 70.4%,#000000 74.1%,#000000 77.8%,#000000 81.5%,#000000 85.2%,#000000 88.9%,#000000 92.6%,#000000 96.3%,#000000 100.0%);-webkit-mask-image:linear-gradient(transparent,#000 50%);mask-image:linear-gradient(transparent,#000 50%)"></i><i style="top:374.18px;height:23.18px;background:linear-gradient(90deg,#000000 0.0%,#000000 3.7%,#000000 7.4%,#000000 11.1%,#000000 14.8%,#000000 18.5%,#000000 22.2%,#000000 25.9%,#010000 29.6%,#060000 33.3%,#100000 37.0%,#1d0000 40.7%,#300000 44.4%,#430000 48.1%,#480000 51.9%,#340000 55.6%,#1d0000 59.3%,#0f0000 63.0%,#060000 66.7%,#020000 70.4%,#000000 74.1%,#000000 77.8%,#000000 81.5%,#000000 85.2%,#000000 88.9%,#000000 92.6%,#000000 96.3%,#000000 100.0%);-webkit-mask-image:linear-gradient(transparent,#000 50%);mask-image:linear-gradient(transparent,#000 50%)"></i><i style="top:385.52px;height:23.18px;background:linear-gradient(90deg,#000000 0.0%,#000000 3.7%,#000000 7.4%,#000000 11.1%,#000000 14.8%,#000000 18.5%,#000000 22.2%,#000000 25.9%,#020000 29.6%,#070000 33.3%,#100000 37.0%,#1e0000 40.7%,#360000 44.4%,#4d0000 48.1%,#4f0000 51.9%,#380000 55.6%,#200000 59.3%,#0f0000 63.0%,#060000 66.7%,#020000 70.4%,#000000 74.1%,#000000 77.8%,#000000 81.5%,#000000 85.2%,#000000 88.9%,#000000 92.6%,#000000 96.3%,#000000 100.0%);-webkit-mask-image:linear-gradient(transparent,#000 50%);mask-image:linear-gradient(transparent,#000 50%)"></i><i style="top:396.86px;height:23.18px;background:linear-gradient(90deg,#000000 0.0%,#000000 3.7%,#000000 7.4%,#000000 11.1%,#000000 14.8%,#000000 18.5%,#000000 22.2%,#000000 25.9%,#020000 29.6%,#070000 33.3%,#110000 37.0%,#220000 40.7%,#390000 44.4%,#540000 48.1%,#5b0000 51.9%,#3b0000 55.6%,#210000 59.3%,#0f0000 63.0%,#060000 66.7%,#020000 70.4%,#000000 74.1%,#000000 77.8%,#000000 81.5%,#000000 85.2%,#000000 88.9%,#000000 92.6%,#000000 96.3%,#000000 100.0%);-webkit-mask-image:linear-gradient(transparent,#000 50%);mask-image:linear-gradient(transparent,#000 50%)"></i><i style="top:408.20px;height:23.18px;background:linear-gradient(90deg,#000000 0.0%,#000000 3.7%,#000000 7.4%,#000000 11.1%,#000000 14.8%,#000000 18.5%,#000000 22.2%,#000000 25.9%,#020000 29.6%,#080000 33.3%,#120000 37.0%,#240000 40.7%,#3d0000 44.4%,#5a0000 48.1%,#630000 51.9%,#440000 55.6%,#230000 59.3%,#0f0000 63.0%,#060000 66.7%,#020000 70.4%,#000000 74.1%,#000000 77.8%,#000000 81.5%,#000000 85.2%,#000000 88.9%,#000000 92.6%,#000000 96.3%,#000000 100.0%);-webkit-mask-image:linear-gradient(transparent,#000 50%);mask-image:linear-gradient(transparent,#000 50%)"></i><i style="top:419.53px;height:23.18px;background:linear-gradient(90deg,#000000 0.0%,#000000 3.7%,#000000 7.4%,#000000 11.1%,#000000 14.8%,#000000 18.5%,#000000 22.2%,#000000 25.9%,#020000 29.6%,#080000 33.3%,#130000 37.0%,#260000 40.7%,#460000 44.4%,#690000 48.1%,#6c0000 51.9%,#490000 55.6%,#280000 59.3%,#110000 63.0%,#060000 66.7%,#020000 70.4%,#000000 74.1%,#000000 77.8%,#000000 81.5%,#000000 85.2%,#000000 88.9%,#000000 92.6%,#000000 96.3%,#000000 100.0%);-webkit-mask-image:linear-gradient(transparent,#000 50%);mask-image:linear-gradient(transparent,#000 50%)"></i><i style="top:430.87px;height:23.18px;background:linear-gradient(90deg,#000000 0.0%,#000000 3.7%,#000000 7.4%,#000000 11.1%,#000000 14.8%,#000000 18.5%,#000000 22.2%,#000000 25.9%,#020000 29.6%,#090000 33.3%,#160000 37.0%,#2b0000 40.7%,#4b0000 44.4%,#730000 48.1%,#760000 51.9%,#4e0000 55.6%,#2a0000 59.3%,#110000 63.0%,#060000 66.7%,#020000 70.4%,#000000 74.1%,#000000 77.8%,#000000 81.5%,#000000 85.2%,#000000 88.9%,#000000 92.6%,#000000 96.3%,#000000 100.0%);-webkit-mask-image:linear-gradient(transparent,#000 50%);mask-image:linear-gradient(transparent,#000 50%)"></i><i style="top:442.21px;height:23.18px;background:linear-gradient(90deg,#000000 0.0%,#000000 3.7%,#000000 7.4%,#000000 11.1%,#000000 14.8%,#000000 18.5%,#000000 22.2%,#010000 25.9%,#030000 29.6%,#0a0000 33.3%,#170000 37.0%,#2e0000 40.7%,#500000 44.4%,#7c0000 48.1%,#7f0000 51.9%,#5b0000 55.6%,#2c0000 59.3%,#120000 63.0%,#060000 66.7%,#020000 70.4%,#000000 74.1%,#000000 77.8%,#000000 81.5%,#000000 85.2%,#000000 88.9%,#000000 92.6%,#000000 96.3%,#000000 100.0%);-webkit-mask-image:linear-gradient(transparent,#000 50%);mask-image:linear-gradient(transparent,#000 50%)"></i><i style="top:453.55px;height:23.18px;background:linear-gradient(90deg,#000000 0.0%,#000000 3.7%,#000000 7.4%,#000000 11.1%,#000000 14.8%,#000000 18.5%,#000000 22.2%,#010000 25.9%,#030000 29.6%,#0a0000 33.3%,#190000 37.0%,#310000 40.7%,#5d0000 44.4%,#850000 48.1%,#880000 51.9%,#620000 55.6%,#340000 59.3%,#140000 63.0%,#060000 66.7%,#020000 70.4%,#000000 74.1%,#000000 77.8%,#000000 81.5%,#000000 85.2%,#000000 88.9%,#000000 92.6%,#000000 96.3%,#000000 100.0%);-webkit-mask-image:linear-gradient(transparent,#000 50%);mask-image:linear-gradient(transparent,#000 50%)"></i><i style="top:464.89px;height:23.18px;background:linear-gradient(90deg,#000000 0.0%,#000000 3.7%,#000000 7.4%,#000000 11.1%,#000000 14.8%,#000000 18.5%,#000000 22.2%,#010000 25.9%,#030000 29.6%,#0b0000 33.3%,#1d0000 37.0%,#3a0000 40.7%,#640000 44.4%,#8f0000 48.1%,#920000 51.9%,#690000 55.6%,#380000 59.3%,#160000 63.0%,#060000 66.7%,#020000 70.4%,#000000 74.1%,#000000 77.8%,#000000 81.5%,#000000 85.2%,#000000 88.9%,#000000 92.6%,#000000 96.3%,#000000 100.0%);-webkit-mask-image:linear-gradient(transparent,#000 50%);mask-image:linear-gradient(transparent,#000 50%)"></i><i style="top:476.23px;height:23.18px;background:linear-gradient(90deg,#000000 0.0%,#000000 3.7%,#000000 7.4%,#000000 11.1%,#000000 14.8%,#000000 18.5%,#000000 22.2%,#010000 25.9%,#030000 29.6%,#0b0000 33.3%,#1f0000 37.0%,#3e0000 40.7%,#6c0000 44.4%,#990000 48.1%,#9c0000 51.9%,#7d0000 55.6%,#3c0000 59.3%,#180000 63.0%,#070000 66.7%,#020000 70.4%,#000000 74.1%,#000000 77.8%,#000000 81.5%,#000000 85.2%,#000000 88.9%,#000000 92.6%,#000000 96.3%,#000000 100.0%);-webkit-mask-image:linear-gradient(transparent,#000 50%);mask-image:linear-gradient(transparent,#000 50%)"></i><i style="top:487.57px;height:23.18px;background:linear-gradient(90deg,#000000 0.0%,#000000 3.7%,#000000 7.4%,#000000 11.1%,#000000 14.8%,#000000 18.5%,#000000 22.2%,#010000 25.9%,#040000 29.6%,#0c0000 33.3%,#210000 37.0%,#420000 40.7%,#7f0000 44.4%,#a20000 48.1%,#a50000 51.9%,#860000 55.6%,#490000 59.3%,#1e0000 63.0%,#080000 66.7%,#020000 70.4%,#010000 74.1%,#000000 77.8%,#000000 81.5%,#000000 85.2%,#000000 88.9%,#000000 92.6%,#000000 96.3%,#000000 100.0%);-webkit-mask-image:linear-gradient(transparent,#000 50%);mask-image:linear-gradient(transparent,#000 50%)"></i><i style="top:498.91px;height:23.18px;background:linear-gradient(90deg,#000000 0.0%,#000000 3.7%,#000000 7.4%,#000000 11.1%,#000000 14.8%,#000000 18.5%,#000000 22.2%,#010000 25.9%,#040000 29.6%,#0c0000 33.3%,#270000 37.0%,#4e0000 40.7%,#880000 44.4%,#ab0000 48.1%,#ae0000 51.9%,#8f0000 55.6%,#4f0000 59.3%,#220000 63.0%,#0a0000 66.7%,#030000 70.4%,#010000 74.1%,#000000 77.8%,#000000 81.5%,#000000 85.2%,#000000 88.9%,#000000 92.6%,#000000 96.3%,#000000 100.0%);-webkit-mask-image:linear-gradient(transparent,#000 50%);mask-image:linear-gradient(transparent,#000 50%)"></i><i style="top:510.24px;height:23.18px;background:linear-gradient(90deg,#000000 0.0%,#000000 3.7%,#000000 7.4%,#000000 11.1%,#000000 14.8%,#000000 18.5%,#000000 22.2%,#010000 25.9%,#040000 29.6%,#0f0000 33.3%,#290000 37.0%,#540000 40.7%,#910000 44.4%,#b40000 48.1%,#b70000 51.9%,#980000 55.6%,#550000 59.3%,#260000 63.0%,#0c0000 66.7%,#030000 70.4%,#010000 74.1%,#000000 77.8%,#000000 81.5%,#000000 85.2%,#000000 88.9%,#000000 92.6%,#000000 96.3%,#000000 100.0%);-webkit-mask-image:linear-gradient(transparent,#000 50%);mask-image:linear-gradient(transparent,#000 50%)"></i><i style="top:521.58px;height:23.18px;background:linear-gradient(90deg,#000000 0.0%,#000000 3.7%,#000000 7.4%,#000000 11.1%,#000000 14.8%,#000000 18.5%,#000000 22.2%,#010000 25.9%,#040000 29.6%,#0f0000 33.3%,#2c0000 37.0%,#590000 40.7%,#9a0000 44.4%,#bc0000 48.1%,#bf0000 51.9%,#a10000 55.6%,#660000 59.3%,#2f0000 63.0%,#0d0000 66.7%,#030000 70.4%,#010000 74.1%,#000000 77.8%,#000000 81.5%,#000000 85.2%,#000000 88.9%,#000000 92.6%,#000000 96.3%,#000000 100.0%);-webkit-mask-image:linear-gradient(transparent,#000 50%);mask-image:linear-gradient(transparent,#000 50%)"></i><i style="top:532.92px;height:23.18px;background:linear-gradient(90deg,#000000 0.0%,#000000 3.7%,#000000 7.4%,#000000 11.1%,#000000 14.8%,#000000 18.5%,#000000 22.2%,#010000 25.9%,#040000 29.6%,#100000 33.3%,#340000 37.0%,#690000 40.7%,#a20000 44.4%,#c30000 48.1%,#c60000 51.9%,#a90000 55.6%,#6e0000 59.3%,#350000 63.0%,#120000 66.7%,#040000 70.4%,#010000 74.1%,#000000 77.8%,#000000 81.5%,#000000 85.2%,#000000 88.9%,#000000 92.6%,#000000 96.3%,#000000 100.0%);-webkit-mask-image:linear-gradient(transparent,#000 50%);mask-image:linear-gradient(transparent,#000 50%)"></i><i style="top:544.26px;height:23.18px;background:linear-gradient(90deg,#000000 0.0%,#000000 3.7%,#000000 7.4%,#000000 11.1%,#000000 14.8%,#000000 18.5%,#000000 22.2%,#010000 25.9%,#050000 29.6%,#130000 33.3%,#370000 37.0%,#6f0000 40.7%,#a80000 44.4%,#c90000 48.1%,#cc0000 51.9%,#af0000 55.6%,#830000 59.3%,#3a0000 63.0%,#140000 66.7%,#050000 70.4%,#010000 74.1%,#000000 77.8%,#000000 81.5%,#000000 85.2%,#000000 88.9%,#000000 92.6%,#000000 96.3%,#000000 100.0%);-webkit-mask-image:linear-gradient(transparent,#000 50%);mask-image:linear-gradient(transparent,#000 50%)"></i></div><div class="hm" style="left:1299.00px;top:52.10px;width:134.10px;height:555.50px;"><i style="top:0;height:11.84px;background:linear-gradient(90deg,#000000 0.0%,#000000 3.7%,#000000 7.4%,#000000 11.1%,#000000 14.8%,#000000 18.5%,#000000 22.2%,#000000 25.9%,#000000 29.6%,#000000 33.3%,#000000 37.0%,#000000 40.7%,#000000 44.4%,#000000 48.1%,#000000 51.9%,#000000 55.6%,#000000 59.3%,#040000 63.0%,#080000 66.7%,#0e0000 70.4%,#130000 74.1%,#100000 77.8%,#0b0000 81.5%,#060000 85.2%,#010000 88.9%,#000000 92.6%,#000000 96.3%,#000000 100.0%)"></i><i style="top:0.00px;height:23.17px;background:linear-gradient(90deg,#000000 0.0%,#000000 3.7%,#000000 7.4%,#000000 11.1%,#000000 14.8%,#000000 18.5%,#000000 22.2%,#000000 25.9%,#000000 29.6%,#000000 33.3%,#000000 37.0%,#000000 40.7%,#000000 44.4%,#000000 48.1%,#000000 51.9%,#000000 55.6%,#010000 59.3%,#050000 63.0%,#0a0000 66.7%,#0f0000 70.4%,#150000 74.1%,#120000 77.8%,#0d0000 81.5%,#080000 85.2%,#030000 88.9%,#010000 92.6%,#000000 96.3%,#000000 100.0%);-webkit-mask-image:linear-gradient(transparent,#000 50%);mask-image:linear-gradient(transparent,#000 50%)"></i><i style="top:11.34px;height:23.17px;background:linear-gradient(90deg,#000000 0.0%,#000000 3.7%,#000000 7.4%,#000000 11.1%,#000000 14.8%,#000000 18.5%,#000000 22.2%,#000000 25.9%,#000000 29.6%,#000000 33.3%,#000000 37.0%,#000000 40.7%,#000000 44.4%,#000000 48.1%,#000000 51.9%,#000000 55.6%,#020000 59.3%,#060000 63.0%,#0c0000 66.7%,#110000 70.4%,#170000 74.1%,#140000 77.8%,#0e0000 81.5%,#090000 85.2%,#040000 88.9%,#010000 92.6%,#000000 96.3%,#000000 100.0%);-webkit-mask-image:linear-gradient(transparent,#000 50%);mask-image:linear-gradient(transparent,#000 50%)"></i><i style="top:22.67px;height:23.17px;background:linear-gradient(90deg,#000000 0.0%,#000000 3.7%,#000000 7.4%,#000000 11.1%,#000000 14.8%,#000000 18.5%,#000000 22.2%,#000000 25.9%,#000000 29.6%,#000000 33.3%,#000000 37.0%,#000000 40.7%,#000000 44.4%,#000000 48.1%,#000000 51.9%,#000000 55.6%,#030000 59.3%,#080000 63.0%,#0d0000 66.7%,#130000 70.4%,#190000 74.1%,#160000 77.8%,#100000 81.5%,#0a0000 85.2%,#050000 88.9%,#020000 92.6%,#000000 96.3%,#000000 100.0%);-webkit-mask-image:linear-gradient(transparent,#000 50%);mask-image:linear-gradient(transparent,#000 50%)"></i><i style="top:34.01px;height:23.17px;background:linear-gradient(90deg,#000000 0.0%,#000000 3.7%,#000000 7.4%,#000000 11.1%,#000000 14.8%,#000000 18.5%,#000000 22.2%,#000000 25.9%,#000000 29.6%,#000000 33.3%,#000000 37.0%,#000000 40.7%,#000000 44.4%,#000000 48.1%,#000000 51.9%,#000000 55.6%,#040000 59.3%,#090000 63.0%,#0f0000 66.7%,#150000 70.4%,#1b0000 74.1%,#180000 77.8%,#120000 81.5%,#0c0000 85.2%,#060000 88.9%,#020000 92.6%,#000000 96.3%,#000000 100.0%);-webkit-mask-image:linear-gradient(transparent,#000 50%);mask-image:linear-gradient(transparent,#000 50%)"></i><i style="top:45.35px;height:23.17px;background:linear-gradient(90deg,#000000 0.0%,#000000 3.7%,#000000 7.4%,#000000 11.1%,#000000 14.8%,#000000 18.5%,#000000 22.2%,#000000 25.9%,#000000 29.6%,#000000 33.3%,#000000 37.0%,#000000 40.7%,#000000 44.4%,#000000 48.1%,#000000 51.9%,#010000 55.6%,#040000 59.3%,#0a0000 63.0%,#100000 66.7%,#170000 70.4%,#1d0000 74.1%,#1a0000 77.8%,#130000 81.5%,#0d0000 85.2%,#070000 88.9%,#030000 92.6%,#000000 96.3%,#000000 100.0%);-webkit-mask-image:linear-gradient(transparent,#000 50%);mask-image:linear-gradient(transparent,#000 50%)"></i><i style="top:56.68px;height:23.17px;background:linear-gradient(90deg,#000000 0.0%,#000000 3.7%,#000000 7.4%,#000000 11.1%,#000000 14.8%,#000000 18.5%,#000000 22.2%,#000000 25.9%,#000000 29.6%,#000000 33.3%,#000000 37.0%,#000000 40.7%,#000000 44.4%,#000000 48.1%,#000000 51.9%,#010000 55.6%,#050000 59.3%,#0b0000 63.0%,#120000 66.7%,#180000 70.4%,#1f0000 74.1%,#1c0000 77.8%,#150000 81.5%,#0f0000 85.2%,#080000 88.9%,#030000 92.6%,#000000 96.3%,#000000 100.0%);-webkit-mask-image:linear-gradient(transparent,#000 50%);mask-image:linear-gradient(transparent,#000 50%)"></i><i style="top:68.02px;height:23.17px;background:linear-gradient(90deg,#000000 0.0%,#000000 3.7%,#000000 7.4%,#000000 11.1%,#000000 14.8%,#000000 18.5%,#000000 22.2%,#000000 25.9%,#000000 29.6%,#000000 33.3%,#000000 37.0%,#000000 40.7%,#000000 44.4%,#000000 48.1%,#000000 51.9%,#010000 55.6%,#060000 59.3%,#0d0000 63.0%,#130000 66.7%,#1a0000 70.4%,#210000 74.1%,#1e0000 77.8%,#170000 81.5%,#100000 85.2%,#090000 88.9%,#040000 92.6%,#000000 96.3%,#000000 100.0%);-webkit-mask-image:linear-gradient(transparent,#000 50%);mask-image:linear-gradient(transparent,#000 50%)"></i><i style="top:79.36px;height:23.17px;background:linear-gradient(90deg,#000000 0.0%,#000000 3.7%,#000000 7.4%,#000000 11.1%,#000000 14.8%,#000000 18.5%,#000000 22.2%,#000000 25.9%,#000000 29.6%,#000000 33.3%,#000000 37.0%,#000000 40.7%,#000000 44.4%,#000000 48.1%,#000000 51.9%,#010000 55.6%,#070000 59.3%,#0e0000 63.0%,#150000 66.7%,#1c0000 70.4%,#230000 74.1%,#200000 77.8%,#190000 81.5%,#110000 85.2%,#0a0000 88.9%,#040000 92.6%,#000000 96.3%,#000000 100.0%);-webkit-mask-image:linear-gradient(transparent,#000 50%);mask-image:linear-gradient(transparent,#000 50%)"></i><i style="top:90.69px;height:23.17px;background:linear-gradient(90deg,#000000 0.0%,#000000 3.7%,#000000 7.4%,#000000 11.1%,#000000 14.8%,#000000 18.5%,#000000 22.2%,#000000 25.9%,#000000 29.6%,#000000 33.3%,#000000 37.0%,#000000 40.7%,#000000 44.4%,#000000 48.1%,#000000 51.9%,#010000 55.6%,#080000 59.3%,#0f0000 63.0%,#170000 66.7%,#1e0000 70.4%,#250000 74.1%,#220000 77.8%,#1a0000 81.5%,#130000 85.2%,#0c0000 88.9%,#050000 92.6%,#000000 96.3%,#000000 100.0%);-webkit-mask-image:linear-gradient(transparent,#000 50%);mask-image:linear-gradient(transparent,#000 50%)"></i><i style="top:102.03px;height:23.17px;background:linear-gradient(90deg,#000000 0.0%,#000000 3.7%,#000000 7.4%,#000000 11.1%,#000000 14.8%,#000000 18.5%,#000000 22.2%,#010000 25.9%,#010000 29.6%,#010000 33.3%,#010000 37.0%,#010000 40.7%,#010000 44.4%,#010000 48.1%,#010000 51.9%,#020000 55.6%,#090000 59.3%,#110000 63.0%,#180000 66.7%,#200000 70.4%,#280000 74.1%,#240000 77.8%,#1c0000 81.5%,#140000 85.2%,#0d0000 88.9%,#050000 92.6%,#000000 96.3%,#000000 100.0%);-webkit-mask-image:linear-gradient(transparent,#000 50%);mask-image:linear-gradient(transparent,#000 50%)"></i><i style="top:113.37px;height:23.17px;background:linear-gradient(90deg,#000000 0.0%,#000000 3.7%,#000000 7.4%,#000000 11.1%,#010000 14.8%,#020000 18.5%,#030000 22.2%,#030000 25.9%,#040000 29.6%,#040000 33.3%,#040000 37.0%,#040000 40.7%,#040000 44.4%,#040000 48.1%,#040000 51.9%,#060000 55.6%,#0d0000 59.3%,#140000 63.0%,#1c0000 66.7%,#230000 70.4%,#2c0000 74.1%,#270000 77.8%,#1f0000 81.5%,#160000 85.2%,#0d0000 88.9%,#050000 92.6%,#010000 96.3%,#000000 100.0%);-webkit-mask-image:linear-gradient(transparent,#000 50%);mask-image:linear-gradient(transparent,#000 50%)"></i><i style="top:124.70px;height:23.17px;background:linear-gradient(90deg,#000000 0.0%,#000000 3.7%,#000000 7.4%,#000000 11.1%,#020000 14.8%,#040000 18.5%,#050000 22.2%,#060000 25.9%,#070000 29.6%,#070000 33.3%,#070000 37.0%,#070000 40.7%,#070000 44.4%,#070000 48.1%,#070000 51.9%,#0a0000 55.6%,#110000 59.3%,#180000 63.0%,#1f0000 66.7%,#270000 70.4%,#2f0000 74.1%,#2b0000 77.8%,#210000 81.5%,#170000 85.2%,#0d0000 88.9%,#060000 92.6%,#010000 96.3%,#000000 100.0%);-webkit-mask-image:linear-gradient(transparent,#000 50%);mask-image:linear-gradient(transparent,#000 50%)"></i><i style="top:136.04px;height:23.17px;background:linear-gradient(90deg,#000000 0.0%,#000000 3.7%,#000000 7.4%,#010000 11.1%,#030000 14.8%,#050000 18.5%,#070000 22.2%,#090000 25.9%,#0a0000 29.6%,#0a0000 33.3%,#0a0000 37.0%,#0a0000 40.7%,#0a0000 44.4%,#0a0000 48.1%,#0b0000 51.9%,#0e0000 55.6%,#150000 59.3%,#1b0000 63.0%,#220000 66.7%,#2a0000 70.4%,#330000 74.1%,#2e0000 77.8%,#240000 81.5%,#190000 85.2%,#0e0000 88.9%,#060000 92.6%,#020000 96.3%,#000000 100.0%);-webkit-mask-image:linear-gradient(transparent,#000 50%);mask-image:linear-gradient(transparent,#000 50%)"></i><i style="top:147.38px;height:23.17px;background:linear-gradient(90deg,#000000 0.0%,#000000 3.7%,#000000 7.4%,#010000 11.1%,#040000 14.8%,#070000 18.5%,#0a0000 22.2%,#0c0000 25.9%,#0c0000 29.6%,#0c0000 33.3%,#0c0000 37.0%,#0c0000 40.7%,#0c0000 44.4%,#0c0000 48.1%,#0e0000 51.9%,#120000 55.6%,#180000 59.3%,#1f0000 63.0%,#250000 66.7%,#2e0000 70.4%,#370000 74.1%,#310000 77.8%,#270000 81.5%,#1b0000 85.2%,#0e0000 88.9%,#070000 92.6%,#020000 96.3%,#000000 100.0%);-webkit-mask-image:linear-gradient(transparent,#000 50%);mask-image:linear-gradient(transparent,#000 50%)"></i><i style="top:158.71px;height:23.17px;background:linear-gradient(90deg,#000000 0.0%,#000000 3.7%,#000000 7.4%,#010000 11.1%,#050000 14.8%,#090000 18.5%,#0c0000 22.2%,#0f0000 25.9%,#0f0000 29.6%,#0f0000 33.3%,#0f0000 37.0%,#0f0000 40.7%,#0f0000 44.4%,#0f0000 48.1%,#120000 51.9%,#160000 55.6%,#1c0000 59.3%,#220000 63.0%,#280000 66.7%,#310000 70.4%,#3b0000 74.1%,#350000 77.8%,#2a0000 81.5%,#1c0000 85.2%,#0e0000 88.9%,#070000 92.6%,#030000 96.3%,#000000 100.0%);-webkit-mask-image:linear-gradient(transparent,#000 50%);mask-image:linear-gradient(transparent,#000 50%)"></i><i style="top:170.05px;height:23.17px;background:linear-gradient(90deg,#000000 0.0%,#000000 3.7%,#000000 7.4%,#010000 11.1%,#060000 14.8%,#0a0000 18.5%,#0e0000 22.2%,#110000 25.9%,#120000 29.6%,#120000 33.3%,#120000 37.0%,#120000 40.7%,#120000 44.4%,#120000 48.1%,#150000 51.9%,#1a0000 55.6%,#200000 59.3%,#260000 63.0%,#2b0000 66.7%,#340000 70.4%,#3f0000 74.1%,#380000 77.8%,#2c0000 81.5%,#1e0000 85.2%,#0f0000 88.9%,#070000 92.6%,#030000 96.3%,#000000 100.0%);-webkit-mask-image:linear-gradient(transparent,#000 50%);mask-image:linear-gradient(transparent,#000 50%)"></i><i style="top:181.39px;height:23.17px;background:linear-gradient(90deg,#000000 0.0%,#000000 3.7%,#000000 7.4%,#020000 11.1%,#080000 14.8%,#0d0000 18.5%,#120000 22.2%,#160000 25.9%,#170000 29.6%,#160000 33.3%,#160000 37.0%,#160000 40.7%,#150000 44.4%,#150000 48.1%,#180000 51.9%,#1e0000 55.6%,#240000 59.3%,#2a0000 63.0%,#300000 66.7%,#390000 70.4%,#440000 74.1%,#3d0000 77.8%,#310000 81.5%,#200000 85.2%,#100000 88.9%,#080000 92.6%,#040000 96.3%,#000000 100.0%);-webkit-mask-image:linear-gradient(transparent,#000 50%);mask-image:linear-gradient(transparent,#000 50%)"></i><i style="top:192.72px;height:23.17px;background:linear-gradient(90deg,#000000 0.0%,#010000 3.7%,#010000 7.4%,#040000 11.1%,#0a0000 14.8%,#110000 18.5%,#170000 22.2%,#1c0000 25.9%,#1d0000 29.6%,#1c0000 33.3%,#1a0000 37.0%,#190000 40.7%,#180000 44.4%,#180000 48.1%,#1b0000 51.9%,#210000 55.6%,#270000 59.3%,#2f0000 63.0%,#380000 66.7%,#420000 70.4%,#4e0000 74.1%,#460000 77.8%,#380000 81.5%,#260000 85.2%,#130000 88.9%,#090000 92.6%,#040000 96.3%,#000000 100.0%);-webkit-mask-image:linear-gradient(transparent,#000 50%);mask-image:linear-gradient(transparent,#000 50%)"></i><i style="top:204.06px;height:23.17px;background:linear-gradient(90deg,#000000 0.0%,#010000 3.7%,#020000 7.4%,#060000 11.1%,#0d0000 14.8%,#150000 18.5%,#1c0000 22.2%,#230000 25.9%,#230000 29.6%,#210000 33.3%,#1f0000 37.0%,#1d0000 40.7%,#1b0000 44.4%,#1a0000 48.1%,#1e0000 51.9%,#250000 55.6%,#2b0000 59.3%,#350000 63.0%,#400000 66.7%,#4b0000 70.4%,#570000 74.1%,#4e0000 77.8%,#3f0000 81.5%,#2b0000 85.2%,#160000 88.9%,#0a0000 92.6%,#050000 96.3%,#000000 100.0%);-webkit-mask-image:linear-gradient(transparent,#000 50%);mask-image:linear-gradient(transparent,#000 50%)"></i><i style="top:215.40px;height:23.17px;background:linear-gradient(90deg,#000000 0.0%,#020000 3.7%,#030000 7.4%,#080000 11.1%,#100000 14.8%,#190000 18.5%,#210000 22.2%,#290000 25.9%,#290000 29.6%,#260000 33.3%,#230000 37.0%,#210000 40.7%,#1e0000 44.4%,#1c0000 48.1%,#210000 51.9%,#280000 55.6%,#2e0000 59.3%,#3a0000 63.0%,#470000 66.7%,#540000 70.4%,#600000 74.1%,#570000 77.8%,#470000 81.5%,#300000 85.2%,#190000 88.9%,#0b0000 92.6%,#050000 96.3%,#000000 100.0%);-webkit-mask-image:linear-gradient(transparent,#000 50%);mask-image:linear-gradient(transparent,#000 50%)"></i><i style="top:226.73px;height:23.17px;background:linear-gradient(90deg,#000000 0.0%,#020000 3.7%,#040000 7.4%,#0a0000 11.1%,#130000 14.8%,#1d0000 18.5%,#270000 22.2%,#300000 25.9%,#300000 29.6%,#2b0000 33.3%,#280000 37.0%,#250000 40.7%,#210000 44.4%,#1f0000 48.1%,#240000 51.9%,#2b0000 55.6%,#320000 59.3%,#400000 63.0%,#4f0000 66.7%,#5c0000 70.4%,#690000 74.1%,#5f0000 77.8%,#4e0000 81.5%,#350000 85.2%,#1c0000 88.9%,#0c0000 92.6%,#050000 96.3%,#000000 100.0%);-webkit-mask-image:linear-gradient(transparent,#000 50%);mask-image:linear-gradient(transparent,#000 50%)"></i><i style="top:238.07px;height:23.17px;background:linear-gradient(90deg,#000000 0.0%,#030000 3.7%,#050000 7.4%,#0c0000 11.1%,#160000 14.8%,#210000 18.5%,#2c0000 22.2%,#360000 25.9%,#360000 29.6%,#310000 33.3%,#2c0000 37.0%,#280000 40.7%,#240000 44.4%,#210000 48.1%,#270000 51.9%,#2e0000 55.6%,#360000 59.3%,#450000 63.0%,#570000 66.7%,#650000 70.4%,#720000 74.1%,#680000 77.8%,#560000 81.5%,#3a0000 85.2%,#1f0000 88.9%,#0d0000 92.6%,#060000 96.3%,#000000 100.0%);-webkit-mask-image:linear-gradient(transparent,#000 50%);mask-image:linear-gradient(transparent,#000 50%)"></i><i style="top:249.41px;height:23.17px;background:linear-gradient(90deg,#000000 0.0%,#030000 3.7%,#060000 7.4%,#0e0000 11.1%,#190000 14.8%,#250000 18.5%,#310000 22.2%,#3d0000 25.9%,#3c0000 29.6%,#360000 33.3%,#300000 37.0%,#2c0000 40.7%,#270000 44.4%,#230000 48.1%,#2a0000 51.9%,#320000 55.6%,#390000 59.3%,#4b0000 63.0%,#5e0000 66.7%,#6e0000 70.4%,#7b0000 74.1%,#700000 77.8%,#5d0000 81.5%,#3f0000 85.2%,#220000 88.9%,#0e0000 92.6%,#060000 96.3%,#000000 100.0%);-webkit-mask-image:linear-gradient(transparent,#000 50%);mask-image:linear-gradient(transparent,#000 50%)"></i><i style="top:260.74px;height:23.17px;background:linear-gradient(90deg,#000000 0.0%,#030000 3.7%,#070000 7.4%,#0f0000 11.1%,#1c0000 14.8%,#290000 18.5%,#360000 22.2%,#440000 25.9%,#420000 29.6%,#3b0000 33.3%,#350000 37.0%,#300000 40.7%,#2a0000 44.4%,#260000 48.1%,#2d0000 51.9%,#350000 55.6%,#3d0000 59.3%,#500000 63.0%,#660000 66.7%,#770000 70.4%,#840000 74.1%,#790000 77.8%,#650000 81.5%,#450000 85.2%,#250000 88.9%,#0f0000 92.6%,#070000 96.3%,#000000 100.0%);-webkit-mask-image:linear-gradient(transparent,#000 50%);mask-image:linear-gradient(transparent,#000 50%)"></i><i style="top:272.08px;height:23.17px;background:linear-gradient(90deg,#000000 0.0%,#040000 3.7%,#080000 7.4%,#110000 11.1%,#1f0000 14.8%,#2d0000 18.5%,#3c0000 22.2%,#4a0000 25.9%,#490000 29.6%,#410000 33.3%,#390000 37.0%,#330000 40.7%,#2d0000 44.4%,#280000 48.1%,#300000 51.9%,#380000 55.6%,#410000 59.3%,#560000 63.0%,#6e0000 66.7%,#7f0000 70.4%,#8e0000 74.1%,#810000 77.8%,#6c0000 81.5%,#4a0000 85.2%,#280000 88.9%,#100000 92.6%,#070000 96.3%,#000000 100.0%);-webkit-mask-image:linear-gradient(transparent,#000 50%);mask-image:linear-gradient(transparent,#000 50%)"></i><i style="top:283.42px;height:23.17px;background:linear-gradient(90deg,#000000 0.0%,#040000 3.7%,#090000 7.4%,#150000 11.1%,#250000 14.8%,#340000 18.5%,#440000 22.2%,#540000 25.9%,#510000 29.6%,#480000 33.3%,#3f0000 37.0%,#390000 40.7%,#320000 44.4%,#2c0000 48.1%,#350000 51.9%,#3d0000 55.6%,#460000 59.3%,#5c0000 63.0%,#770000 66.7%,#8a0000 70.4%,#9a0000 74.1%,#8d0000 77.8%,#760000 81.5%,#520000 85.2%,#2d0000 88.9%,#120000 92.6%,#080000 96.3%,#000000 100.0%);-webkit-mask-image:linear-gradient(transparent,#000 50%);mask-image:linear-gradient(transparent,#000 50%)"></i><i style="top:294.76px;height:23.17px;background:linear-gradient(90deg,#000000 0.0%,#040000 3.7%,#0b0000 7.4%,#190000 11.1%,#2c0000 14.8%,#3f0000 18.5%,#4f0000 22.2%,#600000 25.9%,#5c0000 29.6%,#510000 33.3%,#470000 37.0%,#3f0000 40.7%,#380000 44.4%,#310000 48.1%,#3a0000 51.9%,#440000 55.6%,#4d0000 59.3%,#650000 63.0%,#810000 66.7%,#960000 70.4%,#a90000 74.1%,#9b0000 77.8%,#830000 81.5%,#5c0000 85.2%,#350000 88.9%,#160000 92.6%,#090000 96.3%,#010000 100.0%);-webkit-mask-image:linear-gradient(transparent,#000 50%);mask-image:linear-gradient(transparent,#000 50%)"></i><i style="top:306.09px;height:23.17px;background:linear-gradient(90deg,#000000 0.0%,#040000 3.7%,#0c0000 7.4%,#1d0000 11.1%,#340000 14.8%,#490000 18.5%,#5a0000 22.2%,#6c0000 25.9%,#670000 29.6%,#5a0000 33.3%,#4e0000 37.0%,#460000 40.7%,#3e0000 44.4%,#370000 48.1%,#400000 51.9%,#4a0000 55.6%,#540000 59.3%,#6d0000 63.0%,#8b0000 66.7%,#a30000 70.4%,#b70000 74.1%,#a90000 77.8%,#8f0000 81.5%,#660000 85.2%,#3d0000 88.9%,#190000 92.6%,#0a0000 96.3%,#020000 100.0%);-webkit-mask-image:linear-gradient(transparent,#000 50%);mask-image:linear-gradient(transparent,#000 50%)"></i><i style="top:317.43px;height:23.17px;background:linear-gradient(90deg,#000000 0.0%,#050000 3.7%,#0d0000 7.4%,#220000 11.1%,#3c0000 14.8%,#540000 18.5%,#660000 22.2%,#780000 25.9%,#720000 29.6%,#630000 33.3%,#560000 37.0%,#4d0000 40.7%,#440000 44.4%,#3c0000 48.1%,#460000 51.9%,#500000 55.6%,#5a0000 59.3%,#760000 63.0%,#950000 66.7%,#af0000 70.4%,#c60000 74.1%,#b70000 77.8%,#9c0000 81.5%,#710000 85.2%,#440000 88.9%,#1d0000 92.6%,#0c0000 96.3%,#030000 100.0%);-webkit-mask-image:linear-gradient(transparent,#000 50%);mask-image:linear-gradient(transparent,#000 50%)"></i><i style="top:328.77px;height:23.17px;background:linear-gradient(90deg,#000000 0.0%,#050000 3.7%,#0f0000 7.4%,#260000 11.1%,#440000 14.8%,#5e0000 18.5%,#710000 22.2%,#840000 25.9%,#7d0000 29.6%,#6c0000 33.3%,#5d0000 37.0%,#540000 40.7%,#4a0000 44.4%,#420000 48.1%,#4c0000 51.9%,#570000 55.6%,#610000 59.3%,#7e0000 63.0%,#9f0000 66.7%,#bb0000 70.4%,#d50000 74.1%,#c60000 77.8%,#a90000 81.5%,#7b0000 85.2%,#4c0000 88.9%,#200000 92.6%,#0d0000 96.3%,#030000 100.0%);-webkit-mask-image:linear-gradient(transparent,#000 50%);mask-image:linear-gradient(transparent,#000 50%)"></i><i style="top:340.10px;height:23.17px;background:linear-gradient(90deg,#000000 0.0%,#050000 3.7%,#100000 7.4%,#2a0000 11.1%,#4c0000 14.8%,#680000 18.5%,#7c0000 22.2%,#900000 25.9%,#880000 29.6%,#750000 33.3%,#650000 37.0%,#5b0000 40.7%,#500000 44.4%,#470000 48.1%,#520000 51.9%,#5d0000 55.6%,#680000 59.3%,#860000 63.0%,#a90000 66.7%,#c80000 70.4%,#e40000 74.1%,#d40000 77.8%,#b50000 81.5%,#850000 85.2%,#530000 88.9%,#240000 92.6%,#0e0000 96.3%,#040000 100.0%);-webkit-mask-image:linear-gradient(transparent,#000 50%);mask-image:linear-gradient(transparent,#000 50%)"></i><i style="top:351.44px;height:23.17px;background:linear-gradient(90deg,#000000 0.0%,#050000 3.7%,#120000 7.4%,#2f0000 11.1%,#540000 14.8%,#730000 18.5%,#870000 22.2%,#9c0000 25.9%,#930000 29.6%,#7e0000 33.3%,#6c0000 37.0%,#610000 40.7%,#560000 44.4%,#4c0000 48.1%,#580000 51.9%,#630000 55.6%,#6f0000 59.3%,#8f0000 63.0%,#b40000 66.7%,#d40000 70.4%,#f30000 74.1%,#e20000 77.8%,#c20000 81.5%,#8f0000 85.2%,#5b0000 88.9%,#270000 92.6%,#0f0000 96.3%,#050000 100.0%);-webkit-mask-image:linear-gradient(transparent,#000 50%);mask-image:linear-gradient(transparent,#000 50%)"></i><i style="top:362.78px;height:23.17px;background:linear-gradient(90deg,#000000 0.0%,#050000 3.7%,#130000 7.4%,#330000 11.1%,#5c0000 14.8%,#7d0000 18.5%,#930000 22.2%,#a80000 25.9%,#9e0000 29.6%,#880000 33.3%,#740000 37.0%,#680000 40.7%,#5d0000 44.4%,#520000 48.1%,#5e0000 51.9%,#6a0000 55.6%,#760000 59.3%,#970000 63.0%,#be0000 66.7%,#e10000 70.4%,#ff0200 74.1%,#f00000 77.8%,#ce0000 81.5%,#9a0000 85.2%,#620000 88.9%,#2b0000 92.6%,#110000 96.3%,#060000 100.0%);-webkit-mask-image:linear-gradient(transparent,#000 50%);mask-image:linear-gradient(transparent,#000 50%)"></i><i style="top:374.11px;height:23.17px;background:linear-gradient(90deg,#000000 0.0%,#050000 3.7%,#150000 7.4%,#370000 11.1%,#640000 14.8%,#870000 18.5%,#9e0000 22.2%,#b40000 25.9%,#a90000 29.6%,#910000 33.3%,#7b0000 37.0%,#6f0000 40.7%,#630000 44.4%,#570000 48.1%,#640000 51.9%,#700000 55.6%,#7d0000 59.3%,#9f0000 63.0%,#c80000 66.7%,#ed0000 70.4%,#ff1100 74.1%,#fe0000 77.8%,#db0000 81.5%,#a40000 85.2%,#6a0000 88.9%,#2e0000 92.6%,#120000 96.3%,#070000 100.0%);-webkit-mask-image:linear-gradient(transparent,#000 50%);mask-image:linear-gradient(transparent,#000 50%)"></i><i style="top:385.45px;height:23.17px;background:linear-gradient(90deg,#000000 0.0%,#050000 3.7%,#160000 7.4%,#3c0000 11.1%,#6d0000 14.8%,#930000 18.5%,#aa0000 22.2%,#c10000 25.9%,#b50000 29.6%,#9a0000 33.3%,#830000 37.0%,#760000 40.7%,#680000 44.4%,#5b0000 48.1%,#690000 51.9%,#770000 55.6%,#840000 59.3%,#a80000 63.0%,#d10000 66.7%,#f80000 70.4%,#ff1f00 74.1%,#ff0c00 77.8%,#e50000 81.5%,#ac0000 85.2%,#700000 88.9%,#320000 92.6%,#140000 96.3%,#070000 100.0%);-webkit-mask-image:linear-gradient(transparent,#000 50%);mask-image:linear-gradient(transparent,#000 50%)"></i><i style="top:396.79px;height:23.17px;background:linear-gradient(90deg,#000000 0.0%,#060000 3.7%,#170000 7.4%,#400000 11.1%,#760000 14.8%,#9f0000 18.5%,#b70000 22.2%,#cf0000 25.9%,#c10000 29.6%,#a50000 33.3%,#8b0000 37.0%,#7c0000 40.7%,#6d0000 44.4%,#5e0000 48.1%,#6e0000 51.9%,#7d0000 55.6%,#8d0000 59.3%,#b00000 63.0%,#d90000 66.7%,#ff0400 70.4%,#ff2e00 74.1%,#ff1900 77.8%,#ee0000 81.5%,#b40000 85.2%,#760000 88.9%,#350000 92.6%,#170000 96.3%,#070000 100.0%);-webkit-mask-image:linear-gradient(transparent,#000 50%);mask-image:linear-gradient(transparent,#000 50%)"></i><i style="top:408.12px;height:23.17px;background:linear-gradient(90deg,#000000 0.0%,#060000 3.7%,#180000 7.4%,#440000 11.1%,#7e0000 14.8%,#ab0000 18.5%,#c40000 22.2%,#dd0000 25.9%,#ce0000 29.6%,#af0000 33.3%,#930000 37.0%,#820000 40.7%,#710000 44.4%,#620000 48.1%,#730000 51.9%,#840000 55.6%,#950000 59.3%,#b90000 63.0%,#e20000 66.7%,#ff0f00 70.4%,#ff3c00 74.1%,#ff2500 77.8%,#f70000 81.5%,#bb0000 85.2%,#7c0000 88.9%,#390000 92.6%,#190000 96.3%,#070000 100.0%);-webkit-mask-image:linear-gradient(transparent,#000 50%);mask-image:linear-gradient(transparent,#000 50%)"></i><i style="top:419.46px;height:23.17px;background:linear-gradient(90deg,#000000 0.0%,#060000 3.7%,#190000 7.4%,#480000 11.1%,#870000 14.8%,#b70000 18.5%,#d10000 22.2%,#ea0000 25.9%,#da0000 29.6%,#b90000 33.3%,#9c0000 37.0%,#890000 40.7%,#760000 44.4%,#650000 48.1%,#780000 51.9%,#8a0000 55.6%,#9d0000 59.3%,#c20000 63.0%,#ea0000 66.7%,#ff1900 70.4%,#ff4a00 74.1%,#ff3200 77.8%,#ff0100 81.5%,#c20000 85.2%,#810000 88.9%,#3c0000 92.6%,#1c0000 96.3%,#070000 100.0%);-webkit-mask-image:linear-gradient(transparent,#000 50%);mask-image:linear-gradient(transparent,#000 50%)"></i><i style="top:430.80px;height:23.17px;background:linear-gradient(90deg,#000000 0.0%,#070000 3.7%,#1b0000 7.4%,#4d0000 11.1%,#900000 14.8%,#c30000 18.5%,#de0000 22.2%,#f80000 25.9%,#e60000 29.6%,#c30000 33.3%,#a40000 37.0%,#8f0000 40.7%,#7b0000 44.4%,#680000 48.1%,#7d0000 51.9%,#910000 55.6%,#a50000 59.3%,#ca0000 63.0%,#f30000 66.7%,#ff2400 70.4%,#ff5800 74.1%,#ff3e00 77.8%,#ff0a00 81.5%,#ca0000 85.2%,#870000 88.9%,#400000 92.6%,#1f0000 96.3%,#070000 100.0%);-webkit-mask-image:linear-gradient(transparent,#000 50%);mask-image:linear-gradient(transparent,#000 50%)"></i><i style="top:442.13px;height:23.17px;background:linear-gradient(90deg,#000000 0.0%,#070000 3.7%,#1c0000 7.4%,#510000 11.1%,#990000 14.8%,#cf0000 18.5%,#ea0000 22.2%,#ff0700 25.9%,#f30000 29.6%,#cd0000 33.3%,#ac0000 37.0%,#960000 40.7%,#800000 44.4%,#6c0000 48.1%,#820000 51.9%,#970000 55.6%,#ad0000 59.3%,#d30000 63.0%,#fc0000 66.7%,#ff2f00 70.4%,#ff6600 74.1%,#ff4a00 77.8%,#ff1300 81.5%,#d10000 85.2%,#8d0000 88.9%,#430000 92.6%,#210000 96.3%,#070000 100.0%);-webkit-mask-image:linear-gradient(transparent,#000 50%);mask-image:linear-gradient(transparent,#000 50%)"></i><i style="top:453.47px;height:23.17px;background:linear-gradient(90deg,#000000 0.0%,#080000 3.7%,#1f0000 7.4%,#580000 11.1%,#a40000 14.8%,#df0000 18.5%,#ff0000 22.2%,#ff1f00 25.9%,#ff0a00 29.6%,#de0000 33.3%,#b80000 37.0%,#9d0000 40.7%,#860000 44.4%,#710000 48.1%,#860000 51.9%,#9d0000 55.6%,#b40000 59.3%,#db0000 63.0%,#ff0800 66.7%,#ff3d00 70.4%,#ff7800 74.1%,#ff5b00 77.8%,#ff2000 81.5%,#db0000 85.2%,#950000 88.9%,#480000 92.6%,#230000 96.3%,#070000 100.0%);-webkit-mask-image:linear-gradient(transparent,#000 50%);mask-image:linear-gradient(transparent,#000 50%)"></i><i style="top:464.81px;height:23.17px;background:linear-gradient(90deg,#000000 0.0%,#0a0000 3.7%,#250000 7.4%,#630000 11.1%,#b30000 14.8%,#f60000 18.5%,#ff2300 22.2%,#ff4e00 25.9%,#ff3400 29.6%,#fe0000 33.3%,#cc0000 37.0%,#a70000 40.7%,#910000 44.4%,#7c0000 48.1%,#8a0000 51.9%,#a00000 55.6%,#b60000 59.3%,#e40000 63.0%,#ff1900 66.7%,#ff5400 70.4%,#ff9300 74.1%,#ff7300 77.8%,#ff3400 81.5%,#eb0000 85.2%,#9f0000 88.9%,#4e0000 92.6%,#240000 96.3%,#090000 100.0%);-webkit-mask-image:linear-gradient(transparent,#000 50%);mask-image:linear-gradient(transparent,#000 50%)"></i><i style="top:476.14px;height:23.17px;background:linear-gradient(90deg,#000000 0.0%,#0d0000 3.7%,#2a0000 7.4%,#6e0000 11.1%,#c20000 14.8%,#ff0d00 18.5%,#ff4700 22.2%,#ff7c00 25.9%,#ff5e00 29.6%,#ff1e00 33.3%,#e10000 37.0%,#b00000 40.7%,#9b0000 44.4%,#860000 48.1%,#8e0000 51.9%,#a30000 55.6%,#b80000 59.3%,#ec0000 63.0%,#ff2a00 66.7%,#ff6a00 70.4%,#ffae00 74.1%,#ff8c00 77.8%,#ff4900 81.5%,#fb0000 85.2%,#aa0000 88.9%,#540000 92.6%,#240000 96.3%,#0b0000 100.0%);-webkit-mask-image:linear-gradient(transparent,#000 50%);mask-image:linear-gradient(transparent,#000 50%)"></i><i style="top:487.48px;height:23.17px;background:linear-gradient(90deg,#000000 0.0%,#0f0000 3.7%,#300000 7.4%,#790000 11.1%,#d10000 14.8%,#ff2400 18.5%,#ff6b00 22.2%,#ffaa00 25.9%,#ff8800 29.6%,#ff3d00 33.3%,#f50000 37.0%,#b90000 40.7%,#a50000 44.4%,#910000 48.1%,#920000 51.9%,#a60000 55.6%,#ba0000 59.3%,#f50000 63.0%,#ff3a00 66.7%,#ff8100 70.4%,#ffc800 74.1%,#ffa500 77.8%,#ff5d00 81.5%,#ff0b00 85.2%,#b50000 88.9%,#5b0000 92.6%,#250000 96.3%,#0d0000 100.0%);-webkit-mask-image:linear-gradient(transparent,#000 50%);mask-image:linear-gradient(transparent,#000 50%)"></i><i style="top:498.82px;height:23.17px;background:linear-gradient(90deg,#000000 0.0%,#110000 3.7%,#340000 7.4%,#800000 11.1%,#dd0000 14.8%,#ff3400 18.5%,#ff8500 22.2%,#ffce00 25.9%,#ffac00 29.6%,#ff5000 33.3%,#ff0100 37.0%,#bf0000 40.7%,#ab0000 44.4%,#970000 48.1%,#970000 51.9%,#aa0000 55.6%,#bd0000 59.3%,#fa0000 63.0%,#ff4500 66.7%,#ff9900 70.4%,#ffe500 74.1%,#ffbc00 77.8%,#ff6800 81.5%,#ff1200 85.2%,#be0000 88.9%,#630000 92.6%,#260000 96.3%,#0e0000 100.0%);-webkit-mask-image:linear-gradient(transparent,#000 50%);mask-image:linear-gradient(transparent,#000 50%)"></i><i style="top:510.15px;height:23.17px;background:linear-gradient(90deg,#000000 0.0%,#130000 3.7%,#360000 7.4%,#860000 11.1%,#e80000 14.8%,#ff4300 18.5%,#ff9f00 22.2%,#fff100 25.9%,#ffce00 29.6%,#ff6200 33.3%,#ff0b00 37.0%,#c50000 40.7%,#b10000 44.4%,#9d0000 48.1%,#9c0000 51.9%,#ae0000 55.6%,#c00000 59.3%,#ff0100 63.0%,#ff5000 66.7%,#ffb200 70.4%,#ffff06 74.1%,#ffd300 77.8%,#ff7200 81.5%,#ff1800 85.2%,#c70000 88.9%,#6c0000 92.6%,#280000 96.3%,#0e0000 100.0%);-webkit-mask-image:linear-gradient(transparent,#000 50%);mask-image:linear-gradient(transparent,#000 50%)"></i><i style="top:521.49px;height:23.17px;background:linear-gradient(90deg,#000000 0.0%,#150000 3.7%,#390000 7.4%,#8d0000 11.1%,#f40000 14.8%,#ff5200 18.5%,#ffb900 22.2%,#ffff20 25.9%,#fff100 29.6%,#ff7300 33.3%,#ff1500 37.0%,#ca0000 40.7%,#b60000 44.4%,#a20000 48.1%,#a10000 51.9%,#b20000 55.6%,#c30000 59.3%,#ff0600 63.0%,#ff5a00 66.7%,#ffca00 70.4%,#ffff32 74.1%,#ffea00 77.8%,#ff7b00 81.5%,#ff1e00 85.2%,#d00000 88.9%,#740000 92.6%,#2a0000 96.3%,#0e0000 100.0%);-webkit-mask-image:linear-gradient(transparent,#000 50%);mask-image:linear-gradient(transparent,#000 50%)"></i><i style="top:532.83px;height:23.17px;background:linear-gradient(90deg,#000000 0.0%,#170000 3.7%,#3c0000 7.4%,#930000 11.1%,#ff0000 14.8%,#ff6200 18.5%,#ffd200 22.2%,#ffff54 25.9%,#ffff20 29.6%,#ff8400 33.3%,#ff1e00 37.0%,#d00000 40.7%,#bc0000 44.4%,#a80000 48.1%,#a60000 51.9%,#b60000 55.6%,#c60000 59.3%,#ff0b00 63.0%,#ff6400 66.7%,#ffe300 70.4%,#ffff5e 74.1%,#ffff04 77.8%,#ff8500 81.5%,#ff2400 85.2%,#d90000 88.9%,#7d0000 92.6%,#2c0000 96.3%,#0e0000 100.0%);-webkit-mask-image:linear-gradient(transparent,#000 50%);mask-image:linear-gradient(transparent,#000 50%)"></i><i style="top:544.16px;height:23.17px;background:linear-gradient(90deg,#000000 0.0%,#190000 3.7%,#3f0000 7.4%,#990000 11.1%,#ff0c00 14.8%,#ff7100 18.5%,#ffec00 22.2%,#ffff89 25.9%,#ffff54 29.6%,#ff9600 33.3%,#ff2800 37.0%,#d60000 40.7%,#c10000 44.4%,#ad0000 48.1%,#ab0000 51.9%,#ba0000 55.6%,#c90000 59.3%,#ff1000 63.0%,#ff6e00 66.7%,#fffb00 70.4%,#ffff8a 74.1%,#ffff26 77.8%,#ff8f00 81.5%,#ff2b00 85.2%,#e20000 88.9%,#850000 92.6%,#2e0000 96.3%,#0e0000 100.0%);-webkit-mask-image:linear-gradient(transparent,#000 50%);mask-image:linear-gradient(transparent,#000 50%)"></i></div><div class="cb" style="left:692.50px;top:56.00px;width:27.00px;height:554.00px;background:linear-gradient(180deg,#800000 0.0%,#990000 2.5%,#b30000 5.0%,#cc0000 7.5%,#e50000 10.0%,#ff0000 12.5%,#ff1a00 15.0%,#ff3300 17.5%,#ff4c00 20.0%,#ff6600 22.5%,#ff8000 25.0%,#ff9900 27.5%,#ffb300 30.0%,#ffcc00 32.5%,#ffe500 35.0%,#ffff00 37.5%,#e5ff1a 40.0%,#ccff33 42.5%,#b3ff4c 45.0%,#99ff66 47.5%,#80ff80 50.0%,#66ff99 52.5%,#4cffb3 55.0%,#33ffcc 57.5%,#1affe5 60.0%,#00ffff 62.5%,#00e5ff 65.0%,#00ccff 67.5%,#00b3ff 70.0%,#0099ff 72.5%,#0080ff 75.0%,#0066ff 77.5%,#004cff 80.0%,#0033ff 82.5%,#001aff 85.0%,#0000ff 87.5%,#0000e5 90.0%,#0000cc 92.5%,#0000b3 95.0%,#000099 97.5%,#000080 100.0%);border:1px solid #222;box-sizing:border-box"></div><div class="cb" style="left:1519.80px;top:50.80px;width:26.60px;height:553.00px;background:linear-gradient(180deg,#ffffff 0.0%,#ffffe5 2.5%,#ffffcc 5.0%,#ffffb3 7.5%,#ffff99 10.0%,#ffff80 12.5%,#ffff66 15.0%,#ffff4c 17.5%,#ffff33 20.0%,#ffff1a 22.5%,#ffff00 25.0%,#ffee00 27.5%,#ffdd00 30.0%,#ffcc00 32.5%,#ffbb00 35.0%,#ffaa00 37.5%,#ff9900 40.0%,#ff8800 42.5%,#ff7700 45.0%,#ff6600 47.5%,#ff5500 50.0%,#ff4400 52.5%,#ff3300 55.0%,#ff2200 57.5%,#ff1100 60.0%,#ff0000 62.5%,#ee0000 65.0%,#dd0000 67.5%,#cc0000 70.0%,#bb0000 72.5%,#aa0000 75.0%,#990000 77.5%,#880000 80.0%,#770000 82.5%,#660000 85.0%,#550000 87.5%,#440000 90.0%,#330000 92.5%,#220000 95.0%,#110000 97.5%,#000000 100.0%);border:1px solid #333;box-sizing:border-box"></div>
<svg width="1600" height="682" style="z-index:5;filter:blur(0.45px)" font-family="Liberation Serif, Times New Roman, serif" stroke-linejoin="round"><line x1="144.80" y1="157.50" x2="144.80" y2="596.60" stroke="#3a3a3a" stroke-width="1.30"/><line x1="70.90" y1="479.57" x2="63.50" y2="473.97" stroke="#555" stroke-width="1.30"/><line x1="70.90" y1="416.84" x2="63.50" y2="411.24" stroke="#555" stroke-width="1.30"/><line x1="70.90" y1="354.11" x2="63.50" y2="348.51" stroke="#555" stroke-width="1.30"/><line x1="70.90" y1="291.39" x2="63.50" y2="285.79" stroke="#555" stroke-width="1.30"/><line x1="70.90" y1="228.66" x2="63.50" y2="223.06" stroke="#555" stroke-width="1.30"/><line x1="70.90" y1="165.93" x2="63.50" y2="160.33" stroke="#555" stroke-width="1.30"/><line x1="70.90" y1="103.20" x2="63.50" y2="97.60" stroke="#555" stroke-width="1.30"/><line x1="144.80" y1="596.60" x2="136.20" y2="600.60" stroke="#555" stroke-width="1.30"/><line x1="144.80" y1="596.60" x2="152.40" y2="602.40" stroke="#555" stroke-width="1.30"/><line x1="107.85" y1="568.45" x2="99.25" y2="572.45" stroke="#555" stroke-width="1.30"/><line x1="193.50" y1="575.85" x2="201.10" y2="581.65" stroke="#555" stroke-width="1.30"/><line x1="70.90" y1="540.30" x2="62.30" y2="544.30" stroke="#555" stroke-width="1.30"/><line x1="242.20" y1="555.10" x2="249.80" y2="560.90" stroke="#555" stroke-width="1.30"/><line x1="975.80" y1="151.50" x2="975.80" y2="590.60" stroke="#3a3a3a" stroke-width="1.30"/><line x1="901.90" y1="473.57" x2="894.50" y2="467.97" stroke="#555" stroke-width="1.30"/><line x1="901.90" y1="410.84" x2="894.50" y2="405.24" stroke="#555" stroke-width="1.30"/><line x1="901.90" y1="348.11" x2="894.50" y2="342.51" stroke="#555" stroke-width="1.30"/><line x1="901.90" y1="285.39" x2="894.50" y2="279.79" stroke="#555" stroke-width="1.30"/><line x1="901.90" y1="222.66" x2="894.50" y2="217.06" stroke="#555" stroke-width="1.30"/><line x1="901.90" y1="159.93" x2="894.50" y2="154.33" stroke="#555" stroke-width="1.30"/><line x1="901.90" y1="97.20" x2="894.50" y2="91.60" stroke="#555" stroke-width="1.30"/><line x1="975.80" y1="590.60" x2="967.20" y2="594.60" stroke="#555" stroke-width="1.30"/><line x1="975.80" y1="590.60" x2="983.40" y2="596.40" stroke="#555" stroke-width="1.30"/><line x1="938.85" y1="562.45" x2="930.25" y2="566.45" stroke="#555" stroke-width="1.30"/><line x1="1024.50" y1="569.85" x2="1032.10" y2="575.65" stroke="#555" stroke-width="1.30"/><line x1="901.90" y1="534.30" x2="893.30" y2="538.30" stroke="#555" stroke-width="1.30"/><line x1="1073.20" y1="549.10" x2="1080.80" y2="554.90" stroke="#555" stroke-width="1.30"/><text transform="translate(34.65 54.41) scale(1.019 1)" font-size="61.48" font-weight="normal" fill="#000">(a)</text><text transform="translate(132.28 47.70) scale(0.879 1)" font-size="25.53" font-weight="bold" fill="#000">XOY</text><text transform="translate(335.97 47.70) scale(0.904 1)" font-size="25.53" font-weight="bold" fill="#000">XOZ</text><text transform="translate(514.81 48.35) scale(0.877 1)" font-size="25.60" font-weight="bold" fill="#000">YOZ</text><text transform="translate(677.94 42.42) scale(0.822 1)" font-size="28.27" font-weight="bold" fill="#000">T/[K]</text><text transform="translate(635.66 159.01) scale(0.870 1)" font-size="27.50" font-weight="bold" fill="#000">2000</text><text transform="translate(635.66 251.41) scale(0.870 1)" font-size="27.50" font-weight="bold" fill="#000">1800</text><text transform="translate(635.66 343.91) scale(0.870 1)" font-size="27.50" font-weight="bold" fill="#000">1600</text><text transform="translate(635.66 436.31) scale(0.870 1)" font-size="27.50" font-weight="bold" fill="#000">1400</text><text transform="translate(635.66 528.71) scale(0.870 1)" font-size="27.50" font-weight="bold" fill="#000">1200</text><text transform="translate(31.03 103.68) scale(0.820 1)" font-size="21.00" font-weight="bold" fill="#000">350</text><text transform="translate(31.03 167.08) scale(0.820 1)" font-size="21.00" font-weight="bold" fill="#000">300</text><text transform="translate(31.03 230.38) scale(0.820 1)" font-size="21.00" font-weight="bold" fill="#000">250</text><text transform="translate(31.03 293.68) scale(0.820 1)" font-size="21.00" font-weight="bold" fill="#000">200</text><text transform="translate(31.03 357.08) scale(0.820 1)" font-size="21.00" font-weight="bold" fill="#000">150</text><text transform="translate(31.03 421.88) scale(0.820 1)" font-size="21.00" font-weight="bold" fill="#000">100</text><text transform="translate(39.64 485.48) scale(0.820 1)" font-size="21.00" font-weight="bold" fill="#000">50</text><text transform="translate(30.12 567.98) scale(0.820 1)" font-size="21.00" font-weight="bold" fill="#000">100</text><text transform="translate(75.77 595.08) scale(0.820 1)" font-size="21.00" font-weight="bold" fill="#000">50</text><text transform="translate(121.29 623.08) scale(0.820 1)" font-size="21.00" font-weight="bold" fill="#000">0</text><text transform="translate(155.30 626.88) scale(0.820 1)" font-size="21.00" font-weight="bold" fill="#000">0</text><text transform="translate(200.07 604.98) scale(0.820 1)" font-size="21.00" font-weight="bold" fill="#000">50</text><text transform="translate(245.42 583.58) scale(0.820 1)" font-size="21.00" font-weight="bold" fill="#000">100</text><text transform="translate(26.33 637.10) scale(1.071 1)" font-size="16.70" font-weight="bold" fill="#000">y/mm</text><text transform="translate(226.53 641.43) scale(0.989 1)" font-size="17.65" font-weight="bold" fill="#000">x/mm</text><text transform="translate(18.8 346) scale(0.78 1) rotate(-90)" font-size="19.6" font-weight="bold">z/mm</text><text transform="translate(260.04 72.05) scale(0.840 1)" font-size="20.00" font-weight="bold" fill="#000">350</text><text transform="translate(438.64 72.05) scale(0.840 1)" font-size="20.00" font-weight="bold" fill="#000">350</text><text transform="translate(260.04 152.45) scale(0.840 1)" font-size="20.00" font-weight="bold" fill="#000">300</text><text transform="translate(438.64 152.45) scale(0.840 1)" font-size="20.00" font-weight="bold" fill="#000">300</text><text transform="translate(260.04 232.25) scale(0.840 1)" font-size="20.00" font-weight="bold" fill="#000">250</text><text transform="translate(438.64 232.25) scale(0.840 1)" font-size="20.00" font-weight="bold" fill="#000">250</text><text transform="translate(260.04 311.55) scale(0.840 1)" font-size="20.00" font-weight="bold" fill="#000">200</text><text transform="translate(438.64 311.55) scale(0.840 1)" font-size="20.00" font-weight="bold" fill="#000">200</text><text transform="translate(260.04 391.95) scale(0.840 1)" font-size="20.00" font-weight="bold" fill="#000">150</text><text transform="translate(438.64 391.95) scale(0.840 1)" font-size="20.00" font-weight="bold" fill="#000">150</text><text transform="translate(260.04 471.85) scale(0.840 1)" font-size="20.00" font-weight="bold" fill="#000">100</text><text transform="translate(438.64 471.85) scale(0.840 1)" font-size="20.00" font-weight="bold" fill="#000">100</text><text transform="translate(268.44 551.55) scale(0.840 1)" font-size="20.00" font-weight="bold" fill="#000">50</text><text transform="translate(447.04 551.55) scale(0.840 1)" font-size="20.00" font-weight="bold" fill="#000">50</text><text transform="translate(309.78 641.19) scale(0.840 1)" font-size="19.50" font-weight="bold" fill="#000">20</text><text transform="translate(338.01 641.19) scale(0.840 1)" font-size="19.50" font-weight="bold" fill="#000">40</text><text transform="translate(365.34 641.19) scale(0.840 1)" font-size="19.50" font-weight="bold" fill="#000">60</text><text transform="translate(392.85 641.19) scale(0.840 1)" font-size="19.50" font-weight="bold" fill="#000">80</text><text transform="translate(488.35 641.09) scale(0.840 1)" font-size="19.50" font-weight="bold" fill="#000">80</text><text transform="translate(517.74 641.09) scale(0.840 1)" font-size="19.50" font-weight="bold" fill="#000">60</text><text transform="translate(544.51 641.09) scale(0.840 1)" font-size="19.50" font-weight="bold" fill="#000">40</text><text transform="translate(572.28 641.09) scale(0.840 1)" font-size="19.50" font-weight="bold" fill="#000">20</text><text transform="translate(338.11 668.54) scale(0.830 1)" font-size="22.00" font-weight="bold" fill="#000">x/mm</text><text transform="translate(515.15 666.87) scale(0.830 1)" font-size="22.00" font-weight="bold" fill="#000">y/mm</text><text transform="translate(866.54 68.28) scale(1.001 1)" font-size="61.65" font-weight="normal" fill="#000">(b)</text><text transform="translate(961.38 42.04) scale(0.865 1)" font-size="26.42" font-weight="bold" fill="#000">XOY</text><text transform="translate(1165.39 42.04) scale(0.837 1)" font-size="26.42" font-weight="bold" fill="#000">XOZ</text><text transform="translate(1342.91 42.04) scale(0.839 1)" font-size="26.42" font-weight="bold" fill="#000">YOZ</text><text transform="translate(1451.70 110.01) scale(0.870 1)" font-size="27.50" font-weight="bold" fill="#000">14000</text><text transform="translate(1451.70 182.11) scale(0.870 1)" font-size="27.50" font-weight="bold" fill="#000">12000</text><text transform="translate(1451.70 254.11) scale(0.870 1)" font-size="27.50" font-weight="bold" fill="#000">10000</text><text transform="translate(1463.66 326.21) scale(0.870 1)" font-size="27.50" font-weight="bold" fill="#000">8000</text><text transform="translate(1463.66 398.31) scale(0.870 1)" font-size="27.50" font-weight="bold" fill="#000">6000</text><text transform="translate(1463.66 470.41) scale(0.870 1)" font-size="27.50" font-weight="bold" fill="#000">4000</text><text transform="translate(1463.66 542.41) scale(0.870 1)" font-size="27.50" font-weight="bold" fill="#000">2000</text><text transform="translate(862.03 97.38) scale(0.820 1)" font-size="21.00" font-weight="bold" fill="#000">350</text><text transform="translate(862.03 160.78) scale(0.820 1)" font-size="21.00" font-weight="bold" fill="#000">300</text><text transform="translate(862.03 224.08) scale(0.820 1)" font-size="21.00" font-weight="bold" fill="#000">250</text><text transform="translate(862.03 287.38) scale(0.820 1)" font-size="21.00" font-weight="bold" fill="#000">200</text><text transform="translate(862.03 350.78) scale(0.820 1)" font-size="21.00" font-weight="bold" fill="#000">150</text><text transform="translate(862.03 415.58) scale(0.820 1)" font-size="21.00" font-weight="bold" fill="#000">100</text><text transform="translate(870.64 479.18) scale(0.820 1)" font-size="21.00" font-weight="bold" fill="#000">50</text><text transform="translate(860.62 561.68) scale(0.820 1)" font-size="21.00" font-weight="bold" fill="#000">100</text><text transform="translate(906.27 588.78) scale(0.820 1)" font-size="21.00" font-weight="bold" fill="#000">50</text><text transform="translate(951.80 616.78) scale(0.820 1)" font-size="21.00" font-weight="bold" fill="#000">0</text><text transform="translate(985.80 620.58) scale(0.820 1)" font-size="21.00" font-weight="bold" fill="#000">0</text><text transform="translate(1030.57 598.68) scale(0.820 1)" font-size="21.00" font-weight="bold" fill="#000">50</text><text transform="translate(1075.92 577.28) scale(0.820 1)" font-size="21.00" font-weight="bold" fill="#000">100</text><text transform="translate(858.23 630.19) scale(1.112 1)" font-size="15.78" font-weight="bold" fill="#000">y/mm</text><text transform="translate(1057.34 634.53) scale(0.956 1)" font-size="17.35" font-weight="bold" fill="#000">x/mm</text><text transform="translate(849.8 339.7) scale(0.78 1) rotate(-90)" font-size="19.6" font-weight="bold">z/mm</text><text transform="translate(1089.54 65.75) scale(0.840 1)" font-size="20.00" font-weight="bold" fill="#000">350</text><text transform="translate(1266.94 65.75) scale(0.840 1)" font-size="20.00" font-weight="bold" fill="#000">350</text><text transform="translate(1089.54 146.15) scale(0.840 1)" font-size="20.00" font-weight="bold" fill="#000">300</text><text transform="translate(1266.94 146.15) scale(0.840 1)" font-size="20.00" font-weight="bold" fill="#000">300</text><text transform="translate(1089.54 225.95) scale(0.840 1)" font-size="20.00" font-weight="bold" fill="#000">250</text><text transform="translate(1266.94 225.95) scale(0.840 1)" font-size="20.00" font-weight="bold" fill="#000">250</text><text transform="translate(1089.54 305.25) scale(0.840 1)" font-size="20.00" font-weight="bold" fill="#000">200</text><text transform="translate(1266.94 305.25) scale(0.840 1)" font-size="20.00" font-weight="bold" fill="#000">200</text><text transform="translate(1089.54 385.65) scale(0.840 1)" font-size="20.00" font-weight="bold" fill="#000">150</text><text transform="translate(1266.94 385.65) scale(0.840 1)" font-size="20.00" font-weight="bold" fill="#000">150</text><text transform="translate(1089.54 465.55) scale(0.840 1)" font-size="20.00" font-weight="bold" fill="#000">100</text><text transform="translate(1266.94 465.55) scale(0.840 1)" font-size="20.00" font-weight="bold" fill="#000">100</text><text transform="translate(1097.94 545.25) scale(0.840 1)" font-size="20.00" font-weight="bold" fill="#000">50</text><text transform="translate(1275.34 545.25) scale(0.840 1)" font-size="20.00" font-weight="bold" fill="#000">50</text><text transform="translate(1138.78 634.89) scale(0.840 1)" font-size="19.50" font-weight="bold" fill="#000">20</text><text transform="translate(1167.01 634.89) scale(0.840 1)" font-size="19.50" font-weight="bold" fill="#000">40</text><text transform="translate(1194.34 634.89) scale(0.840 1)" font-size="19.50" font-weight="bold" fill="#000">60</text><text transform="translate(1221.85 634.89) scale(0.840 1)" font-size="19.50" font-weight="bold" fill="#000">80</text><text transform="translate(1316.65 634.79) scale(0.840 1)" font-size="19.50" font-weight="bold" fill="#000">80</text><text transform="translate(1346.04 634.79) scale(0.840 1)" font-size="19.50" font-weight="bold" fill="#000">60</text><text transform="translate(1372.81 634.79) scale(0.840 1)" font-size="19.50" font-weight="bold" fill="#000">40</text><text transform="translate(1400.58 634.79) scale(0.840 1)" font-size="19.50" font-weight="bold" fill="#000">20</text><text transform="translate(1167.11 662.24) scale(0.830 1)" font-size="22.00" font-weight="bold" fill="#000">x/mm</text><text transform="translate(1343.45 660.57) scale(0.830 1)" font-size="22.00" font-weight="bold" fill="#000">y/mm</text><text transform="translate(1474.6 27.2) scale(1.03 1)" font-size="17" font-weight="bold">I<tspan font-size="12.2" dy="10.6" dx="0.8" letter-spacing="2">bλ</tspan><tspan dy="-10.6" dx="-1">/[W/(m</tspan><tspan font-size="12" dy="-8.7">2</tspan><tspan dy="8.7">-Sr)]</tspan></text><line x1="693.00" y1="148.10" x2="697.00" y2="148.10" stroke="#222" stroke-width="1.20"/><line x1="715.00" y1="148.10" x2="719.00" y2="148.10" stroke="#222" stroke-width="1.20"/><line x1="693.00" y1="240.50" x2="697.00" y2="240.50" stroke="#222" stroke-width="1.20"/><line x1="715.00" y1="240.50" x2="719.00" y2="240.50" stroke="#222" stroke-width="1.20"/><line x1="693.00" y1="333.00" x2="697.00" y2="333.00" stroke="#222" stroke-width="1.20"/><line x1="715.00" y1="333.00" x2="719.00" y2="333.00" stroke="#222" stroke-width="1.20"/><line x1="693.00" y1="425.40" x2="697.00" y2="425.40" stroke="#222" stroke-width="1.20"/><line x1="715.00" y1="425.40" x2="719.00" y2="425.40" stroke="#222" stroke-width="1.20"/><line x1="693.00" y1="517.80" x2="697.00" y2="517.80" stroke="#222" stroke-width="1.20"/><line x1="715.00" y1="517.80" x2="719.00" y2="517.80" stroke="#222" stroke-width="1.20"/><line x1="1520.50" y1="98.90" x2="1524.50" y2="98.90" stroke="#333" stroke-width="1.20"/><line x1="1541.50" y1="98.90" x2="1545.50" y2="98.90" stroke="#333" stroke-width="1.20"/><line x1="1520.50" y1="171.00" x2="1524.50" y2="171.00" stroke="#333" stroke-width="1.20"/><line x1="1541.50" y1="171.00" x2="1545.50" y2="171.00" stroke="#333" stroke-width="1.20"/><line x1="1520.50" y1="243.10" x2="1524.50" y2="243.10" stroke="#333" stroke-width="1.20"/><line x1="1541.50" y1="243.10" x2="1545.50" y2="243.10" stroke="#333" stroke-width="1.20"/><line x1="1520.50" y1="315.20" x2="1524.50" y2="315.20" stroke="#333" stroke-width="1.20"/><line x1="1541.50" y1="315.20" x2="1545.50" y2="315.20" stroke="#333" stroke-width="1.20"/><line x1="1520.50" y1="387.20" x2="1524.50" y2="387.20" stroke="#333" stroke-width="1.20"/><line x1="1541.50" y1="387.20" x2="1545.50" y2="387.20" stroke="#333" stroke-width="1.20"/><line x1="1520.50" y1="459.30" x2="1524.50" y2="459.30" stroke="#333" stroke-width="1.20"/><line x1="1541.50" y1="459.30" x2="1545.50" y2="459.30" stroke="#333" stroke-width="1.20"/><line x1="1520.50" y1="531.40" x2="1524.50" y2="531.40" stroke="#333" stroke-width="1.20"/><line x1="1541.50" y1="531.40" x2="1545.50" y2="531.40" stroke="#333" stroke-width="1.20"/></svg>
</div></body></html>
